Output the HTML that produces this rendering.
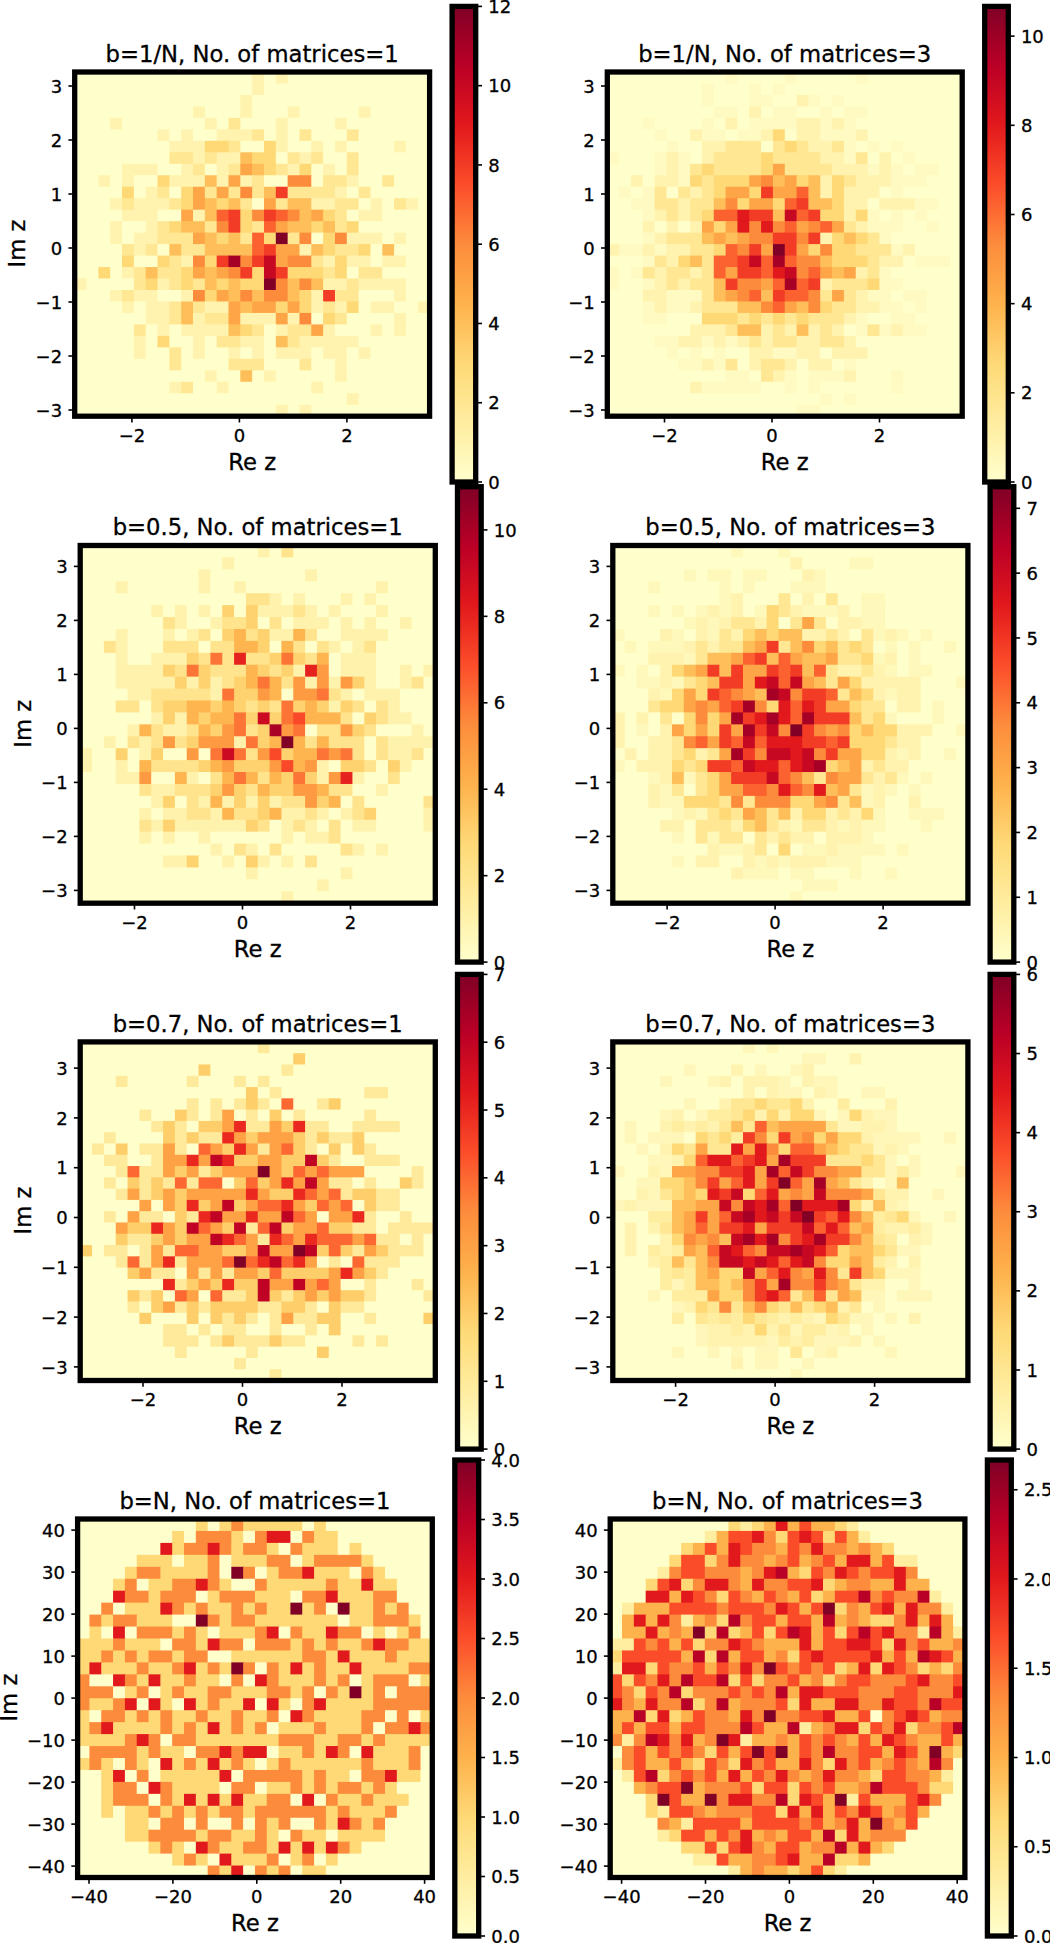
<!DOCTYPE html>
<html><head><meta charset="utf-8"><title>Eigenvalue density heatmaps</title>
<style>html,body{margin:0;padding:0;background:#fff;overflow:hidden}svg{display:block}text{fill:#000;stroke:#000;stroke-width:.3px}</style></head>
<body>
<svg width="1050" height="1943" viewBox="0 0 1050 1943">
<defs><linearGradient id="g" x1="0" y1="1" x2="0" y2="0">
<stop offset="0.0000" stop-color="#ffffcc"/>
<stop offset="0.1250" stop-color="#ffeda0"/>
<stop offset="0.2500" stop-color="#fed976"/>
<stop offset="0.3750" stop-color="#feb24c"/>
<stop offset="0.5000" stop-color="#fd8c3c"/>
<stop offset="0.6250" stop-color="#fc4d2a"/>
<stop offset="0.7500" stop-color="#e2191c"/>
<stop offset="0.8750" stop-color="#bb0026"/>
<stop offset="1.0000" stop-color="#800026"/>
</linearGradient></defs>
<rect width="1050" height="1943" fill="#fff"/>
<g font-family="'DejaVu Sans','Liberation Sans',sans-serif">
<g>
<rect x="74.70" y="72.00" width="354.90" height="344.20" fill="#ffffcc"/>
<rect x="74.70" y="72.00" width="178.45" height="12.47" fill="#ffffcc"/>
<rect x="252.15" y="72.00" width="12.83" height="12.47" fill="#fff3af"/>
<rect x="263.98" y="72.00" width="12.83" height="12.47" fill="#ffffcc"/>
<rect x="275.81" y="72.00" width="12.83" height="12.47" fill="#fff3af"/>
<rect x="287.64" y="72.00" width="141.96" height="12.47" fill="#ffffcc"/>
<rect x="74.70" y="83.47" width="178.45" height="12.47" fill="#ffffcc"/>
<rect x="252.15" y="83.47" width="12.83" height="12.47" fill="#fff3af"/>
<rect x="263.98" y="83.47" width="165.62" height="12.47" fill="#ffffcc"/>
<rect x="74.70" y="94.95" width="166.62" height="12.47" fill="#ffffcc"/>
<rect x="240.32" y="94.95" width="12.83" height="12.47" fill="#fff3af"/>
<rect x="252.15" y="94.95" width="177.45" height="12.47" fill="#ffffcc"/>
<rect x="74.70" y="106.42" width="119.30" height="12.47" fill="#ffffcc"/>
<rect x="193.00" y="106.42" width="12.83" height="12.47" fill="#fff3af"/>
<rect x="204.83" y="106.42" width="36.49" height="12.47" fill="#ffffcc"/>
<rect x="240.32" y="106.42" width="12.83" height="12.47" fill="#fff3af"/>
<rect x="252.15" y="106.42" width="36.49" height="12.47" fill="#ffffcc"/>
<rect x="287.64" y="106.42" width="12.83" height="12.47" fill="#fff3af"/>
<rect x="299.47" y="106.42" width="60.15" height="12.47" fill="#ffffcc"/>
<rect x="358.62" y="106.42" width="12.83" height="12.47" fill="#fff3af"/>
<rect x="370.45" y="106.42" width="59.15" height="12.47" fill="#ffffcc"/>
<rect x="74.70" y="117.89" width="36.49" height="12.47" fill="#ffffcc"/>
<rect x="110.19" y="117.89" width="12.83" height="12.47" fill="#fff3af"/>
<rect x="122.02" y="117.89" width="83.81" height="12.47" fill="#ffffcc"/>
<rect x="204.83" y="117.89" width="12.83" height="12.47" fill="#fff3af"/>
<rect x="216.66" y="117.89" width="12.83" height="12.47" fill="#ffffcc"/>
<rect x="228.49" y="117.89" width="12.83" height="12.47" fill="#ffe793"/>
<rect x="240.32" y="117.89" width="36.49" height="12.47" fill="#ffffcc"/>
<rect x="275.81" y="117.89" width="12.83" height="12.47" fill="#fff3af"/>
<rect x="287.64" y="117.89" width="48.32" height="12.47" fill="#ffffcc"/>
<rect x="334.96" y="117.89" width="12.83" height="12.47" fill="#fff3af"/>
<rect x="346.79" y="117.89" width="82.81" height="12.47" fill="#ffffcc"/>
<rect x="74.70" y="129.37" width="83.81" height="12.47" fill="#ffffcc"/>
<rect x="157.51" y="129.37" width="12.83" height="12.47" fill="#fff3af"/>
<rect x="169.34" y="129.37" width="12.83" height="12.47" fill="#ffffcc"/>
<rect x="181.17" y="129.37" width="12.83" height="12.47" fill="#fff3af"/>
<rect x="193.00" y="129.37" width="24.66" height="12.47" fill="#ffffcc"/>
<rect x="216.66" y="129.37" width="36.49" height="12.47" fill="#fff3af"/>
<rect x="252.15" y="129.37" width="12.83" height="12.47" fill="#ffe793"/>
<rect x="263.98" y="129.37" width="12.83" height="12.47" fill="#ffffcc"/>
<rect x="275.81" y="129.37" width="12.83" height="12.47" fill="#fff3af"/>
<rect x="287.64" y="129.37" width="12.83" height="12.47" fill="#ffffcc"/>
<rect x="299.47" y="129.37" width="12.83" height="12.47" fill="#ffe793"/>
<rect x="311.30" y="129.37" width="36.49" height="12.47" fill="#ffffcc"/>
<rect x="346.79" y="129.37" width="12.83" height="12.47" fill="#ffe793"/>
<rect x="358.62" y="129.37" width="70.98" height="12.47" fill="#ffffcc"/>
<rect x="74.70" y="140.84" width="95.64" height="12.47" fill="#ffffcc"/>
<rect x="169.34" y="140.84" width="36.49" height="12.47" fill="#fff3af"/>
<rect x="204.83" y="140.84" width="24.66" height="12.47" fill="#fed976"/>
<rect x="228.49" y="140.84" width="12.83" height="12.47" fill="#ffe793"/>
<rect x="240.32" y="140.84" width="24.66" height="12.47" fill="#ffffcc"/>
<rect x="263.98" y="140.84" width="12.83" height="12.47" fill="#fed976"/>
<rect x="275.81" y="140.84" width="12.83" height="12.47" fill="#fff3af"/>
<rect x="287.64" y="140.84" width="24.66" height="12.47" fill="#ffffcc"/>
<rect x="311.30" y="140.84" width="12.83" height="12.47" fill="#fff3af"/>
<rect x="323.13" y="140.84" width="12.83" height="12.47" fill="#ffffcc"/>
<rect x="334.96" y="140.84" width="12.83" height="12.47" fill="#fff3af"/>
<rect x="346.79" y="140.84" width="48.32" height="12.47" fill="#ffffcc"/>
<rect x="394.11" y="140.84" width="12.83" height="12.47" fill="#fff3af"/>
<rect x="405.94" y="140.84" width="23.66" height="12.47" fill="#ffffcc"/>
<rect x="74.70" y="152.31" width="95.64" height="12.47" fill="#ffffcc"/>
<rect x="169.34" y="152.31" width="24.66" height="12.47" fill="#ffe793"/>
<rect x="193.00" y="152.31" width="12.83" height="12.47" fill="#fff3af"/>
<rect x="204.83" y="152.31" width="12.83" height="12.47" fill="#ffe793"/>
<rect x="216.66" y="152.31" width="24.66" height="12.47" fill="#fff3af"/>
<rect x="240.32" y="152.31" width="12.83" height="12.47" fill="#febf5a"/>
<rect x="252.15" y="152.31" width="24.66" height="12.47" fill="#fed976"/>
<rect x="275.81" y="152.31" width="12.83" height="12.47" fill="#ffffcc"/>
<rect x="287.64" y="152.31" width="12.83" height="12.47" fill="#ffe793"/>
<rect x="299.47" y="152.31" width="12.83" height="12.47" fill="#fff3af"/>
<rect x="311.30" y="152.31" width="12.83" height="12.47" fill="#ffe793"/>
<rect x="323.13" y="152.31" width="24.66" height="12.47" fill="#ffffcc"/>
<rect x="346.79" y="152.31" width="12.83" height="12.47" fill="#ffe793"/>
<rect x="358.62" y="152.31" width="70.98" height="12.47" fill="#ffffcc"/>
<rect x="74.70" y="163.79" width="48.32" height="12.47" fill="#ffffcc"/>
<rect x="122.02" y="163.79" width="36.49" height="12.47" fill="#fff3af"/>
<rect x="157.51" y="163.79" width="24.66" height="12.47" fill="#ffffcc"/>
<rect x="181.17" y="163.79" width="12.83" height="12.47" fill="#fff3af"/>
<rect x="193.00" y="163.79" width="12.83" height="12.47" fill="#ffe793"/>
<rect x="204.83" y="163.79" width="12.83" height="12.47" fill="#ffffcc"/>
<rect x="216.66" y="163.79" width="12.83" height="12.47" fill="#fff3af"/>
<rect x="228.49" y="163.79" width="12.83" height="12.47" fill="#ffe793"/>
<rect x="240.32" y="163.79" width="12.83" height="12.47" fill="#fea647"/>
<rect x="252.15" y="163.79" width="12.83" height="12.47" fill="#febf5a"/>
<rect x="263.98" y="163.79" width="12.83" height="12.47" fill="#fed976"/>
<rect x="275.81" y="163.79" width="12.83" height="12.47" fill="#ffe793"/>
<rect x="287.64" y="163.79" width="12.83" height="12.47" fill="#fff3af"/>
<rect x="299.47" y="163.79" width="12.83" height="12.47" fill="#fed976"/>
<rect x="311.30" y="163.79" width="12.83" height="12.47" fill="#ffffcc"/>
<rect x="323.13" y="163.79" width="12.83" height="12.47" fill="#fff3af"/>
<rect x="334.96" y="163.79" width="12.83" height="12.47" fill="#ffffcc"/>
<rect x="346.79" y="163.79" width="12.83" height="12.47" fill="#ffe793"/>
<rect x="358.62" y="163.79" width="70.98" height="12.47" fill="#ffffcc"/>
<rect x="74.70" y="175.26" width="24.66" height="12.47" fill="#ffffcc"/>
<rect x="98.36" y="175.26" width="12.83" height="12.47" fill="#fff3af"/>
<rect x="110.19" y="175.26" width="12.83" height="12.47" fill="#ffffcc"/>
<rect x="122.02" y="175.26" width="12.83" height="12.47" fill="#fff3af"/>
<rect x="133.85" y="175.26" width="24.66" height="12.47" fill="#ffffcc"/>
<rect x="157.51" y="175.26" width="12.83" height="12.47" fill="#fed976"/>
<rect x="169.34" y="175.26" width="36.49" height="12.47" fill="#fff3af"/>
<rect x="204.83" y="175.26" width="12.83" height="12.47" fill="#febf5a"/>
<rect x="216.66" y="175.26" width="12.83" height="12.47" fill="#fff3af"/>
<rect x="228.49" y="175.26" width="12.83" height="12.47" fill="#fea647"/>
<rect x="240.32" y="175.26" width="12.83" height="12.47" fill="#fff3af"/>
<rect x="252.15" y="175.26" width="12.83" height="12.47" fill="#ffe793"/>
<rect x="263.98" y="175.26" width="24.66" height="12.47" fill="#ffffcc"/>
<rect x="287.64" y="175.26" width="24.66" height="12.47" fill="#fd8b3c"/>
<rect x="311.30" y="175.26" width="12.83" height="12.47" fill="#ffffcc"/>
<rect x="323.13" y="175.26" width="24.66" height="12.47" fill="#ffe793"/>
<rect x="346.79" y="175.26" width="12.83" height="12.47" fill="#fff3af"/>
<rect x="358.62" y="175.26" width="24.66" height="12.47" fill="#ffffcc"/>
<rect x="382.28" y="175.26" width="12.83" height="12.47" fill="#ffe793"/>
<rect x="394.11" y="175.26" width="35.49" height="12.47" fill="#ffffcc"/>
<rect x="74.70" y="186.73" width="48.32" height="12.47" fill="#ffffcc"/>
<rect x="122.02" y="186.73" width="12.83" height="12.47" fill="#fed976"/>
<rect x="133.85" y="186.73" width="12.83" height="12.47" fill="#ffffcc"/>
<rect x="145.68" y="186.73" width="12.83" height="12.47" fill="#fff3af"/>
<rect x="157.51" y="186.73" width="12.83" height="12.47" fill="#ffe793"/>
<rect x="169.34" y="186.73" width="12.83" height="12.47" fill="#ffffcc"/>
<rect x="181.17" y="186.73" width="12.83" height="12.47" fill="#fed976"/>
<rect x="193.00" y="186.73" width="12.83" height="12.47" fill="#fea647"/>
<rect x="204.83" y="186.73" width="12.83" height="12.47" fill="#ffe793"/>
<rect x="216.66" y="186.73" width="12.83" height="12.47" fill="#fea647"/>
<rect x="228.49" y="186.73" width="12.83" height="12.47" fill="#ffe793"/>
<rect x="240.32" y="186.73" width="12.83" height="12.47" fill="#fd8b3c"/>
<rect x="252.15" y="186.73" width="12.83" height="12.47" fill="#ffe793"/>
<rect x="263.98" y="186.73" width="12.83" height="12.47" fill="#febf5a"/>
<rect x="275.81" y="186.73" width="12.83" height="12.47" fill="#f33c25"/>
<rect x="287.64" y="186.73" width="48.32" height="12.47" fill="#ffe793"/>
<rect x="334.96" y="186.73" width="12.83" height="12.47" fill="#fff3af"/>
<rect x="346.79" y="186.73" width="12.83" height="12.47" fill="#ffffcc"/>
<rect x="358.62" y="186.73" width="12.83" height="12.47" fill="#ffe793"/>
<rect x="370.45" y="186.73" width="59.15" height="12.47" fill="#ffffcc"/>
<rect x="74.70" y="198.21" width="36.49" height="12.47" fill="#ffffcc"/>
<rect x="110.19" y="198.21" width="12.83" height="12.47" fill="#fff3af"/>
<rect x="122.02" y="198.21" width="12.83" height="12.47" fill="#ffe793"/>
<rect x="133.85" y="198.21" width="36.49" height="12.47" fill="#fff3af"/>
<rect x="169.34" y="198.21" width="12.83" height="12.47" fill="#ffe793"/>
<rect x="181.17" y="198.21" width="12.83" height="12.47" fill="#fed976"/>
<rect x="193.00" y="198.21" width="12.83" height="12.47" fill="#fea647"/>
<rect x="204.83" y="198.21" width="12.83" height="12.47" fill="#febf5a"/>
<rect x="216.66" y="198.21" width="12.83" height="12.47" fill="#fed976"/>
<rect x="228.49" y="198.21" width="12.83" height="12.47" fill="#febf5a"/>
<rect x="240.32" y="198.21" width="12.83" height="12.47" fill="#ffe793"/>
<rect x="252.15" y="198.21" width="12.83" height="12.47" fill="#ffffcc"/>
<rect x="263.98" y="198.21" width="12.83" height="12.47" fill="#fea647"/>
<rect x="275.81" y="198.21" width="12.83" height="12.47" fill="#ffe793"/>
<rect x="287.64" y="198.21" width="24.66" height="12.47" fill="#febf5a"/>
<rect x="311.30" y="198.21" width="24.66" height="12.47" fill="#fff3af"/>
<rect x="334.96" y="198.21" width="24.66" height="12.47" fill="#ffe793"/>
<rect x="358.62" y="198.21" width="12.83" height="12.47" fill="#ffffcc"/>
<rect x="370.45" y="198.21" width="12.83" height="12.47" fill="#fff3af"/>
<rect x="382.28" y="198.21" width="12.83" height="12.47" fill="#ffffcc"/>
<rect x="394.11" y="198.21" width="12.83" height="12.47" fill="#ffe793"/>
<rect x="405.94" y="198.21" width="12.83" height="12.47" fill="#fff3af"/>
<rect x="417.77" y="198.21" width="11.83" height="12.47" fill="#ffffcc"/>
<rect x="74.70" y="209.68" width="48.32" height="12.47" fill="#ffffcc"/>
<rect x="122.02" y="209.68" width="36.49" height="12.47" fill="#fff3af"/>
<rect x="157.51" y="209.68" width="24.66" height="12.47" fill="#ffffcc"/>
<rect x="181.17" y="209.68" width="12.83" height="12.47" fill="#fea647"/>
<rect x="193.00" y="209.68" width="12.83" height="12.47" fill="#fff3af"/>
<rect x="204.83" y="209.68" width="12.83" height="12.47" fill="#febf5a"/>
<rect x="216.66" y="209.68" width="12.83" height="12.47" fill="#fc6230"/>
<rect x="228.49" y="209.68" width="12.83" height="12.47" fill="#f33c25"/>
<rect x="240.32" y="209.68" width="12.83" height="12.47" fill="#fed976"/>
<rect x="252.15" y="209.68" width="12.83" height="12.47" fill="#fd8b3c"/>
<rect x="263.98" y="209.68" width="12.83" height="12.47" fill="#f33c25"/>
<rect x="275.81" y="209.68" width="12.83" height="12.47" fill="#fc6230"/>
<rect x="287.64" y="209.68" width="12.83" height="12.47" fill="#fd8b3c"/>
<rect x="299.47" y="209.68" width="12.83" height="12.47" fill="#febf5a"/>
<rect x="311.30" y="209.68" width="12.83" height="12.47" fill="#fea647"/>
<rect x="323.13" y="209.68" width="12.83" height="12.47" fill="#fed976"/>
<rect x="334.96" y="209.68" width="12.83" height="12.47" fill="#ffe793"/>
<rect x="346.79" y="209.68" width="12.83" height="12.47" fill="#ffffcc"/>
<rect x="358.62" y="209.68" width="24.66" height="12.47" fill="#fff3af"/>
<rect x="382.28" y="209.68" width="47.32" height="12.47" fill="#ffffcc"/>
<rect x="74.70" y="221.15" width="36.49" height="12.47" fill="#ffffcc"/>
<rect x="110.19" y="221.15" width="12.83" height="12.47" fill="#fff3af"/>
<rect x="122.02" y="221.15" width="24.66" height="12.47" fill="#ffffcc"/>
<rect x="145.68" y="221.15" width="12.83" height="12.47" fill="#fff3af"/>
<rect x="157.51" y="221.15" width="12.83" height="12.47" fill="#ffe793"/>
<rect x="169.34" y="221.15" width="12.83" height="12.47" fill="#fed976"/>
<rect x="181.17" y="221.15" width="24.66" height="12.47" fill="#febf5a"/>
<rect x="204.83" y="221.15" width="12.83" height="12.47" fill="#ffe793"/>
<rect x="216.66" y="221.15" width="12.83" height="12.47" fill="#fd8b3c"/>
<rect x="228.49" y="221.15" width="12.83" height="12.47" fill="#f33c25"/>
<rect x="240.32" y="221.15" width="12.83" height="12.47" fill="#fed976"/>
<rect x="252.15" y="221.15" width="12.83" height="12.47" fill="#ffe793"/>
<rect x="263.98" y="221.15" width="12.83" height="12.47" fill="#fc6230"/>
<rect x="275.81" y="221.15" width="12.83" height="12.47" fill="#fea647"/>
<rect x="287.64" y="221.15" width="24.66" height="12.47" fill="#febf5a"/>
<rect x="311.30" y="221.15" width="12.83" height="12.47" fill="#fed976"/>
<rect x="323.13" y="221.15" width="12.83" height="12.47" fill="#febf5a"/>
<rect x="334.96" y="221.15" width="12.83" height="12.47" fill="#ffe793"/>
<rect x="346.79" y="221.15" width="12.83" height="12.47" fill="#fed976"/>
<rect x="358.62" y="221.15" width="70.98" height="12.47" fill="#ffffcc"/>
<rect x="74.70" y="232.63" width="36.49" height="12.47" fill="#ffffcc"/>
<rect x="110.19" y="232.63" width="12.83" height="12.47" fill="#fff3af"/>
<rect x="122.02" y="232.63" width="12.83" height="12.47" fill="#ffffcc"/>
<rect x="133.85" y="232.63" width="24.66" height="12.47" fill="#fff3af"/>
<rect x="157.51" y="232.63" width="36.49" height="12.47" fill="#ffe793"/>
<rect x="193.00" y="232.63" width="12.83" height="12.47" fill="#fea647"/>
<rect x="204.83" y="232.63" width="12.83" height="12.47" fill="#febf5a"/>
<rect x="216.66" y="232.63" width="12.83" height="12.47" fill="#fed976"/>
<rect x="228.49" y="232.63" width="12.83" height="12.47" fill="#febf5a"/>
<rect x="240.32" y="232.63" width="12.83" height="12.47" fill="#ffe793"/>
<rect x="252.15" y="232.63" width="12.83" height="12.47" fill="#fc6230"/>
<rect x="263.98" y="232.63" width="12.83" height="12.47" fill="#fed976"/>
<rect x="275.81" y="232.63" width="12.83" height="12.47" fill="#800026"/>
<rect x="287.64" y="232.63" width="12.83" height="12.47" fill="#ffe793"/>
<rect x="299.47" y="232.63" width="12.83" height="12.47" fill="#fd8b3c"/>
<rect x="311.30" y="232.63" width="12.83" height="12.47" fill="#ffffcc"/>
<rect x="323.13" y="232.63" width="12.83" height="12.47" fill="#fed976"/>
<rect x="334.96" y="232.63" width="12.83" height="12.47" fill="#fd8b3c"/>
<rect x="346.79" y="232.63" width="36.49" height="12.47" fill="#fff3af"/>
<rect x="382.28" y="232.63" width="12.83" height="12.47" fill="#ffffcc"/>
<rect x="394.11" y="232.63" width="12.83" height="12.47" fill="#fff3af"/>
<rect x="405.94" y="232.63" width="23.66" height="12.47" fill="#ffffcc"/>
<rect x="74.70" y="244.10" width="48.32" height="12.47" fill="#ffffcc"/>
<rect x="122.02" y="244.10" width="12.83" height="12.47" fill="#ffe793"/>
<rect x="133.85" y="244.10" width="12.83" height="12.47" fill="#fff3af"/>
<rect x="145.68" y="244.10" width="12.83" height="12.47" fill="#ffe793"/>
<rect x="157.51" y="244.10" width="12.83" height="12.47" fill="#ffffcc"/>
<rect x="169.34" y="244.10" width="12.83" height="12.47" fill="#febf5a"/>
<rect x="181.17" y="244.10" width="24.66" height="12.47" fill="#ffe793"/>
<rect x="204.83" y="244.10" width="48.32" height="12.47" fill="#febf5a"/>
<rect x="252.15" y="244.10" width="12.83" height="12.47" fill="#fc6230"/>
<rect x="263.98" y="244.10" width="12.83" height="12.47" fill="#f33c25"/>
<rect x="275.81" y="244.10" width="24.66" height="12.47" fill="#fea647"/>
<rect x="299.47" y="244.10" width="12.83" height="12.47" fill="#fff3af"/>
<rect x="311.30" y="244.10" width="12.83" height="12.47" fill="#febf5a"/>
<rect x="323.13" y="244.10" width="12.83" height="12.47" fill="#fed976"/>
<rect x="334.96" y="244.10" width="24.66" height="12.47" fill="#ffe793"/>
<rect x="358.62" y="244.10" width="12.83" height="12.47" fill="#fed976"/>
<rect x="370.45" y="244.10" width="12.83" height="12.47" fill="#ffffcc"/>
<rect x="382.28" y="244.10" width="12.83" height="12.47" fill="#febf5a"/>
<rect x="394.11" y="244.10" width="35.49" height="12.47" fill="#ffffcc"/>
<rect x="74.70" y="255.57" width="48.32" height="12.47" fill="#ffffcc"/>
<rect x="122.02" y="255.57" width="12.83" height="12.47" fill="#fed976"/>
<rect x="133.85" y="255.57" width="24.66" height="12.47" fill="#ffffcc"/>
<rect x="157.51" y="255.57" width="12.83" height="12.47" fill="#fed976"/>
<rect x="169.34" y="255.57" width="12.83" height="12.47" fill="#ffe793"/>
<rect x="181.17" y="255.57" width="12.83" height="12.47" fill="#fff3af"/>
<rect x="193.00" y="255.57" width="12.83" height="12.47" fill="#fd8b3c"/>
<rect x="204.83" y="255.57" width="12.83" height="12.47" fill="#fed976"/>
<rect x="216.66" y="255.57" width="12.83" height="12.47" fill="#f33c25"/>
<rect x="228.49" y="255.57" width="12.83" height="12.47" fill="#a70026"/>
<rect x="240.32" y="255.57" width="12.83" height="12.47" fill="#fd8b3c"/>
<rect x="252.15" y="255.57" width="12.83" height="12.47" fill="#f33c25"/>
<rect x="263.98" y="255.57" width="12.83" height="12.47" fill="#c70823"/>
<rect x="275.81" y="255.57" width="12.83" height="12.47" fill="#fea647"/>
<rect x="287.64" y="255.57" width="24.66" height="12.47" fill="#fd8b3c"/>
<rect x="311.30" y="255.57" width="12.83" height="12.47" fill="#ffe793"/>
<rect x="323.13" y="255.57" width="12.83" height="12.47" fill="#fff3af"/>
<rect x="334.96" y="255.57" width="12.83" height="12.47" fill="#fed976"/>
<rect x="346.79" y="255.57" width="24.66" height="12.47" fill="#fff3af"/>
<rect x="370.45" y="255.57" width="12.83" height="12.47" fill="#ffffcc"/>
<rect x="382.28" y="255.57" width="24.66" height="12.47" fill="#fff3af"/>
<rect x="405.94" y="255.57" width="23.66" height="12.47" fill="#ffffcc"/>
<rect x="74.70" y="267.05" width="24.66" height="12.47" fill="#ffffcc"/>
<rect x="98.36" y="267.05" width="12.83" height="12.47" fill="#fed976"/>
<rect x="110.19" y="267.05" width="12.83" height="12.47" fill="#ffffcc"/>
<rect x="122.02" y="267.05" width="12.83" height="12.47" fill="#fff3af"/>
<rect x="133.85" y="267.05" width="12.83" height="12.47" fill="#ffe793"/>
<rect x="145.68" y="267.05" width="12.83" height="12.47" fill="#febf5a"/>
<rect x="157.51" y="267.05" width="24.66" height="12.47" fill="#ffe793"/>
<rect x="181.17" y="267.05" width="12.83" height="12.47" fill="#fed976"/>
<rect x="193.00" y="267.05" width="12.83" height="12.47" fill="#fea647"/>
<rect x="204.83" y="267.05" width="12.83" height="12.47" fill="#febf5a"/>
<rect x="216.66" y="267.05" width="12.83" height="12.47" fill="#fea647"/>
<rect x="228.49" y="267.05" width="12.83" height="12.47" fill="#fd8b3c"/>
<rect x="240.32" y="267.05" width="12.83" height="12.47" fill="#f33c25"/>
<rect x="252.15" y="267.05" width="12.83" height="12.47" fill="#fed976"/>
<rect x="263.98" y="267.05" width="12.83" height="12.47" fill="#c70823"/>
<rect x="275.81" y="267.05" width="12.83" height="12.47" fill="#f33c25"/>
<rect x="287.64" y="267.05" width="36.49" height="12.47" fill="#fed976"/>
<rect x="323.13" y="267.05" width="12.83" height="12.47" fill="#ffe793"/>
<rect x="334.96" y="267.05" width="12.83" height="12.47" fill="#fed976"/>
<rect x="346.79" y="267.05" width="12.83" height="12.47" fill="#ffffcc"/>
<rect x="358.62" y="267.05" width="24.66" height="12.47" fill="#ffe793"/>
<rect x="382.28" y="267.05" width="47.32" height="12.47" fill="#ffffcc"/>
<rect x="74.70" y="278.52" width="12.83" height="12.47" fill="#fff3af"/>
<rect x="86.53" y="278.52" width="48.32" height="12.47" fill="#ffffcc"/>
<rect x="133.85" y="278.52" width="12.83" height="12.47" fill="#ffe793"/>
<rect x="145.68" y="278.52" width="12.83" height="12.47" fill="#fed976"/>
<rect x="157.51" y="278.52" width="12.83" height="12.47" fill="#fff3af"/>
<rect x="169.34" y="278.52" width="12.83" height="12.47" fill="#ffe793"/>
<rect x="181.17" y="278.52" width="12.83" height="12.47" fill="#fed976"/>
<rect x="193.00" y="278.52" width="12.83" height="12.47" fill="#ffe793"/>
<rect x="204.83" y="278.52" width="12.83" height="12.47" fill="#febf5a"/>
<rect x="216.66" y="278.52" width="12.83" height="12.47" fill="#fed976"/>
<rect x="228.49" y="278.52" width="12.83" height="12.47" fill="#febf5a"/>
<rect x="240.32" y="278.52" width="24.66" height="12.47" fill="#fed976"/>
<rect x="263.98" y="278.52" width="12.83" height="12.47" fill="#800026"/>
<rect x="275.81" y="278.52" width="12.83" height="12.47" fill="#fd8b3c"/>
<rect x="287.64" y="278.52" width="12.83" height="12.47" fill="#febf5a"/>
<rect x="299.47" y="278.52" width="12.83" height="12.47" fill="#fd8b3c"/>
<rect x="311.30" y="278.52" width="12.83" height="12.47" fill="#febf5a"/>
<rect x="323.13" y="278.52" width="24.66" height="12.47" fill="#fff3af"/>
<rect x="346.79" y="278.52" width="12.83" height="12.47" fill="#ffe793"/>
<rect x="358.62" y="278.52" width="48.32" height="12.47" fill="#fff3af"/>
<rect x="405.94" y="278.52" width="23.66" height="12.47" fill="#ffffcc"/>
<rect x="74.70" y="289.99" width="36.49" height="12.47" fill="#ffffcc"/>
<rect x="110.19" y="289.99" width="12.83" height="12.47" fill="#fff3af"/>
<rect x="122.02" y="289.99" width="12.83" height="12.47" fill="#ffe793"/>
<rect x="133.85" y="289.99" width="24.66" height="12.47" fill="#fff3af"/>
<rect x="157.51" y="289.99" width="24.66" height="12.47" fill="#ffffcc"/>
<rect x="181.17" y="289.99" width="12.83" height="12.47" fill="#fff3af"/>
<rect x="193.00" y="289.99" width="12.83" height="12.47" fill="#fd8b3c"/>
<rect x="204.83" y="289.99" width="12.83" height="12.47" fill="#fed976"/>
<rect x="216.66" y="289.99" width="12.83" height="12.47" fill="#fea647"/>
<rect x="228.49" y="289.99" width="12.83" height="12.47" fill="#febf5a"/>
<rect x="240.32" y="289.99" width="12.83" height="12.47" fill="#fd8b3c"/>
<rect x="252.15" y="289.99" width="12.83" height="12.47" fill="#febf5a"/>
<rect x="263.98" y="289.99" width="24.66" height="12.47" fill="#fd8b3c"/>
<rect x="287.64" y="289.99" width="12.83" height="12.47" fill="#febf5a"/>
<rect x="299.47" y="289.99" width="12.83" height="12.47" fill="#fed976"/>
<rect x="311.30" y="289.99" width="12.83" height="12.47" fill="#fff3af"/>
<rect x="323.13" y="289.99" width="12.83" height="12.47" fill="#f33c25"/>
<rect x="334.96" y="289.99" width="24.66" height="12.47" fill="#ffe793"/>
<rect x="358.62" y="289.99" width="36.49" height="12.47" fill="#ffffcc"/>
<rect x="394.11" y="289.99" width="12.83" height="12.47" fill="#fff3af"/>
<rect x="405.94" y="289.99" width="23.66" height="12.47" fill="#ffffcc"/>
<rect x="74.70" y="301.47" width="48.32" height="12.47" fill="#ffffcc"/>
<rect x="122.02" y="301.47" width="12.83" height="12.47" fill="#fff3af"/>
<rect x="133.85" y="301.47" width="12.83" height="12.47" fill="#ffffcc"/>
<rect x="145.68" y="301.47" width="24.66" height="12.47" fill="#fff3af"/>
<rect x="169.34" y="301.47" width="12.83" height="12.47" fill="#ffe793"/>
<rect x="181.17" y="301.47" width="12.83" height="12.47" fill="#febf5a"/>
<rect x="193.00" y="301.47" width="12.83" height="12.47" fill="#ffe793"/>
<rect x="204.83" y="301.47" width="24.66" height="12.47" fill="#fff3af"/>
<rect x="228.49" y="301.47" width="12.83" height="12.47" fill="#fea647"/>
<rect x="240.32" y="301.47" width="12.83" height="12.47" fill="#febf5a"/>
<rect x="252.15" y="301.47" width="24.66" height="12.47" fill="#fea647"/>
<rect x="275.81" y="301.47" width="12.83" height="12.47" fill="#fed976"/>
<rect x="287.64" y="301.47" width="12.83" height="12.47" fill="#fea647"/>
<rect x="299.47" y="301.47" width="12.83" height="12.47" fill="#fed976"/>
<rect x="311.30" y="301.47" width="12.83" height="12.47" fill="#fff3af"/>
<rect x="323.13" y="301.47" width="12.83" height="12.47" fill="#ffe793"/>
<rect x="334.96" y="301.47" width="12.83" height="12.47" fill="#fff3af"/>
<rect x="346.79" y="301.47" width="12.83" height="12.47" fill="#fed976"/>
<rect x="358.62" y="301.47" width="12.83" height="12.47" fill="#ffffcc"/>
<rect x="370.45" y="301.47" width="24.66" height="12.47" fill="#fff3af"/>
<rect x="394.11" y="301.47" width="24.66" height="12.47" fill="#ffffcc"/>
<rect x="417.77" y="301.47" width="11.83" height="12.47" fill="#fff3af"/>
<rect x="74.70" y="312.94" width="71.98" height="12.47" fill="#ffffcc"/>
<rect x="145.68" y="312.94" width="24.66" height="12.47" fill="#fff3af"/>
<rect x="169.34" y="312.94" width="12.83" height="12.47" fill="#ffe793"/>
<rect x="181.17" y="312.94" width="12.83" height="12.47" fill="#febf5a"/>
<rect x="193.00" y="312.94" width="12.83" height="12.47" fill="#fff3af"/>
<rect x="204.83" y="312.94" width="24.66" height="12.47" fill="#ffe793"/>
<rect x="228.49" y="312.94" width="12.83" height="12.47" fill="#fea647"/>
<rect x="240.32" y="312.94" width="36.49" height="12.47" fill="#fff3af"/>
<rect x="275.81" y="312.94" width="12.83" height="12.47" fill="#fea647"/>
<rect x="287.64" y="312.94" width="12.83" height="12.47" fill="#fff3af"/>
<rect x="299.47" y="312.94" width="12.83" height="12.47" fill="#fd8b3c"/>
<rect x="311.30" y="312.94" width="12.83" height="12.47" fill="#ffffcc"/>
<rect x="323.13" y="312.94" width="12.83" height="12.47" fill="#fed976"/>
<rect x="334.96" y="312.94" width="12.83" height="12.47" fill="#ffe793"/>
<rect x="346.79" y="312.94" width="48.32" height="12.47" fill="#ffffcc"/>
<rect x="394.11" y="312.94" width="12.83" height="12.47" fill="#fff3af"/>
<rect x="405.94" y="312.94" width="23.66" height="12.47" fill="#ffffcc"/>
<rect x="74.70" y="324.41" width="60.15" height="12.47" fill="#ffffcc"/>
<rect x="133.85" y="324.41" width="12.83" height="12.47" fill="#ffe793"/>
<rect x="145.68" y="324.41" width="12.83" height="12.47" fill="#ffffcc"/>
<rect x="157.51" y="324.41" width="12.83" height="12.47" fill="#fff3af"/>
<rect x="169.34" y="324.41" width="12.83" height="12.47" fill="#ffffcc"/>
<rect x="181.17" y="324.41" width="48.32" height="12.47" fill="#fff3af"/>
<rect x="228.49" y="324.41" width="12.83" height="12.47" fill="#febf5a"/>
<rect x="240.32" y="324.41" width="12.83" height="12.47" fill="#fed976"/>
<rect x="252.15" y="324.41" width="12.83" height="12.47" fill="#ffe793"/>
<rect x="263.98" y="324.41" width="12.83" height="12.47" fill="#ffffcc"/>
<rect x="275.81" y="324.41" width="12.83" height="12.47" fill="#fff3af"/>
<rect x="287.64" y="324.41" width="24.66" height="12.47" fill="#ffe793"/>
<rect x="311.30" y="324.41" width="12.83" height="12.47" fill="#fea647"/>
<rect x="323.13" y="324.41" width="12.83" height="12.47" fill="#fff3af"/>
<rect x="334.96" y="324.41" width="36.49" height="12.47" fill="#ffffcc"/>
<rect x="370.45" y="324.41" width="12.83" height="12.47" fill="#fff3af"/>
<rect x="382.28" y="324.41" width="12.83" height="12.47" fill="#ffffcc"/>
<rect x="394.11" y="324.41" width="12.83" height="12.47" fill="#fff3af"/>
<rect x="405.94" y="324.41" width="23.66" height="12.47" fill="#ffffcc"/>
<rect x="74.70" y="335.89" width="60.15" height="12.47" fill="#ffffcc"/>
<rect x="133.85" y="335.89" width="12.83" height="12.47" fill="#fff3af"/>
<rect x="145.68" y="335.89" width="12.83" height="12.47" fill="#ffffcc"/>
<rect x="157.51" y="335.89" width="12.83" height="12.47" fill="#fed976"/>
<rect x="169.34" y="335.89" width="24.66" height="12.47" fill="#ffffcc"/>
<rect x="193.00" y="335.89" width="12.83" height="12.47" fill="#fff3af"/>
<rect x="204.83" y="335.89" width="12.83" height="12.47" fill="#ffffcc"/>
<rect x="216.66" y="335.89" width="24.66" height="12.47" fill="#ffe793"/>
<rect x="240.32" y="335.89" width="24.66" height="12.47" fill="#fff3af"/>
<rect x="263.98" y="335.89" width="12.83" height="12.47" fill="#ffffcc"/>
<rect x="275.81" y="335.89" width="12.83" height="12.47" fill="#febf5a"/>
<rect x="287.64" y="335.89" width="12.83" height="12.47" fill="#ffe793"/>
<rect x="299.47" y="335.89" width="60.15" height="12.47" fill="#fff3af"/>
<rect x="358.62" y="335.89" width="70.98" height="12.47" fill="#ffffcc"/>
<rect x="74.70" y="347.36" width="60.15" height="12.47" fill="#ffffcc"/>
<rect x="133.85" y="347.36" width="12.83" height="12.47" fill="#fff3af"/>
<rect x="145.68" y="347.36" width="24.66" height="12.47" fill="#ffffcc"/>
<rect x="169.34" y="347.36" width="12.83" height="12.47" fill="#ffe793"/>
<rect x="181.17" y="347.36" width="12.83" height="12.47" fill="#ffffcc"/>
<rect x="193.00" y="347.36" width="12.83" height="12.47" fill="#fff3af"/>
<rect x="204.83" y="347.36" width="24.66" height="12.47" fill="#ffffcc"/>
<rect x="228.49" y="347.36" width="12.83" height="12.47" fill="#fff3af"/>
<rect x="240.32" y="347.36" width="12.83" height="12.47" fill="#ffffcc"/>
<rect x="252.15" y="347.36" width="12.83" height="12.47" fill="#fff3af"/>
<rect x="263.98" y="347.36" width="12.83" height="12.47" fill="#ffffcc"/>
<rect x="275.81" y="347.36" width="36.49" height="12.47" fill="#fff3af"/>
<rect x="311.30" y="347.36" width="12.83" height="12.47" fill="#ffffcc"/>
<rect x="323.13" y="347.36" width="24.66" height="12.47" fill="#fff3af"/>
<rect x="346.79" y="347.36" width="12.83" height="12.47" fill="#ffffcc"/>
<rect x="358.62" y="347.36" width="12.83" height="12.47" fill="#fff3af"/>
<rect x="370.45" y="347.36" width="59.15" height="12.47" fill="#ffffcc"/>
<rect x="74.70" y="358.83" width="95.64" height="12.47" fill="#ffffcc"/>
<rect x="169.34" y="358.83" width="12.83" height="12.47" fill="#ffe793"/>
<rect x="181.17" y="358.83" width="48.32" height="12.47" fill="#ffffcc"/>
<rect x="228.49" y="358.83" width="36.49" height="12.47" fill="#ffe793"/>
<rect x="263.98" y="358.83" width="36.49" height="12.47" fill="#ffffcc"/>
<rect x="299.47" y="358.83" width="12.83" height="12.47" fill="#ffe793"/>
<rect x="311.30" y="358.83" width="24.66" height="12.47" fill="#ffffcc"/>
<rect x="334.96" y="358.83" width="12.83" height="12.47" fill="#fff3af"/>
<rect x="346.79" y="358.83" width="82.81" height="12.47" fill="#ffffcc"/>
<rect x="74.70" y="370.31" width="131.13" height="12.47" fill="#ffffcc"/>
<rect x="204.83" y="370.31" width="12.83" height="12.47" fill="#fff3af"/>
<rect x="216.66" y="370.31" width="24.66" height="12.47" fill="#ffffcc"/>
<rect x="240.32" y="370.31" width="12.83" height="12.47" fill="#febf5a"/>
<rect x="252.15" y="370.31" width="12.83" height="12.47" fill="#ffffcc"/>
<rect x="263.98" y="370.31" width="12.83" height="12.47" fill="#fff3af"/>
<rect x="275.81" y="370.31" width="60.15" height="12.47" fill="#ffffcc"/>
<rect x="334.96" y="370.31" width="12.83" height="12.47" fill="#fff3af"/>
<rect x="346.79" y="370.31" width="82.81" height="12.47" fill="#ffffcc"/>
<rect x="74.70" y="381.78" width="95.64" height="12.47" fill="#ffffcc"/>
<rect x="169.34" y="381.78" width="12.83" height="12.47" fill="#fff3af"/>
<rect x="181.17" y="381.78" width="12.83" height="12.47" fill="#ffe793"/>
<rect x="193.00" y="381.78" width="24.66" height="12.47" fill="#ffffcc"/>
<rect x="216.66" y="381.78" width="12.83" height="12.47" fill="#fff3af"/>
<rect x="228.49" y="381.78" width="83.81" height="12.47" fill="#ffffcc"/>
<rect x="311.30" y="381.78" width="12.83" height="12.47" fill="#fff3af"/>
<rect x="323.13" y="381.78" width="106.47" height="12.47" fill="#ffffcc"/>
<rect x="74.70" y="393.25" width="273.09" height="12.47" fill="#ffffcc"/>
<rect x="346.79" y="393.25" width="12.83" height="12.47" fill="#fff3af"/>
<rect x="358.62" y="393.25" width="70.98" height="12.47" fill="#ffffcc"/>
<rect x="74.70" y="404.73" width="202.11" height="11.47" fill="#ffffcc"/>
<rect x="275.81" y="404.73" width="12.83" height="11.47" fill="#fff3af"/>
<rect x="287.64" y="404.73" width="12.83" height="11.47" fill="#ffffcc"/>
<rect x="299.47" y="404.73" width="12.83" height="11.47" fill="#fff3af"/>
<rect x="311.30" y="404.73" width="118.30" height="11.47" fill="#ffffcc"/>
<rect x="74.70" y="72.00" width="354.90" height="344.20" fill="none" stroke="#000" stroke-width="5.3"/>
<line x1="131.90" y1="416.20" x2="131.90" y2="422.50" stroke="#000" stroke-width="1.6"/>
<text x="131.90" y="441.90" font-size="18" text-anchor="middle" >−2</text>
<line x1="239.40" y1="416.20" x2="239.40" y2="422.50" stroke="#000" stroke-width="1.6"/>
<text x="239.40" y="441.90" font-size="18" text-anchor="middle" >0</text>
<line x1="346.90" y1="416.20" x2="346.90" y2="422.50" stroke="#000" stroke-width="1.6"/>
<text x="346.90" y="441.90" font-size="18" text-anchor="middle" >2</text>
<line x1="74.70" y1="86.00" x2="68.40" y2="86.00" stroke="#000" stroke-width="1.6"/>
<text x="62.10" y="92.60" font-size="18" text-anchor="end" >3</text>
<line x1="74.70" y1="140.00" x2="68.40" y2="140.00" stroke="#000" stroke-width="1.6"/>
<text x="62.10" y="146.60" font-size="18" text-anchor="end" >2</text>
<line x1="74.70" y1="194.00" x2="68.40" y2="194.00" stroke="#000" stroke-width="1.6"/>
<text x="62.10" y="200.60" font-size="18" text-anchor="end" >1</text>
<line x1="74.70" y1="248.00" x2="68.40" y2="248.00" stroke="#000" stroke-width="1.6"/>
<text x="62.10" y="254.60" font-size="18" text-anchor="end" >0</text>
<line x1="74.70" y1="302.00" x2="68.40" y2="302.00" stroke="#000" stroke-width="1.6"/>
<text x="62.10" y="308.60" font-size="18" text-anchor="end" >−1</text>
<line x1="74.70" y1="356.00" x2="68.40" y2="356.00" stroke="#000" stroke-width="1.6"/>
<text x="62.10" y="362.60" font-size="18" text-anchor="end" >−2</text>
<line x1="74.70" y1="410.00" x2="68.40" y2="410.00" stroke="#000" stroke-width="1.6"/>
<text x="62.10" y="416.60" font-size="18" text-anchor="end" >−3</text>
<text x="252.15" y="61.60" font-size="22.7" text-anchor="middle" >b=1/N, No. of matrices=1</text>
<text x="252.15" y="470.00" font-size="22.7" text-anchor="middle" >Re z</text>
<text transform="translate(25.10,243.50) rotate(-90)" font-size="22.7" text-anchor="middle" >Im z</text>
<rect x="452.10" y="6.40" width="23.60" height="475.60" fill="url(#g)" stroke="#000" stroke-width="5.3"/>
<line x1="475.70" y1="482.00" x2="482.00" y2="482.00" stroke="#000" stroke-width="1.6"/>
<text x="488.30" y="488.60" font-size="18" >0</text>
<line x1="475.70" y1="402.73" x2="482.00" y2="402.73" stroke="#000" stroke-width="1.6"/>
<text x="488.30" y="409.33" font-size="18" >2</text>
<line x1="475.70" y1="323.47" x2="482.00" y2="323.47" stroke="#000" stroke-width="1.6"/>
<text x="488.30" y="330.07" font-size="18" >4</text>
<line x1="475.70" y1="244.20" x2="482.00" y2="244.20" stroke="#000" stroke-width="1.6"/>
<text x="488.30" y="250.80" font-size="18" >6</text>
<line x1="475.70" y1="164.93" x2="482.00" y2="164.93" stroke="#000" stroke-width="1.6"/>
<text x="488.30" y="171.53" font-size="18" >8</text>
<line x1="475.70" y1="85.67" x2="482.00" y2="85.67" stroke="#000" stroke-width="1.6"/>
<text x="488.30" y="92.27" font-size="18" >10</text>
<line x1="475.70" y1="6.40" x2="482.00" y2="6.40" stroke="#000" stroke-width="1.6"/>
<text x="488.30" y="13.00" font-size="18" >12</text>
</g>
<g>
<rect x="607.30" y="72.00" width="354.90" height="344.20" fill="#ffffcc"/>
<rect x="607.30" y="72.00" width="119.30" height="12.47" fill="#ffffcc"/>
<rect x="725.60" y="72.00" width="12.83" height="12.47" fill="#fffac1"/>
<rect x="737.43" y="72.00" width="48.32" height="12.47" fill="#ffffcc"/>
<rect x="784.75" y="72.00" width="12.83" height="12.47" fill="#fffac1"/>
<rect x="796.58" y="72.00" width="60.15" height="12.47" fill="#ffffcc"/>
<rect x="855.73" y="72.00" width="12.83" height="12.47" fill="#fffac1"/>
<rect x="867.56" y="72.00" width="94.64" height="12.47" fill="#ffffcc"/>
<rect x="607.30" y="83.47" width="95.64" height="12.47" fill="#ffffcc"/>
<rect x="701.94" y="83.47" width="12.83" height="12.47" fill="#fffac1"/>
<rect x="713.77" y="83.47" width="36.49" height="12.47" fill="#ffffcc"/>
<rect x="749.26" y="83.47" width="12.83" height="12.47" fill="#fffac1"/>
<rect x="761.09" y="83.47" width="12.83" height="12.47" fill="#ffffcc"/>
<rect x="772.92" y="83.47" width="12.83" height="12.47" fill="#fffac1"/>
<rect x="784.75" y="83.47" width="177.45" height="12.47" fill="#ffffcc"/>
<rect x="607.30" y="94.95" width="95.64" height="12.47" fill="#ffffcc"/>
<rect x="701.94" y="94.95" width="12.83" height="12.47" fill="#fffac1"/>
<rect x="713.77" y="94.95" width="36.49" height="12.47" fill="#ffffcc"/>
<rect x="749.26" y="94.95" width="24.66" height="12.47" fill="#fffac1"/>
<rect x="772.92" y="94.95" width="24.66" height="12.47" fill="#ffffcc"/>
<rect x="796.58" y="94.95" width="12.83" height="12.47" fill="#fff3af"/>
<rect x="808.41" y="94.95" width="12.83" height="12.47" fill="#fffac1"/>
<rect x="820.24" y="94.95" width="12.83" height="12.47" fill="#ffffcc"/>
<rect x="832.07" y="94.95" width="12.83" height="12.47" fill="#fffac1"/>
<rect x="843.90" y="94.95" width="118.30" height="12.47" fill="#ffffcc"/>
<rect x="607.30" y="106.42" width="107.47" height="12.47" fill="#ffffcc"/>
<rect x="713.77" y="106.42" width="24.66" height="12.47" fill="#fffac1"/>
<rect x="737.43" y="106.42" width="12.83" height="12.47" fill="#ffffcc"/>
<rect x="749.26" y="106.42" width="12.83" height="12.47" fill="#fff3af"/>
<rect x="761.09" y="106.42" width="12.83" height="12.47" fill="#ffffcc"/>
<rect x="772.92" y="106.42" width="24.66" height="12.47" fill="#fffac1"/>
<rect x="796.58" y="106.42" width="24.66" height="12.47" fill="#ffffcc"/>
<rect x="820.24" y="106.42" width="12.83" height="12.47" fill="#fffac1"/>
<rect x="832.07" y="106.42" width="12.83" height="12.47" fill="#ffffcc"/>
<rect x="843.90" y="106.42" width="24.66" height="12.47" fill="#fffac1"/>
<rect x="867.56" y="106.42" width="94.64" height="12.47" fill="#ffffcc"/>
<rect x="607.30" y="117.89" width="36.49" height="12.47" fill="#ffffcc"/>
<rect x="642.79" y="117.89" width="12.83" height="12.47" fill="#fffac1"/>
<rect x="654.62" y="117.89" width="48.32" height="12.47" fill="#ffffcc"/>
<rect x="701.94" y="117.89" width="12.83" height="12.47" fill="#fffac1"/>
<rect x="713.77" y="117.89" width="12.83" height="12.47" fill="#ffffcc"/>
<rect x="725.60" y="117.89" width="12.83" height="12.47" fill="#fff3af"/>
<rect x="737.43" y="117.89" width="12.83" height="12.47" fill="#ffffcc"/>
<rect x="749.26" y="117.89" width="48.32" height="12.47" fill="#fffac1"/>
<rect x="796.58" y="117.89" width="24.66" height="12.47" fill="#fff3af"/>
<rect x="820.24" y="117.89" width="12.83" height="12.47" fill="#fffac1"/>
<rect x="832.07" y="117.89" width="12.83" height="12.47" fill="#fff3af"/>
<rect x="843.90" y="117.89" width="12.83" height="12.47" fill="#fffac1"/>
<rect x="855.73" y="117.89" width="106.47" height="12.47" fill="#ffffcc"/>
<rect x="607.30" y="129.37" width="48.32" height="12.47" fill="#ffffcc"/>
<rect x="654.62" y="129.37" width="12.83" height="12.47" fill="#fffac1"/>
<rect x="666.45" y="129.37" width="24.66" height="12.47" fill="#ffffcc"/>
<rect x="690.11" y="129.37" width="12.83" height="12.47" fill="#fff3af"/>
<rect x="701.94" y="129.37" width="24.66" height="12.47" fill="#fffac1"/>
<rect x="725.60" y="129.37" width="12.83" height="12.47" fill="#ffffcc"/>
<rect x="737.43" y="129.37" width="24.66" height="12.47" fill="#fffac1"/>
<rect x="761.09" y="129.37" width="12.83" height="12.47" fill="#fff3af"/>
<rect x="772.92" y="129.37" width="12.83" height="12.47" fill="#fed976"/>
<rect x="784.75" y="129.37" width="12.83" height="12.47" fill="#ffffcc"/>
<rect x="796.58" y="129.37" width="24.66" height="12.47" fill="#fff3af"/>
<rect x="820.24" y="129.37" width="36.49" height="12.47" fill="#fffac1"/>
<rect x="855.73" y="129.37" width="12.83" height="12.47" fill="#fff3af"/>
<rect x="867.56" y="129.37" width="94.64" height="12.47" fill="#ffffcc"/>
<rect x="607.30" y="140.84" width="60.15" height="12.47" fill="#ffffcc"/>
<rect x="666.45" y="140.84" width="12.83" height="12.47" fill="#fffac1"/>
<rect x="678.28" y="140.84" width="24.66" height="12.47" fill="#ffffcc"/>
<rect x="701.94" y="140.84" width="24.66" height="12.47" fill="#fff3af"/>
<rect x="725.60" y="140.84" width="36.49" height="12.47" fill="#ffe793"/>
<rect x="761.09" y="140.84" width="12.83" height="12.47" fill="#ffffcc"/>
<rect x="772.92" y="140.84" width="12.83" height="12.47" fill="#ffe793"/>
<rect x="784.75" y="140.84" width="12.83" height="12.47" fill="#fed976"/>
<rect x="796.58" y="140.84" width="12.83" height="12.47" fill="#ffe793"/>
<rect x="808.41" y="140.84" width="24.66" height="12.47" fill="#fff3af"/>
<rect x="832.07" y="140.84" width="12.83" height="12.47" fill="#ffe793"/>
<rect x="843.90" y="140.84" width="12.83" height="12.47" fill="#fffac1"/>
<rect x="855.73" y="140.84" width="12.83" height="12.47" fill="#ffffcc"/>
<rect x="867.56" y="140.84" width="12.83" height="12.47" fill="#fffac1"/>
<rect x="879.39" y="140.84" width="12.83" height="12.47" fill="#ffffcc"/>
<rect x="891.22" y="140.84" width="12.83" height="12.47" fill="#fffac1"/>
<rect x="903.05" y="140.84" width="59.15" height="12.47" fill="#ffffcc"/>
<rect x="607.30" y="152.31" width="12.83" height="12.47" fill="#fffac1"/>
<rect x="619.13" y="152.31" width="36.49" height="12.47" fill="#ffffcc"/>
<rect x="654.62" y="152.31" width="12.83" height="12.47" fill="#fffac1"/>
<rect x="666.45" y="152.31" width="12.83" height="12.47" fill="#fff3af"/>
<rect x="678.28" y="152.31" width="12.83" height="12.47" fill="#fffac1"/>
<rect x="690.11" y="152.31" width="12.83" height="12.47" fill="#ffffcc"/>
<rect x="701.94" y="152.31" width="12.83" height="12.47" fill="#fff3af"/>
<rect x="713.77" y="152.31" width="48.32" height="12.47" fill="#ffe793"/>
<rect x="761.09" y="152.31" width="12.83" height="12.47" fill="#fed976"/>
<rect x="772.92" y="152.31" width="48.32" height="12.47" fill="#ffe793"/>
<rect x="820.24" y="152.31" width="24.66" height="12.47" fill="#fff3af"/>
<rect x="843.90" y="152.31" width="12.83" height="12.47" fill="#fffac1"/>
<rect x="855.73" y="152.31" width="12.83" height="12.47" fill="#ffe793"/>
<rect x="867.56" y="152.31" width="12.83" height="12.47" fill="#ffffcc"/>
<rect x="879.39" y="152.31" width="12.83" height="12.47" fill="#fff3af"/>
<rect x="891.22" y="152.31" width="12.83" height="12.47" fill="#ffffcc"/>
<rect x="903.05" y="152.31" width="12.83" height="12.47" fill="#fffac1"/>
<rect x="914.88" y="152.31" width="47.32" height="12.47" fill="#ffffcc"/>
<rect x="607.30" y="163.79" width="48.32" height="12.47" fill="#ffffcc"/>
<rect x="654.62" y="163.79" width="12.83" height="12.47" fill="#fffac1"/>
<rect x="666.45" y="163.79" width="12.83" height="12.47" fill="#fff3af"/>
<rect x="678.28" y="163.79" width="12.83" height="12.47" fill="#fffac1"/>
<rect x="690.11" y="163.79" width="12.83" height="12.47" fill="#ffe793"/>
<rect x="701.94" y="163.79" width="12.83" height="12.47" fill="#fed976"/>
<rect x="713.77" y="163.79" width="48.32" height="12.47" fill="#ffe793"/>
<rect x="761.09" y="163.79" width="12.83" height="12.47" fill="#fed976"/>
<rect x="772.92" y="163.79" width="12.83" height="12.47" fill="#fea647"/>
<rect x="784.75" y="163.79" width="48.32" height="12.47" fill="#ffe793"/>
<rect x="832.07" y="163.79" width="36.49" height="12.47" fill="#fff3af"/>
<rect x="867.56" y="163.79" width="12.83" height="12.47" fill="#fffac1"/>
<rect x="879.39" y="163.79" width="12.83" height="12.47" fill="#fff3af"/>
<rect x="891.22" y="163.79" width="12.83" height="12.47" fill="#fffac1"/>
<rect x="903.05" y="163.79" width="12.83" height="12.47" fill="#ffffcc"/>
<rect x="914.88" y="163.79" width="24.66" height="12.47" fill="#fffac1"/>
<rect x="938.54" y="163.79" width="23.66" height="12.47" fill="#ffffcc"/>
<rect x="607.30" y="175.26" width="24.66" height="12.47" fill="#ffffcc"/>
<rect x="630.96" y="175.26" width="12.83" height="12.47" fill="#fff3af"/>
<rect x="642.79" y="175.26" width="12.83" height="12.47" fill="#ffffcc"/>
<rect x="654.62" y="175.26" width="24.66" height="12.47" fill="#fff3af"/>
<rect x="678.28" y="175.26" width="12.83" height="12.47" fill="#fffac1"/>
<rect x="690.11" y="175.26" width="12.83" height="12.47" fill="#fed976"/>
<rect x="701.94" y="175.26" width="12.83" height="12.47" fill="#ffe793"/>
<rect x="713.77" y="175.26" width="36.49" height="12.47" fill="#fed976"/>
<rect x="749.26" y="175.26" width="12.83" height="12.47" fill="#fea647"/>
<rect x="761.09" y="175.26" width="12.83" height="12.47" fill="#fd8b3c"/>
<rect x="772.92" y="175.26" width="12.83" height="12.47" fill="#febf5a"/>
<rect x="784.75" y="175.26" width="12.83" height="12.47" fill="#fea647"/>
<rect x="796.58" y="175.26" width="12.83" height="12.47" fill="#fed976"/>
<rect x="808.41" y="175.26" width="12.83" height="12.47" fill="#febf5a"/>
<rect x="820.24" y="175.26" width="12.83" height="12.47" fill="#fff3af"/>
<rect x="832.07" y="175.26" width="12.83" height="12.47" fill="#fed976"/>
<rect x="843.90" y="175.26" width="12.83" height="12.47" fill="#ffe793"/>
<rect x="855.73" y="175.26" width="36.49" height="12.47" fill="#fff3af"/>
<rect x="891.22" y="175.26" width="36.49" height="12.47" fill="#fffac1"/>
<rect x="926.71" y="175.26" width="35.49" height="12.47" fill="#ffffcc"/>
<rect x="607.30" y="186.73" width="12.83" height="12.47" fill="#ffffcc"/>
<rect x="619.13" y="186.73" width="12.83" height="12.47" fill="#fffac1"/>
<rect x="630.96" y="186.73" width="12.83" height="12.47" fill="#ffffcc"/>
<rect x="642.79" y="186.73" width="12.83" height="12.47" fill="#fffac1"/>
<rect x="654.62" y="186.73" width="12.83" height="12.47" fill="#ffe793"/>
<rect x="666.45" y="186.73" width="12.83" height="12.47" fill="#ffffcc"/>
<rect x="678.28" y="186.73" width="12.83" height="12.47" fill="#ffe793"/>
<rect x="690.11" y="186.73" width="12.83" height="12.47" fill="#fff3af"/>
<rect x="701.94" y="186.73" width="12.83" height="12.47" fill="#ffe793"/>
<rect x="713.77" y="186.73" width="12.83" height="12.47" fill="#fed976"/>
<rect x="725.60" y="186.73" width="24.66" height="12.47" fill="#fea647"/>
<rect x="749.26" y="186.73" width="12.83" height="12.47" fill="#fed976"/>
<rect x="761.09" y="186.73" width="12.83" height="12.47" fill="#f33c25"/>
<rect x="772.92" y="186.73" width="24.66" height="12.47" fill="#fea647"/>
<rect x="796.58" y="186.73" width="12.83" height="12.47" fill="#fc6230"/>
<rect x="808.41" y="186.73" width="12.83" height="12.47" fill="#febf5a"/>
<rect x="820.24" y="186.73" width="12.83" height="12.47" fill="#fff3af"/>
<rect x="832.07" y="186.73" width="12.83" height="12.47" fill="#fed976"/>
<rect x="843.90" y="186.73" width="36.49" height="12.47" fill="#fff3af"/>
<rect x="879.39" y="186.73" width="12.83" height="12.47" fill="#ffffcc"/>
<rect x="891.22" y="186.73" width="12.83" height="12.47" fill="#fffac1"/>
<rect x="903.05" y="186.73" width="59.15" height="12.47" fill="#ffffcc"/>
<rect x="607.30" y="198.21" width="24.66" height="12.47" fill="#ffffcc"/>
<rect x="630.96" y="198.21" width="24.66" height="12.47" fill="#fffac1"/>
<rect x="654.62" y="198.21" width="24.66" height="12.47" fill="#ffe793"/>
<rect x="678.28" y="198.21" width="12.83" height="12.47" fill="#fff3af"/>
<rect x="690.11" y="198.21" width="24.66" height="12.47" fill="#ffe793"/>
<rect x="713.77" y="198.21" width="12.83" height="12.47" fill="#febf5a"/>
<rect x="725.60" y="198.21" width="12.83" height="12.47" fill="#fd8b3c"/>
<rect x="737.43" y="198.21" width="12.83" height="12.47" fill="#fed976"/>
<rect x="749.26" y="198.21" width="24.66" height="12.47" fill="#fea647"/>
<rect x="772.92" y="198.21" width="12.83" height="12.47" fill="#fed976"/>
<rect x="784.75" y="198.21" width="12.83" height="12.47" fill="#fc6230"/>
<rect x="796.58" y="198.21" width="12.83" height="12.47" fill="#f33c25"/>
<rect x="808.41" y="198.21" width="24.66" height="12.47" fill="#febf5a"/>
<rect x="832.07" y="198.21" width="12.83" height="12.47" fill="#fed976"/>
<rect x="843.90" y="198.21" width="24.66" height="12.47" fill="#fff3af"/>
<rect x="867.56" y="198.21" width="12.83" height="12.47" fill="#ffffcc"/>
<rect x="879.39" y="198.21" width="36.49" height="12.47" fill="#fff3af"/>
<rect x="914.88" y="198.21" width="24.66" height="12.47" fill="#fffac1"/>
<rect x="938.54" y="198.21" width="23.66" height="12.47" fill="#ffffcc"/>
<rect x="607.30" y="209.68" width="36.49" height="12.47" fill="#ffffcc"/>
<rect x="642.79" y="209.68" width="12.83" height="12.47" fill="#fffac1"/>
<rect x="654.62" y="209.68" width="12.83" height="12.47" fill="#fff3af"/>
<rect x="666.45" y="209.68" width="12.83" height="12.47" fill="#ffe793"/>
<rect x="678.28" y="209.68" width="12.83" height="12.47" fill="#fff3af"/>
<rect x="690.11" y="209.68" width="12.83" height="12.47" fill="#ffe793"/>
<rect x="701.94" y="209.68" width="12.83" height="12.47" fill="#fed976"/>
<rect x="713.77" y="209.68" width="24.66" height="12.47" fill="#fc6230"/>
<rect x="737.43" y="209.68" width="12.83" height="12.47" fill="#e1181c"/>
<rect x="749.26" y="209.68" width="24.66" height="12.47" fill="#f33c25"/>
<rect x="772.92" y="209.68" width="12.83" height="12.47" fill="#febf5a"/>
<rect x="784.75" y="209.68" width="12.83" height="12.47" fill="#c70823"/>
<rect x="796.58" y="209.68" width="12.83" height="12.47" fill="#fc6230"/>
<rect x="808.41" y="209.68" width="12.83" height="12.47" fill="#f33c25"/>
<rect x="820.24" y="209.68" width="24.66" height="12.47" fill="#fed976"/>
<rect x="843.90" y="209.68" width="12.83" height="12.47" fill="#fff3af"/>
<rect x="855.73" y="209.68" width="12.83" height="12.47" fill="#fed976"/>
<rect x="867.56" y="209.68" width="12.83" height="12.47" fill="#fffac1"/>
<rect x="879.39" y="209.68" width="12.83" height="12.47" fill="#ffffcc"/>
<rect x="891.22" y="209.68" width="12.83" height="12.47" fill="#fffac1"/>
<rect x="903.05" y="209.68" width="12.83" height="12.47" fill="#ffffcc"/>
<rect x="914.88" y="209.68" width="12.83" height="12.47" fill="#fffac1"/>
<rect x="926.71" y="209.68" width="35.49" height="12.47" fill="#ffffcc"/>
<rect x="607.30" y="221.15" width="36.49" height="12.47" fill="#ffffcc"/>
<rect x="642.79" y="221.15" width="12.83" height="12.47" fill="#fff3af"/>
<rect x="654.62" y="221.15" width="12.83" height="12.47" fill="#ffffcc"/>
<rect x="666.45" y="221.15" width="12.83" height="12.47" fill="#fff3af"/>
<rect x="678.28" y="221.15" width="12.83" height="12.47" fill="#ffffcc"/>
<rect x="690.11" y="221.15" width="12.83" height="12.47" fill="#fff3af"/>
<rect x="701.94" y="221.15" width="12.83" height="12.47" fill="#fea647"/>
<rect x="713.77" y="221.15" width="12.83" height="12.47" fill="#fed976"/>
<rect x="725.60" y="221.15" width="12.83" height="12.47" fill="#fea647"/>
<rect x="737.43" y="221.15" width="12.83" height="12.47" fill="#e1181c"/>
<rect x="749.26" y="221.15" width="12.83" height="12.47" fill="#fd8b3c"/>
<rect x="761.09" y="221.15" width="12.83" height="12.47" fill="#e1181c"/>
<rect x="772.92" y="221.15" width="12.83" height="12.47" fill="#fd8b3c"/>
<rect x="784.75" y="221.15" width="12.83" height="12.47" fill="#fc6230"/>
<rect x="796.58" y="221.15" width="12.83" height="12.47" fill="#fea647"/>
<rect x="808.41" y="221.15" width="12.83" height="12.47" fill="#fd8b3c"/>
<rect x="820.24" y="221.15" width="12.83" height="12.47" fill="#fc6230"/>
<rect x="832.07" y="221.15" width="12.83" height="12.47" fill="#fea647"/>
<rect x="843.90" y="221.15" width="12.83" height="12.47" fill="#ffe793"/>
<rect x="855.73" y="221.15" width="12.83" height="12.47" fill="#fff3af"/>
<rect x="867.56" y="221.15" width="36.49" height="12.47" fill="#fffac1"/>
<rect x="903.05" y="221.15" width="24.66" height="12.47" fill="#ffffcc"/>
<rect x="926.71" y="221.15" width="12.83" height="12.47" fill="#fffac1"/>
<rect x="938.54" y="221.15" width="23.66" height="12.47" fill="#ffffcc"/>
<rect x="607.30" y="232.63" width="36.49" height="12.47" fill="#ffffcc"/>
<rect x="642.79" y="232.63" width="12.83" height="12.47" fill="#fffac1"/>
<rect x="654.62" y="232.63" width="12.83" height="12.47" fill="#fff3af"/>
<rect x="666.45" y="232.63" width="36.49" height="12.47" fill="#ffe793"/>
<rect x="701.94" y="232.63" width="12.83" height="12.47" fill="#febf5a"/>
<rect x="713.77" y="232.63" width="12.83" height="12.47" fill="#fea647"/>
<rect x="725.60" y="232.63" width="12.83" height="12.47" fill="#febf5a"/>
<rect x="737.43" y="232.63" width="12.83" height="12.47" fill="#fea647"/>
<rect x="749.26" y="232.63" width="24.66" height="12.47" fill="#fd8b3c"/>
<rect x="772.92" y="232.63" width="24.66" height="12.47" fill="#f33c25"/>
<rect x="796.58" y="232.63" width="12.83" height="12.47" fill="#fd8b3c"/>
<rect x="808.41" y="232.63" width="12.83" height="12.47" fill="#f33c25"/>
<rect x="820.24" y="232.63" width="12.83" height="12.47" fill="#fff3af"/>
<rect x="832.07" y="232.63" width="12.83" height="12.47" fill="#fed976"/>
<rect x="843.90" y="232.63" width="12.83" height="12.47" fill="#febf5a"/>
<rect x="855.73" y="232.63" width="12.83" height="12.47" fill="#fed976"/>
<rect x="867.56" y="232.63" width="12.83" height="12.47" fill="#ffe793"/>
<rect x="879.39" y="232.63" width="12.83" height="12.47" fill="#fffac1"/>
<rect x="891.22" y="232.63" width="70.98" height="12.47" fill="#ffffcc"/>
<rect x="607.30" y="244.10" width="12.83" height="12.47" fill="#fff3af"/>
<rect x="619.13" y="244.10" width="24.66" height="12.47" fill="#fffac1"/>
<rect x="642.79" y="244.10" width="12.83" height="12.47" fill="#fff3af"/>
<rect x="654.62" y="244.10" width="12.83" height="12.47" fill="#fffac1"/>
<rect x="666.45" y="244.10" width="24.66" height="12.47" fill="#fff3af"/>
<rect x="690.11" y="244.10" width="24.66" height="12.47" fill="#ffe793"/>
<rect x="713.77" y="244.10" width="12.83" height="12.47" fill="#fed976"/>
<rect x="725.60" y="244.10" width="12.83" height="12.47" fill="#fc6230"/>
<rect x="737.43" y="244.10" width="12.83" height="12.47" fill="#fd8b3c"/>
<rect x="749.26" y="244.10" width="12.83" height="12.47" fill="#f33c25"/>
<rect x="761.09" y="244.10" width="12.83" height="12.47" fill="#fea647"/>
<rect x="772.92" y="244.10" width="12.83" height="12.47" fill="#800026"/>
<rect x="784.75" y="244.10" width="12.83" height="12.47" fill="#f33c25"/>
<rect x="796.58" y="244.10" width="12.83" height="12.47" fill="#fea647"/>
<rect x="808.41" y="244.10" width="12.83" height="12.47" fill="#fed976"/>
<rect x="820.24" y="244.10" width="12.83" height="12.47" fill="#fd8b3c"/>
<rect x="832.07" y="244.10" width="24.66" height="12.47" fill="#fed976"/>
<rect x="855.73" y="244.10" width="36.49" height="12.47" fill="#ffe793"/>
<rect x="891.22" y="244.10" width="12.83" height="12.47" fill="#fffac1"/>
<rect x="903.05" y="244.10" width="12.83" height="12.47" fill="#fff3af"/>
<rect x="914.88" y="244.10" width="47.32" height="12.47" fill="#ffffcc"/>
<rect x="607.30" y="255.57" width="36.49" height="12.47" fill="#ffffcc"/>
<rect x="642.79" y="255.57" width="12.83" height="12.47" fill="#fffac1"/>
<rect x="654.62" y="255.57" width="12.83" height="12.47" fill="#ffe793"/>
<rect x="666.45" y="255.57" width="12.83" height="12.47" fill="#fff3af"/>
<rect x="678.28" y="255.57" width="12.83" height="12.47" fill="#fed976"/>
<rect x="690.11" y="255.57" width="12.83" height="12.47" fill="#febf5a"/>
<rect x="701.94" y="255.57" width="12.83" height="12.47" fill="#ffe793"/>
<rect x="713.77" y="255.57" width="24.66" height="12.47" fill="#fc6230"/>
<rect x="737.43" y="255.57" width="12.83" height="12.47" fill="#f33c25"/>
<rect x="749.26" y="255.57" width="12.83" height="12.47" fill="#c70823"/>
<rect x="761.09" y="255.57" width="12.83" height="12.47" fill="#fc6230"/>
<rect x="772.92" y="255.57" width="12.83" height="12.47" fill="#a70026"/>
<rect x="784.75" y="255.57" width="12.83" height="12.47" fill="#fc6230"/>
<rect x="796.58" y="255.57" width="24.66" height="12.47" fill="#fd8b3c"/>
<rect x="820.24" y="255.57" width="12.83" height="12.47" fill="#febf5a"/>
<rect x="832.07" y="255.57" width="36.49" height="12.47" fill="#fed976"/>
<rect x="867.56" y="255.57" width="12.83" height="12.47" fill="#ffe793"/>
<rect x="879.39" y="255.57" width="24.66" height="12.47" fill="#fff3af"/>
<rect x="903.05" y="255.57" width="12.83" height="12.47" fill="#ffffcc"/>
<rect x="914.88" y="255.57" width="36.49" height="12.47" fill="#fffac1"/>
<rect x="950.37" y="255.57" width="11.83" height="12.47" fill="#ffffcc"/>
<rect x="607.30" y="267.05" width="12.83" height="12.47" fill="#fffac1"/>
<rect x="619.13" y="267.05" width="12.83" height="12.47" fill="#ffffcc"/>
<rect x="630.96" y="267.05" width="12.83" height="12.47" fill="#fffac1"/>
<rect x="642.79" y="267.05" width="12.83" height="12.47" fill="#ffe793"/>
<rect x="654.62" y="267.05" width="12.83" height="12.47" fill="#fff3af"/>
<rect x="666.45" y="267.05" width="24.66" height="12.47" fill="#ffe793"/>
<rect x="690.11" y="267.05" width="12.83" height="12.47" fill="#fff3af"/>
<rect x="701.94" y="267.05" width="12.83" height="12.47" fill="#ffe793"/>
<rect x="713.77" y="267.05" width="12.83" height="12.47" fill="#fc6230"/>
<rect x="725.60" y="267.05" width="12.83" height="12.47" fill="#fea647"/>
<rect x="737.43" y="267.05" width="24.66" height="12.47" fill="#f33c25"/>
<rect x="761.09" y="267.05" width="12.83" height="12.47" fill="#fc6230"/>
<rect x="772.92" y="267.05" width="12.83" height="12.47" fill="#e1181c"/>
<rect x="784.75" y="267.05" width="12.83" height="12.47" fill="#c70823"/>
<rect x="796.58" y="267.05" width="12.83" height="12.47" fill="#fd8b3c"/>
<rect x="808.41" y="267.05" width="12.83" height="12.47" fill="#fc6230"/>
<rect x="820.24" y="267.05" width="12.83" height="12.47" fill="#fea647"/>
<rect x="832.07" y="267.05" width="12.83" height="12.47" fill="#febf5a"/>
<rect x="843.90" y="267.05" width="12.83" height="12.47" fill="#fea647"/>
<rect x="855.73" y="267.05" width="12.83" height="12.47" fill="#fff3af"/>
<rect x="867.56" y="267.05" width="12.83" height="12.47" fill="#ffe793"/>
<rect x="879.39" y="267.05" width="12.83" height="12.47" fill="#fffac1"/>
<rect x="891.22" y="267.05" width="70.98" height="12.47" fill="#ffffcc"/>
<rect x="607.30" y="278.52" width="12.83" height="12.47" fill="#fffac1"/>
<rect x="619.13" y="278.52" width="24.66" height="12.47" fill="#ffffcc"/>
<rect x="642.79" y="278.52" width="12.83" height="12.47" fill="#fffac1"/>
<rect x="654.62" y="278.52" width="12.83" height="12.47" fill="#fff3af"/>
<rect x="666.45" y="278.52" width="12.83" height="12.47" fill="#ffe793"/>
<rect x="678.28" y="278.52" width="12.83" height="12.47" fill="#fff3af"/>
<rect x="690.11" y="278.52" width="24.66" height="12.47" fill="#ffe793"/>
<rect x="713.77" y="278.52" width="12.83" height="12.47" fill="#febf5a"/>
<rect x="725.60" y="278.52" width="12.83" height="12.47" fill="#f33c25"/>
<rect x="737.43" y="278.52" width="24.66" height="12.47" fill="#fd8b3c"/>
<rect x="761.09" y="278.52" width="12.83" height="12.47" fill="#fea647"/>
<rect x="772.92" y="278.52" width="12.83" height="12.47" fill="#fc6230"/>
<rect x="784.75" y="278.52" width="12.83" height="12.47" fill="#a70026"/>
<rect x="796.58" y="278.52" width="12.83" height="12.47" fill="#fc6230"/>
<rect x="808.41" y="278.52" width="12.83" height="12.47" fill="#f33c25"/>
<rect x="820.24" y="278.52" width="12.83" height="12.47" fill="#fff3af"/>
<rect x="832.07" y="278.52" width="36.49" height="12.47" fill="#ffe793"/>
<rect x="867.56" y="278.52" width="12.83" height="12.47" fill="#fed976"/>
<rect x="879.39" y="278.52" width="24.66" height="12.47" fill="#fffac1"/>
<rect x="903.05" y="278.52" width="59.15" height="12.47" fill="#ffffcc"/>
<rect x="607.30" y="289.99" width="36.49" height="12.47" fill="#ffffcc"/>
<rect x="642.79" y="289.99" width="24.66" height="12.47" fill="#fff3af"/>
<rect x="666.45" y="289.99" width="36.49" height="12.47" fill="#fffac1"/>
<rect x="701.94" y="289.99" width="12.83" height="12.47" fill="#ffe793"/>
<rect x="713.77" y="289.99" width="12.83" height="12.47" fill="#febf5a"/>
<rect x="725.60" y="289.99" width="12.83" height="12.47" fill="#fea647"/>
<rect x="737.43" y="289.99" width="12.83" height="12.47" fill="#fd8b3c"/>
<rect x="749.26" y="289.99" width="12.83" height="12.47" fill="#fc6230"/>
<rect x="761.09" y="289.99" width="12.83" height="12.47" fill="#febf5a"/>
<rect x="772.92" y="289.99" width="12.83" height="12.47" fill="#f33c25"/>
<rect x="784.75" y="289.99" width="24.66" height="12.47" fill="#fc6230"/>
<rect x="808.41" y="289.99" width="12.83" height="12.47" fill="#fd8b3c"/>
<rect x="820.24" y="289.99" width="12.83" height="12.47" fill="#ffe793"/>
<rect x="832.07" y="289.99" width="12.83" height="12.47" fill="#fea647"/>
<rect x="843.90" y="289.99" width="12.83" height="12.47" fill="#ffe793"/>
<rect x="855.73" y="289.99" width="12.83" height="12.47" fill="#fff3af"/>
<rect x="867.56" y="289.99" width="24.66" height="12.47" fill="#fffac1"/>
<rect x="891.22" y="289.99" width="12.83" height="12.47" fill="#ffffcc"/>
<rect x="903.05" y="289.99" width="24.66" height="12.47" fill="#fffac1"/>
<rect x="926.71" y="289.99" width="35.49" height="12.47" fill="#ffffcc"/>
<rect x="607.30" y="301.47" width="36.49" height="12.47" fill="#ffffcc"/>
<rect x="642.79" y="301.47" width="12.83" height="12.47" fill="#fffac1"/>
<rect x="654.62" y="301.47" width="12.83" height="12.47" fill="#fff3af"/>
<rect x="666.45" y="301.47" width="24.66" height="12.47" fill="#fffac1"/>
<rect x="690.11" y="301.47" width="12.83" height="12.47" fill="#fff3af"/>
<rect x="701.94" y="301.47" width="36.49" height="12.47" fill="#ffe793"/>
<rect x="737.43" y="301.47" width="24.66" height="12.47" fill="#febf5a"/>
<rect x="761.09" y="301.47" width="12.83" height="12.47" fill="#fd8b3c"/>
<rect x="772.92" y="301.47" width="12.83" height="12.47" fill="#fc6230"/>
<rect x="784.75" y="301.47" width="12.83" height="12.47" fill="#fea647"/>
<rect x="796.58" y="301.47" width="12.83" height="12.47" fill="#febf5a"/>
<rect x="808.41" y="301.47" width="12.83" height="12.47" fill="#fd8b3c"/>
<rect x="820.24" y="301.47" width="12.83" height="12.47" fill="#fed976"/>
<rect x="832.07" y="301.47" width="24.66" height="12.47" fill="#ffe793"/>
<rect x="855.73" y="301.47" width="24.66" height="12.47" fill="#fff3af"/>
<rect x="879.39" y="301.47" width="24.66" height="12.47" fill="#fffac1"/>
<rect x="903.05" y="301.47" width="12.83" height="12.47" fill="#ffffcc"/>
<rect x="914.88" y="301.47" width="12.83" height="12.47" fill="#fffac1"/>
<rect x="926.71" y="301.47" width="35.49" height="12.47" fill="#ffffcc"/>
<rect x="607.30" y="312.94" width="36.49" height="12.47" fill="#ffffcc"/>
<rect x="642.79" y="312.94" width="24.66" height="12.47" fill="#fffac1"/>
<rect x="666.45" y="312.94" width="36.49" height="12.47" fill="#ffffcc"/>
<rect x="701.94" y="312.94" width="36.49" height="12.47" fill="#fed976"/>
<rect x="737.43" y="312.94" width="12.83" height="12.47" fill="#ffe793"/>
<rect x="749.26" y="312.94" width="12.83" height="12.47" fill="#fed976"/>
<rect x="761.09" y="312.94" width="12.83" height="12.47" fill="#ffe793"/>
<rect x="772.92" y="312.94" width="12.83" height="12.47" fill="#fed976"/>
<rect x="784.75" y="312.94" width="12.83" height="12.47" fill="#ffe793"/>
<rect x="796.58" y="312.94" width="12.83" height="12.47" fill="#fed976"/>
<rect x="808.41" y="312.94" width="36.49" height="12.47" fill="#ffe793"/>
<rect x="843.90" y="312.94" width="12.83" height="12.47" fill="#fff3af"/>
<rect x="855.73" y="312.94" width="12.83" height="12.47" fill="#fffac1"/>
<rect x="867.56" y="312.94" width="24.66" height="12.47" fill="#ffffcc"/>
<rect x="891.22" y="312.94" width="24.66" height="12.47" fill="#fffac1"/>
<rect x="914.88" y="312.94" width="47.32" height="12.47" fill="#ffffcc"/>
<rect x="607.30" y="324.41" width="83.81" height="12.47" fill="#ffffcc"/>
<rect x="690.11" y="324.41" width="36.49" height="12.47" fill="#fff3af"/>
<rect x="725.60" y="324.41" width="12.83" height="12.47" fill="#ffe793"/>
<rect x="737.43" y="324.41" width="24.66" height="12.47" fill="#febf5a"/>
<rect x="761.09" y="324.41" width="12.83" height="12.47" fill="#fff3af"/>
<rect x="772.92" y="324.41" width="12.83" height="12.47" fill="#ffe793"/>
<rect x="784.75" y="324.41" width="12.83" height="12.47" fill="#fff3af"/>
<rect x="796.58" y="324.41" width="12.83" height="12.47" fill="#febf5a"/>
<rect x="808.41" y="324.41" width="12.83" height="12.47" fill="#fff3af"/>
<rect x="820.24" y="324.41" width="12.83" height="12.47" fill="#ffe793"/>
<rect x="832.07" y="324.41" width="12.83" height="12.47" fill="#fff3af"/>
<rect x="843.90" y="324.41" width="12.83" height="12.47" fill="#ffffcc"/>
<rect x="855.73" y="324.41" width="12.83" height="12.47" fill="#fffac1"/>
<rect x="867.56" y="324.41" width="12.83" height="12.47" fill="#ffe793"/>
<rect x="879.39" y="324.41" width="12.83" height="12.47" fill="#fffac1"/>
<rect x="891.22" y="324.41" width="12.83" height="12.47" fill="#fff3af"/>
<rect x="903.05" y="324.41" width="24.66" height="12.47" fill="#fffac1"/>
<rect x="926.71" y="324.41" width="35.49" height="12.47" fill="#ffffcc"/>
<rect x="607.30" y="335.89" width="48.32" height="12.47" fill="#ffffcc"/>
<rect x="654.62" y="335.89" width="24.66" height="12.47" fill="#fffac1"/>
<rect x="678.28" y="335.89" width="24.66" height="12.47" fill="#fff3af"/>
<rect x="701.94" y="335.89" width="12.83" height="12.47" fill="#fffac1"/>
<rect x="713.77" y="335.89" width="12.83" height="12.47" fill="#fff3af"/>
<rect x="725.60" y="335.89" width="12.83" height="12.47" fill="#fffac1"/>
<rect x="737.43" y="335.89" width="12.83" height="12.47" fill="#fff3af"/>
<rect x="749.26" y="335.89" width="12.83" height="12.47" fill="#ffe793"/>
<rect x="761.09" y="335.89" width="12.83" height="12.47" fill="#fff3af"/>
<rect x="772.92" y="335.89" width="24.66" height="12.47" fill="#ffe793"/>
<rect x="796.58" y="335.89" width="24.66" height="12.47" fill="#fff3af"/>
<rect x="820.24" y="335.89" width="24.66" height="12.47" fill="#ffe793"/>
<rect x="843.90" y="335.89" width="12.83" height="12.47" fill="#fff3af"/>
<rect x="855.73" y="335.89" width="106.47" height="12.47" fill="#ffffcc"/>
<rect x="607.30" y="347.36" width="60.15" height="12.47" fill="#ffffcc"/>
<rect x="666.45" y="347.36" width="12.83" height="12.47" fill="#fffac1"/>
<rect x="678.28" y="347.36" width="12.83" height="12.47" fill="#ffffcc"/>
<rect x="690.11" y="347.36" width="12.83" height="12.47" fill="#fffac1"/>
<rect x="701.94" y="347.36" width="12.83" height="12.47" fill="#ffffcc"/>
<rect x="713.77" y="347.36" width="12.83" height="12.47" fill="#fffac1"/>
<rect x="725.60" y="347.36" width="24.66" height="12.47" fill="#ffffcc"/>
<rect x="749.26" y="347.36" width="24.66" height="12.47" fill="#fff3af"/>
<rect x="772.92" y="347.36" width="24.66" height="12.47" fill="#fffac1"/>
<rect x="796.58" y="347.36" width="24.66" height="12.47" fill="#fff3af"/>
<rect x="820.24" y="347.36" width="12.83" height="12.47" fill="#ffffcc"/>
<rect x="832.07" y="347.36" width="36.49" height="12.47" fill="#fff3af"/>
<rect x="867.56" y="347.36" width="94.64" height="12.47" fill="#ffffcc"/>
<rect x="607.30" y="358.83" width="71.98" height="12.47" fill="#ffffcc"/>
<rect x="678.28" y="358.83" width="24.66" height="12.47" fill="#fffac1"/>
<rect x="701.94" y="358.83" width="12.83" height="12.47" fill="#fff3af"/>
<rect x="713.77" y="358.83" width="12.83" height="12.47" fill="#fffac1"/>
<rect x="725.60" y="358.83" width="12.83" height="12.47" fill="#ffe793"/>
<rect x="737.43" y="358.83" width="12.83" height="12.47" fill="#ffffcc"/>
<rect x="749.26" y="358.83" width="12.83" height="12.47" fill="#fff3af"/>
<rect x="761.09" y="358.83" width="24.66" height="12.47" fill="#ffe793"/>
<rect x="784.75" y="358.83" width="12.83" height="12.47" fill="#fff3af"/>
<rect x="796.58" y="358.83" width="12.83" height="12.47" fill="#ffffcc"/>
<rect x="808.41" y="358.83" width="24.66" height="12.47" fill="#fff3af"/>
<rect x="832.07" y="358.83" width="12.83" height="12.47" fill="#ffffcc"/>
<rect x="843.90" y="358.83" width="12.83" height="12.47" fill="#fffac1"/>
<rect x="855.73" y="358.83" width="106.47" height="12.47" fill="#ffffcc"/>
<rect x="607.30" y="370.31" width="119.30" height="12.47" fill="#ffffcc"/>
<rect x="725.60" y="370.31" width="24.66" height="12.47" fill="#fffac1"/>
<rect x="749.26" y="370.31" width="12.83" height="12.47" fill="#ffffcc"/>
<rect x="761.09" y="370.31" width="12.83" height="12.47" fill="#ffe793"/>
<rect x="772.92" y="370.31" width="12.83" height="12.47" fill="#fff3af"/>
<rect x="784.75" y="370.31" width="12.83" height="12.47" fill="#fffac1"/>
<rect x="796.58" y="370.31" width="12.83" height="12.47" fill="#ffffcc"/>
<rect x="808.41" y="370.31" width="36.49" height="12.47" fill="#fffac1"/>
<rect x="843.90" y="370.31" width="12.83" height="12.47" fill="#fff3af"/>
<rect x="855.73" y="370.31" width="36.49" height="12.47" fill="#ffffcc"/>
<rect x="891.22" y="370.31" width="12.83" height="12.47" fill="#fffac1"/>
<rect x="903.05" y="370.31" width="59.15" height="12.47" fill="#ffffcc"/>
<rect x="607.30" y="381.78" width="83.81" height="12.47" fill="#ffffcc"/>
<rect x="690.11" y="381.78" width="12.83" height="12.47" fill="#fff3af"/>
<rect x="701.94" y="381.78" width="60.15" height="12.47" fill="#fffac1"/>
<rect x="761.09" y="381.78" width="24.66" height="12.47" fill="#ffffcc"/>
<rect x="784.75" y="381.78" width="12.83" height="12.47" fill="#fffac1"/>
<rect x="796.58" y="381.78" width="12.83" height="12.47" fill="#ffffcc"/>
<rect x="808.41" y="381.78" width="12.83" height="12.47" fill="#fffac1"/>
<rect x="820.24" y="381.78" width="71.98" height="12.47" fill="#ffffcc"/>
<rect x="891.22" y="381.78" width="12.83" height="12.47" fill="#fffac1"/>
<rect x="903.05" y="381.78" width="59.15" height="12.47" fill="#ffffcc"/>
<rect x="607.30" y="393.25" width="213.94" height="12.47" fill="#ffffcc"/>
<rect x="820.24" y="393.25" width="12.83" height="12.47" fill="#fffac1"/>
<rect x="832.07" y="393.25" width="12.83" height="12.47" fill="#ffffcc"/>
<rect x="843.90" y="393.25" width="12.83" height="12.47" fill="#fffac1"/>
<rect x="855.73" y="393.25" width="106.47" height="12.47" fill="#ffffcc"/>
<rect x="607.30" y="404.73" width="190.28" height="11.47" fill="#ffffcc"/>
<rect x="796.58" y="404.73" width="24.66" height="11.47" fill="#fffac1"/>
<rect x="820.24" y="404.73" width="141.96" height="11.47" fill="#ffffcc"/>
<rect x="607.30" y="72.00" width="354.90" height="344.20" fill="none" stroke="#000" stroke-width="5.3"/>
<line x1="664.50" y1="416.20" x2="664.50" y2="422.50" stroke="#000" stroke-width="1.6"/>
<text x="664.50" y="441.90" font-size="18" text-anchor="middle" >−2</text>
<line x1="772.00" y1="416.20" x2="772.00" y2="422.50" stroke="#000" stroke-width="1.6"/>
<text x="772.00" y="441.90" font-size="18" text-anchor="middle" >0</text>
<line x1="879.50" y1="416.20" x2="879.50" y2="422.50" stroke="#000" stroke-width="1.6"/>
<text x="879.50" y="441.90" font-size="18" text-anchor="middle" >2</text>
<line x1="607.30" y1="86.00" x2="601.00" y2="86.00" stroke="#000" stroke-width="1.6"/>
<text x="594.70" y="92.60" font-size="18" text-anchor="end" >3</text>
<line x1="607.30" y1="140.00" x2="601.00" y2="140.00" stroke="#000" stroke-width="1.6"/>
<text x="594.70" y="146.60" font-size="18" text-anchor="end" >2</text>
<line x1="607.30" y1="194.00" x2="601.00" y2="194.00" stroke="#000" stroke-width="1.6"/>
<text x="594.70" y="200.60" font-size="18" text-anchor="end" >1</text>
<line x1="607.30" y1="248.00" x2="601.00" y2="248.00" stroke="#000" stroke-width="1.6"/>
<text x="594.70" y="254.60" font-size="18" text-anchor="end" >0</text>
<line x1="607.30" y1="302.00" x2="601.00" y2="302.00" stroke="#000" stroke-width="1.6"/>
<text x="594.70" y="308.60" font-size="18" text-anchor="end" >−1</text>
<line x1="607.30" y1="356.00" x2="601.00" y2="356.00" stroke="#000" stroke-width="1.6"/>
<text x="594.70" y="362.60" font-size="18" text-anchor="end" >−2</text>
<line x1="607.30" y1="410.00" x2="601.00" y2="410.00" stroke="#000" stroke-width="1.6"/>
<text x="594.70" y="416.60" font-size="18" text-anchor="end" >−3</text>
<text x="784.75" y="61.60" font-size="22.7" text-anchor="middle" >b=1/N, No. of matrices=3</text>
<text x="784.75" y="470.00" font-size="22.7" text-anchor="middle" >Re z</text>
<rect x="984.70" y="6.40" width="23.60" height="475.60" fill="url(#g)" stroke="#000" stroke-width="5.3"/>
<line x1="1008.30" y1="482.00" x2="1014.60" y2="482.00" stroke="#000" stroke-width="1.6"/>
<text x="1020.90" y="488.60" font-size="18" >0</text>
<line x1="1008.30" y1="392.83" x2="1014.60" y2="392.83" stroke="#000" stroke-width="1.6"/>
<text x="1020.90" y="399.43" font-size="18" >2</text>
<line x1="1008.30" y1="303.65" x2="1014.60" y2="303.65" stroke="#000" stroke-width="1.6"/>
<text x="1020.90" y="310.25" font-size="18" >4</text>
<line x1="1008.30" y1="214.48" x2="1014.60" y2="214.48" stroke="#000" stroke-width="1.6"/>
<text x="1020.90" y="221.08" font-size="18" >6</text>
<line x1="1008.30" y1="125.30" x2="1014.60" y2="125.30" stroke="#000" stroke-width="1.6"/>
<text x="1020.90" y="131.90" font-size="18" >8</text>
<line x1="1008.30" y1="36.13" x2="1014.60" y2="36.13" stroke="#000" stroke-width="1.6"/>
<text x="1020.90" y="42.73" font-size="18" >10</text>
</g>
<g>
<rect x="80.20" y="545.50" width="355.10" height="357.70" fill="#ffffcc"/>
<rect x="80.20" y="545.50" width="178.55" height="12.92" fill="#ffffcc"/>
<rect x="257.75" y="545.50" width="12.84" height="12.92" fill="#fff2ac"/>
<rect x="269.59" y="545.50" width="12.84" height="12.92" fill="#ffffcc"/>
<rect x="281.42" y="545.50" width="12.84" height="12.92" fill="#ffe48d"/>
<rect x="293.26" y="545.50" width="142.04" height="12.92" fill="#ffffcc"/>
<rect x="80.20" y="557.42" width="143.04" height="12.92" fill="#ffffcc"/>
<rect x="222.24" y="557.42" width="12.84" height="12.92" fill="#fff2ac"/>
<rect x="234.08" y="557.42" width="201.22" height="12.92" fill="#ffffcc"/>
<rect x="80.20" y="569.35" width="119.37" height="12.92" fill="#ffffcc"/>
<rect x="198.57" y="569.35" width="12.84" height="12.92" fill="#fff2ac"/>
<rect x="210.40" y="569.35" width="95.69" height="12.92" fill="#ffffcc"/>
<rect x="305.10" y="569.35" width="12.84" height="12.92" fill="#fff2ac"/>
<rect x="316.93" y="569.35" width="118.37" height="12.92" fill="#ffffcc"/>
<rect x="80.20" y="581.27" width="36.51" height="12.92" fill="#ffffcc"/>
<rect x="115.71" y="581.27" width="12.84" height="12.92" fill="#fff2ac"/>
<rect x="127.55" y="581.27" width="72.02" height="12.92" fill="#ffffcc"/>
<rect x="198.57" y="581.27" width="12.84" height="12.92" fill="#fff2ac"/>
<rect x="210.40" y="581.27" width="24.67" height="12.92" fill="#ffffcc"/>
<rect x="234.08" y="581.27" width="12.84" height="12.92" fill="#fff2ac"/>
<rect x="245.91" y="581.27" width="131.20" height="12.92" fill="#ffffcc"/>
<rect x="376.12" y="581.27" width="12.84" height="12.92" fill="#fff2ac"/>
<rect x="387.95" y="581.27" width="47.35" height="12.92" fill="#ffffcc"/>
<rect x="80.20" y="593.19" width="166.71" height="12.92" fill="#ffffcc"/>
<rect x="245.91" y="593.19" width="24.67" height="12.92" fill="#ffe48d"/>
<rect x="269.59" y="593.19" width="12.84" height="12.92" fill="#fff2ac"/>
<rect x="281.42" y="593.19" width="12.84" height="12.92" fill="#ffffcc"/>
<rect x="293.26" y="593.19" width="12.84" height="12.92" fill="#fff2ac"/>
<rect x="305.10" y="593.19" width="36.51" height="12.92" fill="#ffffcc"/>
<rect x="340.61" y="593.19" width="12.84" height="12.92" fill="#fff2ac"/>
<rect x="352.44" y="593.19" width="12.84" height="12.92" fill="#ffffcc"/>
<rect x="364.28" y="593.19" width="12.84" height="12.92" fill="#fff2ac"/>
<rect x="376.12" y="593.19" width="59.18" height="12.92" fill="#ffffcc"/>
<rect x="80.20" y="605.12" width="72.02" height="12.92" fill="#ffffcc"/>
<rect x="151.22" y="605.12" width="12.84" height="12.92" fill="#fff2ac"/>
<rect x="163.06" y="605.12" width="12.84" height="12.92" fill="#ffffcc"/>
<rect x="174.89" y="605.12" width="12.84" height="12.92" fill="#fff2ac"/>
<rect x="186.73" y="605.12" width="12.84" height="12.92" fill="#ffffcc"/>
<rect x="198.57" y="605.12" width="12.84" height="12.92" fill="#fff2ac"/>
<rect x="210.40" y="605.12" width="12.84" height="12.92" fill="#ffffcc"/>
<rect x="222.24" y="605.12" width="12.84" height="12.92" fill="#fed36f"/>
<rect x="234.08" y="605.12" width="12.84" height="12.92" fill="#ffffcc"/>
<rect x="245.91" y="605.12" width="12.84" height="12.92" fill="#fed36f"/>
<rect x="257.75" y="605.12" width="36.51" height="12.92" fill="#fff2ac"/>
<rect x="293.26" y="605.12" width="12.84" height="12.92" fill="#ffe48d"/>
<rect x="305.10" y="605.12" width="12.84" height="12.92" fill="#fff2ac"/>
<rect x="316.93" y="605.12" width="12.84" height="12.92" fill="#ffffcc"/>
<rect x="328.77" y="605.12" width="12.84" height="12.92" fill="#fff2ac"/>
<rect x="340.61" y="605.12" width="36.51" height="12.92" fill="#ffffcc"/>
<rect x="376.12" y="605.12" width="12.84" height="12.92" fill="#fff2ac"/>
<rect x="387.95" y="605.12" width="47.35" height="12.92" fill="#ffffcc"/>
<rect x="80.20" y="617.04" width="83.86" height="12.92" fill="#ffffcc"/>
<rect x="163.06" y="617.04" width="12.84" height="12.92" fill="#ffe48d"/>
<rect x="174.89" y="617.04" width="12.84" height="12.92" fill="#fff2ac"/>
<rect x="186.73" y="617.04" width="24.67" height="12.92" fill="#ffffcc"/>
<rect x="210.40" y="617.04" width="12.84" height="12.92" fill="#fff2ac"/>
<rect x="222.24" y="617.04" width="24.67" height="12.92" fill="#ffe48d"/>
<rect x="245.91" y="617.04" width="12.84" height="12.92" fill="#fed36f"/>
<rect x="257.75" y="617.04" width="12.84" height="12.92" fill="#ffffcc"/>
<rect x="269.59" y="617.04" width="12.84" height="12.92" fill="#ffe48d"/>
<rect x="281.42" y="617.04" width="12.84" height="12.92" fill="#ffffcc"/>
<rect x="293.26" y="617.04" width="36.51" height="12.92" fill="#fff2ac"/>
<rect x="328.77" y="617.04" width="12.84" height="12.92" fill="#ffffcc"/>
<rect x="340.61" y="617.04" width="12.84" height="12.92" fill="#fff2ac"/>
<rect x="352.44" y="617.04" width="12.84" height="12.92" fill="#ffffcc"/>
<rect x="364.28" y="617.04" width="12.84" height="12.92" fill="#fff2ac"/>
<rect x="376.12" y="617.04" width="24.67" height="12.92" fill="#ffffcc"/>
<rect x="399.79" y="617.04" width="12.84" height="12.92" fill="#fff2ac"/>
<rect x="411.63" y="617.04" width="23.67" height="12.92" fill="#ffffcc"/>
<rect x="80.20" y="628.96" width="36.51" height="12.92" fill="#ffffcc"/>
<rect x="115.71" y="628.96" width="12.84" height="12.92" fill="#fff2ac"/>
<rect x="127.55" y="628.96" width="36.51" height="12.92" fill="#ffffcc"/>
<rect x="163.06" y="628.96" width="12.84" height="12.92" fill="#fff2ac"/>
<rect x="174.89" y="628.96" width="12.84" height="12.92" fill="#ffffcc"/>
<rect x="186.73" y="628.96" width="12.84" height="12.92" fill="#fff2ac"/>
<rect x="198.57" y="628.96" width="12.84" height="12.92" fill="#ffe48d"/>
<rect x="210.40" y="628.96" width="12.84" height="12.92" fill="#ffffcc"/>
<rect x="222.24" y="628.96" width="12.84" height="12.92" fill="#fed36f"/>
<rect x="234.08" y="628.96" width="12.84" height="12.92" fill="#feb54f"/>
<rect x="245.91" y="628.96" width="12.84" height="12.92" fill="#ffe48d"/>
<rect x="257.75" y="628.96" width="12.84" height="12.92" fill="#fed36f"/>
<rect x="269.59" y="628.96" width="24.67" height="12.92" fill="#fff2ac"/>
<rect x="293.26" y="628.96" width="12.84" height="12.92" fill="#feb54f"/>
<rect x="305.10" y="628.96" width="12.84" height="12.92" fill="#ffe48d"/>
<rect x="316.93" y="628.96" width="24.67" height="12.92" fill="#ffffcc"/>
<rect x="340.61" y="628.96" width="48.35" height="12.92" fill="#fff2ac"/>
<rect x="387.95" y="628.96" width="47.35" height="12.92" fill="#ffffcc"/>
<rect x="80.20" y="640.89" width="24.67" height="12.92" fill="#ffffcc"/>
<rect x="103.87" y="640.89" width="12.84" height="12.92" fill="#ffe48d"/>
<rect x="115.71" y="640.89" width="12.84" height="12.92" fill="#fff2ac"/>
<rect x="127.55" y="640.89" width="36.51" height="12.92" fill="#ffffcc"/>
<rect x="163.06" y="640.89" width="36.51" height="12.92" fill="#ffe48d"/>
<rect x="198.57" y="640.89" width="12.84" height="12.92" fill="#ffffcc"/>
<rect x="210.40" y="640.89" width="24.67" height="12.92" fill="#ffe48d"/>
<rect x="234.08" y="640.89" width="24.67" height="12.92" fill="#feb54f"/>
<rect x="257.75" y="640.89" width="12.84" height="12.92" fill="#fed36f"/>
<rect x="269.59" y="640.89" width="12.84" height="12.92" fill="#ffffcc"/>
<rect x="281.42" y="640.89" width="12.84" height="12.92" fill="#feb54f"/>
<rect x="293.26" y="640.89" width="12.84" height="12.92" fill="#ffe48d"/>
<rect x="305.10" y="640.89" width="12.84" height="12.92" fill="#ffffcc"/>
<rect x="316.93" y="640.89" width="12.84" height="12.92" fill="#ffe48d"/>
<rect x="328.77" y="640.89" width="12.84" height="12.92" fill="#fff2ac"/>
<rect x="340.61" y="640.89" width="12.84" height="12.92" fill="#ffffcc"/>
<rect x="352.44" y="640.89" width="12.84" height="12.92" fill="#fff2ac"/>
<rect x="364.28" y="640.89" width="12.84" height="12.92" fill="#ffe48d"/>
<rect x="376.12" y="640.89" width="59.18" height="12.92" fill="#ffffcc"/>
<rect x="80.20" y="652.81" width="36.51" height="12.92" fill="#ffffcc"/>
<rect x="115.71" y="652.81" width="12.84" height="12.92" fill="#fff2ac"/>
<rect x="127.55" y="652.81" width="24.67" height="12.92" fill="#ffffcc"/>
<rect x="151.22" y="652.81" width="36.51" height="12.92" fill="#fff2ac"/>
<rect x="186.73" y="652.81" width="12.84" height="12.92" fill="#fed36f"/>
<rect x="198.57" y="652.81" width="12.84" height="12.92" fill="#ffe48d"/>
<rect x="210.40" y="652.81" width="12.84" height="12.92" fill="#fd7536"/>
<rect x="222.24" y="652.81" width="12.84" height="12.92" fill="#ffe48d"/>
<rect x="234.08" y="652.81" width="12.84" height="12.92" fill="#e6221e"/>
<rect x="245.91" y="652.81" width="24.67" height="12.92" fill="#ffe48d"/>
<rect x="269.59" y="652.81" width="12.84" height="12.92" fill="#fed36f"/>
<rect x="281.42" y="652.81" width="12.84" height="12.92" fill="#fd7536"/>
<rect x="293.26" y="652.81" width="12.84" height="12.92" fill="#fed36f"/>
<rect x="305.10" y="652.81" width="12.84" height="12.92" fill="#ffe48d"/>
<rect x="316.93" y="652.81" width="12.84" height="12.92" fill="#feb54f"/>
<rect x="328.77" y="652.81" width="12.84" height="12.92" fill="#ffffcc"/>
<rect x="340.61" y="652.81" width="36.51" height="12.92" fill="#fff2ac"/>
<rect x="376.12" y="652.81" width="59.18" height="12.92" fill="#ffffcc"/>
<rect x="80.20" y="664.73" width="36.51" height="12.92" fill="#ffffcc"/>
<rect x="115.71" y="664.73" width="48.35" height="12.92" fill="#fff2ac"/>
<rect x="163.06" y="664.73" width="12.84" height="12.92" fill="#fed36f"/>
<rect x="174.89" y="664.73" width="12.84" height="12.92" fill="#ffe48d"/>
<rect x="186.73" y="664.73" width="12.84" height="12.92" fill="#fd7536"/>
<rect x="198.57" y="664.73" width="12.84" height="12.92" fill="#fed36f"/>
<rect x="210.40" y="664.73" width="36.51" height="12.92" fill="#ffe48d"/>
<rect x="245.91" y="664.73" width="12.84" height="12.92" fill="#feb54f"/>
<rect x="257.75" y="664.73" width="12.84" height="12.92" fill="#fed36f"/>
<rect x="269.59" y="664.73" width="12.84" height="12.92" fill="#ffe48d"/>
<rect x="281.42" y="664.73" width="12.84" height="12.92" fill="#fed36f"/>
<rect x="293.26" y="664.73" width="12.84" height="12.92" fill="#fff2ac"/>
<rect x="305.10" y="664.73" width="12.84" height="12.92" fill="#e6221e"/>
<rect x="316.93" y="664.73" width="12.84" height="12.92" fill="#fd9a42"/>
<rect x="328.77" y="664.73" width="12.84" height="12.92" fill="#ffffcc"/>
<rect x="340.61" y="664.73" width="36.51" height="12.92" fill="#fff2ac"/>
<rect x="376.12" y="664.73" width="24.67" height="12.92" fill="#ffffcc"/>
<rect x="399.79" y="664.73" width="12.84" height="12.92" fill="#fff2ac"/>
<rect x="411.63" y="664.73" width="12.84" height="12.92" fill="#ffffcc"/>
<rect x="423.46" y="664.73" width="11.84" height="12.92" fill="#fff2ac"/>
<rect x="80.20" y="676.66" width="36.51" height="12.92" fill="#ffffcc"/>
<rect x="115.71" y="676.66" width="60.18" height="12.92" fill="#fff2ac"/>
<rect x="174.89" y="676.66" width="12.84" height="12.92" fill="#fed36f"/>
<rect x="186.73" y="676.66" width="12.84" height="12.92" fill="#fff2ac"/>
<rect x="198.57" y="676.66" width="12.84" height="12.92" fill="#fed36f"/>
<rect x="210.40" y="676.66" width="12.84" height="12.92" fill="#fff2ac"/>
<rect x="222.24" y="676.66" width="12.84" height="12.92" fill="#ffe48d"/>
<rect x="234.08" y="676.66" width="12.84" height="12.92" fill="#fed36f"/>
<rect x="245.91" y="676.66" width="12.84" height="12.92" fill="#feb54f"/>
<rect x="257.75" y="676.66" width="12.84" height="12.92" fill="#fd7536"/>
<rect x="269.59" y="676.66" width="12.84" height="12.92" fill="#feb54f"/>
<rect x="281.42" y="676.66" width="12.84" height="12.92" fill="#ffe48d"/>
<rect x="293.26" y="676.66" width="12.84" height="12.92" fill="#fd9a42"/>
<rect x="305.10" y="676.66" width="12.84" height="12.92" fill="#fff2ac"/>
<rect x="316.93" y="676.66" width="12.84" height="12.92" fill="#fd9a42"/>
<rect x="328.77" y="676.66" width="12.84" height="12.92" fill="#fff2ac"/>
<rect x="340.61" y="676.66" width="12.84" height="12.92" fill="#fd9a42"/>
<rect x="352.44" y="676.66" width="12.84" height="12.92" fill="#fed36f"/>
<rect x="364.28" y="676.66" width="12.84" height="12.92" fill="#fff2ac"/>
<rect x="376.12" y="676.66" width="24.67" height="12.92" fill="#ffffcc"/>
<rect x="399.79" y="676.66" width="12.84" height="12.92" fill="#fff2ac"/>
<rect x="411.63" y="676.66" width="12.84" height="12.92" fill="#ffe48d"/>
<rect x="423.46" y="676.66" width="11.84" height="12.92" fill="#ffffcc"/>
<rect x="80.20" y="688.58" width="48.35" height="12.92" fill="#ffffcc"/>
<rect x="127.55" y="688.58" width="24.67" height="12.92" fill="#fff2ac"/>
<rect x="151.22" y="688.58" width="60.18" height="12.92" fill="#ffe48d"/>
<rect x="210.40" y="688.58" width="12.84" height="12.92" fill="#fff2ac"/>
<rect x="222.24" y="688.58" width="12.84" height="12.92" fill="#fd7536"/>
<rect x="234.08" y="688.58" width="24.67" height="12.92" fill="#fed36f"/>
<rect x="257.75" y="688.58" width="12.84" height="12.92" fill="#fd9a42"/>
<rect x="269.59" y="688.58" width="12.84" height="12.92" fill="#feb54f"/>
<rect x="281.42" y="688.58" width="12.84" height="12.92" fill="#ffffcc"/>
<rect x="293.26" y="688.58" width="24.67" height="12.92" fill="#fd9a42"/>
<rect x="316.93" y="688.58" width="12.84" height="12.92" fill="#fd7536"/>
<rect x="328.77" y="688.58" width="12.84" height="12.92" fill="#ffe48d"/>
<rect x="340.61" y="688.58" width="12.84" height="12.92" fill="#fff2ac"/>
<rect x="352.44" y="688.58" width="12.84" height="12.92" fill="#ffffcc"/>
<rect x="364.28" y="688.58" width="36.51" height="12.92" fill="#fff2ac"/>
<rect x="399.79" y="688.58" width="35.51" height="12.92" fill="#ffffcc"/>
<rect x="80.20" y="700.50" width="36.51" height="12.92" fill="#ffffcc"/>
<rect x="115.71" y="700.50" width="24.67" height="12.92" fill="#ffe48d"/>
<rect x="139.38" y="700.50" width="12.84" height="12.92" fill="#ffffcc"/>
<rect x="151.22" y="700.50" width="12.84" height="12.92" fill="#ffe48d"/>
<rect x="163.06" y="700.50" width="24.67" height="12.92" fill="#fed36f"/>
<rect x="186.73" y="700.50" width="24.67" height="12.92" fill="#feb54f"/>
<rect x="210.40" y="700.50" width="12.84" height="12.92" fill="#fed36f"/>
<rect x="222.24" y="700.50" width="12.84" height="12.92" fill="#feb54f"/>
<rect x="234.08" y="700.50" width="12.84" height="12.92" fill="#fed36f"/>
<rect x="245.91" y="700.50" width="12.84" height="12.92" fill="#ffe48d"/>
<rect x="257.75" y="700.50" width="12.84" height="12.92" fill="#fed36f"/>
<rect x="269.59" y="700.50" width="12.84" height="12.92" fill="#ffe48d"/>
<rect x="281.42" y="700.50" width="12.84" height="12.92" fill="#fd7536"/>
<rect x="293.26" y="700.50" width="12.84" height="12.92" fill="#fed36f"/>
<rect x="305.10" y="700.50" width="12.84" height="12.92" fill="#feb54f"/>
<rect x="316.93" y="700.50" width="12.84" height="12.92" fill="#fed36f"/>
<rect x="328.77" y="700.50" width="12.84" height="12.92" fill="#fff2ac"/>
<rect x="340.61" y="700.50" width="12.84" height="12.92" fill="#fed36f"/>
<rect x="352.44" y="700.50" width="12.84" height="12.92" fill="#ffe48d"/>
<rect x="364.28" y="700.50" width="12.84" height="12.92" fill="#ffffcc"/>
<rect x="376.12" y="700.50" width="12.84" height="12.92" fill="#ffe48d"/>
<rect x="387.95" y="700.50" width="12.84" height="12.92" fill="#fff2ac"/>
<rect x="399.79" y="700.50" width="35.51" height="12.92" fill="#ffffcc"/>
<rect x="80.20" y="712.43" width="72.02" height="12.92" fill="#ffffcc"/>
<rect x="151.22" y="712.43" width="12.84" height="12.92" fill="#fff2ac"/>
<rect x="163.06" y="712.43" width="12.84" height="12.92" fill="#fed36f"/>
<rect x="174.89" y="712.43" width="12.84" height="12.92" fill="#fff2ac"/>
<rect x="186.73" y="712.43" width="12.84" height="12.92" fill="#feb54f"/>
<rect x="198.57" y="712.43" width="12.84" height="12.92" fill="#fed36f"/>
<rect x="210.40" y="712.43" width="24.67" height="12.92" fill="#feb54f"/>
<rect x="234.08" y="712.43" width="12.84" height="12.92" fill="#fd7536"/>
<rect x="245.91" y="712.43" width="12.84" height="12.92" fill="#fed36f"/>
<rect x="257.75" y="712.43" width="12.84" height="12.92" fill="#cc0b22"/>
<rect x="269.59" y="712.43" width="12.84" height="12.92" fill="#fed36f"/>
<rect x="281.42" y="712.43" width="12.84" height="12.92" fill="#fd7536"/>
<rect x="293.26" y="712.43" width="12.84" height="12.92" fill="#fa4929"/>
<rect x="305.10" y="712.43" width="36.51" height="12.92" fill="#feb54f"/>
<rect x="340.61" y="712.43" width="12.84" height="12.92" fill="#ffe48d"/>
<rect x="352.44" y="712.43" width="12.84" height="12.92" fill="#ffffcc"/>
<rect x="364.28" y="712.43" width="12.84" height="12.92" fill="#fed36f"/>
<rect x="376.12" y="712.43" width="12.84" height="12.92" fill="#ffe48d"/>
<rect x="387.95" y="712.43" width="24.67" height="12.92" fill="#fff2ac"/>
<rect x="411.63" y="712.43" width="23.67" height="12.92" fill="#ffffcc"/>
<rect x="80.20" y="724.35" width="48.35" height="12.92" fill="#ffffcc"/>
<rect x="127.55" y="724.35" width="12.84" height="12.92" fill="#fff2ac"/>
<rect x="139.38" y="724.35" width="12.84" height="12.92" fill="#feb54f"/>
<rect x="151.22" y="724.35" width="12.84" height="12.92" fill="#ffe48d"/>
<rect x="163.06" y="724.35" width="24.67" height="12.92" fill="#fff2ac"/>
<rect x="186.73" y="724.35" width="12.84" height="12.92" fill="#ffe48d"/>
<rect x="198.57" y="724.35" width="12.84" height="12.92" fill="#feb54f"/>
<rect x="210.40" y="724.35" width="12.84" height="12.92" fill="#fed36f"/>
<rect x="222.24" y="724.35" width="12.84" height="12.92" fill="#fd9a42"/>
<rect x="234.08" y="724.35" width="12.84" height="12.92" fill="#fd7536"/>
<rect x="245.91" y="724.35" width="12.84" height="12.92" fill="#ffe48d"/>
<rect x="257.75" y="724.35" width="12.84" height="12.92" fill="#fed36f"/>
<rect x="269.59" y="724.35" width="12.84" height="12.92" fill="#ab0026"/>
<rect x="281.42" y="724.35" width="12.84" height="12.92" fill="#fd9a42"/>
<rect x="293.26" y="724.35" width="12.84" height="12.92" fill="#fd7536"/>
<rect x="305.10" y="724.35" width="12.84" height="12.92" fill="#ffffcc"/>
<rect x="316.93" y="724.35" width="24.67" height="12.92" fill="#ffe48d"/>
<rect x="340.61" y="724.35" width="12.84" height="12.92" fill="#fd9a42"/>
<rect x="352.44" y="724.35" width="12.84" height="12.92" fill="#fed36f"/>
<rect x="364.28" y="724.35" width="12.84" height="12.92" fill="#ffe48d"/>
<rect x="376.12" y="724.35" width="36.51" height="12.92" fill="#ffffcc"/>
<rect x="411.63" y="724.35" width="12.84" height="12.92" fill="#fff2ac"/>
<rect x="423.46" y="724.35" width="11.84" height="12.92" fill="#ffffcc"/>
<rect x="80.20" y="736.27" width="24.67" height="12.92" fill="#ffffcc"/>
<rect x="103.87" y="736.27" width="12.84" height="12.92" fill="#fff2ac"/>
<rect x="115.71" y="736.27" width="12.84" height="12.92" fill="#ffffcc"/>
<rect x="127.55" y="736.27" width="12.84" height="12.92" fill="#ffe48d"/>
<rect x="139.38" y="736.27" width="12.84" height="12.92" fill="#fff2ac"/>
<rect x="151.22" y="736.27" width="12.84" height="12.92" fill="#ffe48d"/>
<rect x="163.06" y="736.27" width="12.84" height="12.92" fill="#fd9a42"/>
<rect x="174.89" y="736.27" width="12.84" height="12.92" fill="#ffe48d"/>
<rect x="186.73" y="736.27" width="12.84" height="12.92" fill="#fed36f"/>
<rect x="198.57" y="736.27" width="36.51" height="12.92" fill="#fd9a42"/>
<rect x="234.08" y="736.27" width="12.84" height="12.92" fill="#fff2ac"/>
<rect x="245.91" y="736.27" width="12.84" height="12.92" fill="#fd7536"/>
<rect x="257.75" y="736.27" width="12.84" height="12.92" fill="#fed36f"/>
<rect x="269.59" y="736.27" width="12.84" height="12.92" fill="#feb54f"/>
<rect x="281.42" y="736.27" width="12.84" height="12.92" fill="#800026"/>
<rect x="293.26" y="736.27" width="12.84" height="12.92" fill="#feb54f"/>
<rect x="305.10" y="736.27" width="12.84" height="12.92" fill="#ffe48d"/>
<rect x="316.93" y="736.27" width="12.84" height="12.92" fill="#feb54f"/>
<rect x="328.77" y="736.27" width="36.51" height="12.92" fill="#ffe48d"/>
<rect x="364.28" y="736.27" width="12.84" height="12.92" fill="#ffffcc"/>
<rect x="376.12" y="736.27" width="12.84" height="12.92" fill="#ffe48d"/>
<rect x="387.95" y="736.27" width="47.35" height="12.92" fill="#fff2ac"/>
<rect x="80.20" y="748.20" width="12.84" height="12.92" fill="#fff2ac"/>
<rect x="92.04" y="748.20" width="24.67" height="12.92" fill="#ffffcc"/>
<rect x="115.71" y="748.20" width="12.84" height="12.92" fill="#fed36f"/>
<rect x="127.55" y="748.20" width="12.84" height="12.92" fill="#ffffcc"/>
<rect x="139.38" y="748.20" width="12.84" height="12.92" fill="#fff2ac"/>
<rect x="151.22" y="748.20" width="12.84" height="12.92" fill="#fed36f"/>
<rect x="163.06" y="748.20" width="24.67" height="12.92" fill="#ffffcc"/>
<rect x="186.73" y="748.20" width="12.84" height="12.92" fill="#fd9a42"/>
<rect x="198.57" y="748.20" width="12.84" height="12.92" fill="#ffffcc"/>
<rect x="210.40" y="748.20" width="12.84" height="12.92" fill="#fd7536"/>
<rect x="222.24" y="748.20" width="12.84" height="12.92" fill="#cc0b22"/>
<rect x="234.08" y="748.20" width="12.84" height="12.92" fill="#fd7536"/>
<rect x="245.91" y="748.20" width="12.84" height="12.92" fill="#ffe48d"/>
<rect x="257.75" y="748.20" width="12.84" height="12.92" fill="#fd9a42"/>
<rect x="269.59" y="748.20" width="12.84" height="12.92" fill="#fa4929"/>
<rect x="281.42" y="748.20" width="12.84" height="12.92" fill="#fed36f"/>
<rect x="293.26" y="748.20" width="24.67" height="12.92" fill="#feb54f"/>
<rect x="316.93" y="748.20" width="12.84" height="12.92" fill="#fd7536"/>
<rect x="328.77" y="748.20" width="12.84" height="12.92" fill="#fd9a42"/>
<rect x="340.61" y="748.20" width="12.84" height="12.92" fill="#fd7536"/>
<rect x="352.44" y="748.20" width="12.84" height="12.92" fill="#ffe48d"/>
<rect x="364.28" y="748.20" width="12.84" height="12.92" fill="#ffffcc"/>
<rect x="376.12" y="748.20" width="12.84" height="12.92" fill="#ffe48d"/>
<rect x="387.95" y="748.20" width="24.67" height="12.92" fill="#fff2ac"/>
<rect x="411.63" y="748.20" width="12.84" height="12.92" fill="#ffe48d"/>
<rect x="423.46" y="748.20" width="11.84" height="12.92" fill="#ffffcc"/>
<rect x="80.20" y="760.12" width="12.84" height="12.92" fill="#fff2ac"/>
<rect x="92.04" y="760.12" width="24.67" height="12.92" fill="#ffffcc"/>
<rect x="115.71" y="760.12" width="12.84" height="12.92" fill="#fff2ac"/>
<rect x="127.55" y="760.12" width="12.84" height="12.92" fill="#ffffcc"/>
<rect x="139.38" y="760.12" width="12.84" height="12.92" fill="#feb54f"/>
<rect x="151.22" y="760.12" width="48.35" height="12.92" fill="#ffe48d"/>
<rect x="198.57" y="760.12" width="12.84" height="12.92" fill="#fed36f"/>
<rect x="210.40" y="760.12" width="12.84" height="12.92" fill="#feb54f"/>
<rect x="222.24" y="760.12" width="12.84" height="12.92" fill="#fd9a42"/>
<rect x="234.08" y="760.12" width="36.51" height="12.92" fill="#fed36f"/>
<rect x="269.59" y="760.12" width="12.84" height="12.92" fill="#fd9a42"/>
<rect x="281.42" y="760.12" width="12.84" height="12.92" fill="#fa4929"/>
<rect x="293.26" y="760.12" width="12.84" height="12.92" fill="#feb54f"/>
<rect x="305.10" y="760.12" width="12.84" height="12.92" fill="#fd9a42"/>
<rect x="316.93" y="760.12" width="12.84" height="12.92" fill="#fff2ac"/>
<rect x="328.77" y="760.12" width="12.84" height="12.92" fill="#ffffcc"/>
<rect x="340.61" y="760.12" width="24.67" height="12.92" fill="#fed36f"/>
<rect x="364.28" y="760.12" width="12.84" height="12.92" fill="#ffe48d"/>
<rect x="376.12" y="760.12" width="12.84" height="12.92" fill="#ffffcc"/>
<rect x="387.95" y="760.12" width="12.84" height="12.92" fill="#fed36f"/>
<rect x="399.79" y="760.12" width="12.84" height="12.92" fill="#fff2ac"/>
<rect x="411.63" y="760.12" width="23.67" height="12.92" fill="#ffffcc"/>
<rect x="80.20" y="772.04" width="36.51" height="12.92" fill="#ffffcc"/>
<rect x="115.71" y="772.04" width="24.67" height="12.92" fill="#fff2ac"/>
<rect x="139.38" y="772.04" width="12.84" height="12.92" fill="#fd9a42"/>
<rect x="151.22" y="772.04" width="24.67" height="12.92" fill="#ffffcc"/>
<rect x="174.89" y="772.04" width="12.84" height="12.92" fill="#feb54f"/>
<rect x="186.73" y="772.04" width="12.84" height="12.92" fill="#fff2ac"/>
<rect x="198.57" y="772.04" width="12.84" height="12.92" fill="#ffffcc"/>
<rect x="210.40" y="772.04" width="12.84" height="12.92" fill="#ffe48d"/>
<rect x="222.24" y="772.04" width="12.84" height="12.92" fill="#feb54f"/>
<rect x="234.08" y="772.04" width="12.84" height="12.92" fill="#fd7536"/>
<rect x="245.91" y="772.04" width="12.84" height="12.92" fill="#feb54f"/>
<rect x="257.75" y="772.04" width="12.84" height="12.92" fill="#ffe48d"/>
<rect x="269.59" y="772.04" width="12.84" height="12.92" fill="#feb54f"/>
<rect x="281.42" y="772.04" width="12.84" height="12.92" fill="#fed36f"/>
<rect x="293.26" y="772.04" width="12.84" height="12.92" fill="#fd7536"/>
<rect x="305.10" y="772.04" width="12.84" height="12.92" fill="#fed36f"/>
<rect x="316.93" y="772.04" width="12.84" height="12.92" fill="#fff2ac"/>
<rect x="328.77" y="772.04" width="12.84" height="12.92" fill="#fd9a42"/>
<rect x="340.61" y="772.04" width="12.84" height="12.92" fill="#e6221e"/>
<rect x="352.44" y="772.04" width="12.84" height="12.92" fill="#fff2ac"/>
<rect x="364.28" y="772.04" width="24.67" height="12.92" fill="#ffffcc"/>
<rect x="387.95" y="772.04" width="12.84" height="12.92" fill="#ffe48d"/>
<rect x="399.79" y="772.04" width="35.51" height="12.92" fill="#ffffcc"/>
<rect x="80.20" y="783.97" width="60.18" height="12.92" fill="#ffffcc"/>
<rect x="139.38" y="783.97" width="12.84" height="12.92" fill="#ffe48d"/>
<rect x="151.22" y="783.97" width="24.67" height="12.92" fill="#fff2ac"/>
<rect x="174.89" y="783.97" width="36.51" height="12.92" fill="#ffe48d"/>
<rect x="210.40" y="783.97" width="12.84" height="12.92" fill="#fed36f"/>
<rect x="222.24" y="783.97" width="12.84" height="12.92" fill="#fd9a42"/>
<rect x="234.08" y="783.97" width="12.84" height="12.92" fill="#fed36f"/>
<rect x="245.91" y="783.97" width="12.84" height="12.92" fill="#ffe48d"/>
<rect x="257.75" y="783.97" width="12.84" height="12.92" fill="#feb54f"/>
<rect x="269.59" y="783.97" width="24.67" height="12.92" fill="#fed36f"/>
<rect x="293.26" y="783.97" width="24.67" height="12.92" fill="#fd9a42"/>
<rect x="316.93" y="783.97" width="12.84" height="12.92" fill="#feb54f"/>
<rect x="328.77" y="783.97" width="24.67" height="12.92" fill="#ffe48d"/>
<rect x="352.44" y="783.97" width="24.67" height="12.92" fill="#ffffcc"/>
<rect x="376.12" y="783.97" width="12.84" height="12.92" fill="#fff2ac"/>
<rect x="387.95" y="783.97" width="47.35" height="12.92" fill="#ffffcc"/>
<rect x="80.20" y="795.89" width="72.02" height="12.92" fill="#ffffcc"/>
<rect x="151.22" y="795.89" width="12.84" height="12.92" fill="#fff2ac"/>
<rect x="163.06" y="795.89" width="12.84" height="12.92" fill="#fed36f"/>
<rect x="174.89" y="795.89" width="12.84" height="12.92" fill="#ffffcc"/>
<rect x="186.73" y="795.89" width="12.84" height="12.92" fill="#ffe48d"/>
<rect x="198.57" y="795.89" width="12.84" height="12.92" fill="#fff2ac"/>
<rect x="210.40" y="795.89" width="12.84" height="12.92" fill="#feb54f"/>
<rect x="222.24" y="795.89" width="12.84" height="12.92" fill="#fff2ac"/>
<rect x="234.08" y="795.89" width="12.84" height="12.92" fill="#fed36f"/>
<rect x="245.91" y="795.89" width="12.84" height="12.92" fill="#fff2ac"/>
<rect x="257.75" y="795.89" width="12.84" height="12.92" fill="#fed36f"/>
<rect x="269.59" y="795.89" width="12.84" height="12.92" fill="#fff2ac"/>
<rect x="281.42" y="795.89" width="24.67" height="12.92" fill="#ffe48d"/>
<rect x="305.10" y="795.89" width="12.84" height="12.92" fill="#fd9a42"/>
<rect x="316.93" y="795.89" width="12.84" height="12.92" fill="#fed36f"/>
<rect x="328.77" y="795.89" width="12.84" height="12.92" fill="#feb54f"/>
<rect x="340.61" y="795.89" width="12.84" height="12.92" fill="#ffffcc"/>
<rect x="352.44" y="795.89" width="12.84" height="12.92" fill="#ffe48d"/>
<rect x="364.28" y="795.89" width="60.18" height="12.92" fill="#ffffcc"/>
<rect x="423.46" y="795.89" width="11.84" height="12.92" fill="#ffe48d"/>
<rect x="80.20" y="807.81" width="60.18" height="12.92" fill="#ffffcc"/>
<rect x="139.38" y="807.81" width="12.84" height="12.92" fill="#fff2ac"/>
<rect x="151.22" y="807.81" width="12.84" height="12.92" fill="#ffffcc"/>
<rect x="163.06" y="807.81" width="24.67" height="12.92" fill="#fff2ac"/>
<rect x="186.73" y="807.81" width="24.67" height="12.92" fill="#ffe48d"/>
<rect x="210.40" y="807.81" width="12.84" height="12.92" fill="#fff2ac"/>
<rect x="222.24" y="807.81" width="12.84" height="12.92" fill="#feb54f"/>
<rect x="234.08" y="807.81" width="24.67" height="12.92" fill="#ffe48d"/>
<rect x="257.75" y="807.81" width="12.84" height="12.92" fill="#fed36f"/>
<rect x="269.59" y="807.81" width="12.84" height="12.92" fill="#feb54f"/>
<rect x="281.42" y="807.81" width="24.67" height="12.92" fill="#fff2ac"/>
<rect x="305.10" y="807.81" width="12.84" height="12.92" fill="#ffe48d"/>
<rect x="316.93" y="807.81" width="12.84" height="12.92" fill="#fff2ac"/>
<rect x="328.77" y="807.81" width="12.84" height="12.92" fill="#ffffcc"/>
<rect x="340.61" y="807.81" width="12.84" height="12.92" fill="#fff2ac"/>
<rect x="352.44" y="807.81" width="12.84" height="12.92" fill="#ffe48d"/>
<rect x="364.28" y="807.81" width="12.84" height="12.92" fill="#fed36f"/>
<rect x="376.12" y="807.81" width="48.35" height="12.92" fill="#ffffcc"/>
<rect x="423.46" y="807.81" width="11.84" height="12.92" fill="#fff2ac"/>
<rect x="80.20" y="819.74" width="60.18" height="12.92" fill="#ffffcc"/>
<rect x="139.38" y="819.74" width="12.84" height="12.92" fill="#ffe48d"/>
<rect x="151.22" y="819.74" width="12.84" height="12.92" fill="#fff2ac"/>
<rect x="163.06" y="819.74" width="12.84" height="12.92" fill="#fed36f"/>
<rect x="174.89" y="819.74" width="72.02" height="12.92" fill="#fff2ac"/>
<rect x="245.91" y="819.74" width="12.84" height="12.92" fill="#fed36f"/>
<rect x="257.75" y="819.74" width="12.84" height="12.92" fill="#ffe48d"/>
<rect x="269.59" y="819.74" width="12.84" height="12.92" fill="#ffffcc"/>
<rect x="281.42" y="819.74" width="12.84" height="12.92" fill="#fff2ac"/>
<rect x="293.26" y="819.74" width="12.84" height="12.92" fill="#ffe48d"/>
<rect x="305.10" y="819.74" width="12.84" height="12.92" fill="#fff2ac"/>
<rect x="316.93" y="819.74" width="12.84" height="12.92" fill="#ffffcc"/>
<rect x="328.77" y="819.74" width="12.84" height="12.92" fill="#ffe48d"/>
<rect x="340.61" y="819.74" width="12.84" height="12.92" fill="#ffffcc"/>
<rect x="352.44" y="819.74" width="24.67" height="12.92" fill="#fff2ac"/>
<rect x="376.12" y="819.74" width="48.35" height="12.92" fill="#ffffcc"/>
<rect x="423.46" y="819.74" width="11.84" height="12.92" fill="#fff2ac"/>
<rect x="80.20" y="831.66" width="60.18" height="12.92" fill="#ffffcc"/>
<rect x="139.38" y="831.66" width="12.84" height="12.92" fill="#fff2ac"/>
<rect x="151.22" y="831.66" width="12.84" height="12.92" fill="#ffffcc"/>
<rect x="163.06" y="831.66" width="12.84" height="12.92" fill="#fff2ac"/>
<rect x="174.89" y="831.66" width="24.67" height="12.92" fill="#ffffcc"/>
<rect x="198.57" y="831.66" width="12.84" height="12.92" fill="#fff2ac"/>
<rect x="210.40" y="831.66" width="72.02" height="12.92" fill="#ffffcc"/>
<rect x="281.42" y="831.66" width="12.84" height="12.92" fill="#fff2ac"/>
<rect x="293.26" y="831.66" width="12.84" height="12.92" fill="#ffffcc"/>
<rect x="305.10" y="831.66" width="24.67" height="12.92" fill="#fff2ac"/>
<rect x="328.77" y="831.66" width="12.84" height="12.92" fill="#ffe48d"/>
<rect x="340.61" y="831.66" width="94.69" height="12.92" fill="#ffffcc"/>
<rect x="80.20" y="843.58" width="131.20" height="12.92" fill="#ffffcc"/>
<rect x="210.40" y="843.58" width="12.84" height="12.92" fill="#fff2ac"/>
<rect x="222.24" y="843.58" width="12.84" height="12.92" fill="#ffffcc"/>
<rect x="234.08" y="843.58" width="12.84" height="12.92" fill="#ffe48d"/>
<rect x="245.91" y="843.58" width="12.84" height="12.92" fill="#fff2ac"/>
<rect x="257.75" y="843.58" width="12.84" height="12.92" fill="#ffffcc"/>
<rect x="269.59" y="843.58" width="12.84" height="12.92" fill="#ffe48d"/>
<rect x="281.42" y="843.58" width="60.18" height="12.92" fill="#ffffcc"/>
<rect x="340.61" y="843.58" width="12.84" height="12.92" fill="#ffe48d"/>
<rect x="352.44" y="843.58" width="12.84" height="12.92" fill="#fff2ac"/>
<rect x="364.28" y="843.58" width="12.84" height="12.92" fill="#ffffcc"/>
<rect x="376.12" y="843.58" width="12.84" height="12.92" fill="#fff2ac"/>
<rect x="387.95" y="843.58" width="47.35" height="12.92" fill="#ffffcc"/>
<rect x="80.20" y="855.51" width="83.86" height="12.92" fill="#ffffcc"/>
<rect x="163.06" y="855.51" width="24.67" height="12.92" fill="#fff2ac"/>
<rect x="186.73" y="855.51" width="12.84" height="12.92" fill="#fed36f"/>
<rect x="198.57" y="855.51" width="24.67" height="12.92" fill="#ffffcc"/>
<rect x="222.24" y="855.51" width="12.84" height="12.92" fill="#fff2ac"/>
<rect x="234.08" y="855.51" width="12.84" height="12.92" fill="#ffffcc"/>
<rect x="245.91" y="855.51" width="12.84" height="12.92" fill="#fed36f"/>
<rect x="257.75" y="855.51" width="12.84" height="12.92" fill="#fff2ac"/>
<rect x="269.59" y="855.51" width="12.84" height="12.92" fill="#ffffcc"/>
<rect x="281.42" y="855.51" width="12.84" height="12.92" fill="#fff2ac"/>
<rect x="293.26" y="855.51" width="12.84" height="12.92" fill="#ffffcc"/>
<rect x="305.10" y="855.51" width="12.84" height="12.92" fill="#ffe48d"/>
<rect x="316.93" y="855.51" width="118.37" height="12.92" fill="#ffffcc"/>
<rect x="80.20" y="867.43" width="166.71" height="12.92" fill="#ffffcc"/>
<rect x="245.91" y="867.43" width="12.84" height="12.92" fill="#fff2ac"/>
<rect x="257.75" y="867.43" width="83.86" height="12.92" fill="#ffffcc"/>
<rect x="340.61" y="867.43" width="12.84" height="12.92" fill="#fff2ac"/>
<rect x="352.44" y="867.43" width="82.86" height="12.92" fill="#ffffcc"/>
<rect x="80.20" y="879.35" width="237.73" height="12.92" fill="#ffffcc"/>
<rect x="316.93" y="879.35" width="12.84" height="12.92" fill="#fff2ac"/>
<rect x="328.77" y="879.35" width="106.53" height="12.92" fill="#ffffcc"/>
<rect x="80.20" y="891.28" width="202.22" height="11.92" fill="#ffffcc"/>
<rect x="281.42" y="891.28" width="12.84" height="11.92" fill="#fff2ac"/>
<rect x="293.26" y="891.28" width="142.04" height="11.92" fill="#ffffcc"/>
<rect x="80.20" y="545.50" width="355.10" height="357.70" fill="none" stroke="#000" stroke-width="5.3"/>
<line x1="134.50" y1="903.20" x2="134.50" y2="909.50" stroke="#000" stroke-width="1.6"/>
<text x="134.50" y="928.90" font-size="18" text-anchor="middle" >−2</text>
<line x1="242.50" y1="903.20" x2="242.50" y2="909.50" stroke="#000" stroke-width="1.6"/>
<text x="242.50" y="928.90" font-size="18" text-anchor="middle" >0</text>
<line x1="350.50" y1="903.20" x2="350.50" y2="909.50" stroke="#000" stroke-width="1.6"/>
<text x="350.50" y="928.90" font-size="18" text-anchor="middle" >2</text>
<line x1="80.20" y1="566.40" x2="73.90" y2="566.40" stroke="#000" stroke-width="1.6"/>
<text x="67.60" y="573.00" font-size="18" text-anchor="end" >3</text>
<line x1="80.20" y1="620.40" x2="73.90" y2="620.40" stroke="#000" stroke-width="1.6"/>
<text x="67.60" y="627.00" font-size="18" text-anchor="end" >2</text>
<line x1="80.20" y1="674.40" x2="73.90" y2="674.40" stroke="#000" stroke-width="1.6"/>
<text x="67.60" y="681.00" font-size="18" text-anchor="end" >1</text>
<line x1="80.20" y1="728.40" x2="73.90" y2="728.40" stroke="#000" stroke-width="1.6"/>
<text x="67.60" y="735.00" font-size="18" text-anchor="end" >0</text>
<line x1="80.20" y1="782.40" x2="73.90" y2="782.40" stroke="#000" stroke-width="1.6"/>
<text x="67.60" y="789.00" font-size="18" text-anchor="end" >−1</text>
<line x1="80.20" y1="836.40" x2="73.90" y2="836.40" stroke="#000" stroke-width="1.6"/>
<text x="67.60" y="843.00" font-size="18" text-anchor="end" >−2</text>
<line x1="80.20" y1="890.40" x2="73.90" y2="890.40" stroke="#000" stroke-width="1.6"/>
<text x="67.60" y="897.00" font-size="18" text-anchor="end" >−3</text>
<text x="257.75" y="535.10" font-size="22.7" text-anchor="middle" >b=0.5, No. of matrices=1</text>
<text x="257.75" y="957.00" font-size="22.7" text-anchor="middle" >Re z</text>
<text transform="translate(31.00,723.75) rotate(-90)" font-size="22.7" text-anchor="middle" >Im z</text>
<rect x="457.50" y="486.70" width="23.70" height="475.40" fill="url(#g)" stroke="#000" stroke-width="5.3"/>
<line x1="481.20" y1="962.10" x2="487.50" y2="962.10" stroke="#000" stroke-width="1.6"/>
<text x="493.80" y="968.70" font-size="18" >0</text>
<line x1="481.20" y1="875.66" x2="487.50" y2="875.66" stroke="#000" stroke-width="1.6"/>
<text x="493.80" y="882.26" font-size="18" >2</text>
<line x1="481.20" y1="789.23" x2="487.50" y2="789.23" stroke="#000" stroke-width="1.6"/>
<text x="493.80" y="795.83" font-size="18" >4</text>
<line x1="481.20" y1="702.79" x2="487.50" y2="702.79" stroke="#000" stroke-width="1.6"/>
<text x="493.80" y="709.39" font-size="18" >6</text>
<line x1="481.20" y1="616.35" x2="487.50" y2="616.35" stroke="#000" stroke-width="1.6"/>
<text x="493.80" y="622.95" font-size="18" >8</text>
<line x1="481.20" y1="529.92" x2="487.50" y2="529.92" stroke="#000" stroke-width="1.6"/>
<text x="493.80" y="536.52" font-size="18" >10</text>
</g>
<g>
<rect x="612.80" y="545.50" width="355.10" height="357.70" fill="#ffffcc"/>
<rect x="612.80" y="545.50" width="119.37" height="12.92" fill="#ffffcc"/>
<rect x="731.17" y="545.50" width="12.84" height="12.92" fill="#fff8bb"/>
<rect x="743.00" y="545.50" width="36.51" height="12.92" fill="#ffffcc"/>
<rect x="778.51" y="545.50" width="12.84" height="12.92" fill="#fff8bb"/>
<rect x="790.35" y="545.50" width="177.55" height="12.92" fill="#ffffcc"/>
<rect x="612.80" y="557.42" width="178.55" height="12.92" fill="#ffffcc"/>
<rect x="790.35" y="557.42" width="12.84" height="12.92" fill="#fff3af"/>
<rect x="802.19" y="557.42" width="48.35" height="12.92" fill="#ffffcc"/>
<rect x="849.53" y="557.42" width="24.67" height="12.92" fill="#fff8bb"/>
<rect x="873.21" y="557.42" width="94.69" height="12.92" fill="#ffffcc"/>
<rect x="612.80" y="569.35" width="72.02" height="12.92" fill="#ffffcc"/>
<rect x="683.82" y="569.35" width="12.84" height="12.92" fill="#fff8bb"/>
<rect x="695.66" y="569.35" width="12.84" height="12.92" fill="#ffffcc"/>
<rect x="707.49" y="569.35" width="24.67" height="12.92" fill="#fff8bb"/>
<rect x="731.17" y="569.35" width="12.84" height="12.92" fill="#ffffcc"/>
<rect x="743.00" y="569.35" width="24.67" height="12.92" fill="#fff8bb"/>
<rect x="766.68" y="569.35" width="36.51" height="12.92" fill="#ffffcc"/>
<rect x="802.19" y="569.35" width="12.84" height="12.92" fill="#fff3af"/>
<rect x="814.02" y="569.35" width="12.84" height="12.92" fill="#fff8bb"/>
<rect x="825.86" y="569.35" width="142.04" height="12.92" fill="#ffffcc"/>
<rect x="612.80" y="581.27" width="36.51" height="12.92" fill="#ffffcc"/>
<rect x="648.31" y="581.27" width="12.84" height="12.92" fill="#fff8bb"/>
<rect x="660.15" y="581.27" width="60.18" height="12.92" fill="#ffffcc"/>
<rect x="719.33" y="581.27" width="12.84" height="12.92" fill="#fff8bb"/>
<rect x="731.17" y="581.27" width="12.84" height="12.92" fill="#ffffcc"/>
<rect x="743.00" y="581.27" width="12.84" height="12.92" fill="#fff8bb"/>
<rect x="754.84" y="581.27" width="36.51" height="12.92" fill="#ffffcc"/>
<rect x="790.35" y="581.27" width="36.51" height="12.92" fill="#fff8bb"/>
<rect x="825.86" y="581.27" width="142.04" height="12.92" fill="#ffffcc"/>
<rect x="612.80" y="593.19" width="107.53" height="12.92" fill="#ffffcc"/>
<rect x="719.33" y="593.19" width="12.84" height="12.92" fill="#fff8bb"/>
<rect x="731.17" y="593.19" width="12.84" height="12.92" fill="#fff3af"/>
<rect x="743.00" y="593.19" width="36.51" height="12.92" fill="#ffffcc"/>
<rect x="778.51" y="593.19" width="12.84" height="12.92" fill="#ffe793"/>
<rect x="790.35" y="593.19" width="12.84" height="12.92" fill="#ffffcc"/>
<rect x="802.19" y="593.19" width="12.84" height="12.92" fill="#fff3af"/>
<rect x="814.02" y="593.19" width="12.84" height="12.92" fill="#ffffcc"/>
<rect x="825.86" y="593.19" width="12.84" height="12.92" fill="#ffe793"/>
<rect x="837.70" y="593.19" width="24.67" height="12.92" fill="#ffffcc"/>
<rect x="861.37" y="593.19" width="24.67" height="12.92" fill="#fff8bb"/>
<rect x="885.04" y="593.19" width="82.86" height="12.92" fill="#ffffcc"/>
<rect x="612.80" y="605.12" width="36.51" height="12.92" fill="#ffffcc"/>
<rect x="648.31" y="605.12" width="12.84" height="12.92" fill="#fff8bb"/>
<rect x="660.15" y="605.12" width="12.84" height="12.92" fill="#ffffcc"/>
<rect x="671.98" y="605.12" width="12.84" height="12.92" fill="#fff8bb"/>
<rect x="683.82" y="605.12" width="12.84" height="12.92" fill="#ffffcc"/>
<rect x="695.66" y="605.12" width="12.84" height="12.92" fill="#fff8bb"/>
<rect x="707.49" y="605.12" width="12.84" height="12.92" fill="#fff3af"/>
<rect x="719.33" y="605.12" width="12.84" height="12.92" fill="#fff8bb"/>
<rect x="731.17" y="605.12" width="12.84" height="12.92" fill="#fff3af"/>
<rect x="743.00" y="605.12" width="12.84" height="12.92" fill="#ffffcc"/>
<rect x="754.84" y="605.12" width="12.84" height="12.92" fill="#fff8bb"/>
<rect x="766.68" y="605.12" width="12.84" height="12.92" fill="#fed976"/>
<rect x="778.51" y="605.12" width="12.84" height="12.92" fill="#ffe793"/>
<rect x="790.35" y="605.12" width="12.84" height="12.92" fill="#fff3af"/>
<rect x="802.19" y="605.12" width="36.51" height="12.92" fill="#fff8bb"/>
<rect x="837.70" y="605.12" width="12.84" height="12.92" fill="#fff3af"/>
<rect x="849.53" y="605.12" width="12.84" height="12.92" fill="#ffffcc"/>
<rect x="861.37" y="605.12" width="24.67" height="12.92" fill="#fff8bb"/>
<rect x="885.04" y="605.12" width="82.86" height="12.92" fill="#ffffcc"/>
<rect x="612.80" y="617.04" width="72.02" height="12.92" fill="#ffffcc"/>
<rect x="683.82" y="617.04" width="12.84" height="12.92" fill="#fff8bb"/>
<rect x="695.66" y="617.04" width="12.84" height="12.92" fill="#fff3af"/>
<rect x="707.49" y="617.04" width="12.84" height="12.92" fill="#fff8bb"/>
<rect x="719.33" y="617.04" width="12.84" height="12.92" fill="#fff3af"/>
<rect x="731.17" y="617.04" width="24.67" height="12.92" fill="#ffe793"/>
<rect x="754.84" y="617.04" width="12.84" height="12.92" fill="#fff3af"/>
<rect x="766.68" y="617.04" width="12.84" height="12.92" fill="#fed976"/>
<rect x="778.51" y="617.04" width="12.84" height="12.92" fill="#ffffcc"/>
<rect x="790.35" y="617.04" width="12.84" height="12.92" fill="#ffe793"/>
<rect x="802.19" y="617.04" width="12.84" height="12.92" fill="#fea647"/>
<rect x="814.02" y="617.04" width="12.84" height="12.92" fill="#ffe793"/>
<rect x="825.86" y="617.04" width="12.84" height="12.92" fill="#ffffcc"/>
<rect x="837.70" y="617.04" width="24.67" height="12.92" fill="#fff3af"/>
<rect x="861.37" y="617.04" width="24.67" height="12.92" fill="#fff8bb"/>
<rect x="885.04" y="617.04" width="82.86" height="12.92" fill="#ffffcc"/>
<rect x="612.80" y="628.96" width="12.84" height="12.92" fill="#fff8bb"/>
<rect x="624.64" y="628.96" width="36.51" height="12.92" fill="#ffffcc"/>
<rect x="660.15" y="628.96" width="12.84" height="12.92" fill="#fff3af"/>
<rect x="671.98" y="628.96" width="12.84" height="12.92" fill="#fff8bb"/>
<rect x="683.82" y="628.96" width="12.84" height="12.92" fill="#ffffcc"/>
<rect x="695.66" y="628.96" width="12.84" height="12.92" fill="#fff3af"/>
<rect x="707.49" y="628.96" width="12.84" height="12.92" fill="#fff8bb"/>
<rect x="719.33" y="628.96" width="12.84" height="12.92" fill="#ffe793"/>
<rect x="731.17" y="628.96" width="12.84" height="12.92" fill="#fff3af"/>
<rect x="743.00" y="628.96" width="12.84" height="12.92" fill="#fed976"/>
<rect x="754.84" y="628.96" width="12.84" height="12.92" fill="#febf5a"/>
<rect x="766.68" y="628.96" width="12.84" height="12.92" fill="#fed976"/>
<rect x="778.51" y="628.96" width="24.67" height="12.92" fill="#febf5a"/>
<rect x="802.19" y="628.96" width="24.67" height="12.92" fill="#fff3af"/>
<rect x="825.86" y="628.96" width="12.84" height="12.92" fill="#ffe793"/>
<rect x="837.70" y="628.96" width="12.84" height="12.92" fill="#fff3af"/>
<rect x="849.53" y="628.96" width="12.84" height="12.92" fill="#ffffcc"/>
<rect x="861.37" y="628.96" width="12.84" height="12.92" fill="#ffe793"/>
<rect x="873.21" y="628.96" width="12.84" height="12.92" fill="#fff8bb"/>
<rect x="885.04" y="628.96" width="12.84" height="12.92" fill="#fff3af"/>
<rect x="896.88" y="628.96" width="12.84" height="12.92" fill="#fff8bb"/>
<rect x="908.72" y="628.96" width="12.84" height="12.92" fill="#ffffcc"/>
<rect x="920.55" y="628.96" width="12.84" height="12.92" fill="#fff8bb"/>
<rect x="932.39" y="628.96" width="35.51" height="12.92" fill="#ffffcc"/>
<rect x="612.80" y="640.89" width="12.84" height="12.92" fill="#ffffcc"/>
<rect x="624.64" y="640.89" width="12.84" height="12.92" fill="#fff8bb"/>
<rect x="636.47" y="640.89" width="12.84" height="12.92" fill="#ffffcc"/>
<rect x="648.31" y="640.89" width="36.51" height="12.92" fill="#fff8bb"/>
<rect x="683.82" y="640.89" width="12.84" height="12.92" fill="#fff3af"/>
<rect x="695.66" y="640.89" width="12.84" height="12.92" fill="#ffe793"/>
<rect x="707.49" y="640.89" width="12.84" height="12.92" fill="#fff3af"/>
<rect x="719.33" y="640.89" width="24.67" height="12.92" fill="#ffe793"/>
<rect x="743.00" y="640.89" width="12.84" height="12.92" fill="#febf5a"/>
<rect x="754.84" y="640.89" width="12.84" height="12.92" fill="#fea647"/>
<rect x="766.68" y="640.89" width="12.84" height="12.92" fill="#f33c25"/>
<rect x="778.51" y="640.89" width="12.84" height="12.92" fill="#ffe793"/>
<rect x="790.35" y="640.89" width="12.84" height="12.92" fill="#febf5a"/>
<rect x="802.19" y="640.89" width="12.84" height="12.92" fill="#fd8b3c"/>
<rect x="814.02" y="640.89" width="12.84" height="12.92" fill="#fed976"/>
<rect x="825.86" y="640.89" width="12.84" height="12.92" fill="#febf5a"/>
<rect x="837.70" y="640.89" width="12.84" height="12.92" fill="#ffe793"/>
<rect x="849.53" y="640.89" width="12.84" height="12.92" fill="#fed976"/>
<rect x="861.37" y="640.89" width="12.84" height="12.92" fill="#ffe793"/>
<rect x="873.21" y="640.89" width="12.84" height="12.92" fill="#ffffcc"/>
<rect x="885.04" y="640.89" width="12.84" height="12.92" fill="#fff8bb"/>
<rect x="896.88" y="640.89" width="12.84" height="12.92" fill="#ffffcc"/>
<rect x="908.72" y="640.89" width="12.84" height="12.92" fill="#fff8bb"/>
<rect x="920.55" y="640.89" width="24.67" height="12.92" fill="#ffffcc"/>
<rect x="944.23" y="640.89" width="12.84" height="12.92" fill="#fff8bb"/>
<rect x="956.06" y="640.89" width="11.84" height="12.92" fill="#ffffcc"/>
<rect x="612.80" y="652.81" width="36.51" height="12.92" fill="#ffffcc"/>
<rect x="648.31" y="652.81" width="36.51" height="12.92" fill="#fff3af"/>
<rect x="683.82" y="652.81" width="12.84" height="12.92" fill="#fff8bb"/>
<rect x="695.66" y="652.81" width="12.84" height="12.92" fill="#ffe793"/>
<rect x="707.49" y="652.81" width="24.67" height="12.92" fill="#febf5a"/>
<rect x="731.17" y="652.81" width="12.84" height="12.92" fill="#fea647"/>
<rect x="743.00" y="652.81" width="12.84" height="12.92" fill="#fc6230"/>
<rect x="754.84" y="652.81" width="12.84" height="12.92" fill="#f33c25"/>
<rect x="766.68" y="652.81" width="12.84" height="12.92" fill="#febf5a"/>
<rect x="778.51" y="652.81" width="12.84" height="12.92" fill="#fc6230"/>
<rect x="790.35" y="652.81" width="12.84" height="12.92" fill="#fea647"/>
<rect x="802.19" y="652.81" width="24.67" height="12.92" fill="#febf5a"/>
<rect x="825.86" y="652.81" width="12.84" height="12.92" fill="#fea647"/>
<rect x="837.70" y="652.81" width="24.67" height="12.92" fill="#ffe793"/>
<rect x="861.37" y="652.81" width="12.84" height="12.92" fill="#fed976"/>
<rect x="873.21" y="652.81" width="12.84" height="12.92" fill="#fff8bb"/>
<rect x="885.04" y="652.81" width="12.84" height="12.92" fill="#fff3af"/>
<rect x="896.88" y="652.81" width="12.84" height="12.92" fill="#ffffcc"/>
<rect x="908.72" y="652.81" width="12.84" height="12.92" fill="#fff8bb"/>
<rect x="920.55" y="652.81" width="47.35" height="12.92" fill="#ffffcc"/>
<rect x="612.80" y="664.73" width="12.84" height="12.92" fill="#fff8bb"/>
<rect x="624.64" y="664.73" width="12.84" height="12.92" fill="#ffffcc"/>
<rect x="636.47" y="664.73" width="12.84" height="12.92" fill="#fff8bb"/>
<rect x="648.31" y="664.73" width="12.84" height="12.92" fill="#ffffcc"/>
<rect x="660.15" y="664.73" width="12.84" height="12.92" fill="#fff3af"/>
<rect x="671.98" y="664.73" width="12.84" height="12.92" fill="#fed976"/>
<rect x="683.82" y="664.73" width="12.84" height="12.92" fill="#febf5a"/>
<rect x="695.66" y="664.73" width="12.84" height="12.92" fill="#fea647"/>
<rect x="707.49" y="664.73" width="12.84" height="12.92" fill="#f33c25"/>
<rect x="719.33" y="664.73" width="12.84" height="12.92" fill="#febf5a"/>
<rect x="731.17" y="664.73" width="12.84" height="12.92" fill="#f33c25"/>
<rect x="743.00" y="664.73" width="24.67" height="12.92" fill="#fea647"/>
<rect x="766.68" y="664.73" width="12.84" height="12.92" fill="#f33c25"/>
<rect x="778.51" y="664.73" width="12.84" height="12.92" fill="#fc6230"/>
<rect x="790.35" y="664.73" width="12.84" height="12.92" fill="#f33c25"/>
<rect x="802.19" y="664.73" width="12.84" height="12.92" fill="#febf5a"/>
<rect x="814.02" y="664.73" width="12.84" height="12.92" fill="#fc6230"/>
<rect x="825.86" y="664.73" width="12.84" height="12.92" fill="#ffe793"/>
<rect x="837.70" y="664.73" width="24.67" height="12.92" fill="#fff3af"/>
<rect x="861.37" y="664.73" width="12.84" height="12.92" fill="#ffe793"/>
<rect x="873.21" y="664.73" width="12.84" height="12.92" fill="#fff3af"/>
<rect x="885.04" y="664.73" width="12.84" height="12.92" fill="#fff8bb"/>
<rect x="896.88" y="664.73" width="12.84" height="12.92" fill="#ffffcc"/>
<rect x="908.72" y="664.73" width="24.67" height="12.92" fill="#fff8bb"/>
<rect x="932.39" y="664.73" width="35.51" height="12.92" fill="#ffffcc"/>
<rect x="612.80" y="676.66" width="24.67" height="12.92" fill="#ffffcc"/>
<rect x="636.47" y="676.66" width="24.67" height="12.92" fill="#fff8bb"/>
<rect x="660.15" y="676.66" width="12.84" height="12.92" fill="#fff3af"/>
<rect x="671.98" y="676.66" width="12.84" height="12.92" fill="#fff8bb"/>
<rect x="683.82" y="676.66" width="12.84" height="12.92" fill="#ffe793"/>
<rect x="695.66" y="676.66" width="12.84" height="12.92" fill="#fed976"/>
<rect x="707.49" y="676.66" width="12.84" height="12.92" fill="#febf5a"/>
<rect x="719.33" y="676.66" width="24.67" height="12.92" fill="#f33c25"/>
<rect x="743.00" y="676.66" width="12.84" height="12.92" fill="#fea647"/>
<rect x="754.84" y="676.66" width="12.84" height="12.92" fill="#e1181c"/>
<rect x="766.68" y="676.66" width="12.84" height="12.92" fill="#c70823"/>
<rect x="778.51" y="676.66" width="12.84" height="12.92" fill="#fc6230"/>
<rect x="790.35" y="676.66" width="12.84" height="12.92" fill="#c70823"/>
<rect x="802.19" y="676.66" width="12.84" height="12.92" fill="#fea647"/>
<rect x="814.02" y="676.66" width="12.84" height="12.92" fill="#febf5a"/>
<rect x="825.86" y="676.66" width="12.84" height="12.92" fill="#ffe793"/>
<rect x="837.70" y="676.66" width="12.84" height="12.92" fill="#fea647"/>
<rect x="849.53" y="676.66" width="12.84" height="12.92" fill="#fed976"/>
<rect x="861.37" y="676.66" width="60.18" height="12.92" fill="#fff3af"/>
<rect x="920.55" y="676.66" width="36.51" height="12.92" fill="#ffffcc"/>
<rect x="956.06" y="676.66" width="11.84" height="12.92" fill="#fff8bb"/>
<rect x="612.80" y="688.58" width="36.51" height="12.92" fill="#ffffcc"/>
<rect x="648.31" y="688.58" width="12.84" height="12.92" fill="#fff3af"/>
<rect x="660.15" y="688.58" width="12.84" height="12.92" fill="#fff8bb"/>
<rect x="671.98" y="688.58" width="12.84" height="12.92" fill="#fed976"/>
<rect x="683.82" y="688.58" width="12.84" height="12.92" fill="#fea647"/>
<rect x="695.66" y="688.58" width="12.84" height="12.92" fill="#fed976"/>
<rect x="707.49" y="688.58" width="12.84" height="12.92" fill="#f33c25"/>
<rect x="719.33" y="688.58" width="12.84" height="12.92" fill="#fc6230"/>
<rect x="731.17" y="688.58" width="12.84" height="12.92" fill="#fd8b3c"/>
<rect x="743.00" y="688.58" width="12.84" height="12.92" fill="#fea647"/>
<rect x="754.84" y="688.58" width="12.84" height="12.92" fill="#febf5a"/>
<rect x="766.68" y="688.58" width="12.84" height="12.92" fill="#a70026"/>
<rect x="778.51" y="688.58" width="12.84" height="12.92" fill="#c70823"/>
<rect x="790.35" y="688.58" width="12.84" height="12.92" fill="#fd8b3c"/>
<rect x="802.19" y="688.58" width="24.67" height="12.92" fill="#f33c25"/>
<rect x="825.86" y="688.58" width="12.84" height="12.92" fill="#fc6230"/>
<rect x="837.70" y="688.58" width="12.84" height="12.92" fill="#ffe793"/>
<rect x="849.53" y="688.58" width="12.84" height="12.92" fill="#febf5a"/>
<rect x="861.37" y="688.58" width="12.84" height="12.92" fill="#fed976"/>
<rect x="873.21" y="688.58" width="12.84" height="12.92" fill="#fff3af"/>
<rect x="885.04" y="688.58" width="12.84" height="12.92" fill="#fff8bb"/>
<rect x="896.88" y="688.58" width="24.67" height="12.92" fill="#fff3af"/>
<rect x="920.55" y="688.58" width="47.35" height="12.92" fill="#ffffcc"/>
<rect x="612.80" y="700.50" width="36.51" height="12.92" fill="#ffffcc"/>
<rect x="648.31" y="700.50" width="12.84" height="12.92" fill="#ffe793"/>
<rect x="660.15" y="700.50" width="24.67" height="12.92" fill="#fed976"/>
<rect x="683.82" y="700.50" width="12.84" height="12.92" fill="#fea647"/>
<rect x="695.66" y="700.50" width="12.84" height="12.92" fill="#fd8b3c"/>
<rect x="707.49" y="700.50" width="12.84" height="12.92" fill="#fea647"/>
<rect x="719.33" y="700.50" width="12.84" height="12.92" fill="#fc6230"/>
<rect x="731.17" y="700.50" width="12.84" height="12.92" fill="#f33c25"/>
<rect x="743.00" y="700.50" width="12.84" height="12.92" fill="#a70026"/>
<rect x="754.84" y="700.50" width="12.84" height="12.92" fill="#fd8b3c"/>
<rect x="766.68" y="700.50" width="12.84" height="12.92" fill="#fed976"/>
<rect x="778.51" y="700.50" width="12.84" height="12.92" fill="#e1181c"/>
<rect x="790.35" y="700.50" width="12.84" height="12.92" fill="#fc6230"/>
<rect x="802.19" y="700.50" width="12.84" height="12.92" fill="#e1181c"/>
<rect x="814.02" y="700.50" width="12.84" height="12.92" fill="#f33c25"/>
<rect x="825.86" y="700.50" width="24.67" height="12.92" fill="#fea647"/>
<rect x="849.53" y="700.50" width="12.84" height="12.92" fill="#fed976"/>
<rect x="861.37" y="700.50" width="24.67" height="12.92" fill="#ffe793"/>
<rect x="885.04" y="700.50" width="12.84" height="12.92" fill="#ffffcc"/>
<rect x="896.88" y="700.50" width="24.67" height="12.92" fill="#fff3af"/>
<rect x="920.55" y="700.50" width="12.84" height="12.92" fill="#ffffcc"/>
<rect x="932.39" y="700.50" width="12.84" height="12.92" fill="#fff8bb"/>
<rect x="944.23" y="700.50" width="23.67" height="12.92" fill="#ffffcc"/>
<rect x="612.80" y="712.43" width="12.84" height="12.92" fill="#fff3af"/>
<rect x="624.64" y="712.43" width="12.84" height="12.92" fill="#ffffcc"/>
<rect x="636.47" y="712.43" width="12.84" height="12.92" fill="#fff3af"/>
<rect x="648.31" y="712.43" width="12.84" height="12.92" fill="#ffffcc"/>
<rect x="660.15" y="712.43" width="12.84" height="12.92" fill="#ffe793"/>
<rect x="671.98" y="712.43" width="12.84" height="12.92" fill="#ffffcc"/>
<rect x="683.82" y="712.43" width="12.84" height="12.92" fill="#fed976"/>
<rect x="695.66" y="712.43" width="12.84" height="12.92" fill="#fd8b3c"/>
<rect x="707.49" y="712.43" width="12.84" height="12.92" fill="#fed976"/>
<rect x="719.33" y="712.43" width="12.84" height="12.92" fill="#fea647"/>
<rect x="731.17" y="712.43" width="12.84" height="12.92" fill="#a70026"/>
<rect x="743.00" y="712.43" width="12.84" height="12.92" fill="#f33c25"/>
<rect x="754.84" y="712.43" width="12.84" height="12.92" fill="#e1181c"/>
<rect x="766.68" y="712.43" width="12.84" height="12.92" fill="#a70026"/>
<rect x="778.51" y="712.43" width="12.84" height="12.92" fill="#e1181c"/>
<rect x="790.35" y="712.43" width="12.84" height="12.92" fill="#fc6230"/>
<rect x="802.19" y="712.43" width="12.84" height="12.92" fill="#a70026"/>
<rect x="814.02" y="712.43" width="36.51" height="12.92" fill="#f33c25"/>
<rect x="849.53" y="712.43" width="12.84" height="12.92" fill="#febf5a"/>
<rect x="861.37" y="712.43" width="12.84" height="12.92" fill="#ffe793"/>
<rect x="873.21" y="712.43" width="12.84" height="12.92" fill="#fed976"/>
<rect x="885.04" y="712.43" width="12.84" height="12.92" fill="#fff8bb"/>
<rect x="896.88" y="712.43" width="36.51" height="12.92" fill="#ffffcc"/>
<rect x="932.39" y="712.43" width="12.84" height="12.92" fill="#fff8bb"/>
<rect x="944.23" y="712.43" width="23.67" height="12.92" fill="#ffffcc"/>
<rect x="612.80" y="724.35" width="12.84" height="12.92" fill="#fff3af"/>
<rect x="624.64" y="724.35" width="12.84" height="12.92" fill="#ffffcc"/>
<rect x="636.47" y="724.35" width="12.84" height="12.92" fill="#fff8bb"/>
<rect x="648.31" y="724.35" width="12.84" height="12.92" fill="#ffffcc"/>
<rect x="660.15" y="724.35" width="12.84" height="12.92" fill="#fff3af"/>
<rect x="671.98" y="724.35" width="12.84" height="12.92" fill="#fea647"/>
<rect x="683.82" y="724.35" width="12.84" height="12.92" fill="#fed976"/>
<rect x="695.66" y="724.35" width="12.84" height="12.92" fill="#fea647"/>
<rect x="707.49" y="724.35" width="12.84" height="12.92" fill="#fed976"/>
<rect x="719.33" y="724.35" width="12.84" height="12.92" fill="#f33c25"/>
<rect x="731.17" y="724.35" width="12.84" height="12.92" fill="#fea647"/>
<rect x="743.00" y="724.35" width="12.84" height="12.92" fill="#a70026"/>
<rect x="754.84" y="724.35" width="12.84" height="12.92" fill="#f33c25"/>
<rect x="766.68" y="724.35" width="12.84" height="12.92" fill="#c70823"/>
<rect x="778.51" y="724.35" width="12.84" height="12.92" fill="#fd8b3c"/>
<rect x="790.35" y="724.35" width="12.84" height="12.92" fill="#800026"/>
<rect x="802.19" y="724.35" width="12.84" height="12.92" fill="#f33c25"/>
<rect x="814.02" y="724.35" width="12.84" height="12.92" fill="#fd8b3c"/>
<rect x="825.86" y="724.35" width="12.84" height="12.92" fill="#fea647"/>
<rect x="837.70" y="724.35" width="12.84" height="12.92" fill="#fd8b3c"/>
<rect x="849.53" y="724.35" width="12.84" height="12.92" fill="#fed976"/>
<rect x="861.37" y="724.35" width="12.84" height="12.92" fill="#febf5a"/>
<rect x="873.21" y="724.35" width="24.67" height="12.92" fill="#fed976"/>
<rect x="896.88" y="724.35" width="36.51" height="12.92" fill="#fff3af"/>
<rect x="932.39" y="724.35" width="24.67" height="12.92" fill="#ffffcc"/>
<rect x="956.06" y="724.35" width="11.84" height="12.92" fill="#fff8bb"/>
<rect x="612.80" y="736.27" width="12.84" height="12.92" fill="#fff3af"/>
<rect x="624.64" y="736.27" width="24.67" height="12.92" fill="#ffffcc"/>
<rect x="648.31" y="736.27" width="24.67" height="12.92" fill="#fff3af"/>
<rect x="671.98" y="736.27" width="12.84" height="12.92" fill="#ffe793"/>
<rect x="683.82" y="736.27" width="12.84" height="12.92" fill="#fd8b3c"/>
<rect x="695.66" y="736.27" width="12.84" height="12.92" fill="#fc6230"/>
<rect x="707.49" y="736.27" width="12.84" height="12.92" fill="#fea647"/>
<rect x="719.33" y="736.27" width="12.84" height="12.92" fill="#f33c25"/>
<rect x="731.17" y="736.27" width="12.84" height="12.92" fill="#fc6230"/>
<rect x="743.00" y="736.27" width="12.84" height="12.92" fill="#c70823"/>
<rect x="754.84" y="736.27" width="12.84" height="12.92" fill="#fc6230"/>
<rect x="766.68" y="736.27" width="36.51" height="12.92" fill="#e1181c"/>
<rect x="802.19" y="736.27" width="24.67" height="12.92" fill="#f33c25"/>
<rect x="825.86" y="736.27" width="12.84" height="12.92" fill="#fc6230"/>
<rect x="837.70" y="736.27" width="12.84" height="12.92" fill="#f33c25"/>
<rect x="849.53" y="736.27" width="36.51" height="12.92" fill="#fed976"/>
<rect x="885.04" y="736.27" width="12.84" height="12.92" fill="#ffe793"/>
<rect x="896.88" y="736.27" width="24.67" height="12.92" fill="#fff3af"/>
<rect x="920.55" y="736.27" width="47.35" height="12.92" fill="#ffffcc"/>
<rect x="612.80" y="748.20" width="12.84" height="12.92" fill="#ffffcc"/>
<rect x="624.64" y="748.20" width="12.84" height="12.92" fill="#fff3af"/>
<rect x="636.47" y="748.20" width="12.84" height="12.92" fill="#ffffcc"/>
<rect x="648.31" y="748.20" width="24.67" height="12.92" fill="#fff3af"/>
<rect x="671.98" y="748.20" width="12.84" height="12.92" fill="#ffe793"/>
<rect x="683.82" y="748.20" width="12.84" height="12.92" fill="#fed976"/>
<rect x="695.66" y="748.20" width="12.84" height="12.92" fill="#fff3af"/>
<rect x="707.49" y="748.20" width="12.84" height="12.92" fill="#ffe793"/>
<rect x="719.33" y="748.20" width="12.84" height="12.92" fill="#fea647"/>
<rect x="731.17" y="748.20" width="12.84" height="12.92" fill="#a70026"/>
<rect x="743.00" y="748.20" width="12.84" height="12.92" fill="#f33c25"/>
<rect x="754.84" y="748.20" width="12.84" height="12.92" fill="#fd8b3c"/>
<rect x="766.68" y="748.20" width="24.67" height="12.92" fill="#c70823"/>
<rect x="790.35" y="748.20" width="12.84" height="12.92" fill="#e1181c"/>
<rect x="802.19" y="748.20" width="12.84" height="12.92" fill="#c70823"/>
<rect x="814.02" y="748.20" width="12.84" height="12.92" fill="#fd8b3c"/>
<rect x="825.86" y="748.20" width="12.84" height="12.92" fill="#f33c25"/>
<rect x="837.70" y="748.20" width="24.67" height="12.92" fill="#fea647"/>
<rect x="861.37" y="748.20" width="24.67" height="12.92" fill="#fed976"/>
<rect x="885.04" y="748.20" width="12.84" height="12.92" fill="#fff3af"/>
<rect x="896.88" y="748.20" width="12.84" height="12.92" fill="#fff8bb"/>
<rect x="908.72" y="748.20" width="12.84" height="12.92" fill="#fff3af"/>
<rect x="920.55" y="748.20" width="24.67" height="12.92" fill="#ffffcc"/>
<rect x="944.23" y="748.20" width="12.84" height="12.92" fill="#fff8bb"/>
<rect x="956.06" y="748.20" width="11.84" height="12.92" fill="#ffffcc"/>
<rect x="612.80" y="760.12" width="12.84" height="12.92" fill="#fff8bb"/>
<rect x="624.64" y="760.12" width="12.84" height="12.92" fill="#ffffcc"/>
<rect x="636.47" y="760.12" width="36.51" height="12.92" fill="#fff3af"/>
<rect x="671.98" y="760.12" width="12.84" height="12.92" fill="#fed976"/>
<rect x="683.82" y="760.12" width="12.84" height="12.92" fill="#ffe793"/>
<rect x="695.66" y="760.12" width="12.84" height="12.92" fill="#fed976"/>
<rect x="707.49" y="760.12" width="24.67" height="12.92" fill="#f33c25"/>
<rect x="731.17" y="760.12" width="12.84" height="12.92" fill="#fc6230"/>
<rect x="743.00" y="760.12" width="12.84" height="12.92" fill="#c70823"/>
<rect x="754.84" y="760.12" width="24.67" height="12.92" fill="#e1181c"/>
<rect x="778.51" y="760.12" width="12.84" height="12.92" fill="#fc6230"/>
<rect x="790.35" y="760.12" width="12.84" height="12.92" fill="#e1181c"/>
<rect x="802.19" y="760.12" width="12.84" height="12.92" fill="#c70823"/>
<rect x="814.02" y="760.12" width="12.84" height="12.92" fill="#a70026"/>
<rect x="825.86" y="760.12" width="12.84" height="12.92" fill="#fed976"/>
<rect x="837.70" y="760.12" width="12.84" height="12.92" fill="#febf5a"/>
<rect x="849.53" y="760.12" width="12.84" height="12.92" fill="#fea647"/>
<rect x="861.37" y="760.12" width="12.84" height="12.92" fill="#fff3af"/>
<rect x="873.21" y="760.12" width="12.84" height="12.92" fill="#ffe793"/>
<rect x="885.04" y="760.12" width="24.67" height="12.92" fill="#fff3af"/>
<rect x="908.72" y="760.12" width="59.18" height="12.92" fill="#ffffcc"/>
<rect x="612.80" y="772.04" width="36.51" height="12.92" fill="#ffffcc"/>
<rect x="648.31" y="772.04" width="12.84" height="12.92" fill="#fff8bb"/>
<rect x="660.15" y="772.04" width="12.84" height="12.92" fill="#fff3af"/>
<rect x="671.98" y="772.04" width="12.84" height="12.92" fill="#febf5a"/>
<rect x="683.82" y="772.04" width="12.84" height="12.92" fill="#fff8bb"/>
<rect x="695.66" y="772.04" width="12.84" height="12.92" fill="#ffe793"/>
<rect x="707.49" y="772.04" width="12.84" height="12.92" fill="#fed976"/>
<rect x="719.33" y="772.04" width="12.84" height="12.92" fill="#fea647"/>
<rect x="731.17" y="772.04" width="36.51" height="12.92" fill="#f33c25"/>
<rect x="766.68" y="772.04" width="12.84" height="12.92" fill="#c70823"/>
<rect x="778.51" y="772.04" width="12.84" height="12.92" fill="#fc6230"/>
<rect x="790.35" y="772.04" width="12.84" height="12.92" fill="#fd8b3c"/>
<rect x="802.19" y="772.04" width="12.84" height="12.92" fill="#febf5a"/>
<rect x="814.02" y="772.04" width="12.84" height="12.92" fill="#ffe793"/>
<rect x="825.86" y="772.04" width="12.84" height="12.92" fill="#fd8b3c"/>
<rect x="837.70" y="772.04" width="24.67" height="12.92" fill="#fea647"/>
<rect x="861.37" y="772.04" width="12.84" height="12.92" fill="#ffe793"/>
<rect x="873.21" y="772.04" width="12.84" height="12.92" fill="#fff3af"/>
<rect x="885.04" y="772.04" width="12.84" height="12.92" fill="#ffe793"/>
<rect x="896.88" y="772.04" width="12.84" height="12.92" fill="#fff8bb"/>
<rect x="908.72" y="772.04" width="12.84" height="12.92" fill="#ffffcc"/>
<rect x="920.55" y="772.04" width="12.84" height="12.92" fill="#fff8bb"/>
<rect x="932.39" y="772.04" width="35.51" height="12.92" fill="#ffffcc"/>
<rect x="612.80" y="783.97" width="36.51" height="12.92" fill="#ffffcc"/>
<rect x="648.31" y="783.97" width="12.84" height="12.92" fill="#fff3af"/>
<rect x="660.15" y="783.97" width="12.84" height="12.92" fill="#fff8bb"/>
<rect x="671.98" y="783.97" width="12.84" height="12.92" fill="#ffe793"/>
<rect x="683.82" y="783.97" width="12.84" height="12.92" fill="#ffffcc"/>
<rect x="695.66" y="783.97" width="12.84" height="12.92" fill="#ffe793"/>
<rect x="707.49" y="783.97" width="12.84" height="12.92" fill="#fed976"/>
<rect x="719.33" y="783.97" width="24.67" height="12.92" fill="#fea647"/>
<rect x="743.00" y="783.97" width="24.67" height="12.92" fill="#fc6230"/>
<rect x="766.68" y="783.97" width="12.84" height="12.92" fill="#fd8b3c"/>
<rect x="778.51" y="783.97" width="12.84" height="12.92" fill="#e1181c"/>
<rect x="790.35" y="783.97" width="12.84" height="12.92" fill="#fc6230"/>
<rect x="802.19" y="783.97" width="12.84" height="12.92" fill="#fd8b3c"/>
<rect x="814.02" y="783.97" width="12.84" height="12.92" fill="#e1181c"/>
<rect x="825.86" y="783.97" width="12.84" height="12.92" fill="#febf5a"/>
<rect x="837.70" y="783.97" width="12.84" height="12.92" fill="#fea647"/>
<rect x="849.53" y="783.97" width="12.84" height="12.92" fill="#ffe793"/>
<rect x="861.37" y="783.97" width="12.84" height="12.92" fill="#fff8bb"/>
<rect x="873.21" y="783.97" width="12.84" height="12.92" fill="#fff3af"/>
<rect x="885.04" y="783.97" width="12.84" height="12.92" fill="#fff8bb"/>
<rect x="896.88" y="783.97" width="12.84" height="12.92" fill="#ffffcc"/>
<rect x="908.72" y="783.97" width="12.84" height="12.92" fill="#fff8bb"/>
<rect x="920.55" y="783.97" width="47.35" height="12.92" fill="#ffffcc"/>
<rect x="612.80" y="795.89" width="36.51" height="12.92" fill="#ffffcc"/>
<rect x="648.31" y="795.89" width="12.84" height="12.92" fill="#fff3af"/>
<rect x="660.15" y="795.89" width="24.67" height="12.92" fill="#fff8bb"/>
<rect x="683.82" y="795.89" width="36.51" height="12.92" fill="#fed976"/>
<rect x="719.33" y="795.89" width="12.84" height="12.92" fill="#ffe793"/>
<rect x="731.17" y="795.89" width="12.84" height="12.92" fill="#fd8b3c"/>
<rect x="743.00" y="795.89" width="12.84" height="12.92" fill="#ffe793"/>
<rect x="754.84" y="795.89" width="36.51" height="12.92" fill="#fd8b3c"/>
<rect x="790.35" y="795.89" width="24.67" height="12.92" fill="#fed976"/>
<rect x="814.02" y="795.89" width="12.84" height="12.92" fill="#fea647"/>
<rect x="825.86" y="795.89" width="12.84" height="12.92" fill="#fd8b3c"/>
<rect x="837.70" y="795.89" width="12.84" height="12.92" fill="#ffe793"/>
<rect x="849.53" y="795.89" width="12.84" height="12.92" fill="#febf5a"/>
<rect x="861.37" y="795.89" width="12.84" height="12.92" fill="#fff8bb"/>
<rect x="873.21" y="795.89" width="12.84" height="12.92" fill="#fff3af"/>
<rect x="885.04" y="795.89" width="24.67" height="12.92" fill="#ffffcc"/>
<rect x="908.72" y="795.89" width="12.84" height="12.92" fill="#fff3af"/>
<rect x="920.55" y="795.89" width="47.35" height="12.92" fill="#ffffcc"/>
<rect x="612.80" y="807.81" width="60.18" height="12.92" fill="#ffffcc"/>
<rect x="671.98" y="807.81" width="12.84" height="12.92" fill="#fff8bb"/>
<rect x="683.82" y="807.81" width="12.84" height="12.92" fill="#fff3af"/>
<rect x="695.66" y="807.81" width="12.84" height="12.92" fill="#fff8bb"/>
<rect x="707.49" y="807.81" width="12.84" height="12.92" fill="#ffe793"/>
<rect x="719.33" y="807.81" width="12.84" height="12.92" fill="#fed976"/>
<rect x="731.17" y="807.81" width="12.84" height="12.92" fill="#ffe793"/>
<rect x="743.00" y="807.81" width="12.84" height="12.92" fill="#fea647"/>
<rect x="754.84" y="807.81" width="12.84" height="12.92" fill="#febf5a"/>
<rect x="766.68" y="807.81" width="12.84" height="12.92" fill="#ffe793"/>
<rect x="778.51" y="807.81" width="12.84" height="12.92" fill="#febf5a"/>
<rect x="790.35" y="807.81" width="12.84" height="12.92" fill="#fff3af"/>
<rect x="802.19" y="807.81" width="24.67" height="12.92" fill="#fed976"/>
<rect x="825.86" y="807.81" width="12.84" height="12.92" fill="#fff3af"/>
<rect x="837.70" y="807.81" width="12.84" height="12.92" fill="#ffe793"/>
<rect x="849.53" y="807.81" width="12.84" height="12.92" fill="#fff3af"/>
<rect x="861.37" y="807.81" width="12.84" height="12.92" fill="#fed976"/>
<rect x="873.21" y="807.81" width="12.84" height="12.92" fill="#fff8bb"/>
<rect x="885.04" y="807.81" width="24.67" height="12.92" fill="#ffffcc"/>
<rect x="908.72" y="807.81" width="36.51" height="12.92" fill="#fff8bb"/>
<rect x="944.23" y="807.81" width="23.67" height="12.92" fill="#ffffcc"/>
<rect x="612.80" y="819.74" width="48.35" height="12.92" fill="#ffffcc"/>
<rect x="660.15" y="819.74" width="24.67" height="12.92" fill="#fff3af"/>
<rect x="683.82" y="819.74" width="12.84" height="12.92" fill="#ffffcc"/>
<rect x="695.66" y="819.74" width="36.51" height="12.92" fill="#ffe793"/>
<rect x="731.17" y="819.74" width="12.84" height="12.92" fill="#fff3af"/>
<rect x="743.00" y="819.74" width="12.84" height="12.92" fill="#fed976"/>
<rect x="754.84" y="819.74" width="12.84" height="12.92" fill="#febf5a"/>
<rect x="766.68" y="819.74" width="12.84" height="12.92" fill="#ffe793"/>
<rect x="778.51" y="819.74" width="12.84" height="12.92" fill="#fff3af"/>
<rect x="790.35" y="819.74" width="12.84" height="12.92" fill="#fff8bb"/>
<rect x="802.19" y="819.74" width="24.67" height="12.92" fill="#ffe793"/>
<rect x="825.86" y="819.74" width="12.84" height="12.92" fill="#fff3af"/>
<rect x="837.70" y="819.74" width="12.84" height="12.92" fill="#fff8bb"/>
<rect x="849.53" y="819.74" width="12.84" height="12.92" fill="#fff3af"/>
<rect x="861.37" y="819.74" width="24.67" height="12.92" fill="#fff8bb"/>
<rect x="885.04" y="819.74" width="36.51" height="12.92" fill="#ffffcc"/>
<rect x="920.55" y="819.74" width="12.84" height="12.92" fill="#fff8bb"/>
<rect x="932.39" y="819.74" width="35.51" height="12.92" fill="#ffffcc"/>
<rect x="612.80" y="831.66" width="60.18" height="12.92" fill="#ffffcc"/>
<rect x="671.98" y="831.66" width="12.84" height="12.92" fill="#fff8bb"/>
<rect x="683.82" y="831.66" width="12.84" height="12.92" fill="#ffffcc"/>
<rect x="695.66" y="831.66" width="12.84" height="12.92" fill="#ffe793"/>
<rect x="707.49" y="831.66" width="12.84" height="12.92" fill="#fff8bb"/>
<rect x="719.33" y="831.66" width="24.67" height="12.92" fill="#ffe793"/>
<rect x="743.00" y="831.66" width="12.84" height="12.92" fill="#ffffcc"/>
<rect x="754.84" y="831.66" width="12.84" height="12.92" fill="#ffe793"/>
<rect x="766.68" y="831.66" width="12.84" height="12.92" fill="#fff3af"/>
<rect x="778.51" y="831.66" width="12.84" height="12.92" fill="#ffe793"/>
<rect x="790.35" y="831.66" width="24.67" height="12.92" fill="#fff3af"/>
<rect x="814.02" y="831.66" width="12.84" height="12.92" fill="#ffffcc"/>
<rect x="825.86" y="831.66" width="36.51" height="12.92" fill="#fff3af"/>
<rect x="861.37" y="831.66" width="12.84" height="12.92" fill="#fff8bb"/>
<rect x="873.21" y="831.66" width="94.69" height="12.92" fill="#ffffcc"/>
<rect x="612.80" y="843.58" width="95.69" height="12.92" fill="#ffffcc"/>
<rect x="707.49" y="843.58" width="12.84" height="12.92" fill="#fff3af"/>
<rect x="719.33" y="843.58" width="24.67" height="12.92" fill="#fff8bb"/>
<rect x="743.00" y="843.58" width="12.84" height="12.92" fill="#fff3af"/>
<rect x="754.84" y="843.58" width="12.84" height="12.92" fill="#ffe793"/>
<rect x="766.68" y="843.58" width="12.84" height="12.92" fill="#ffffcc"/>
<rect x="778.51" y="843.58" width="12.84" height="12.92" fill="#fed976"/>
<rect x="790.35" y="843.58" width="12.84" height="12.92" fill="#ffffcc"/>
<rect x="802.19" y="843.58" width="24.67" height="12.92" fill="#fff8bb"/>
<rect x="825.86" y="843.58" width="12.84" height="12.92" fill="#fff3af"/>
<rect x="837.70" y="843.58" width="48.35" height="12.92" fill="#fff8bb"/>
<rect x="885.04" y="843.58" width="12.84" height="12.92" fill="#ffffcc"/>
<rect x="896.88" y="843.58" width="12.84" height="12.92" fill="#fff8bb"/>
<rect x="908.72" y="843.58" width="59.18" height="12.92" fill="#ffffcc"/>
<rect x="612.80" y="855.51" width="60.18" height="12.92" fill="#ffffcc"/>
<rect x="671.98" y="855.51" width="12.84" height="12.92" fill="#fff8bb"/>
<rect x="683.82" y="855.51" width="12.84" height="12.92" fill="#ffffcc"/>
<rect x="695.66" y="855.51" width="24.67" height="12.92" fill="#fff3af"/>
<rect x="719.33" y="855.51" width="24.67" height="12.92" fill="#ffffcc"/>
<rect x="743.00" y="855.51" width="12.84" height="12.92" fill="#fff3af"/>
<rect x="754.84" y="855.51" width="12.84" height="12.92" fill="#fff8bb"/>
<rect x="766.68" y="855.51" width="12.84" height="12.92" fill="#fff3af"/>
<rect x="778.51" y="855.51" width="12.84" height="12.92" fill="#fff8bb"/>
<rect x="790.35" y="855.51" width="36.51" height="12.92" fill="#fff3af"/>
<rect x="825.86" y="855.51" width="36.51" height="12.92" fill="#fff8bb"/>
<rect x="861.37" y="855.51" width="106.53" height="12.92" fill="#ffffcc"/>
<rect x="612.80" y="867.43" width="119.37" height="12.92" fill="#ffffcc"/>
<rect x="731.17" y="867.43" width="12.84" height="12.92" fill="#fff3af"/>
<rect x="743.00" y="867.43" width="36.51" height="12.92" fill="#fff8bb"/>
<rect x="778.51" y="867.43" width="12.84" height="12.92" fill="#ffffcc"/>
<rect x="790.35" y="867.43" width="24.67" height="12.92" fill="#fff8bb"/>
<rect x="814.02" y="867.43" width="36.51" height="12.92" fill="#ffffcc"/>
<rect x="849.53" y="867.43" width="12.84" height="12.92" fill="#fff8bb"/>
<rect x="861.37" y="867.43" width="24.67" height="12.92" fill="#ffffcc"/>
<rect x="885.04" y="867.43" width="12.84" height="12.92" fill="#fff8bb"/>
<rect x="896.88" y="867.43" width="71.02" height="12.92" fill="#ffffcc"/>
<rect x="612.80" y="879.35" width="190.39" height="12.92" fill="#ffffcc"/>
<rect x="802.19" y="879.35" width="36.51" height="12.92" fill="#fff8bb"/>
<rect x="837.70" y="879.35" width="130.20" height="12.92" fill="#ffffcc"/>
<rect x="612.80" y="891.28" width="178.55" height="11.92" fill="#ffffcc"/>
<rect x="790.35" y="891.28" width="12.84" height="11.92" fill="#fff8bb"/>
<rect x="802.19" y="891.28" width="165.71" height="11.92" fill="#ffffcc"/>
<rect x="612.80" y="545.50" width="355.10" height="357.70" fill="none" stroke="#000" stroke-width="5.3"/>
<line x1="667.10" y1="903.20" x2="667.10" y2="909.50" stroke="#000" stroke-width="1.6"/>
<text x="667.10" y="928.90" font-size="18" text-anchor="middle" >−2</text>
<line x1="775.10" y1="903.20" x2="775.10" y2="909.50" stroke="#000" stroke-width="1.6"/>
<text x="775.10" y="928.90" font-size="18" text-anchor="middle" >0</text>
<line x1="883.10" y1="903.20" x2="883.10" y2="909.50" stroke="#000" stroke-width="1.6"/>
<text x="883.10" y="928.90" font-size="18" text-anchor="middle" >2</text>
<line x1="612.80" y1="566.40" x2="606.50" y2="566.40" stroke="#000" stroke-width="1.6"/>
<text x="600.20" y="573.00" font-size="18" text-anchor="end" >3</text>
<line x1="612.80" y1="620.40" x2="606.50" y2="620.40" stroke="#000" stroke-width="1.6"/>
<text x="600.20" y="627.00" font-size="18" text-anchor="end" >2</text>
<line x1="612.80" y1="674.40" x2="606.50" y2="674.40" stroke="#000" stroke-width="1.6"/>
<text x="600.20" y="681.00" font-size="18" text-anchor="end" >1</text>
<line x1="612.80" y1="728.40" x2="606.50" y2="728.40" stroke="#000" stroke-width="1.6"/>
<text x="600.20" y="735.00" font-size="18" text-anchor="end" >0</text>
<line x1="612.80" y1="782.40" x2="606.50" y2="782.40" stroke="#000" stroke-width="1.6"/>
<text x="600.20" y="789.00" font-size="18" text-anchor="end" >−1</text>
<line x1="612.80" y1="836.40" x2="606.50" y2="836.40" stroke="#000" stroke-width="1.6"/>
<text x="600.20" y="843.00" font-size="18" text-anchor="end" >−2</text>
<line x1="612.80" y1="890.40" x2="606.50" y2="890.40" stroke="#000" stroke-width="1.6"/>
<text x="600.20" y="897.00" font-size="18" text-anchor="end" >−3</text>
<text x="790.35" y="535.10" font-size="22.7" text-anchor="middle" >b=0.5, No. of matrices=3</text>
<text x="790.35" y="957.00" font-size="22.7" text-anchor="middle" >Re z</text>
<rect x="990.10" y="486.70" width="23.70" height="475.40" fill="url(#g)" stroke="#000" stroke-width="5.3"/>
<line x1="1013.80" y1="962.10" x2="1020.10" y2="962.10" stroke="#000" stroke-width="1.6"/>
<text x="1026.40" y="968.70" font-size="18" >0</text>
<line x1="1013.80" y1="897.27" x2="1020.10" y2="897.27" stroke="#000" stroke-width="1.6"/>
<text x="1026.40" y="903.87" font-size="18" >1</text>
<line x1="1013.80" y1="832.44" x2="1020.10" y2="832.44" stroke="#000" stroke-width="1.6"/>
<text x="1026.40" y="839.04" font-size="18" >2</text>
<line x1="1013.80" y1="767.62" x2="1020.10" y2="767.62" stroke="#000" stroke-width="1.6"/>
<text x="1026.40" y="774.22" font-size="18" >3</text>
<line x1="1013.80" y1="702.79" x2="1020.10" y2="702.79" stroke="#000" stroke-width="1.6"/>
<text x="1026.40" y="709.39" font-size="18" >4</text>
<line x1="1013.80" y1="637.96" x2="1020.10" y2="637.96" stroke="#000" stroke-width="1.6"/>
<text x="1026.40" y="644.56" font-size="18" >5</text>
<line x1="1013.80" y1="573.13" x2="1020.10" y2="573.13" stroke="#000" stroke-width="1.6"/>
<text x="1026.40" y="579.73" font-size="18" >6</text>
<line x1="1013.80" y1="508.31" x2="1020.10" y2="508.31" stroke="#000" stroke-width="1.6"/>
<text x="1026.40" y="514.91" font-size="18" >7</text>
</g>
<g>
<rect x="80.20" y="1041.90" width="355.10" height="338.60" fill="#ffffcc"/>
<rect x="80.20" y="1041.90" width="178.55" height="12.29" fill="#ffffcc"/>
<rect x="257.75" y="1041.90" width="12.84" height="12.29" fill="#ffea9b"/>
<rect x="269.59" y="1041.90" width="165.71" height="12.29" fill="#ffffcc"/>
<rect x="80.20" y="1053.19" width="214.06" height="12.29" fill="#ffffcc"/>
<rect x="293.26" y="1053.19" width="12.84" height="12.29" fill="#fece6a"/>
<rect x="305.10" y="1053.19" width="130.20" height="12.29" fill="#ffffcc"/>
<rect x="80.20" y="1064.47" width="119.37" height="12.29" fill="#ffffcc"/>
<rect x="198.57" y="1064.47" width="12.84" height="12.29" fill="#fece6a"/>
<rect x="210.40" y="1064.47" width="72.02" height="12.29" fill="#ffffcc"/>
<rect x="281.42" y="1064.47" width="12.84" height="12.29" fill="#ffea9b"/>
<rect x="293.26" y="1064.47" width="142.04" height="12.29" fill="#ffffcc"/>
<rect x="80.20" y="1075.76" width="36.51" height="12.29" fill="#ffffcc"/>
<rect x="115.71" y="1075.76" width="12.84" height="12.29" fill="#ffea9b"/>
<rect x="127.55" y="1075.76" width="60.18" height="12.29" fill="#ffffcc"/>
<rect x="186.73" y="1075.76" width="12.84" height="12.29" fill="#ffea9b"/>
<rect x="198.57" y="1075.76" width="36.51" height="12.29" fill="#ffffcc"/>
<rect x="234.08" y="1075.76" width="12.84" height="12.29" fill="#ffea9b"/>
<rect x="245.91" y="1075.76" width="12.84" height="12.29" fill="#ffffcc"/>
<rect x="257.75" y="1075.76" width="12.84" height="12.29" fill="#ffea9b"/>
<rect x="269.59" y="1075.76" width="165.71" height="12.29" fill="#ffffcc"/>
<rect x="80.20" y="1087.05" width="166.71" height="12.29" fill="#ffffcc"/>
<rect x="245.91" y="1087.05" width="12.84" height="12.29" fill="#fece6a"/>
<rect x="257.75" y="1087.05" width="12.84" height="12.29" fill="#ffffcc"/>
<rect x="269.59" y="1087.05" width="12.84" height="12.29" fill="#ffea9b"/>
<rect x="281.42" y="1087.05" width="83.86" height="12.29" fill="#ffffcc"/>
<rect x="364.28" y="1087.05" width="24.67" height="12.29" fill="#ffea9b"/>
<rect x="387.95" y="1087.05" width="47.35" height="12.29" fill="#ffffcc"/>
<rect x="80.20" y="1098.33" width="107.53" height="12.29" fill="#ffffcc"/>
<rect x="186.73" y="1098.33" width="12.84" height="12.29" fill="#ffea9b"/>
<rect x="198.57" y="1098.33" width="12.84" height="12.29" fill="#ffffcc"/>
<rect x="210.40" y="1098.33" width="12.84" height="12.29" fill="#ffea9b"/>
<rect x="222.24" y="1098.33" width="12.84" height="12.29" fill="#ffffcc"/>
<rect x="234.08" y="1098.33" width="12.84" height="12.29" fill="#ffea9b"/>
<rect x="245.91" y="1098.33" width="12.84" height="12.29" fill="#fece6a"/>
<rect x="257.75" y="1098.33" width="12.84" height="12.29" fill="#ffea9b"/>
<rect x="269.59" y="1098.33" width="12.84" height="12.29" fill="#ffffcc"/>
<rect x="281.42" y="1098.33" width="12.84" height="12.29" fill="#fc6732"/>
<rect x="293.26" y="1098.33" width="24.67" height="12.29" fill="#ffffcc"/>
<rect x="316.93" y="1098.33" width="12.84" height="12.29" fill="#ffea9b"/>
<rect x="328.77" y="1098.33" width="12.84" height="12.29" fill="#fece6a"/>
<rect x="340.61" y="1098.33" width="94.69" height="12.29" fill="#ffffcc"/>
<rect x="80.20" y="1109.62" width="60.18" height="12.29" fill="#ffffcc"/>
<rect x="139.38" y="1109.62" width="12.84" height="12.29" fill="#ffea9b"/>
<rect x="151.22" y="1109.62" width="24.67" height="12.29" fill="#ffffcc"/>
<rect x="174.89" y="1109.62" width="12.84" height="12.29" fill="#fece6a"/>
<rect x="186.73" y="1109.62" width="12.84" height="12.29" fill="#ffea9b"/>
<rect x="198.57" y="1109.62" width="12.84" height="12.29" fill="#ffffcc"/>
<rect x="210.40" y="1109.62" width="12.84" height="12.29" fill="#ffea9b"/>
<rect x="222.24" y="1109.62" width="12.84" height="12.29" fill="#fea245"/>
<rect x="234.08" y="1109.62" width="12.84" height="12.29" fill="#ffffcc"/>
<rect x="245.91" y="1109.62" width="12.84" height="12.29" fill="#ffea9b"/>
<rect x="257.75" y="1109.62" width="12.84" height="12.29" fill="#ffffcc"/>
<rect x="269.59" y="1109.62" width="12.84" height="12.29" fill="#fece6a"/>
<rect x="281.42" y="1109.62" width="12.84" height="12.29" fill="#ffffcc"/>
<rect x="293.26" y="1109.62" width="12.84" height="12.29" fill="#ffea9b"/>
<rect x="305.10" y="1109.62" width="60.18" height="12.29" fill="#ffffcc"/>
<rect x="364.28" y="1109.62" width="12.84" height="12.29" fill="#ffea9b"/>
<rect x="376.12" y="1109.62" width="59.18" height="12.29" fill="#ffffcc"/>
<rect x="80.20" y="1120.91" width="72.02" height="12.29" fill="#ffffcc"/>
<rect x="151.22" y="1120.91" width="12.84" height="12.29" fill="#ffea9b"/>
<rect x="163.06" y="1120.91" width="12.84" height="12.29" fill="#fece6a"/>
<rect x="174.89" y="1120.91" width="12.84" height="12.29" fill="#ffea9b"/>
<rect x="186.73" y="1120.91" width="12.84" height="12.29" fill="#ffffcc"/>
<rect x="198.57" y="1120.91" width="24.67" height="12.29" fill="#fece6a"/>
<rect x="222.24" y="1120.91" width="12.84" height="12.29" fill="#fea245"/>
<rect x="234.08" y="1120.91" width="12.84" height="12.29" fill="#ea2820"/>
<rect x="245.91" y="1120.91" width="24.67" height="12.29" fill="#ffea9b"/>
<rect x="269.59" y="1120.91" width="12.84" height="12.29" fill="#fea245"/>
<rect x="281.42" y="1120.91" width="12.84" height="12.29" fill="#fece6a"/>
<rect x="293.26" y="1120.91" width="12.84" height="12.29" fill="#ea2820"/>
<rect x="305.10" y="1120.91" width="24.67" height="12.29" fill="#ffea9b"/>
<rect x="328.77" y="1120.91" width="24.67" height="12.29" fill="#ffffcc"/>
<rect x="352.44" y="1120.91" width="48.35" height="12.29" fill="#ffea9b"/>
<rect x="399.79" y="1120.91" width="35.51" height="12.29" fill="#ffffcc"/>
<rect x="80.20" y="1132.19" width="24.67" height="12.29" fill="#ffffcc"/>
<rect x="103.87" y="1132.19" width="12.84" height="12.29" fill="#ffea9b"/>
<rect x="115.71" y="1132.19" width="48.35" height="12.29" fill="#ffffcc"/>
<rect x="163.06" y="1132.19" width="12.84" height="12.29" fill="#fece6a"/>
<rect x="174.89" y="1132.19" width="12.84" height="12.29" fill="#ffea9b"/>
<rect x="186.73" y="1132.19" width="12.84" height="12.29" fill="#fece6a"/>
<rect x="198.57" y="1132.19" width="24.67" height="12.29" fill="#ffea9b"/>
<rect x="222.24" y="1132.19" width="12.84" height="12.29" fill="#ea2820"/>
<rect x="234.08" y="1132.19" width="12.84" height="12.29" fill="#fea245"/>
<rect x="245.91" y="1132.19" width="12.84" height="12.29" fill="#fece6a"/>
<rect x="257.75" y="1132.19" width="36.51" height="12.29" fill="#fea245"/>
<rect x="293.26" y="1132.19" width="12.84" height="12.29" fill="#fece6a"/>
<rect x="305.10" y="1132.19" width="12.84" height="12.29" fill="#ffea9b"/>
<rect x="316.93" y="1132.19" width="12.84" height="12.29" fill="#fece6a"/>
<rect x="328.77" y="1132.19" width="24.67" height="12.29" fill="#ffea9b"/>
<rect x="352.44" y="1132.19" width="12.84" height="12.29" fill="#fece6a"/>
<rect x="364.28" y="1132.19" width="71.02" height="12.29" fill="#ffffcc"/>
<rect x="80.20" y="1143.48" width="12.84" height="12.29" fill="#ffffcc"/>
<rect x="92.04" y="1143.48" width="12.84" height="12.29" fill="#ffea9b"/>
<rect x="103.87" y="1143.48" width="12.84" height="12.29" fill="#ffffcc"/>
<rect x="115.71" y="1143.48" width="12.84" height="12.29" fill="#fece6a"/>
<rect x="127.55" y="1143.48" width="12.84" height="12.29" fill="#ffffcc"/>
<rect x="139.38" y="1143.48" width="24.67" height="12.29" fill="#ffea9b"/>
<rect x="163.06" y="1143.48" width="12.84" height="12.29" fill="#fea245"/>
<rect x="174.89" y="1143.48" width="12.84" height="12.29" fill="#ffea9b"/>
<rect x="186.73" y="1143.48" width="12.84" height="12.29" fill="#ffffcc"/>
<rect x="198.57" y="1143.48" width="12.84" height="12.29" fill="#fc6732"/>
<rect x="210.40" y="1143.48" width="12.84" height="12.29" fill="#fea245"/>
<rect x="222.24" y="1143.48" width="12.84" height="12.29" fill="#fece6a"/>
<rect x="234.08" y="1143.48" width="12.84" height="12.29" fill="#ea2820"/>
<rect x="245.91" y="1143.48" width="12.84" height="12.29" fill="#fea245"/>
<rect x="257.75" y="1143.48" width="12.84" height="12.29" fill="#ffea9b"/>
<rect x="269.59" y="1143.48" width="12.84" height="12.29" fill="#fea245"/>
<rect x="281.42" y="1143.48" width="12.84" height="12.29" fill="#fc6732"/>
<rect x="293.26" y="1143.48" width="12.84" height="12.29" fill="#fece6a"/>
<rect x="305.10" y="1143.48" width="12.84" height="12.29" fill="#ffea9b"/>
<rect x="316.93" y="1143.48" width="12.84" height="12.29" fill="#ffffcc"/>
<rect x="328.77" y="1143.48" width="12.84" height="12.29" fill="#fece6a"/>
<rect x="340.61" y="1143.48" width="12.84" height="12.29" fill="#ffffcc"/>
<rect x="352.44" y="1143.48" width="12.84" height="12.29" fill="#fece6a"/>
<rect x="364.28" y="1143.48" width="12.84" height="12.29" fill="#ffea9b"/>
<rect x="376.12" y="1143.48" width="59.18" height="12.29" fill="#ffffcc"/>
<rect x="80.20" y="1154.77" width="24.67" height="12.29" fill="#ffffcc"/>
<rect x="103.87" y="1154.77" width="24.67" height="12.29" fill="#ffea9b"/>
<rect x="127.55" y="1154.77" width="24.67" height="12.29" fill="#ffffcc"/>
<rect x="151.22" y="1154.77" width="12.84" height="12.29" fill="#ffea9b"/>
<rect x="163.06" y="1154.77" width="24.67" height="12.29" fill="#fea245"/>
<rect x="186.73" y="1154.77" width="12.84" height="12.29" fill="#ea2820"/>
<rect x="198.57" y="1154.77" width="12.84" height="12.29" fill="#fea245"/>
<rect x="210.40" y="1154.77" width="12.84" height="12.29" fill="#c00325"/>
<rect x="222.24" y="1154.77" width="12.84" height="12.29" fill="#ea2820"/>
<rect x="234.08" y="1154.77" width="24.67" height="12.29" fill="#fece6a"/>
<rect x="257.75" y="1154.77" width="24.67" height="12.29" fill="#fea245"/>
<rect x="281.42" y="1154.77" width="24.67" height="12.29" fill="#fece6a"/>
<rect x="305.10" y="1154.77" width="12.84" height="12.29" fill="#c00325"/>
<rect x="316.93" y="1154.77" width="12.84" height="12.29" fill="#fece6a"/>
<rect x="328.77" y="1154.77" width="12.84" height="12.29" fill="#ffea9b"/>
<rect x="340.61" y="1154.77" width="24.67" height="12.29" fill="#ffffcc"/>
<rect x="364.28" y="1154.77" width="36.51" height="12.29" fill="#ffea9b"/>
<rect x="399.79" y="1154.77" width="35.51" height="12.29" fill="#ffffcc"/>
<rect x="80.20" y="1166.05" width="36.51" height="12.29" fill="#ffffcc"/>
<rect x="115.71" y="1166.05" width="12.84" height="12.29" fill="#ffea9b"/>
<rect x="127.55" y="1166.05" width="12.84" height="12.29" fill="#fc6732"/>
<rect x="139.38" y="1166.05" width="24.67" height="12.29" fill="#ffea9b"/>
<rect x="163.06" y="1166.05" width="12.84" height="12.29" fill="#fea245"/>
<rect x="174.89" y="1166.05" width="12.84" height="12.29" fill="#fece6a"/>
<rect x="186.73" y="1166.05" width="12.84" height="12.29" fill="#fea245"/>
<rect x="198.57" y="1166.05" width="12.84" height="12.29" fill="#ffea9b"/>
<rect x="210.40" y="1166.05" width="12.84" height="12.29" fill="#fece6a"/>
<rect x="222.24" y="1166.05" width="36.51" height="12.29" fill="#fea245"/>
<rect x="257.75" y="1166.05" width="12.84" height="12.29" fill="#800026"/>
<rect x="269.59" y="1166.05" width="12.84" height="12.29" fill="#fea245"/>
<rect x="281.42" y="1166.05" width="12.84" height="12.29" fill="#fece6a"/>
<rect x="293.26" y="1166.05" width="12.84" height="12.29" fill="#fc6732"/>
<rect x="305.10" y="1166.05" width="12.84" height="12.29" fill="#fea245"/>
<rect x="316.93" y="1166.05" width="12.84" height="12.29" fill="#fc6732"/>
<rect x="328.77" y="1166.05" width="36.51" height="12.29" fill="#fea245"/>
<rect x="364.28" y="1166.05" width="48.35" height="12.29" fill="#ffffcc"/>
<rect x="411.63" y="1166.05" width="12.84" height="12.29" fill="#ffea9b"/>
<rect x="423.46" y="1166.05" width="11.84" height="12.29" fill="#ffffcc"/>
<rect x="80.20" y="1177.34" width="24.67" height="12.29" fill="#ffffcc"/>
<rect x="103.87" y="1177.34" width="12.84" height="12.29" fill="#ffea9b"/>
<rect x="115.71" y="1177.34" width="12.84" height="12.29" fill="#ffffcc"/>
<rect x="127.55" y="1177.34" width="12.84" height="12.29" fill="#fece6a"/>
<rect x="139.38" y="1177.34" width="12.84" height="12.29" fill="#ffea9b"/>
<rect x="151.22" y="1177.34" width="12.84" height="12.29" fill="#fece6a"/>
<rect x="163.06" y="1177.34" width="12.84" height="12.29" fill="#ffea9b"/>
<rect x="174.89" y="1177.34" width="12.84" height="12.29" fill="#fc6732"/>
<rect x="186.73" y="1177.34" width="12.84" height="12.29" fill="#ffea9b"/>
<rect x="198.57" y="1177.34" width="24.67" height="12.29" fill="#fc6732"/>
<rect x="222.24" y="1177.34" width="12.84" height="12.29" fill="#ffffcc"/>
<rect x="234.08" y="1177.34" width="12.84" height="12.29" fill="#fece6a"/>
<rect x="245.91" y="1177.34" width="12.84" height="12.29" fill="#fc6732"/>
<rect x="257.75" y="1177.34" width="12.84" height="12.29" fill="#fece6a"/>
<rect x="269.59" y="1177.34" width="12.84" height="12.29" fill="#fea245"/>
<rect x="281.42" y="1177.34" width="12.84" height="12.29" fill="#ea2820"/>
<rect x="293.26" y="1177.34" width="12.84" height="12.29" fill="#fea245"/>
<rect x="305.10" y="1177.34" width="12.84" height="12.29" fill="#c00325"/>
<rect x="316.93" y="1177.34" width="12.84" height="12.29" fill="#fea245"/>
<rect x="328.77" y="1177.34" width="24.67" height="12.29" fill="#ffea9b"/>
<rect x="352.44" y="1177.34" width="12.84" height="12.29" fill="#ffffcc"/>
<rect x="364.28" y="1177.34" width="12.84" height="12.29" fill="#ffea9b"/>
<rect x="376.12" y="1177.34" width="24.67" height="12.29" fill="#ffffcc"/>
<rect x="399.79" y="1177.34" width="12.84" height="12.29" fill="#fece6a"/>
<rect x="411.63" y="1177.34" width="12.84" height="12.29" fill="#ffea9b"/>
<rect x="423.46" y="1177.34" width="11.84" height="12.29" fill="#ffffcc"/>
<rect x="80.20" y="1188.63" width="36.51" height="12.29" fill="#ffffcc"/>
<rect x="115.71" y="1188.63" width="12.84" height="12.29" fill="#ffea9b"/>
<rect x="127.55" y="1188.63" width="12.84" height="12.29" fill="#fea245"/>
<rect x="139.38" y="1188.63" width="12.84" height="12.29" fill="#ffea9b"/>
<rect x="151.22" y="1188.63" width="12.84" height="12.29" fill="#fece6a"/>
<rect x="163.06" y="1188.63" width="12.84" height="12.29" fill="#fea245"/>
<rect x="174.89" y="1188.63" width="12.84" height="12.29" fill="#fece6a"/>
<rect x="186.73" y="1188.63" width="60.18" height="12.29" fill="#fea245"/>
<rect x="245.91" y="1188.63" width="12.84" height="12.29" fill="#ea2820"/>
<rect x="257.75" y="1188.63" width="12.84" height="12.29" fill="#fea245"/>
<rect x="269.59" y="1188.63" width="24.67" height="12.29" fill="#fece6a"/>
<rect x="293.26" y="1188.63" width="12.84" height="12.29" fill="#ea2820"/>
<rect x="305.10" y="1188.63" width="12.84" height="12.29" fill="#fc6732"/>
<rect x="316.93" y="1188.63" width="12.84" height="12.29" fill="#fea245"/>
<rect x="328.77" y="1188.63" width="12.84" height="12.29" fill="#fc6732"/>
<rect x="340.61" y="1188.63" width="12.84" height="12.29" fill="#ffea9b"/>
<rect x="352.44" y="1188.63" width="24.67" height="12.29" fill="#fece6a"/>
<rect x="376.12" y="1188.63" width="24.67" height="12.29" fill="#ffea9b"/>
<rect x="399.79" y="1188.63" width="35.51" height="12.29" fill="#ffffcc"/>
<rect x="80.20" y="1199.91" width="60.18" height="12.29" fill="#ffffcc"/>
<rect x="139.38" y="1199.91" width="12.84" height="12.29" fill="#fea245"/>
<rect x="151.22" y="1199.91" width="12.84" height="12.29" fill="#ffffcc"/>
<rect x="163.06" y="1199.91" width="12.84" height="12.29" fill="#fea245"/>
<rect x="174.89" y="1199.91" width="12.84" height="12.29" fill="#fece6a"/>
<rect x="186.73" y="1199.91" width="12.84" height="12.29" fill="#ea2820"/>
<rect x="198.57" y="1199.91" width="12.84" height="12.29" fill="#fece6a"/>
<rect x="210.40" y="1199.91" width="12.84" height="12.29" fill="#fea245"/>
<rect x="222.24" y="1199.91" width="12.84" height="12.29" fill="#c00325"/>
<rect x="234.08" y="1199.91" width="12.84" height="12.29" fill="#fece6a"/>
<rect x="245.91" y="1199.91" width="12.84" height="12.29" fill="#fea245"/>
<rect x="257.75" y="1199.91" width="24.67" height="12.29" fill="#fc6732"/>
<rect x="281.42" y="1199.91" width="12.84" height="12.29" fill="#ea2820"/>
<rect x="293.26" y="1199.91" width="12.84" height="12.29" fill="#fea245"/>
<rect x="305.10" y="1199.91" width="12.84" height="12.29" fill="#fece6a"/>
<rect x="316.93" y="1199.91" width="12.84" height="12.29" fill="#fc6732"/>
<rect x="328.77" y="1199.91" width="12.84" height="12.29" fill="#fea245"/>
<rect x="340.61" y="1199.91" width="12.84" height="12.29" fill="#fc6732"/>
<rect x="352.44" y="1199.91" width="12.84" height="12.29" fill="#ffffcc"/>
<rect x="364.28" y="1199.91" width="12.84" height="12.29" fill="#fece6a"/>
<rect x="376.12" y="1199.91" width="24.67" height="12.29" fill="#ffea9b"/>
<rect x="399.79" y="1199.91" width="35.51" height="12.29" fill="#ffffcc"/>
<rect x="80.20" y="1211.20" width="24.67" height="12.29" fill="#ffffcc"/>
<rect x="103.87" y="1211.20" width="12.84" height="12.29" fill="#ffea9b"/>
<rect x="115.71" y="1211.20" width="12.84" height="12.29" fill="#ffffcc"/>
<rect x="127.55" y="1211.20" width="12.84" height="12.29" fill="#fea245"/>
<rect x="139.38" y="1211.20" width="24.67" height="12.29" fill="#ffea9b"/>
<rect x="163.06" y="1211.20" width="12.84" height="12.29" fill="#ffffcc"/>
<rect x="174.89" y="1211.20" width="12.84" height="12.29" fill="#fece6a"/>
<rect x="186.73" y="1211.20" width="12.84" height="12.29" fill="#ffea9b"/>
<rect x="198.57" y="1211.20" width="12.84" height="12.29" fill="#ea2820"/>
<rect x="210.40" y="1211.20" width="12.84" height="12.29" fill="#c00325"/>
<rect x="222.24" y="1211.20" width="24.67" height="12.29" fill="#fea245"/>
<rect x="245.91" y="1211.20" width="12.84" height="12.29" fill="#ea2820"/>
<rect x="257.75" y="1211.20" width="24.67" height="12.29" fill="#fea245"/>
<rect x="281.42" y="1211.20" width="12.84" height="12.29" fill="#c00325"/>
<rect x="293.26" y="1211.20" width="12.84" height="12.29" fill="#fc6732"/>
<rect x="305.10" y="1211.20" width="12.84" height="12.29" fill="#fea245"/>
<rect x="316.93" y="1211.20" width="12.84" height="12.29" fill="#ffffcc"/>
<rect x="328.77" y="1211.20" width="24.67" height="12.29" fill="#fea245"/>
<rect x="352.44" y="1211.20" width="12.84" height="12.29" fill="#ea2820"/>
<rect x="364.28" y="1211.20" width="12.84" height="12.29" fill="#ffea9b"/>
<rect x="376.12" y="1211.20" width="24.67" height="12.29" fill="#ffffcc"/>
<rect x="399.79" y="1211.20" width="12.84" height="12.29" fill="#ffea9b"/>
<rect x="411.63" y="1211.20" width="23.67" height="12.29" fill="#ffffcc"/>
<rect x="80.20" y="1222.49" width="36.51" height="12.29" fill="#ffffcc"/>
<rect x="115.71" y="1222.49" width="12.84" height="12.29" fill="#fea245"/>
<rect x="127.55" y="1222.49" width="24.67" height="12.29" fill="#fece6a"/>
<rect x="151.22" y="1222.49" width="12.84" height="12.29" fill="#ea2820"/>
<rect x="163.06" y="1222.49" width="12.84" height="12.29" fill="#fea245"/>
<rect x="174.89" y="1222.49" width="12.84" height="12.29" fill="#fece6a"/>
<rect x="186.73" y="1222.49" width="12.84" height="12.29" fill="#c00325"/>
<rect x="198.57" y="1222.49" width="12.84" height="12.29" fill="#fc6732"/>
<rect x="210.40" y="1222.49" width="12.84" height="12.29" fill="#fea245"/>
<rect x="222.24" y="1222.49" width="12.84" height="12.29" fill="#fece6a"/>
<rect x="234.08" y="1222.49" width="12.84" height="12.29" fill="#c00325"/>
<rect x="245.91" y="1222.49" width="12.84" height="12.29" fill="#ffea9b"/>
<rect x="257.75" y="1222.49" width="12.84" height="12.29" fill="#fc6732"/>
<rect x="269.59" y="1222.49" width="12.84" height="12.29" fill="#c00325"/>
<rect x="281.42" y="1222.49" width="12.84" height="12.29" fill="#fece6a"/>
<rect x="293.26" y="1222.49" width="24.67" height="12.29" fill="#fea245"/>
<rect x="316.93" y="1222.49" width="12.84" height="12.29" fill="#fc6732"/>
<rect x="328.77" y="1222.49" width="24.67" height="12.29" fill="#fece6a"/>
<rect x="352.44" y="1222.49" width="24.67" height="12.29" fill="#ffea9b"/>
<rect x="376.12" y="1222.49" width="12.84" height="12.29" fill="#ffffcc"/>
<rect x="387.95" y="1222.49" width="47.35" height="12.29" fill="#ffea9b"/>
<rect x="80.20" y="1233.77" width="36.51" height="12.29" fill="#ffffcc"/>
<rect x="115.71" y="1233.77" width="12.84" height="12.29" fill="#fece6a"/>
<rect x="127.55" y="1233.77" width="24.67" height="12.29" fill="#ffea9b"/>
<rect x="151.22" y="1233.77" width="12.84" height="12.29" fill="#fece6a"/>
<rect x="163.06" y="1233.77" width="12.84" height="12.29" fill="#fea245"/>
<rect x="174.89" y="1233.77" width="12.84" height="12.29" fill="#fece6a"/>
<rect x="186.73" y="1233.77" width="24.67" height="12.29" fill="#fea245"/>
<rect x="210.40" y="1233.77" width="12.84" height="12.29" fill="#c00325"/>
<rect x="222.24" y="1233.77" width="12.84" height="12.29" fill="#ea2820"/>
<rect x="234.08" y="1233.77" width="12.84" height="12.29" fill="#fc6732"/>
<rect x="245.91" y="1233.77" width="12.84" height="12.29" fill="#fea245"/>
<rect x="257.75" y="1233.77" width="12.84" height="12.29" fill="#ffea9b"/>
<rect x="269.59" y="1233.77" width="12.84" height="12.29" fill="#ea2820"/>
<rect x="281.42" y="1233.77" width="12.84" height="12.29" fill="#fc6732"/>
<rect x="293.26" y="1233.77" width="12.84" height="12.29" fill="#fea245"/>
<rect x="305.10" y="1233.77" width="12.84" height="12.29" fill="#ea2820"/>
<rect x="316.93" y="1233.77" width="36.51" height="12.29" fill="#fc6732"/>
<rect x="352.44" y="1233.77" width="12.84" height="12.29" fill="#fea245"/>
<rect x="364.28" y="1233.77" width="12.84" height="12.29" fill="#fc6732"/>
<rect x="376.12" y="1233.77" width="24.67" height="12.29" fill="#ffea9b"/>
<rect x="399.79" y="1233.77" width="12.84" height="12.29" fill="#ffffcc"/>
<rect x="411.63" y="1233.77" width="12.84" height="12.29" fill="#ffea9b"/>
<rect x="423.46" y="1233.77" width="11.84" height="12.29" fill="#ffffcc"/>
<rect x="80.20" y="1245.06" width="12.84" height="12.29" fill="#fece6a"/>
<rect x="92.04" y="1245.06" width="12.84" height="12.29" fill="#ffffcc"/>
<rect x="103.87" y="1245.06" width="24.67" height="12.29" fill="#ffea9b"/>
<rect x="127.55" y="1245.06" width="12.84" height="12.29" fill="#ffffcc"/>
<rect x="139.38" y="1245.06" width="12.84" height="12.29" fill="#ffea9b"/>
<rect x="151.22" y="1245.06" width="12.84" height="12.29" fill="#fea245"/>
<rect x="163.06" y="1245.06" width="12.84" height="12.29" fill="#ffea9b"/>
<rect x="174.89" y="1245.06" width="24.67" height="12.29" fill="#fc6732"/>
<rect x="198.57" y="1245.06" width="24.67" height="12.29" fill="#fea245"/>
<rect x="222.24" y="1245.06" width="24.67" height="12.29" fill="#fece6a"/>
<rect x="245.91" y="1245.06" width="12.84" height="12.29" fill="#fea245"/>
<rect x="257.75" y="1245.06" width="12.84" height="12.29" fill="#c00325"/>
<rect x="269.59" y="1245.06" width="24.67" height="12.29" fill="#fea245"/>
<rect x="293.26" y="1245.06" width="12.84" height="12.29" fill="#800026"/>
<rect x="305.10" y="1245.06" width="12.84" height="12.29" fill="#c00325"/>
<rect x="316.93" y="1245.06" width="12.84" height="12.29" fill="#fece6a"/>
<rect x="328.77" y="1245.06" width="12.84" height="12.29" fill="#fc6732"/>
<rect x="340.61" y="1245.06" width="12.84" height="12.29" fill="#fece6a"/>
<rect x="352.44" y="1245.06" width="12.84" height="12.29" fill="#ffea9b"/>
<rect x="364.28" y="1245.06" width="12.84" height="12.29" fill="#fea245"/>
<rect x="376.12" y="1245.06" width="12.84" height="12.29" fill="#fece6a"/>
<rect x="387.95" y="1245.06" width="36.51" height="12.29" fill="#ffea9b"/>
<rect x="423.46" y="1245.06" width="11.84" height="12.29" fill="#ffffcc"/>
<rect x="80.20" y="1256.35" width="36.51" height="12.29" fill="#ffffcc"/>
<rect x="115.71" y="1256.35" width="12.84" height="12.29" fill="#ffea9b"/>
<rect x="127.55" y="1256.35" width="12.84" height="12.29" fill="#fc6732"/>
<rect x="139.38" y="1256.35" width="12.84" height="12.29" fill="#ffea9b"/>
<rect x="151.22" y="1256.35" width="12.84" height="12.29" fill="#fea245"/>
<rect x="163.06" y="1256.35" width="12.84" height="12.29" fill="#ea2820"/>
<rect x="174.89" y="1256.35" width="12.84" height="12.29" fill="#ffea9b"/>
<rect x="186.73" y="1256.35" width="36.51" height="12.29" fill="#fea245"/>
<rect x="222.24" y="1256.35" width="12.84" height="12.29" fill="#fc6732"/>
<rect x="234.08" y="1256.35" width="12.84" height="12.29" fill="#800026"/>
<rect x="245.91" y="1256.35" width="12.84" height="12.29" fill="#fc6732"/>
<rect x="257.75" y="1256.35" width="12.84" height="12.29" fill="#ea2820"/>
<rect x="269.59" y="1256.35" width="12.84" height="12.29" fill="#c00325"/>
<rect x="281.42" y="1256.35" width="12.84" height="12.29" fill="#fc6732"/>
<rect x="293.26" y="1256.35" width="12.84" height="12.29" fill="#ea2820"/>
<rect x="305.10" y="1256.35" width="12.84" height="12.29" fill="#fea245"/>
<rect x="316.93" y="1256.35" width="12.84" height="12.29" fill="#ffffcc"/>
<rect x="328.77" y="1256.35" width="12.84" height="12.29" fill="#ffea9b"/>
<rect x="340.61" y="1256.35" width="12.84" height="12.29" fill="#ffffcc"/>
<rect x="352.44" y="1256.35" width="12.84" height="12.29" fill="#fc6732"/>
<rect x="364.28" y="1256.35" width="36.51" height="12.29" fill="#ffea9b"/>
<rect x="399.79" y="1256.35" width="35.51" height="12.29" fill="#ffffcc"/>
<rect x="80.20" y="1267.63" width="48.35" height="12.29" fill="#ffffcc"/>
<rect x="127.55" y="1267.63" width="12.84" height="12.29" fill="#fece6a"/>
<rect x="139.38" y="1267.63" width="12.84" height="12.29" fill="#fea245"/>
<rect x="151.22" y="1267.63" width="24.67" height="12.29" fill="#ffea9b"/>
<rect x="174.89" y="1267.63" width="12.84" height="12.29" fill="#ffffcc"/>
<rect x="186.73" y="1267.63" width="12.84" height="12.29" fill="#fea245"/>
<rect x="198.57" y="1267.63" width="12.84" height="12.29" fill="#ffea9b"/>
<rect x="210.40" y="1267.63" width="12.84" height="12.29" fill="#fea245"/>
<rect x="222.24" y="1267.63" width="12.84" height="12.29" fill="#ffea9b"/>
<rect x="234.08" y="1267.63" width="24.67" height="12.29" fill="#fea245"/>
<rect x="257.75" y="1267.63" width="12.84" height="12.29" fill="#fece6a"/>
<rect x="269.59" y="1267.63" width="12.84" height="12.29" fill="#fc6732"/>
<rect x="281.42" y="1267.63" width="48.35" height="12.29" fill="#fece6a"/>
<rect x="328.77" y="1267.63" width="12.84" height="12.29" fill="#fea245"/>
<rect x="340.61" y="1267.63" width="12.84" height="12.29" fill="#ea2820"/>
<rect x="352.44" y="1267.63" width="12.84" height="12.29" fill="#fea245"/>
<rect x="364.28" y="1267.63" width="12.84" height="12.29" fill="#fece6a"/>
<rect x="376.12" y="1267.63" width="12.84" height="12.29" fill="#ffea9b"/>
<rect x="387.95" y="1267.63" width="47.35" height="12.29" fill="#ffffcc"/>
<rect x="80.20" y="1278.92" width="83.86" height="12.29" fill="#ffffcc"/>
<rect x="163.06" y="1278.92" width="12.84" height="12.29" fill="#ea2820"/>
<rect x="174.89" y="1278.92" width="12.84" height="12.29" fill="#ffea9b"/>
<rect x="186.73" y="1278.92" width="12.84" height="12.29" fill="#fece6a"/>
<rect x="198.57" y="1278.92" width="12.84" height="12.29" fill="#fea245"/>
<rect x="210.40" y="1278.92" width="12.84" height="12.29" fill="#fece6a"/>
<rect x="222.24" y="1278.92" width="12.84" height="12.29" fill="#ea2820"/>
<rect x="234.08" y="1278.92" width="24.67" height="12.29" fill="#fece6a"/>
<rect x="257.75" y="1278.92" width="12.84" height="12.29" fill="#c00325"/>
<rect x="269.59" y="1278.92" width="24.67" height="12.29" fill="#fea245"/>
<rect x="293.26" y="1278.92" width="12.84" height="12.29" fill="#c00325"/>
<rect x="305.10" y="1278.92" width="12.84" height="12.29" fill="#fea245"/>
<rect x="316.93" y="1278.92" width="12.84" height="12.29" fill="#fc6732"/>
<rect x="328.77" y="1278.92" width="12.84" height="12.29" fill="#fea245"/>
<rect x="340.61" y="1278.92" width="24.67" height="12.29" fill="#ffffcc"/>
<rect x="364.28" y="1278.92" width="12.84" height="12.29" fill="#ffea9b"/>
<rect x="376.12" y="1278.92" width="36.51" height="12.29" fill="#ffffcc"/>
<rect x="411.63" y="1278.92" width="12.84" height="12.29" fill="#ffea9b"/>
<rect x="423.46" y="1278.92" width="11.84" height="12.29" fill="#ffffcc"/>
<rect x="80.20" y="1290.21" width="48.35" height="12.29" fill="#ffffcc"/>
<rect x="127.55" y="1290.21" width="12.84" height="12.29" fill="#fece6a"/>
<rect x="139.38" y="1290.21" width="12.84" height="12.29" fill="#ffea9b"/>
<rect x="151.22" y="1290.21" width="12.84" height="12.29" fill="#fece6a"/>
<rect x="163.06" y="1290.21" width="12.84" height="12.29" fill="#ffffcc"/>
<rect x="174.89" y="1290.21" width="12.84" height="12.29" fill="#fc6732"/>
<rect x="186.73" y="1290.21" width="12.84" height="12.29" fill="#fea245"/>
<rect x="198.57" y="1290.21" width="12.84" height="12.29" fill="#ffffcc"/>
<rect x="210.40" y="1290.21" width="12.84" height="12.29" fill="#fc6732"/>
<rect x="222.24" y="1290.21" width="24.67" height="12.29" fill="#ffea9b"/>
<rect x="245.91" y="1290.21" width="12.84" height="12.29" fill="#fece6a"/>
<rect x="257.75" y="1290.21" width="12.84" height="12.29" fill="#c00325"/>
<rect x="269.59" y="1290.21" width="12.84" height="12.29" fill="#fece6a"/>
<rect x="281.42" y="1290.21" width="12.84" height="12.29" fill="#ffea9b"/>
<rect x="293.26" y="1290.21" width="12.84" height="12.29" fill="#fece6a"/>
<rect x="305.10" y="1290.21" width="12.84" height="12.29" fill="#fea245"/>
<rect x="316.93" y="1290.21" width="12.84" height="12.29" fill="#fece6a"/>
<rect x="328.77" y="1290.21" width="12.84" height="12.29" fill="#fea245"/>
<rect x="340.61" y="1290.21" width="24.67" height="12.29" fill="#fece6a"/>
<rect x="364.28" y="1290.21" width="12.84" height="12.29" fill="#ffea9b"/>
<rect x="376.12" y="1290.21" width="48.35" height="12.29" fill="#ffffcc"/>
<rect x="423.46" y="1290.21" width="11.84" height="12.29" fill="#ffea9b"/>
<rect x="80.20" y="1301.49" width="48.35" height="12.29" fill="#ffffcc"/>
<rect x="127.55" y="1301.49" width="12.84" height="12.29" fill="#ffea9b"/>
<rect x="139.38" y="1301.49" width="12.84" height="12.29" fill="#ffffcc"/>
<rect x="151.22" y="1301.49" width="12.84" height="12.29" fill="#fece6a"/>
<rect x="163.06" y="1301.49" width="12.84" height="12.29" fill="#fea245"/>
<rect x="174.89" y="1301.49" width="12.84" height="12.29" fill="#ffea9b"/>
<rect x="186.73" y="1301.49" width="12.84" height="12.29" fill="#fece6a"/>
<rect x="198.57" y="1301.49" width="12.84" height="12.29" fill="#ffea9b"/>
<rect x="210.40" y="1301.49" width="48.35" height="12.29" fill="#fece6a"/>
<rect x="257.75" y="1301.49" width="24.67" height="12.29" fill="#ffea9b"/>
<rect x="281.42" y="1301.49" width="24.67" height="12.29" fill="#fece6a"/>
<rect x="305.10" y="1301.49" width="12.84" height="12.29" fill="#ffea9b"/>
<rect x="316.93" y="1301.49" width="12.84" height="12.29" fill="#ffffcc"/>
<rect x="328.77" y="1301.49" width="12.84" height="12.29" fill="#fece6a"/>
<rect x="340.61" y="1301.49" width="24.67" height="12.29" fill="#ffea9b"/>
<rect x="364.28" y="1301.49" width="71.02" height="12.29" fill="#ffffcc"/>
<rect x="80.20" y="1312.78" width="60.18" height="12.29" fill="#ffffcc"/>
<rect x="139.38" y="1312.78" width="12.84" height="12.29" fill="#fece6a"/>
<rect x="151.22" y="1312.78" width="36.51" height="12.29" fill="#ffffcc"/>
<rect x="186.73" y="1312.78" width="12.84" height="12.29" fill="#fece6a"/>
<rect x="198.57" y="1312.78" width="12.84" height="12.29" fill="#ffffcc"/>
<rect x="210.40" y="1312.78" width="12.84" height="12.29" fill="#fece6a"/>
<rect x="222.24" y="1312.78" width="12.84" height="12.29" fill="#ffea9b"/>
<rect x="234.08" y="1312.78" width="12.84" height="12.29" fill="#fece6a"/>
<rect x="245.91" y="1312.78" width="12.84" height="12.29" fill="#ffea9b"/>
<rect x="257.75" y="1312.78" width="12.84" height="12.29" fill="#ffffcc"/>
<rect x="269.59" y="1312.78" width="12.84" height="12.29" fill="#ffea9b"/>
<rect x="281.42" y="1312.78" width="12.84" height="12.29" fill="#fea245"/>
<rect x="293.26" y="1312.78" width="24.67" height="12.29" fill="#ffea9b"/>
<rect x="316.93" y="1312.78" width="24.67" height="12.29" fill="#fece6a"/>
<rect x="340.61" y="1312.78" width="24.67" height="12.29" fill="#ffffcc"/>
<rect x="364.28" y="1312.78" width="12.84" height="12.29" fill="#ffea9b"/>
<rect x="376.12" y="1312.78" width="48.35" height="12.29" fill="#ffffcc"/>
<rect x="423.46" y="1312.78" width="11.84" height="12.29" fill="#fece6a"/>
<rect x="80.20" y="1324.07" width="83.86" height="12.29" fill="#ffffcc"/>
<rect x="163.06" y="1324.07" width="24.67" height="12.29" fill="#ffea9b"/>
<rect x="186.73" y="1324.07" width="12.84" height="12.29" fill="#ffffcc"/>
<rect x="198.57" y="1324.07" width="12.84" height="12.29" fill="#ffea9b"/>
<rect x="210.40" y="1324.07" width="12.84" height="12.29" fill="#ffffcc"/>
<rect x="222.24" y="1324.07" width="24.67" height="12.29" fill="#ffea9b"/>
<rect x="245.91" y="1324.07" width="24.67" height="12.29" fill="#ffffcc"/>
<rect x="269.59" y="1324.07" width="12.84" height="12.29" fill="#ffea9b"/>
<rect x="281.42" y="1324.07" width="24.67" height="12.29" fill="#ffffcc"/>
<rect x="305.10" y="1324.07" width="12.84" height="12.29" fill="#ffea9b"/>
<rect x="316.93" y="1324.07" width="12.84" height="12.29" fill="#ffffcc"/>
<rect x="328.77" y="1324.07" width="12.84" height="12.29" fill="#fece6a"/>
<rect x="340.61" y="1324.07" width="94.69" height="12.29" fill="#ffffcc"/>
<rect x="80.20" y="1335.35" width="83.86" height="12.29" fill="#ffffcc"/>
<rect x="163.06" y="1335.35" width="36.51" height="12.29" fill="#ffea9b"/>
<rect x="198.57" y="1335.35" width="12.84" height="12.29" fill="#ffffcc"/>
<rect x="210.40" y="1335.35" width="12.84" height="12.29" fill="#ffea9b"/>
<rect x="222.24" y="1335.35" width="12.84" height="12.29" fill="#fece6a"/>
<rect x="234.08" y="1335.35" width="36.51" height="12.29" fill="#ffea9b"/>
<rect x="269.59" y="1335.35" width="12.84" height="12.29" fill="#fece6a"/>
<rect x="281.42" y="1335.35" width="24.67" height="12.29" fill="#ffea9b"/>
<rect x="305.10" y="1335.35" width="48.35" height="12.29" fill="#ffffcc"/>
<rect x="352.44" y="1335.35" width="12.84" height="12.29" fill="#ffea9b"/>
<rect x="364.28" y="1335.35" width="12.84" height="12.29" fill="#ffffcc"/>
<rect x="376.12" y="1335.35" width="12.84" height="12.29" fill="#ffea9b"/>
<rect x="387.95" y="1335.35" width="47.35" height="12.29" fill="#ffffcc"/>
<rect x="80.20" y="1346.64" width="95.69" height="12.29" fill="#ffffcc"/>
<rect x="174.89" y="1346.64" width="12.84" height="12.29" fill="#ffea9b"/>
<rect x="186.73" y="1346.64" width="60.18" height="12.29" fill="#ffffcc"/>
<rect x="245.91" y="1346.64" width="12.84" height="12.29" fill="#ffea9b"/>
<rect x="257.75" y="1346.64" width="60.18" height="12.29" fill="#ffffcc"/>
<rect x="316.93" y="1346.64" width="12.84" height="12.29" fill="#fece6a"/>
<rect x="328.77" y="1346.64" width="106.53" height="12.29" fill="#ffffcc"/>
<rect x="80.20" y="1357.93" width="154.88" height="12.29" fill="#ffffcc"/>
<rect x="234.08" y="1357.93" width="12.84" height="12.29" fill="#ffea9b"/>
<rect x="245.91" y="1357.93" width="189.39" height="12.29" fill="#ffffcc"/>
<rect x="80.20" y="1369.21" width="190.39" height="11.29" fill="#ffffcc"/>
<rect x="269.59" y="1369.21" width="12.84" height="11.29" fill="#ffea9b"/>
<rect x="281.42" y="1369.21" width="153.88" height="11.29" fill="#ffffcc"/>
<rect x="80.20" y="1041.90" width="355.10" height="338.60" fill="none" stroke="#000" stroke-width="5.3"/>
<line x1="143.00" y1="1380.50" x2="143.00" y2="1386.80" stroke="#000" stroke-width="1.6"/>
<text x="143.00" y="1406.20" font-size="18" text-anchor="middle" >−2</text>
<line x1="242.50" y1="1380.50" x2="242.50" y2="1386.80" stroke="#000" stroke-width="1.6"/>
<text x="242.50" y="1406.20" font-size="18" text-anchor="middle" >0</text>
<line x1="342.00" y1="1380.50" x2="342.00" y2="1386.80" stroke="#000" stroke-width="1.6"/>
<text x="342.00" y="1406.20" font-size="18" text-anchor="middle" >2</text>
<line x1="80.20" y1="1068.10" x2="73.90" y2="1068.10" stroke="#000" stroke-width="1.6"/>
<text x="67.60" y="1074.70" font-size="18" text-anchor="end" >3</text>
<line x1="80.20" y1="1117.90" x2="73.90" y2="1117.90" stroke="#000" stroke-width="1.6"/>
<text x="67.60" y="1124.50" font-size="18" text-anchor="end" >2</text>
<line x1="80.20" y1="1167.70" x2="73.90" y2="1167.70" stroke="#000" stroke-width="1.6"/>
<text x="67.60" y="1174.30" font-size="18" text-anchor="end" >1</text>
<line x1="80.20" y1="1217.50" x2="73.90" y2="1217.50" stroke="#000" stroke-width="1.6"/>
<text x="67.60" y="1224.10" font-size="18" text-anchor="end" >0</text>
<line x1="80.20" y1="1267.30" x2="73.90" y2="1267.30" stroke="#000" stroke-width="1.6"/>
<text x="67.60" y="1273.90" font-size="18" text-anchor="end" >−1</text>
<line x1="80.20" y1="1317.10" x2="73.90" y2="1317.10" stroke="#000" stroke-width="1.6"/>
<text x="67.60" y="1323.70" font-size="18" text-anchor="end" >−2</text>
<line x1="80.20" y1="1366.90" x2="73.90" y2="1366.90" stroke="#000" stroke-width="1.6"/>
<text x="67.60" y="1373.50" font-size="18" text-anchor="end" >−3</text>
<text x="257.75" y="1031.50" font-size="22.7" text-anchor="middle" >b=0.7, No. of matrices=1</text>
<text x="257.75" y="1434.30" font-size="22.7" text-anchor="middle" >Re z</text>
<text transform="translate(31.00,1210.60) rotate(-90)" font-size="22.7" text-anchor="middle" >Im z</text>
<rect x="457.50" y="974.40" width="23.70" height="474.70" fill="url(#g)" stroke="#000" stroke-width="5.3"/>
<line x1="481.20" y1="1449.10" x2="487.50" y2="1449.10" stroke="#000" stroke-width="1.6"/>
<text x="493.80" y="1455.70" font-size="18" >0</text>
<line x1="481.20" y1="1381.29" x2="487.50" y2="1381.29" stroke="#000" stroke-width="1.6"/>
<text x="493.80" y="1387.89" font-size="18" >1</text>
<line x1="481.20" y1="1313.47" x2="487.50" y2="1313.47" stroke="#000" stroke-width="1.6"/>
<text x="493.80" y="1320.07" font-size="18" >2</text>
<line x1="481.20" y1="1245.66" x2="487.50" y2="1245.66" stroke="#000" stroke-width="1.6"/>
<text x="493.80" y="1252.26" font-size="18" >3</text>
<line x1="481.20" y1="1177.84" x2="487.50" y2="1177.84" stroke="#000" stroke-width="1.6"/>
<text x="493.80" y="1184.44" font-size="18" >4</text>
<line x1="481.20" y1="1110.03" x2="487.50" y2="1110.03" stroke="#000" stroke-width="1.6"/>
<text x="493.80" y="1116.63" font-size="18" >5</text>
<line x1="481.20" y1="1042.21" x2="487.50" y2="1042.21" stroke="#000" stroke-width="1.6"/>
<text x="493.80" y="1048.81" font-size="18" >6</text>
<line x1="481.20" y1="974.40" x2="487.50" y2="974.40" stroke="#000" stroke-width="1.6"/>
<text x="493.80" y="981.00" font-size="18" >7</text>
</g>
<g>
<rect x="612.80" y="1041.90" width="355.10" height="338.60" fill="#ffffcc"/>
<rect x="612.80" y="1041.90" width="131.20" height="12.29" fill="#ffffcc"/>
<rect x="743.00" y="1041.90" width="12.84" height="12.29" fill="#fff7b9"/>
<rect x="754.84" y="1041.90" width="12.84" height="12.29" fill="#ffffcc"/>
<rect x="766.68" y="1041.90" width="12.84" height="12.29" fill="#fff7b9"/>
<rect x="778.51" y="1041.90" width="189.39" height="12.29" fill="#ffffcc"/>
<rect x="612.80" y="1053.19" width="190.39" height="12.29" fill="#ffffcc"/>
<rect x="802.19" y="1053.19" width="24.67" height="12.29" fill="#fff7b9"/>
<rect x="825.86" y="1053.19" width="24.67" height="12.29" fill="#ffffcc"/>
<rect x="849.53" y="1053.19" width="12.84" height="12.29" fill="#fff3af"/>
<rect x="861.37" y="1053.19" width="106.53" height="12.29" fill="#ffffcc"/>
<rect x="612.80" y="1064.47" width="72.02" height="12.29" fill="#ffffcc"/>
<rect x="683.82" y="1064.47" width="12.84" height="12.29" fill="#fff7b9"/>
<rect x="695.66" y="1064.47" width="36.51" height="12.29" fill="#ffffcc"/>
<rect x="731.17" y="1064.47" width="12.84" height="12.29" fill="#fff3af"/>
<rect x="743.00" y="1064.47" width="12.84" height="12.29" fill="#ffffcc"/>
<rect x="754.84" y="1064.47" width="12.84" height="12.29" fill="#fff7b9"/>
<rect x="766.68" y="1064.47" width="24.67" height="12.29" fill="#ffffcc"/>
<rect x="790.35" y="1064.47" width="12.84" height="12.29" fill="#fff7b9"/>
<rect x="802.19" y="1064.47" width="12.84" height="12.29" fill="#fff3af"/>
<rect x="814.02" y="1064.47" width="153.88" height="12.29" fill="#ffffcc"/>
<rect x="612.80" y="1075.76" width="48.35" height="12.29" fill="#ffffcc"/>
<rect x="660.15" y="1075.76" width="12.84" height="12.29" fill="#fff7b9"/>
<rect x="671.98" y="1075.76" width="36.51" height="12.29" fill="#ffffcc"/>
<rect x="707.49" y="1075.76" width="12.84" height="12.29" fill="#fff7b9"/>
<rect x="719.33" y="1075.76" width="12.84" height="12.29" fill="#fff3af"/>
<rect x="731.17" y="1075.76" width="12.84" height="12.29" fill="#ffffcc"/>
<rect x="743.00" y="1075.76" width="36.51" height="12.29" fill="#fff3af"/>
<rect x="778.51" y="1075.76" width="12.84" height="12.29" fill="#fff7b9"/>
<rect x="790.35" y="1075.76" width="12.84" height="12.29" fill="#ffffcc"/>
<rect x="802.19" y="1075.76" width="12.84" height="12.29" fill="#fff3af"/>
<rect x="814.02" y="1075.76" width="24.67" height="12.29" fill="#fff7b9"/>
<rect x="837.70" y="1075.76" width="130.20" height="12.29" fill="#ffffcc"/>
<rect x="612.80" y="1087.05" width="131.20" height="12.29" fill="#ffffcc"/>
<rect x="743.00" y="1087.05" width="12.84" height="12.29" fill="#fff3af"/>
<rect x="754.84" y="1087.05" width="12.84" height="12.29" fill="#ffffcc"/>
<rect x="766.68" y="1087.05" width="12.84" height="12.29" fill="#fff3af"/>
<rect x="778.51" y="1087.05" width="24.67" height="12.29" fill="#fff7b9"/>
<rect x="802.19" y="1087.05" width="12.84" height="12.29" fill="#ffffcc"/>
<rect x="814.02" y="1087.05" width="12.84" height="12.29" fill="#fff3af"/>
<rect x="825.86" y="1087.05" width="12.84" height="12.29" fill="#fff7b9"/>
<rect x="837.70" y="1087.05" width="24.67" height="12.29" fill="#ffffcc"/>
<rect x="861.37" y="1087.05" width="24.67" height="12.29" fill="#fff7b9"/>
<rect x="885.04" y="1087.05" width="82.86" height="12.29" fill="#ffffcc"/>
<rect x="612.80" y="1098.33" width="72.02" height="12.29" fill="#ffffcc"/>
<rect x="683.82" y="1098.33" width="12.84" height="12.29" fill="#fff7b9"/>
<rect x="695.66" y="1098.33" width="24.67" height="12.29" fill="#ffffcc"/>
<rect x="719.33" y="1098.33" width="12.84" height="12.29" fill="#fff3af"/>
<rect x="731.17" y="1098.33" width="24.67" height="12.29" fill="#ffe793"/>
<rect x="754.84" y="1098.33" width="12.84" height="12.29" fill="#fed976"/>
<rect x="766.68" y="1098.33" width="24.67" height="12.29" fill="#ffe793"/>
<rect x="790.35" y="1098.33" width="12.84" height="12.29" fill="#fed976"/>
<rect x="802.19" y="1098.33" width="12.84" height="12.29" fill="#fff3af"/>
<rect x="814.02" y="1098.33" width="24.67" height="12.29" fill="#ffffcc"/>
<rect x="837.70" y="1098.33" width="12.84" height="12.29" fill="#ffeda0"/>
<rect x="849.53" y="1098.33" width="36.51" height="12.29" fill="#ffffcc"/>
<rect x="885.04" y="1098.33" width="12.84" height="12.29" fill="#fff3af"/>
<rect x="896.88" y="1098.33" width="71.02" height="12.29" fill="#ffffcc"/>
<rect x="612.80" y="1109.62" width="48.35" height="12.29" fill="#ffffcc"/>
<rect x="660.15" y="1109.62" width="12.84" height="12.29" fill="#fff7b9"/>
<rect x="671.98" y="1109.62" width="12.84" height="12.29" fill="#fff3af"/>
<rect x="683.82" y="1109.62" width="12.84" height="12.29" fill="#ffffcc"/>
<rect x="695.66" y="1109.62" width="12.84" height="12.29" fill="#fff7b9"/>
<rect x="707.49" y="1109.62" width="24.67" height="12.29" fill="#ffeda0"/>
<rect x="731.17" y="1109.62" width="12.84" height="12.29" fill="#ffe793"/>
<rect x="743.00" y="1109.62" width="12.84" height="12.29" fill="#fed976"/>
<rect x="754.84" y="1109.62" width="12.84" height="12.29" fill="#fff3af"/>
<rect x="766.68" y="1109.62" width="12.84" height="12.29" fill="#fed976"/>
<rect x="778.51" y="1109.62" width="12.84" height="12.29" fill="#fff3af"/>
<rect x="790.35" y="1109.62" width="24.67" height="12.29" fill="#fed976"/>
<rect x="814.02" y="1109.62" width="12.84" height="12.29" fill="#fff7b9"/>
<rect x="825.86" y="1109.62" width="12.84" height="12.29" fill="#ffffcc"/>
<rect x="837.70" y="1109.62" width="12.84" height="12.29" fill="#fff7b9"/>
<rect x="849.53" y="1109.62" width="12.84" height="12.29" fill="#fed976"/>
<rect x="861.37" y="1109.62" width="12.84" height="12.29" fill="#fff3af"/>
<rect x="873.21" y="1109.62" width="24.67" height="12.29" fill="#fff7b9"/>
<rect x="896.88" y="1109.62" width="71.02" height="12.29" fill="#ffffcc"/>
<rect x="612.80" y="1120.91" width="12.84" height="12.29" fill="#ffffcc"/>
<rect x="624.64" y="1120.91" width="12.84" height="12.29" fill="#fff7b9"/>
<rect x="636.47" y="1120.91" width="24.67" height="12.29" fill="#ffffcc"/>
<rect x="660.15" y="1120.91" width="12.84" height="12.29" fill="#fff3af"/>
<rect x="671.98" y="1120.91" width="12.84" height="12.29" fill="#ffeda0"/>
<rect x="683.82" y="1120.91" width="12.84" height="12.29" fill="#fff3af"/>
<rect x="695.66" y="1120.91" width="12.84" height="12.29" fill="#ffeda0"/>
<rect x="707.49" y="1120.91" width="12.84" height="12.29" fill="#fff3af"/>
<rect x="719.33" y="1120.91" width="12.84" height="12.29" fill="#ffe793"/>
<rect x="731.17" y="1120.91" width="12.84" height="12.29" fill="#febf5a"/>
<rect x="743.00" y="1120.91" width="12.84" height="12.29" fill="#ffe793"/>
<rect x="754.84" y="1120.91" width="12.84" height="12.29" fill="#fc6230"/>
<rect x="766.68" y="1120.91" width="12.84" height="12.29" fill="#febf5a"/>
<rect x="778.51" y="1120.91" width="48.35" height="12.29" fill="#fea647"/>
<rect x="825.86" y="1120.91" width="12.84" height="12.29" fill="#ffe793"/>
<rect x="837.70" y="1120.91" width="24.67" height="12.29" fill="#fff7b9"/>
<rect x="861.37" y="1120.91" width="24.67" height="12.29" fill="#fff3af"/>
<rect x="885.04" y="1120.91" width="12.84" height="12.29" fill="#fff7b9"/>
<rect x="896.88" y="1120.91" width="71.02" height="12.29" fill="#ffffcc"/>
<rect x="612.80" y="1132.19" width="12.84" height="12.29" fill="#ffffcc"/>
<rect x="624.64" y="1132.19" width="12.84" height="12.29" fill="#fff7b9"/>
<rect x="636.47" y="1132.19" width="12.84" height="12.29" fill="#ffffcc"/>
<rect x="648.31" y="1132.19" width="36.51" height="12.29" fill="#fff7b9"/>
<rect x="683.82" y="1132.19" width="12.84" height="12.29" fill="#ffffcc"/>
<rect x="695.66" y="1132.19" width="12.84" height="12.29" fill="#fed976"/>
<rect x="707.49" y="1132.19" width="12.84" height="12.29" fill="#ffe793"/>
<rect x="719.33" y="1132.19" width="12.84" height="12.29" fill="#fed976"/>
<rect x="731.17" y="1132.19" width="12.84" height="12.29" fill="#ffeda0"/>
<rect x="743.00" y="1132.19" width="12.84" height="12.29" fill="#f33c25"/>
<rect x="754.84" y="1132.19" width="12.84" height="12.29" fill="#fd8b3c"/>
<rect x="766.68" y="1132.19" width="12.84" height="12.29" fill="#fed976"/>
<rect x="778.51" y="1132.19" width="12.84" height="12.29" fill="#f33c25"/>
<rect x="790.35" y="1132.19" width="12.84" height="12.29" fill="#fea647"/>
<rect x="802.19" y="1132.19" width="12.84" height="12.29" fill="#fd8b3c"/>
<rect x="814.02" y="1132.19" width="12.84" height="12.29" fill="#fed976"/>
<rect x="825.86" y="1132.19" width="12.84" height="12.29" fill="#fea647"/>
<rect x="837.70" y="1132.19" width="24.67" height="12.29" fill="#fed976"/>
<rect x="861.37" y="1132.19" width="12.84" height="12.29" fill="#fff3af"/>
<rect x="873.21" y="1132.19" width="48.35" height="12.29" fill="#fff7b9"/>
<rect x="920.55" y="1132.19" width="24.67" height="12.29" fill="#ffffcc"/>
<rect x="944.23" y="1132.19" width="12.84" height="12.29" fill="#fff7b9"/>
<rect x="956.06" y="1132.19" width="11.84" height="12.29" fill="#ffffcc"/>
<rect x="612.80" y="1143.48" width="24.67" height="12.29" fill="#ffffcc"/>
<rect x="636.47" y="1143.48" width="12.84" height="12.29" fill="#fff7b9"/>
<rect x="648.31" y="1143.48" width="12.84" height="12.29" fill="#ffffcc"/>
<rect x="660.15" y="1143.48" width="12.84" height="12.29" fill="#fff3af"/>
<rect x="671.98" y="1143.48" width="12.84" height="12.29" fill="#fed976"/>
<rect x="683.82" y="1143.48" width="12.84" height="12.29" fill="#ffe793"/>
<rect x="695.66" y="1143.48" width="12.84" height="12.29" fill="#fea647"/>
<rect x="707.49" y="1143.48" width="24.67" height="12.29" fill="#ffe793"/>
<rect x="731.17" y="1143.48" width="12.84" height="12.29" fill="#e1181c"/>
<rect x="743.00" y="1143.48" width="12.84" height="12.29" fill="#fea647"/>
<rect x="754.84" y="1143.48" width="12.84" height="12.29" fill="#e1181c"/>
<rect x="766.68" y="1143.48" width="12.84" height="12.29" fill="#fd8b3c"/>
<rect x="778.51" y="1143.48" width="12.84" height="12.29" fill="#fed976"/>
<rect x="790.35" y="1143.48" width="24.67" height="12.29" fill="#fc6230"/>
<rect x="814.02" y="1143.48" width="12.84" height="12.29" fill="#fea647"/>
<rect x="825.86" y="1143.48" width="12.84" height="12.29" fill="#febf5a"/>
<rect x="837.70" y="1143.48" width="12.84" height="12.29" fill="#fed976"/>
<rect x="849.53" y="1143.48" width="24.67" height="12.29" fill="#ffe793"/>
<rect x="873.21" y="1143.48" width="12.84" height="12.29" fill="#fff7b9"/>
<rect x="885.04" y="1143.48" width="12.84" height="12.29" fill="#fff3af"/>
<rect x="896.88" y="1143.48" width="12.84" height="12.29" fill="#fff7b9"/>
<rect x="908.72" y="1143.48" width="59.18" height="12.29" fill="#ffffcc"/>
<rect x="612.80" y="1154.77" width="36.51" height="12.29" fill="#ffffcc"/>
<rect x="648.31" y="1154.77" width="24.67" height="12.29" fill="#fff7b9"/>
<rect x="671.98" y="1154.77" width="12.84" height="12.29" fill="#fff3af"/>
<rect x="683.82" y="1154.77" width="12.84" height="12.29" fill="#fed976"/>
<rect x="695.66" y="1154.77" width="12.84" height="12.29" fill="#fc6230"/>
<rect x="707.49" y="1154.77" width="24.67" height="12.29" fill="#e1181c"/>
<rect x="731.17" y="1154.77" width="12.84" height="12.29" fill="#fc6230"/>
<rect x="743.00" y="1154.77" width="12.84" height="12.29" fill="#f33c25"/>
<rect x="754.84" y="1154.77" width="12.84" height="12.29" fill="#e1181c"/>
<rect x="766.68" y="1154.77" width="12.84" height="12.29" fill="#fea647"/>
<rect x="778.51" y="1154.77" width="12.84" height="12.29" fill="#a70026"/>
<rect x="790.35" y="1154.77" width="36.51" height="12.29" fill="#f33c25"/>
<rect x="825.86" y="1154.77" width="36.51" height="12.29" fill="#ffe793"/>
<rect x="861.37" y="1154.77" width="12.84" height="12.29" fill="#fed976"/>
<rect x="873.21" y="1154.77" width="12.84" height="12.29" fill="#ffe793"/>
<rect x="885.04" y="1154.77" width="12.84" height="12.29" fill="#fff7b9"/>
<rect x="896.88" y="1154.77" width="12.84" height="12.29" fill="#ffffcc"/>
<rect x="908.72" y="1154.77" width="12.84" height="12.29" fill="#fff7b9"/>
<rect x="920.55" y="1154.77" width="47.35" height="12.29" fill="#ffffcc"/>
<rect x="612.80" y="1166.05" width="12.84" height="12.29" fill="#fff7b9"/>
<rect x="624.64" y="1166.05" width="24.67" height="12.29" fill="#ffffcc"/>
<rect x="648.31" y="1166.05" width="12.84" height="12.29" fill="#fff3af"/>
<rect x="660.15" y="1166.05" width="12.84" height="12.29" fill="#fff7b9"/>
<rect x="671.98" y="1166.05" width="24.67" height="12.29" fill="#fea647"/>
<rect x="695.66" y="1166.05" width="24.67" height="12.29" fill="#fd8b3c"/>
<rect x="719.33" y="1166.05" width="24.67" height="12.29" fill="#f33c25"/>
<rect x="743.00" y="1166.05" width="12.84" height="12.29" fill="#e1181c"/>
<rect x="754.84" y="1166.05" width="12.84" height="12.29" fill="#fea647"/>
<rect x="766.68" y="1166.05" width="12.84" height="12.29" fill="#a70026"/>
<rect x="778.51" y="1166.05" width="12.84" height="12.29" fill="#fc6230"/>
<rect x="790.35" y="1166.05" width="12.84" height="12.29" fill="#c70823"/>
<rect x="802.19" y="1166.05" width="12.84" height="12.29" fill="#f33c25"/>
<rect x="814.02" y="1166.05" width="24.67" height="12.29" fill="#fd8b3c"/>
<rect x="837.70" y="1166.05" width="24.67" height="12.29" fill="#fea647"/>
<rect x="861.37" y="1166.05" width="24.67" height="12.29" fill="#ffe793"/>
<rect x="885.04" y="1166.05" width="12.84" height="12.29" fill="#fff7b9"/>
<rect x="896.88" y="1166.05" width="12.84" height="12.29" fill="#ffeda0"/>
<rect x="908.72" y="1166.05" width="12.84" height="12.29" fill="#fff7b9"/>
<rect x="920.55" y="1166.05" width="36.51" height="12.29" fill="#ffffcc"/>
<rect x="956.06" y="1166.05" width="11.84" height="12.29" fill="#fff7b9"/>
<rect x="612.80" y="1177.34" width="24.67" height="12.29" fill="#ffffcc"/>
<rect x="636.47" y="1177.34" width="24.67" height="12.29" fill="#fff7b9"/>
<rect x="660.15" y="1177.34" width="24.67" height="12.29" fill="#fed976"/>
<rect x="683.82" y="1177.34" width="12.84" height="12.29" fill="#febf5a"/>
<rect x="695.66" y="1177.34" width="12.84" height="12.29" fill="#fd8b3c"/>
<rect x="707.49" y="1177.34" width="12.84" height="12.29" fill="#f33c25"/>
<rect x="719.33" y="1177.34" width="12.84" height="12.29" fill="#fea647"/>
<rect x="731.17" y="1177.34" width="12.84" height="12.29" fill="#fc6230"/>
<rect x="743.00" y="1177.34" width="12.84" height="12.29" fill="#e1181c"/>
<rect x="754.84" y="1177.34" width="12.84" height="12.29" fill="#fea647"/>
<rect x="766.68" y="1177.34" width="12.84" height="12.29" fill="#f33c25"/>
<rect x="778.51" y="1177.34" width="12.84" height="12.29" fill="#800026"/>
<rect x="790.35" y="1177.34" width="12.84" height="12.29" fill="#fc6230"/>
<rect x="802.19" y="1177.34" width="12.84" height="12.29" fill="#fea647"/>
<rect x="814.02" y="1177.34" width="12.84" height="12.29" fill="#a70026"/>
<rect x="825.86" y="1177.34" width="12.84" height="12.29" fill="#fea647"/>
<rect x="837.70" y="1177.34" width="12.84" height="12.29" fill="#febf5a"/>
<rect x="849.53" y="1177.34" width="12.84" height="12.29" fill="#ffe793"/>
<rect x="861.37" y="1177.34" width="12.84" height="12.29" fill="#fff3af"/>
<rect x="873.21" y="1177.34" width="12.84" height="12.29" fill="#ffffcc"/>
<rect x="885.04" y="1177.34" width="12.84" height="12.29" fill="#fff7b9"/>
<rect x="896.88" y="1177.34" width="12.84" height="12.29" fill="#febf5a"/>
<rect x="908.72" y="1177.34" width="59.18" height="12.29" fill="#ffffcc"/>
<rect x="612.80" y="1188.63" width="24.67" height="12.29" fill="#ffffcc"/>
<rect x="636.47" y="1188.63" width="12.84" height="12.29" fill="#fff3af"/>
<rect x="648.31" y="1188.63" width="12.84" height="12.29" fill="#fff7b9"/>
<rect x="660.15" y="1188.63" width="12.84" height="12.29" fill="#ffe793"/>
<rect x="671.98" y="1188.63" width="12.84" height="12.29" fill="#fed976"/>
<rect x="683.82" y="1188.63" width="12.84" height="12.29" fill="#febf5a"/>
<rect x="695.66" y="1188.63" width="12.84" height="12.29" fill="#fed976"/>
<rect x="707.49" y="1188.63" width="12.84" height="12.29" fill="#e1181c"/>
<rect x="719.33" y="1188.63" width="12.84" height="12.29" fill="#f33c25"/>
<rect x="731.17" y="1188.63" width="12.84" height="12.29" fill="#c70823"/>
<rect x="743.00" y="1188.63" width="12.84" height="12.29" fill="#fed976"/>
<rect x="754.84" y="1188.63" width="12.84" height="12.29" fill="#fc6230"/>
<rect x="766.68" y="1188.63" width="12.84" height="12.29" fill="#e1181c"/>
<rect x="778.51" y="1188.63" width="12.84" height="12.29" fill="#fea647"/>
<rect x="790.35" y="1188.63" width="12.84" height="12.29" fill="#fd8b3c"/>
<rect x="802.19" y="1188.63" width="12.84" height="12.29" fill="#fea647"/>
<rect x="814.02" y="1188.63" width="12.84" height="12.29" fill="#c70823"/>
<rect x="825.86" y="1188.63" width="36.51" height="12.29" fill="#fd8b3c"/>
<rect x="861.37" y="1188.63" width="12.84" height="12.29" fill="#fea647"/>
<rect x="873.21" y="1188.63" width="12.84" height="12.29" fill="#ffe793"/>
<rect x="885.04" y="1188.63" width="24.67" height="12.29" fill="#fff3af"/>
<rect x="908.72" y="1188.63" width="24.67" height="12.29" fill="#ffffcc"/>
<rect x="932.39" y="1188.63" width="12.84" height="12.29" fill="#fff7b9"/>
<rect x="944.23" y="1188.63" width="23.67" height="12.29" fill="#ffffcc"/>
<rect x="612.80" y="1199.91" width="12.84" height="12.29" fill="#fff7b9"/>
<rect x="624.64" y="1199.91" width="12.84" height="12.29" fill="#fff3af"/>
<rect x="636.47" y="1199.91" width="36.51" height="12.29" fill="#fff7b9"/>
<rect x="671.98" y="1199.91" width="24.67" height="12.29" fill="#febf5a"/>
<rect x="695.66" y="1199.91" width="24.67" height="12.29" fill="#fea647"/>
<rect x="719.33" y="1199.91" width="12.84" height="12.29" fill="#c70823"/>
<rect x="731.17" y="1199.91" width="12.84" height="12.29" fill="#fd8b3c"/>
<rect x="743.00" y="1199.91" width="12.84" height="12.29" fill="#c70823"/>
<rect x="754.84" y="1199.91" width="12.84" height="12.29" fill="#e1181c"/>
<rect x="766.68" y="1199.91" width="12.84" height="12.29" fill="#a70026"/>
<rect x="778.51" y="1199.91" width="12.84" height="12.29" fill="#fc6230"/>
<rect x="790.35" y="1199.91" width="12.84" height="12.29" fill="#800026"/>
<rect x="802.19" y="1199.91" width="36.51" height="12.29" fill="#e1181c"/>
<rect x="837.70" y="1199.91" width="12.84" height="12.29" fill="#a70026"/>
<rect x="849.53" y="1199.91" width="12.84" height="12.29" fill="#fed976"/>
<rect x="861.37" y="1199.91" width="12.84" height="12.29" fill="#fff3af"/>
<rect x="873.21" y="1199.91" width="12.84" height="12.29" fill="#febf5a"/>
<rect x="885.04" y="1199.91" width="12.84" height="12.29" fill="#fff3af"/>
<rect x="896.88" y="1199.91" width="12.84" height="12.29" fill="#fff7b9"/>
<rect x="908.72" y="1199.91" width="59.18" height="12.29" fill="#ffffcc"/>
<rect x="612.80" y="1211.20" width="36.51" height="12.29" fill="#ffffcc"/>
<rect x="648.31" y="1211.20" width="24.67" height="12.29" fill="#ffeda0"/>
<rect x="671.98" y="1211.20" width="12.84" height="12.29" fill="#febf5a"/>
<rect x="683.82" y="1211.20" width="12.84" height="12.29" fill="#fea647"/>
<rect x="695.66" y="1211.20" width="12.84" height="12.29" fill="#f33c25"/>
<rect x="707.49" y="1211.20" width="12.84" height="12.29" fill="#fea647"/>
<rect x="719.33" y="1211.20" width="12.84" height="12.29" fill="#fc6230"/>
<rect x="731.17" y="1211.20" width="12.84" height="12.29" fill="#c70823"/>
<rect x="743.00" y="1211.20" width="12.84" height="12.29" fill="#a70026"/>
<rect x="754.84" y="1211.20" width="12.84" height="12.29" fill="#e1181c"/>
<rect x="766.68" y="1211.20" width="12.84" height="12.29" fill="#c70823"/>
<rect x="778.51" y="1211.20" width="12.84" height="12.29" fill="#f33c25"/>
<rect x="790.35" y="1211.20" width="12.84" height="12.29" fill="#c70823"/>
<rect x="802.19" y="1211.20" width="12.84" height="12.29" fill="#800026"/>
<rect x="814.02" y="1211.20" width="12.84" height="12.29" fill="#f33c25"/>
<rect x="825.86" y="1211.20" width="12.84" height="12.29" fill="#fc6230"/>
<rect x="837.70" y="1211.20" width="12.84" height="12.29" fill="#e1181c"/>
<rect x="849.53" y="1211.20" width="12.84" height="12.29" fill="#fd8b3c"/>
<rect x="861.37" y="1211.20" width="12.84" height="12.29" fill="#febf5a"/>
<rect x="873.21" y="1211.20" width="12.84" height="12.29" fill="#ffeda0"/>
<rect x="885.04" y="1211.20" width="12.84" height="12.29" fill="#ffe793"/>
<rect x="896.88" y="1211.20" width="12.84" height="12.29" fill="#fed976"/>
<rect x="908.72" y="1211.20" width="12.84" height="12.29" fill="#fff7b9"/>
<rect x="920.55" y="1211.20" width="24.67" height="12.29" fill="#ffffcc"/>
<rect x="944.23" y="1211.20" width="12.84" height="12.29" fill="#fff7b9"/>
<rect x="956.06" y="1211.20" width="11.84" height="12.29" fill="#ffffcc"/>
<rect x="612.80" y="1222.49" width="12.84" height="12.29" fill="#ffffcc"/>
<rect x="624.64" y="1222.49" width="12.84" height="12.29" fill="#fff3af"/>
<rect x="636.47" y="1222.49" width="12.84" height="12.29" fill="#ffffcc"/>
<rect x="648.31" y="1222.49" width="12.84" height="12.29" fill="#fff3af"/>
<rect x="660.15" y="1222.49" width="12.84" height="12.29" fill="#ffe793"/>
<rect x="671.98" y="1222.49" width="12.84" height="12.29" fill="#febf5a"/>
<rect x="683.82" y="1222.49" width="12.84" height="12.29" fill="#fea647"/>
<rect x="695.66" y="1222.49" width="12.84" height="12.29" fill="#fc6230"/>
<rect x="707.49" y="1222.49" width="12.84" height="12.29" fill="#fea647"/>
<rect x="719.33" y="1222.49" width="24.67" height="12.29" fill="#f33c25"/>
<rect x="743.00" y="1222.49" width="12.84" height="12.29" fill="#e1181c"/>
<rect x="754.84" y="1222.49" width="12.84" height="12.29" fill="#fea647"/>
<rect x="766.68" y="1222.49" width="36.51" height="12.29" fill="#f33c25"/>
<rect x="802.19" y="1222.49" width="12.84" height="12.29" fill="#c70823"/>
<rect x="814.02" y="1222.49" width="12.84" height="12.29" fill="#fc6230"/>
<rect x="825.86" y="1222.49" width="12.84" height="12.29" fill="#e1181c"/>
<rect x="837.70" y="1222.49" width="12.84" height="12.29" fill="#fc6230"/>
<rect x="849.53" y="1222.49" width="12.84" height="12.29" fill="#febf5a"/>
<rect x="861.37" y="1222.49" width="12.84" height="12.29" fill="#fea647"/>
<rect x="873.21" y="1222.49" width="12.84" height="12.29" fill="#ffeda0"/>
<rect x="885.04" y="1222.49" width="24.67" height="12.29" fill="#fff3af"/>
<rect x="908.72" y="1222.49" width="12.84" height="12.29" fill="#ffeda0"/>
<rect x="920.55" y="1222.49" width="12.84" height="12.29" fill="#fff7b9"/>
<rect x="932.39" y="1222.49" width="35.51" height="12.29" fill="#ffffcc"/>
<rect x="612.80" y="1233.77" width="12.84" height="12.29" fill="#ffffcc"/>
<rect x="624.64" y="1233.77" width="12.84" height="12.29" fill="#fff3af"/>
<rect x="636.47" y="1233.77" width="24.67" height="12.29" fill="#ffffcc"/>
<rect x="660.15" y="1233.77" width="12.84" height="12.29" fill="#fff3af"/>
<rect x="671.98" y="1233.77" width="12.84" height="12.29" fill="#fed976"/>
<rect x="683.82" y="1233.77" width="12.84" height="12.29" fill="#fd8b3c"/>
<rect x="695.66" y="1233.77" width="12.84" height="12.29" fill="#fea647"/>
<rect x="707.49" y="1233.77" width="12.84" height="12.29" fill="#fd8b3c"/>
<rect x="719.33" y="1233.77" width="12.84" height="12.29" fill="#febf5a"/>
<rect x="731.17" y="1233.77" width="12.84" height="12.29" fill="#c70823"/>
<rect x="743.00" y="1233.77" width="12.84" height="12.29" fill="#a70026"/>
<rect x="754.84" y="1233.77" width="12.84" height="12.29" fill="#e1181c"/>
<rect x="766.68" y="1233.77" width="12.84" height="12.29" fill="#a70026"/>
<rect x="778.51" y="1233.77" width="12.84" height="12.29" fill="#fd8b3c"/>
<rect x="790.35" y="1233.77" width="12.84" height="12.29" fill="#f33c25"/>
<rect x="802.19" y="1233.77" width="12.84" height="12.29" fill="#e1181c"/>
<rect x="814.02" y="1233.77" width="12.84" height="12.29" fill="#a70026"/>
<rect x="825.86" y="1233.77" width="24.67" height="12.29" fill="#f33c25"/>
<rect x="849.53" y="1233.77" width="12.84" height="12.29" fill="#fd8b3c"/>
<rect x="861.37" y="1233.77" width="12.84" height="12.29" fill="#febf5a"/>
<rect x="873.21" y="1233.77" width="12.84" height="12.29" fill="#ffe793"/>
<rect x="885.04" y="1233.77" width="12.84" height="12.29" fill="#ffeda0"/>
<rect x="896.88" y="1233.77" width="12.84" height="12.29" fill="#ffffcc"/>
<rect x="908.72" y="1233.77" width="12.84" height="12.29" fill="#fff3af"/>
<rect x="920.55" y="1233.77" width="12.84" height="12.29" fill="#fff7b9"/>
<rect x="932.39" y="1233.77" width="35.51" height="12.29" fill="#ffffcc"/>
<rect x="612.80" y="1245.06" width="12.84" height="12.29" fill="#ffffcc"/>
<rect x="624.64" y="1245.06" width="12.84" height="12.29" fill="#fff3af"/>
<rect x="636.47" y="1245.06" width="12.84" height="12.29" fill="#ffffcc"/>
<rect x="648.31" y="1245.06" width="12.84" height="12.29" fill="#ffeda0"/>
<rect x="660.15" y="1245.06" width="12.84" height="12.29" fill="#fff3af"/>
<rect x="671.98" y="1245.06" width="12.84" height="12.29" fill="#ffeda0"/>
<rect x="683.82" y="1245.06" width="12.84" height="12.29" fill="#fea647"/>
<rect x="695.66" y="1245.06" width="12.84" height="12.29" fill="#febf5a"/>
<rect x="707.49" y="1245.06" width="12.84" height="12.29" fill="#fc6230"/>
<rect x="719.33" y="1245.06" width="12.84" height="12.29" fill="#c70823"/>
<rect x="731.17" y="1245.06" width="12.84" height="12.29" fill="#e1181c"/>
<rect x="743.00" y="1245.06" width="12.84" height="12.29" fill="#fc6230"/>
<rect x="754.84" y="1245.06" width="12.84" height="12.29" fill="#fd8b3c"/>
<rect x="766.68" y="1245.06" width="24.67" height="12.29" fill="#c70823"/>
<rect x="790.35" y="1245.06" width="12.84" height="12.29" fill="#a70026"/>
<rect x="802.19" y="1245.06" width="12.84" height="12.29" fill="#c70823"/>
<rect x="814.02" y="1245.06" width="12.84" height="12.29" fill="#e1181c"/>
<rect x="825.86" y="1245.06" width="12.84" height="12.29" fill="#fc6230"/>
<rect x="837.70" y="1245.06" width="12.84" height="12.29" fill="#fed976"/>
<rect x="849.53" y="1245.06" width="24.67" height="12.29" fill="#febf5a"/>
<rect x="873.21" y="1245.06" width="12.84" height="12.29" fill="#fed976"/>
<rect x="885.04" y="1245.06" width="12.84" height="12.29" fill="#ffe793"/>
<rect x="896.88" y="1245.06" width="24.67" height="12.29" fill="#fff7b9"/>
<rect x="920.55" y="1245.06" width="47.35" height="12.29" fill="#ffffcc"/>
<rect x="612.80" y="1256.35" width="36.51" height="12.29" fill="#ffffcc"/>
<rect x="648.31" y="1256.35" width="12.84" height="12.29" fill="#fff3af"/>
<rect x="660.15" y="1256.35" width="12.84" height="12.29" fill="#ffeda0"/>
<rect x="671.98" y="1256.35" width="12.84" height="12.29" fill="#febf5a"/>
<rect x="683.82" y="1256.35" width="12.84" height="12.29" fill="#ffe793"/>
<rect x="695.66" y="1256.35" width="12.84" height="12.29" fill="#febf5a"/>
<rect x="707.49" y="1256.35" width="12.84" height="12.29" fill="#fd8b3c"/>
<rect x="719.33" y="1256.35" width="24.67" height="12.29" fill="#c70823"/>
<rect x="743.00" y="1256.35" width="12.84" height="12.29" fill="#e1181c"/>
<rect x="754.84" y="1256.35" width="12.84" height="12.29" fill="#c70823"/>
<rect x="766.68" y="1256.35" width="12.84" height="12.29" fill="#e1181c"/>
<rect x="778.51" y="1256.35" width="12.84" height="12.29" fill="#fc6230"/>
<rect x="790.35" y="1256.35" width="12.84" height="12.29" fill="#e1181c"/>
<rect x="802.19" y="1256.35" width="12.84" height="12.29" fill="#c70823"/>
<rect x="814.02" y="1256.35" width="12.84" height="12.29" fill="#fd8b3c"/>
<rect x="825.86" y="1256.35" width="24.67" height="12.29" fill="#fed976"/>
<rect x="849.53" y="1256.35" width="12.84" height="12.29" fill="#fea647"/>
<rect x="861.37" y="1256.35" width="12.84" height="12.29" fill="#febf5a"/>
<rect x="873.21" y="1256.35" width="12.84" height="12.29" fill="#ffeda0"/>
<rect x="885.04" y="1256.35" width="12.84" height="12.29" fill="#fff3af"/>
<rect x="896.88" y="1256.35" width="12.84" height="12.29" fill="#ffffcc"/>
<rect x="908.72" y="1256.35" width="12.84" height="12.29" fill="#fff3af"/>
<rect x="920.55" y="1256.35" width="47.35" height="12.29" fill="#ffffcc"/>
<rect x="612.80" y="1267.63" width="48.35" height="12.29" fill="#ffffcc"/>
<rect x="660.15" y="1267.63" width="12.84" height="12.29" fill="#ffeda0"/>
<rect x="671.98" y="1267.63" width="12.84" height="12.29" fill="#ffe793"/>
<rect x="683.82" y="1267.63" width="12.84" height="12.29" fill="#ffeda0"/>
<rect x="695.66" y="1267.63" width="12.84" height="12.29" fill="#febf5a"/>
<rect x="707.49" y="1267.63" width="12.84" height="12.29" fill="#fea647"/>
<rect x="719.33" y="1267.63" width="24.67" height="12.29" fill="#fed976"/>
<rect x="743.00" y="1267.63" width="12.84" height="12.29" fill="#c70823"/>
<rect x="754.84" y="1267.63" width="12.84" height="12.29" fill="#fea647"/>
<rect x="766.68" y="1267.63" width="12.84" height="12.29" fill="#fc6230"/>
<rect x="778.51" y="1267.63" width="12.84" height="12.29" fill="#e1181c"/>
<rect x="790.35" y="1267.63" width="12.84" height="12.29" fill="#fd8b3c"/>
<rect x="802.19" y="1267.63" width="12.84" height="12.29" fill="#fea647"/>
<rect x="814.02" y="1267.63" width="12.84" height="12.29" fill="#e1181c"/>
<rect x="825.86" y="1267.63" width="12.84" height="12.29" fill="#fd8b3c"/>
<rect x="837.70" y="1267.63" width="12.84" height="12.29" fill="#ffe793"/>
<rect x="849.53" y="1267.63" width="12.84" height="12.29" fill="#f33c25"/>
<rect x="861.37" y="1267.63" width="12.84" height="12.29" fill="#febf5a"/>
<rect x="873.21" y="1267.63" width="12.84" height="12.29" fill="#fed976"/>
<rect x="885.04" y="1267.63" width="36.51" height="12.29" fill="#fff7b9"/>
<rect x="920.55" y="1267.63" width="47.35" height="12.29" fill="#ffffcc"/>
<rect x="612.80" y="1278.92" width="48.35" height="12.29" fill="#ffffcc"/>
<rect x="660.15" y="1278.92" width="12.84" height="12.29" fill="#ffeda0"/>
<rect x="671.98" y="1278.92" width="12.84" height="12.29" fill="#fff7b9"/>
<rect x="683.82" y="1278.92" width="12.84" height="12.29" fill="#ffeda0"/>
<rect x="695.66" y="1278.92" width="24.67" height="12.29" fill="#febf5a"/>
<rect x="719.33" y="1278.92" width="12.84" height="12.29" fill="#fed976"/>
<rect x="731.17" y="1278.92" width="12.84" height="12.29" fill="#febf5a"/>
<rect x="743.00" y="1278.92" width="12.84" height="12.29" fill="#fd8b3c"/>
<rect x="754.84" y="1278.92" width="12.84" height="12.29" fill="#f33c25"/>
<rect x="766.68" y="1278.92" width="12.84" height="12.29" fill="#fea647"/>
<rect x="778.51" y="1278.92" width="12.84" height="12.29" fill="#a70026"/>
<rect x="790.35" y="1278.92" width="24.67" height="12.29" fill="#fd8b3c"/>
<rect x="814.02" y="1278.92" width="12.84" height="12.29" fill="#f33c25"/>
<rect x="825.86" y="1278.92" width="12.84" height="12.29" fill="#fd8b3c"/>
<rect x="837.70" y="1278.92" width="12.84" height="12.29" fill="#fea647"/>
<rect x="849.53" y="1278.92" width="12.84" height="12.29" fill="#ffe793"/>
<rect x="861.37" y="1278.92" width="24.67" height="12.29" fill="#fff3af"/>
<rect x="885.04" y="1278.92" width="24.67" height="12.29" fill="#ffffcc"/>
<rect x="908.72" y="1278.92" width="12.84" height="12.29" fill="#fff7b9"/>
<rect x="920.55" y="1278.92" width="47.35" height="12.29" fill="#ffffcc"/>
<rect x="612.80" y="1290.21" width="36.51" height="12.29" fill="#ffffcc"/>
<rect x="648.31" y="1290.21" width="12.84" height="12.29" fill="#fff7b9"/>
<rect x="660.15" y="1290.21" width="12.84" height="12.29" fill="#ffffcc"/>
<rect x="671.98" y="1290.21" width="36.51" height="12.29" fill="#ffeda0"/>
<rect x="707.49" y="1290.21" width="12.84" height="12.29" fill="#fea647"/>
<rect x="719.33" y="1290.21" width="24.67" height="12.29" fill="#fed976"/>
<rect x="743.00" y="1290.21" width="12.84" height="12.29" fill="#fd8b3c"/>
<rect x="754.84" y="1290.21" width="12.84" height="12.29" fill="#f33c25"/>
<rect x="766.68" y="1290.21" width="12.84" height="12.29" fill="#e1181c"/>
<rect x="778.51" y="1290.21" width="12.84" height="12.29" fill="#fc6230"/>
<rect x="790.35" y="1290.21" width="12.84" height="12.29" fill="#ffe793"/>
<rect x="802.19" y="1290.21" width="12.84" height="12.29" fill="#febf5a"/>
<rect x="814.02" y="1290.21" width="12.84" height="12.29" fill="#fc6230"/>
<rect x="825.86" y="1290.21" width="12.84" height="12.29" fill="#ffe793"/>
<rect x="837.70" y="1290.21" width="12.84" height="12.29" fill="#fea647"/>
<rect x="849.53" y="1290.21" width="12.84" height="12.29" fill="#febf5a"/>
<rect x="861.37" y="1290.21" width="24.67" height="12.29" fill="#fff7b9"/>
<rect x="885.04" y="1290.21" width="12.84" height="12.29" fill="#ffffcc"/>
<rect x="896.88" y="1290.21" width="36.51" height="12.29" fill="#fff7b9"/>
<rect x="932.39" y="1290.21" width="35.51" height="12.29" fill="#ffffcc"/>
<rect x="612.80" y="1301.49" width="60.18" height="12.29" fill="#ffffcc"/>
<rect x="671.98" y="1301.49" width="12.84" height="12.29" fill="#fff7b9"/>
<rect x="683.82" y="1301.49" width="12.84" height="12.29" fill="#fff3af"/>
<rect x="695.66" y="1301.49" width="12.84" height="12.29" fill="#fed976"/>
<rect x="707.49" y="1301.49" width="12.84" height="12.29" fill="#ffe793"/>
<rect x="719.33" y="1301.49" width="12.84" height="12.29" fill="#fd8b3c"/>
<rect x="731.17" y="1301.49" width="12.84" height="12.29" fill="#ffe793"/>
<rect x="743.00" y="1301.49" width="12.84" height="12.29" fill="#febf5a"/>
<rect x="754.84" y="1301.49" width="12.84" height="12.29" fill="#fd8b3c"/>
<rect x="766.68" y="1301.49" width="12.84" height="12.29" fill="#fed976"/>
<rect x="778.51" y="1301.49" width="12.84" height="12.29" fill="#ffe793"/>
<rect x="790.35" y="1301.49" width="12.84" height="12.29" fill="#febf5a"/>
<rect x="802.19" y="1301.49" width="12.84" height="12.29" fill="#ffe793"/>
<rect x="814.02" y="1301.49" width="12.84" height="12.29" fill="#fed976"/>
<rect x="825.86" y="1301.49" width="12.84" height="12.29" fill="#febf5a"/>
<rect x="837.70" y="1301.49" width="12.84" height="12.29" fill="#fff3af"/>
<rect x="849.53" y="1301.49" width="12.84" height="12.29" fill="#ffe793"/>
<rect x="861.37" y="1301.49" width="12.84" height="12.29" fill="#ffffcc"/>
<rect x="873.21" y="1301.49" width="12.84" height="12.29" fill="#fff7b9"/>
<rect x="885.04" y="1301.49" width="82.86" height="12.29" fill="#ffffcc"/>
<rect x="612.80" y="1312.78" width="60.18" height="12.29" fill="#ffffcc"/>
<rect x="671.98" y="1312.78" width="12.84" height="12.29" fill="#ffeda0"/>
<rect x="683.82" y="1312.78" width="12.84" height="12.29" fill="#ffffcc"/>
<rect x="695.66" y="1312.78" width="12.84" height="12.29" fill="#ffe793"/>
<rect x="707.49" y="1312.78" width="12.84" height="12.29" fill="#ffeda0"/>
<rect x="719.33" y="1312.78" width="12.84" height="12.29" fill="#ffe793"/>
<rect x="731.17" y="1312.78" width="12.84" height="12.29" fill="#ffeda0"/>
<rect x="743.00" y="1312.78" width="12.84" height="12.29" fill="#fed976"/>
<rect x="754.84" y="1312.78" width="12.84" height="12.29" fill="#ffe793"/>
<rect x="766.68" y="1312.78" width="12.84" height="12.29" fill="#ffeda0"/>
<rect x="778.51" y="1312.78" width="12.84" height="12.29" fill="#fff3af"/>
<rect x="790.35" y="1312.78" width="12.84" height="12.29" fill="#ffeda0"/>
<rect x="802.19" y="1312.78" width="12.84" height="12.29" fill="#fff3af"/>
<rect x="814.02" y="1312.78" width="12.84" height="12.29" fill="#fff7b9"/>
<rect x="825.86" y="1312.78" width="12.84" height="12.29" fill="#fed976"/>
<rect x="837.70" y="1312.78" width="12.84" height="12.29" fill="#ffe793"/>
<rect x="849.53" y="1312.78" width="24.67" height="12.29" fill="#fff7b9"/>
<rect x="873.21" y="1312.78" width="12.84" height="12.29" fill="#ffffcc"/>
<rect x="885.04" y="1312.78" width="12.84" height="12.29" fill="#fff7b9"/>
<rect x="896.88" y="1312.78" width="12.84" height="12.29" fill="#ffffcc"/>
<rect x="908.72" y="1312.78" width="12.84" height="12.29" fill="#fff3af"/>
<rect x="920.55" y="1312.78" width="47.35" height="12.29" fill="#ffffcc"/>
<rect x="612.80" y="1324.07" width="83.86" height="12.29" fill="#ffffcc"/>
<rect x="695.66" y="1324.07" width="12.84" height="12.29" fill="#fff7b9"/>
<rect x="707.49" y="1324.07" width="24.67" height="12.29" fill="#fff3af"/>
<rect x="731.17" y="1324.07" width="12.84" height="12.29" fill="#ffeda0"/>
<rect x="743.00" y="1324.07" width="12.84" height="12.29" fill="#fff3af"/>
<rect x="754.84" y="1324.07" width="12.84" height="12.29" fill="#fed976"/>
<rect x="766.68" y="1324.07" width="12.84" height="12.29" fill="#fff3af"/>
<rect x="778.51" y="1324.07" width="12.84" height="12.29" fill="#ffe793"/>
<rect x="790.35" y="1324.07" width="12.84" height="12.29" fill="#fff7b9"/>
<rect x="802.19" y="1324.07" width="24.67" height="12.29" fill="#ffeda0"/>
<rect x="825.86" y="1324.07" width="12.84" height="12.29" fill="#fff7b9"/>
<rect x="837.70" y="1324.07" width="12.84" height="12.29" fill="#fff3af"/>
<rect x="849.53" y="1324.07" width="12.84" height="12.29" fill="#ffffcc"/>
<rect x="861.37" y="1324.07" width="12.84" height="12.29" fill="#fff7b9"/>
<rect x="873.21" y="1324.07" width="94.69" height="12.29" fill="#ffffcc"/>
<rect x="612.80" y="1335.35" width="83.86" height="12.29" fill="#ffffcc"/>
<rect x="695.66" y="1335.35" width="12.84" height="12.29" fill="#fff7b9"/>
<rect x="707.49" y="1335.35" width="60.18" height="12.29" fill="#fff3af"/>
<rect x="766.68" y="1335.35" width="12.84" height="12.29" fill="#fff7b9"/>
<rect x="778.51" y="1335.35" width="12.84" height="12.29" fill="#ffeda0"/>
<rect x="790.35" y="1335.35" width="12.84" height="12.29" fill="#fff3af"/>
<rect x="802.19" y="1335.35" width="12.84" height="12.29" fill="#ffeda0"/>
<rect x="814.02" y="1335.35" width="36.51" height="12.29" fill="#fff7b9"/>
<rect x="849.53" y="1335.35" width="12.84" height="12.29" fill="#fff3af"/>
<rect x="861.37" y="1335.35" width="12.84" height="12.29" fill="#ffffcc"/>
<rect x="873.21" y="1335.35" width="12.84" height="12.29" fill="#fff7b9"/>
<rect x="885.04" y="1335.35" width="82.86" height="12.29" fill="#ffffcc"/>
<rect x="612.80" y="1346.64" width="60.18" height="12.29" fill="#ffffcc"/>
<rect x="671.98" y="1346.64" width="12.84" height="12.29" fill="#fff7b9"/>
<rect x="683.82" y="1346.64" width="24.67" height="12.29" fill="#ffffcc"/>
<rect x="707.49" y="1346.64" width="12.84" height="12.29" fill="#fff7b9"/>
<rect x="719.33" y="1346.64" width="12.84" height="12.29" fill="#ffffcc"/>
<rect x="731.17" y="1346.64" width="12.84" height="12.29" fill="#fff7b9"/>
<rect x="743.00" y="1346.64" width="12.84" height="12.29" fill="#ffffcc"/>
<rect x="754.84" y="1346.64" width="24.67" height="12.29" fill="#fff7b9"/>
<rect x="778.51" y="1346.64" width="12.84" height="12.29" fill="#ffffcc"/>
<rect x="790.35" y="1346.64" width="12.84" height="12.29" fill="#ffe793"/>
<rect x="802.19" y="1346.64" width="12.84" height="12.29" fill="#ffffcc"/>
<rect x="814.02" y="1346.64" width="12.84" height="12.29" fill="#fff7b9"/>
<rect x="825.86" y="1346.64" width="12.84" height="12.29" fill="#fff3af"/>
<rect x="837.70" y="1346.64" width="48.35" height="12.29" fill="#ffffcc"/>
<rect x="885.04" y="1346.64" width="12.84" height="12.29" fill="#fff7b9"/>
<rect x="896.88" y="1346.64" width="71.02" height="12.29" fill="#ffffcc"/>
<rect x="612.80" y="1357.93" width="119.37" height="12.29" fill="#ffffcc"/>
<rect x="731.17" y="1357.93" width="12.84" height="12.29" fill="#fff3af"/>
<rect x="743.00" y="1357.93" width="12.84" height="12.29" fill="#ffffcc"/>
<rect x="754.84" y="1357.93" width="24.67" height="12.29" fill="#fff7b9"/>
<rect x="778.51" y="1357.93" width="24.67" height="12.29" fill="#ffffcc"/>
<rect x="802.19" y="1357.93" width="12.84" height="12.29" fill="#fff7b9"/>
<rect x="814.02" y="1357.93" width="153.88" height="12.29" fill="#ffffcc"/>
<rect x="612.80" y="1369.21" width="178.55" height="11.29" fill="#ffffcc"/>
<rect x="790.35" y="1369.21" width="12.84" height="11.29" fill="#fff7b9"/>
<rect x="802.19" y="1369.21" width="165.71" height="11.29" fill="#ffffcc"/>
<rect x="612.80" y="1041.90" width="355.10" height="338.60" fill="none" stroke="#000" stroke-width="5.3"/>
<line x1="675.60" y1="1380.50" x2="675.60" y2="1386.80" stroke="#000" stroke-width="1.6"/>
<text x="675.60" y="1406.20" font-size="18" text-anchor="middle" >−2</text>
<line x1="775.10" y1="1380.50" x2="775.10" y2="1386.80" stroke="#000" stroke-width="1.6"/>
<text x="775.10" y="1406.20" font-size="18" text-anchor="middle" >0</text>
<line x1="874.60" y1="1380.50" x2="874.60" y2="1386.80" stroke="#000" stroke-width="1.6"/>
<text x="874.60" y="1406.20" font-size="18" text-anchor="middle" >2</text>
<line x1="612.80" y1="1068.10" x2="606.50" y2="1068.10" stroke="#000" stroke-width="1.6"/>
<text x="600.20" y="1074.70" font-size="18" text-anchor="end" >3</text>
<line x1="612.80" y1="1117.90" x2="606.50" y2="1117.90" stroke="#000" stroke-width="1.6"/>
<text x="600.20" y="1124.50" font-size="18" text-anchor="end" >2</text>
<line x1="612.80" y1="1167.70" x2="606.50" y2="1167.70" stroke="#000" stroke-width="1.6"/>
<text x="600.20" y="1174.30" font-size="18" text-anchor="end" >1</text>
<line x1="612.80" y1="1217.50" x2="606.50" y2="1217.50" stroke="#000" stroke-width="1.6"/>
<text x="600.20" y="1224.10" font-size="18" text-anchor="end" >0</text>
<line x1="612.80" y1="1267.30" x2="606.50" y2="1267.30" stroke="#000" stroke-width="1.6"/>
<text x="600.20" y="1273.90" font-size="18" text-anchor="end" >−1</text>
<line x1="612.80" y1="1317.10" x2="606.50" y2="1317.10" stroke="#000" stroke-width="1.6"/>
<text x="600.20" y="1323.70" font-size="18" text-anchor="end" >−2</text>
<line x1="612.80" y1="1366.90" x2="606.50" y2="1366.90" stroke="#000" stroke-width="1.6"/>
<text x="600.20" y="1373.50" font-size="18" text-anchor="end" >−3</text>
<text x="790.35" y="1031.50" font-size="22.7" text-anchor="middle" >b=0.7, No. of matrices=3</text>
<text x="790.35" y="1434.30" font-size="22.7" text-anchor="middle" >Re z</text>
<rect x="990.10" y="974.40" width="23.70" height="474.70" fill="url(#g)" stroke="#000" stroke-width="5.3"/>
<line x1="1013.80" y1="1449.10" x2="1020.10" y2="1449.10" stroke="#000" stroke-width="1.6"/>
<text x="1026.40" y="1455.70" font-size="18" >0</text>
<line x1="1013.80" y1="1369.98" x2="1020.10" y2="1369.98" stroke="#000" stroke-width="1.6"/>
<text x="1026.40" y="1376.58" font-size="18" >1</text>
<line x1="1013.80" y1="1290.87" x2="1020.10" y2="1290.87" stroke="#000" stroke-width="1.6"/>
<text x="1026.40" y="1297.47" font-size="18" >2</text>
<line x1="1013.80" y1="1211.75" x2="1020.10" y2="1211.75" stroke="#000" stroke-width="1.6"/>
<text x="1026.40" y="1218.35" font-size="18" >3</text>
<line x1="1013.80" y1="1132.63" x2="1020.10" y2="1132.63" stroke="#000" stroke-width="1.6"/>
<text x="1026.40" y="1139.23" font-size="18" >4</text>
<line x1="1013.80" y1="1053.52" x2="1020.10" y2="1053.52" stroke="#000" stroke-width="1.6"/>
<text x="1026.40" y="1060.12" font-size="18" >5</text>
<line x1="1013.80" y1="974.40" x2="1020.10" y2="974.40" stroke="#000" stroke-width="1.6"/>
<text x="1026.40" y="981.00" font-size="18" >6</text>
</g>
<g>
<rect x="77.60" y="1519.00" width="354.70" height="358.50" fill="#ffffcc"/>
<rect x="77.60" y="1519.00" width="119.23" height="12.95" fill="#ffffcc"/>
<rect x="195.83" y="1519.00" width="12.82" height="12.95" fill="#fed976"/>
<rect x="207.66" y="1519.00" width="12.82" height="12.95" fill="#ffffcc"/>
<rect x="219.48" y="1519.00" width="12.82" height="12.95" fill="#fed976"/>
<rect x="231.30" y="1519.00" width="12.82" height="12.95" fill="#fd8b3c"/>
<rect x="243.13" y="1519.00" width="60.12" height="12.95" fill="#fed976"/>
<rect x="302.24" y="1519.00" width="12.82" height="12.95" fill="#ffffcc"/>
<rect x="314.07" y="1519.00" width="12.82" height="12.95" fill="#fed976"/>
<rect x="325.89" y="1519.00" width="106.41" height="12.95" fill="#ffffcc"/>
<rect x="77.60" y="1530.95" width="95.59" height="12.95" fill="#ffffcc"/>
<rect x="172.19" y="1530.95" width="12.82" height="12.95" fill="#fed976"/>
<rect x="184.01" y="1530.95" width="12.82" height="12.95" fill="#ffffcc"/>
<rect x="195.83" y="1530.95" width="36.47" height="12.95" fill="#fd8b3c"/>
<rect x="231.30" y="1530.95" width="12.82" height="12.95" fill="#fed976"/>
<rect x="243.13" y="1530.95" width="12.82" height="12.95" fill="#ffffcc"/>
<rect x="254.95" y="1530.95" width="12.82" height="12.95" fill="#fd8b3c"/>
<rect x="266.77" y="1530.95" width="24.65" height="12.95" fill="#e1181c"/>
<rect x="290.42" y="1530.95" width="12.82" height="12.95" fill="#ffffcc"/>
<rect x="302.24" y="1530.95" width="12.82" height="12.95" fill="#fd8b3c"/>
<rect x="314.07" y="1530.95" width="24.65" height="12.95" fill="#fed976"/>
<rect x="337.71" y="1530.95" width="94.59" height="12.95" fill="#ffffcc"/>
<rect x="77.60" y="1542.90" width="83.76" height="12.95" fill="#ffffcc"/>
<rect x="160.36" y="1542.90" width="12.82" height="12.95" fill="#e1181c"/>
<rect x="172.19" y="1542.90" width="12.82" height="12.95" fill="#fed976"/>
<rect x="184.01" y="1542.90" width="24.65" height="12.95" fill="#fd8b3c"/>
<rect x="207.66" y="1542.90" width="12.82" height="12.95" fill="#e1181c"/>
<rect x="219.48" y="1542.90" width="12.82" height="12.95" fill="#fd8b3c"/>
<rect x="231.30" y="1542.90" width="12.82" height="12.95" fill="#fed976"/>
<rect x="243.13" y="1542.90" width="24.65" height="12.95" fill="#fd8b3c"/>
<rect x="266.77" y="1542.90" width="12.82" height="12.95" fill="#fed976"/>
<rect x="278.60" y="1542.90" width="12.82" height="12.95" fill="#ffffcc"/>
<rect x="290.42" y="1542.90" width="12.82" height="12.95" fill="#fd8b3c"/>
<rect x="302.24" y="1542.90" width="36.47" height="12.95" fill="#fed976"/>
<rect x="337.71" y="1542.90" width="12.82" height="12.95" fill="#ffffcc"/>
<rect x="349.54" y="1542.90" width="12.82" height="12.95" fill="#fed976"/>
<rect x="361.36" y="1542.90" width="70.94" height="12.95" fill="#ffffcc"/>
<rect x="77.60" y="1554.85" width="60.12" height="12.95" fill="#ffffcc"/>
<rect x="136.72" y="1554.85" width="36.47" height="12.95" fill="#fed976"/>
<rect x="172.19" y="1554.85" width="12.82" height="12.95" fill="#ffffcc"/>
<rect x="184.01" y="1554.85" width="24.65" height="12.95" fill="#fed976"/>
<rect x="207.66" y="1554.85" width="12.82" height="12.95" fill="#fd8b3c"/>
<rect x="219.48" y="1554.85" width="12.82" height="12.95" fill="#ffffcc"/>
<rect x="231.30" y="1554.85" width="36.47" height="12.95" fill="#fed976"/>
<rect x="266.77" y="1554.85" width="24.65" height="12.95" fill="#fd8b3c"/>
<rect x="290.42" y="1554.85" width="12.82" height="12.95" fill="#ffffcc"/>
<rect x="302.24" y="1554.85" width="12.82" height="12.95" fill="#fed976"/>
<rect x="314.07" y="1554.85" width="48.29" height="12.95" fill="#fd8b3c"/>
<rect x="361.36" y="1554.85" width="12.82" height="12.95" fill="#fed976"/>
<rect x="373.18" y="1554.85" width="59.12" height="12.95" fill="#ffffcc"/>
<rect x="77.60" y="1566.80" width="48.29" height="12.95" fill="#ffffcc"/>
<rect x="124.89" y="1566.80" width="12.82" height="12.95" fill="#fed976"/>
<rect x="136.72" y="1566.80" width="24.65" height="12.95" fill="#fd8b3c"/>
<rect x="160.36" y="1566.80" width="48.29" height="12.95" fill="#fed976"/>
<rect x="207.66" y="1566.80" width="12.82" height="12.95" fill="#fd8b3c"/>
<rect x="219.48" y="1566.80" width="12.82" height="12.95" fill="#ffffcc"/>
<rect x="231.30" y="1566.80" width="12.82" height="12.95" fill="#800026"/>
<rect x="243.13" y="1566.80" width="12.82" height="12.95" fill="#fd8b3c"/>
<rect x="254.95" y="1566.80" width="12.82" height="12.95" fill="#ffffcc"/>
<rect x="266.77" y="1566.80" width="12.82" height="12.95" fill="#fed976"/>
<rect x="278.60" y="1566.80" width="24.65" height="12.95" fill="#fd8b3c"/>
<rect x="302.24" y="1566.80" width="12.82" height="12.95" fill="#e1181c"/>
<rect x="314.07" y="1566.80" width="36.47" height="12.95" fill="#fed976"/>
<rect x="349.54" y="1566.80" width="12.82" height="12.95" fill="#ffffcc"/>
<rect x="361.36" y="1566.80" width="12.82" height="12.95" fill="#fd8b3c"/>
<rect x="373.18" y="1566.80" width="12.82" height="12.95" fill="#fed976"/>
<rect x="385.01" y="1566.80" width="47.29" height="12.95" fill="#ffffcc"/>
<rect x="77.60" y="1578.75" width="36.47" height="12.95" fill="#ffffcc"/>
<rect x="113.07" y="1578.75" width="12.82" height="12.95" fill="#fed976"/>
<rect x="124.89" y="1578.75" width="12.82" height="12.95" fill="#fd8b3c"/>
<rect x="136.72" y="1578.75" width="12.82" height="12.95" fill="#ffffcc"/>
<rect x="148.54" y="1578.75" width="24.65" height="12.95" fill="#fed976"/>
<rect x="172.19" y="1578.75" width="24.65" height="12.95" fill="#fd8b3c"/>
<rect x="195.83" y="1578.75" width="12.82" height="12.95" fill="#e1181c"/>
<rect x="207.66" y="1578.75" width="12.82" height="12.95" fill="#fd8b3c"/>
<rect x="219.48" y="1578.75" width="12.82" height="12.95" fill="#fed976"/>
<rect x="231.30" y="1578.75" width="24.65" height="12.95" fill="#ffffcc"/>
<rect x="254.95" y="1578.75" width="12.82" height="12.95" fill="#fd8b3c"/>
<rect x="266.77" y="1578.75" width="60.12" height="12.95" fill="#fed976"/>
<rect x="325.89" y="1578.75" width="12.82" height="12.95" fill="#fd8b3c"/>
<rect x="337.71" y="1578.75" width="24.65" height="12.95" fill="#fed976"/>
<rect x="361.36" y="1578.75" width="12.82" height="12.95" fill="#e1181c"/>
<rect x="373.18" y="1578.75" width="24.65" height="12.95" fill="#fed976"/>
<rect x="396.83" y="1578.75" width="35.47" height="12.95" fill="#ffffcc"/>
<rect x="77.60" y="1590.70" width="36.47" height="12.95" fill="#ffffcc"/>
<rect x="113.07" y="1590.70" width="12.82" height="12.95" fill="#e1181c"/>
<rect x="124.89" y="1590.70" width="24.65" height="12.95" fill="#fd8b3c"/>
<rect x="148.54" y="1590.70" width="12.82" height="12.95" fill="#fed976"/>
<rect x="160.36" y="1590.70" width="36.47" height="12.95" fill="#fd8b3c"/>
<rect x="195.83" y="1590.70" width="12.82" height="12.95" fill="#ffffcc"/>
<rect x="207.66" y="1590.70" width="12.82" height="12.95" fill="#fed976"/>
<rect x="219.48" y="1590.70" width="36.47" height="12.95" fill="#fd8b3c"/>
<rect x="254.95" y="1590.70" width="36.47" height="12.95" fill="#fed976"/>
<rect x="290.42" y="1590.70" width="12.82" height="12.95" fill="#ffffcc"/>
<rect x="302.24" y="1590.70" width="24.65" height="12.95" fill="#fd8b3c"/>
<rect x="325.89" y="1590.70" width="12.82" height="12.95" fill="#e1181c"/>
<rect x="337.71" y="1590.70" width="36.47" height="12.95" fill="#fed976"/>
<rect x="373.18" y="1590.70" width="24.65" height="12.95" fill="#fd8b3c"/>
<rect x="396.83" y="1590.70" width="35.47" height="12.95" fill="#ffffcc"/>
<rect x="77.60" y="1602.65" width="24.65" height="12.95" fill="#ffffcc"/>
<rect x="101.25" y="1602.65" width="12.82" height="12.95" fill="#fd8b3c"/>
<rect x="113.07" y="1602.65" width="12.82" height="12.95" fill="#ffffcc"/>
<rect x="124.89" y="1602.65" width="36.47" height="12.95" fill="#fed976"/>
<rect x="160.36" y="1602.65" width="12.82" height="12.95" fill="#e1181c"/>
<rect x="172.19" y="1602.65" width="12.82" height="12.95" fill="#fd8b3c"/>
<rect x="184.01" y="1602.65" width="12.82" height="12.95" fill="#fed976"/>
<rect x="195.83" y="1602.65" width="12.82" height="12.95" fill="#fd8b3c"/>
<rect x="207.66" y="1602.65" width="24.65" height="12.95" fill="#fed976"/>
<rect x="231.30" y="1602.65" width="12.82" height="12.95" fill="#fd8b3c"/>
<rect x="243.13" y="1602.65" width="12.82" height="12.95" fill="#fed976"/>
<rect x="254.95" y="1602.65" width="12.82" height="12.95" fill="#fd8b3c"/>
<rect x="266.77" y="1602.65" width="24.65" height="12.95" fill="#fed976"/>
<rect x="290.42" y="1602.65" width="12.82" height="12.95" fill="#800026"/>
<rect x="302.24" y="1602.65" width="12.82" height="12.95" fill="#fed976"/>
<rect x="314.07" y="1602.65" width="12.82" height="12.95" fill="#fd8b3c"/>
<rect x="325.89" y="1602.65" width="12.82" height="12.95" fill="#ffffcc"/>
<rect x="337.71" y="1602.65" width="12.82" height="12.95" fill="#800026"/>
<rect x="349.54" y="1602.65" width="24.65" height="12.95" fill="#fed976"/>
<rect x="373.18" y="1602.65" width="12.82" height="12.95" fill="#fd8b3c"/>
<rect x="385.01" y="1602.65" width="12.82" height="12.95" fill="#fed976"/>
<rect x="396.83" y="1602.65" width="12.82" height="12.95" fill="#fd8b3c"/>
<rect x="408.65" y="1602.65" width="23.65" height="12.95" fill="#ffffcc"/>
<rect x="77.60" y="1614.60" width="12.82" height="12.95" fill="#ffffcc"/>
<rect x="89.42" y="1614.60" width="12.82" height="12.95" fill="#fd8b3c"/>
<rect x="101.25" y="1614.60" width="12.82" height="12.95" fill="#fed976"/>
<rect x="113.07" y="1614.60" width="24.65" height="12.95" fill="#fd8b3c"/>
<rect x="136.72" y="1614.60" width="36.47" height="12.95" fill="#fed976"/>
<rect x="172.19" y="1614.60" width="24.65" height="12.95" fill="#ffffcc"/>
<rect x="195.83" y="1614.60" width="12.82" height="12.95" fill="#800026"/>
<rect x="207.66" y="1614.60" width="12.82" height="12.95" fill="#fd8b3c"/>
<rect x="219.48" y="1614.60" width="12.82" height="12.95" fill="#fed976"/>
<rect x="231.30" y="1614.60" width="24.65" height="12.95" fill="#fd8b3c"/>
<rect x="254.95" y="1614.60" width="83.76" height="12.95" fill="#fed976"/>
<rect x="337.71" y="1614.60" width="12.82" height="12.95" fill="#ffffcc"/>
<rect x="349.54" y="1614.60" width="24.65" height="12.95" fill="#fed976"/>
<rect x="373.18" y="1614.60" width="36.47" height="12.95" fill="#fd8b3c"/>
<rect x="408.65" y="1614.60" width="12.82" height="12.95" fill="#fed976"/>
<rect x="420.48" y="1614.60" width="11.82" height="12.95" fill="#ffffcc"/>
<rect x="77.60" y="1626.55" width="12.82" height="12.95" fill="#ffffcc"/>
<rect x="89.42" y="1626.55" width="12.82" height="12.95" fill="#fed976"/>
<rect x="101.25" y="1626.55" width="12.82" height="12.95" fill="#ffffcc"/>
<rect x="113.07" y="1626.55" width="12.82" height="12.95" fill="#e1181c"/>
<rect x="124.89" y="1626.55" width="12.82" height="12.95" fill="#ffffcc"/>
<rect x="136.72" y="1626.55" width="36.47" height="12.95" fill="#fd8b3c"/>
<rect x="172.19" y="1626.55" width="12.82" height="12.95" fill="#fed976"/>
<rect x="184.01" y="1626.55" width="12.82" height="12.95" fill="#fd8b3c"/>
<rect x="195.83" y="1626.55" width="12.82" height="12.95" fill="#fed976"/>
<rect x="207.66" y="1626.55" width="12.82" height="12.95" fill="#ffffcc"/>
<rect x="219.48" y="1626.55" width="36.47" height="12.95" fill="#fed976"/>
<rect x="254.95" y="1626.55" width="12.82" height="12.95" fill="#fd8b3c"/>
<rect x="266.77" y="1626.55" width="12.82" height="12.95" fill="#e1181c"/>
<rect x="278.60" y="1626.55" width="12.82" height="12.95" fill="#ffffcc"/>
<rect x="290.42" y="1626.55" width="12.82" height="12.95" fill="#fd8b3c"/>
<rect x="302.24" y="1626.55" width="24.65" height="12.95" fill="#fed976"/>
<rect x="325.89" y="1626.55" width="12.82" height="12.95" fill="#e1181c"/>
<rect x="337.71" y="1626.55" width="24.65" height="12.95" fill="#fd8b3c"/>
<rect x="361.36" y="1626.55" width="12.82" height="12.95" fill="#ffffcc"/>
<rect x="373.18" y="1626.55" width="12.82" height="12.95" fill="#fed976"/>
<rect x="385.01" y="1626.55" width="12.82" height="12.95" fill="#ffffcc"/>
<rect x="396.83" y="1626.55" width="12.82" height="12.95" fill="#fed976"/>
<rect x="408.65" y="1626.55" width="12.82" height="12.95" fill="#fd8b3c"/>
<rect x="420.48" y="1626.55" width="11.82" height="12.95" fill="#ffffcc"/>
<rect x="77.60" y="1638.50" width="36.47" height="12.95" fill="#fed976"/>
<rect x="113.07" y="1638.50" width="12.82" height="12.95" fill="#fd8b3c"/>
<rect x="124.89" y="1638.50" width="36.47" height="12.95" fill="#fed976"/>
<rect x="160.36" y="1638.50" width="12.82" height="12.95" fill="#ffffcc"/>
<rect x="172.19" y="1638.50" width="24.65" height="12.95" fill="#fd8b3c"/>
<rect x="195.83" y="1638.50" width="12.82" height="12.95" fill="#fed976"/>
<rect x="207.66" y="1638.50" width="12.82" height="12.95" fill="#e1181c"/>
<rect x="219.48" y="1638.50" width="24.65" height="12.95" fill="#fd8b3c"/>
<rect x="243.13" y="1638.50" width="12.82" height="12.95" fill="#ffffcc"/>
<rect x="254.95" y="1638.50" width="36.47" height="12.95" fill="#fd8b3c"/>
<rect x="290.42" y="1638.50" width="12.82" height="12.95" fill="#fed976"/>
<rect x="302.24" y="1638.50" width="12.82" height="12.95" fill="#fd8b3c"/>
<rect x="314.07" y="1638.50" width="12.82" height="12.95" fill="#fed976"/>
<rect x="325.89" y="1638.50" width="12.82" height="12.95" fill="#fd8b3c"/>
<rect x="337.71" y="1638.50" width="24.65" height="12.95" fill="#fed976"/>
<rect x="361.36" y="1638.50" width="12.82" height="12.95" fill="#fd8b3c"/>
<rect x="373.18" y="1638.50" width="12.82" height="12.95" fill="#e1181c"/>
<rect x="385.01" y="1638.50" width="24.65" height="12.95" fill="#fd8b3c"/>
<rect x="408.65" y="1638.50" width="23.65" height="12.95" fill="#fed976"/>
<rect x="77.60" y="1650.45" width="24.65" height="12.95" fill="#fed976"/>
<rect x="101.25" y="1650.45" width="12.82" height="12.95" fill="#fd8b3c"/>
<rect x="113.07" y="1650.45" width="12.82" height="12.95" fill="#fed976"/>
<rect x="124.89" y="1650.45" width="12.82" height="12.95" fill="#fd8b3c"/>
<rect x="136.72" y="1650.45" width="12.82" height="12.95" fill="#fed976"/>
<rect x="148.54" y="1650.45" width="24.65" height="12.95" fill="#fd8b3c"/>
<rect x="172.19" y="1650.45" width="12.82" height="12.95" fill="#fed976"/>
<rect x="184.01" y="1650.45" width="24.65" height="12.95" fill="#fd8b3c"/>
<rect x="207.66" y="1650.45" width="24.65" height="12.95" fill="#ffffcc"/>
<rect x="231.30" y="1650.45" width="71.94" height="12.95" fill="#fed976"/>
<rect x="302.24" y="1650.45" width="24.65" height="12.95" fill="#fd8b3c"/>
<rect x="325.89" y="1650.45" width="12.82" height="12.95" fill="#fed976"/>
<rect x="337.71" y="1650.45" width="12.82" height="12.95" fill="#e1181c"/>
<rect x="349.54" y="1650.45" width="36.47" height="12.95" fill="#fed976"/>
<rect x="385.01" y="1650.45" width="12.82" height="12.95" fill="#fd8b3c"/>
<rect x="396.83" y="1650.45" width="35.47" height="12.95" fill="#fed976"/>
<rect x="77.60" y="1662.40" width="12.82" height="12.95" fill="#fed976"/>
<rect x="89.42" y="1662.40" width="12.82" height="12.95" fill="#e1181c"/>
<rect x="101.25" y="1662.40" width="36.47" height="12.95" fill="#fed976"/>
<rect x="136.72" y="1662.40" width="12.82" height="12.95" fill="#fd8b3c"/>
<rect x="148.54" y="1662.40" width="24.65" height="12.95" fill="#fed976"/>
<rect x="172.19" y="1662.40" width="12.82" height="12.95" fill="#fd8b3c"/>
<rect x="184.01" y="1662.40" width="12.82" height="12.95" fill="#e1181c"/>
<rect x="195.83" y="1662.40" width="12.82" height="12.95" fill="#fed976"/>
<rect x="207.66" y="1662.40" width="12.82" height="12.95" fill="#fd8b3c"/>
<rect x="219.48" y="1662.40" width="12.82" height="12.95" fill="#fed976"/>
<rect x="231.30" y="1662.40" width="12.82" height="12.95" fill="#800026"/>
<rect x="243.13" y="1662.40" width="12.82" height="12.95" fill="#fd8b3c"/>
<rect x="254.95" y="1662.40" width="12.82" height="12.95" fill="#ffffcc"/>
<rect x="266.77" y="1662.40" width="12.82" height="12.95" fill="#fd8b3c"/>
<rect x="278.60" y="1662.40" width="12.82" height="12.95" fill="#fed976"/>
<rect x="290.42" y="1662.40" width="12.82" height="12.95" fill="#e1181c"/>
<rect x="302.24" y="1662.40" width="12.82" height="12.95" fill="#fed976"/>
<rect x="314.07" y="1662.40" width="12.82" height="12.95" fill="#fd8b3c"/>
<rect x="325.89" y="1662.40" width="24.65" height="12.95" fill="#fed976"/>
<rect x="349.54" y="1662.40" width="12.82" height="12.95" fill="#e1181c"/>
<rect x="361.36" y="1662.40" width="48.29" height="12.95" fill="#fed976"/>
<rect x="408.65" y="1662.40" width="23.65" height="12.95" fill="#fd8b3c"/>
<rect x="77.60" y="1674.35" width="12.82" height="12.95" fill="#fd8b3c"/>
<rect x="89.42" y="1674.35" width="24.65" height="12.95" fill="#ffffcc"/>
<rect x="113.07" y="1674.35" width="12.82" height="12.95" fill="#e1181c"/>
<rect x="124.89" y="1674.35" width="12.82" height="12.95" fill="#fd8b3c"/>
<rect x="136.72" y="1674.35" width="12.82" height="12.95" fill="#fed976"/>
<rect x="148.54" y="1674.35" width="12.82" height="12.95" fill="#e1181c"/>
<rect x="160.36" y="1674.35" width="24.65" height="12.95" fill="#fed976"/>
<rect x="184.01" y="1674.35" width="12.82" height="12.95" fill="#fd8b3c"/>
<rect x="195.83" y="1674.35" width="24.65" height="12.95" fill="#fed976"/>
<rect x="219.48" y="1674.35" width="12.82" height="12.95" fill="#ffffcc"/>
<rect x="231.30" y="1674.35" width="12.82" height="12.95" fill="#fd8b3c"/>
<rect x="243.13" y="1674.35" width="12.82" height="12.95" fill="#ffffcc"/>
<rect x="254.95" y="1674.35" width="12.82" height="12.95" fill="#e1181c"/>
<rect x="266.77" y="1674.35" width="12.82" height="12.95" fill="#fd8b3c"/>
<rect x="278.60" y="1674.35" width="36.47" height="12.95" fill="#fed976"/>
<rect x="314.07" y="1674.35" width="12.82" height="12.95" fill="#fd8b3c"/>
<rect x="325.89" y="1674.35" width="12.82" height="12.95" fill="#fed976"/>
<rect x="337.71" y="1674.35" width="12.82" height="12.95" fill="#fd8b3c"/>
<rect x="349.54" y="1674.35" width="12.82" height="12.95" fill="#ffffcc"/>
<rect x="361.36" y="1674.35" width="12.82" height="12.95" fill="#fed976"/>
<rect x="373.18" y="1674.35" width="36.47" height="12.95" fill="#fd8b3c"/>
<rect x="408.65" y="1674.35" width="12.82" height="12.95" fill="#ffffcc"/>
<rect x="420.48" y="1674.35" width="11.82" height="12.95" fill="#fed976"/>
<rect x="77.60" y="1686.30" width="36.47" height="12.95" fill="#fd8b3c"/>
<rect x="113.07" y="1686.30" width="12.82" height="12.95" fill="#ffffcc"/>
<rect x="124.89" y="1686.30" width="12.82" height="12.95" fill="#fed976"/>
<rect x="136.72" y="1686.30" width="12.82" height="12.95" fill="#fd8b3c"/>
<rect x="148.54" y="1686.30" width="12.82" height="12.95" fill="#ffffcc"/>
<rect x="160.36" y="1686.30" width="12.82" height="12.95" fill="#fed976"/>
<rect x="172.19" y="1686.30" width="12.82" height="12.95" fill="#fd8b3c"/>
<rect x="184.01" y="1686.30" width="24.65" height="12.95" fill="#fed976"/>
<rect x="207.66" y="1686.30" width="24.65" height="12.95" fill="#fd8b3c"/>
<rect x="231.30" y="1686.30" width="36.47" height="12.95" fill="#fed976"/>
<rect x="266.77" y="1686.30" width="24.65" height="12.95" fill="#fd8b3c"/>
<rect x="290.42" y="1686.30" width="12.82" height="12.95" fill="#fed976"/>
<rect x="302.24" y="1686.30" width="12.82" height="12.95" fill="#fd8b3c"/>
<rect x="314.07" y="1686.30" width="12.82" height="12.95" fill="#ffffcc"/>
<rect x="325.89" y="1686.30" width="12.82" height="12.95" fill="#fd8b3c"/>
<rect x="337.71" y="1686.30" width="12.82" height="12.95" fill="#fed976"/>
<rect x="349.54" y="1686.30" width="12.82" height="12.95" fill="#800026"/>
<rect x="361.36" y="1686.30" width="12.82" height="12.95" fill="#fed976"/>
<rect x="373.18" y="1686.30" width="12.82" height="12.95" fill="#fd8b3c"/>
<rect x="385.01" y="1686.30" width="12.82" height="12.95" fill="#ffffcc"/>
<rect x="396.83" y="1686.30" width="35.47" height="12.95" fill="#fd8b3c"/>
<rect x="77.60" y="1698.25" width="12.82" height="12.95" fill="#fd8b3c"/>
<rect x="89.42" y="1698.25" width="24.65" height="12.95" fill="#fed976"/>
<rect x="113.07" y="1698.25" width="12.82" height="12.95" fill="#fd8b3c"/>
<rect x="124.89" y="1698.25" width="12.82" height="12.95" fill="#e1181c"/>
<rect x="136.72" y="1698.25" width="12.82" height="12.95" fill="#ffffcc"/>
<rect x="148.54" y="1698.25" width="12.82" height="12.95" fill="#e1181c"/>
<rect x="160.36" y="1698.25" width="12.82" height="12.95" fill="#fed976"/>
<rect x="172.19" y="1698.25" width="12.82" height="12.95" fill="#ffffcc"/>
<rect x="184.01" y="1698.25" width="12.82" height="12.95" fill="#e1181c"/>
<rect x="195.83" y="1698.25" width="12.82" height="12.95" fill="#fed976"/>
<rect x="207.66" y="1698.25" width="12.82" height="12.95" fill="#fd8b3c"/>
<rect x="219.48" y="1698.25" width="24.65" height="12.95" fill="#fed976"/>
<rect x="243.13" y="1698.25" width="12.82" height="12.95" fill="#e1181c"/>
<rect x="254.95" y="1698.25" width="12.82" height="12.95" fill="#ffffcc"/>
<rect x="266.77" y="1698.25" width="12.82" height="12.95" fill="#e1181c"/>
<rect x="278.60" y="1698.25" width="12.82" height="12.95" fill="#fed976"/>
<rect x="290.42" y="1698.25" width="12.82" height="12.95" fill="#ffffcc"/>
<rect x="302.24" y="1698.25" width="12.82" height="12.95" fill="#fd8b3c"/>
<rect x="314.07" y="1698.25" width="12.82" height="12.95" fill="#e1181c"/>
<rect x="325.89" y="1698.25" width="48.29" height="12.95" fill="#fed976"/>
<rect x="373.18" y="1698.25" width="59.12" height="12.95" fill="#fd8b3c"/>
<rect x="77.60" y="1710.20" width="12.82" height="12.95" fill="#fed976"/>
<rect x="89.42" y="1710.20" width="12.82" height="12.95" fill="#ffffcc"/>
<rect x="101.25" y="1710.20" width="24.65" height="12.95" fill="#fd8b3c"/>
<rect x="124.89" y="1710.20" width="12.82" height="12.95" fill="#fed976"/>
<rect x="136.72" y="1710.20" width="12.82" height="12.95" fill="#fd8b3c"/>
<rect x="148.54" y="1710.20" width="12.82" height="12.95" fill="#fed976"/>
<rect x="160.36" y="1710.20" width="12.82" height="12.95" fill="#fd8b3c"/>
<rect x="172.19" y="1710.20" width="24.65" height="12.95" fill="#fed976"/>
<rect x="195.83" y="1710.20" width="12.82" height="12.95" fill="#fd8b3c"/>
<rect x="207.66" y="1710.20" width="24.65" height="12.95" fill="#fed976"/>
<rect x="231.30" y="1710.20" width="12.82" height="12.95" fill="#fd8b3c"/>
<rect x="243.13" y="1710.20" width="24.65" height="12.95" fill="#fed976"/>
<rect x="266.77" y="1710.20" width="12.82" height="12.95" fill="#fd8b3c"/>
<rect x="278.60" y="1710.20" width="12.82" height="12.95" fill="#ffffcc"/>
<rect x="290.42" y="1710.20" width="12.82" height="12.95" fill="#e1181c"/>
<rect x="302.24" y="1710.20" width="12.82" height="12.95" fill="#fd8b3c"/>
<rect x="314.07" y="1710.20" width="48.29" height="12.95" fill="#fed976"/>
<rect x="361.36" y="1710.20" width="24.65" height="12.95" fill="#fd8b3c"/>
<rect x="385.01" y="1710.20" width="12.82" height="12.95" fill="#ffffcc"/>
<rect x="396.83" y="1710.20" width="12.82" height="12.95" fill="#fd8b3c"/>
<rect x="408.65" y="1710.20" width="12.82" height="12.95" fill="#ffffcc"/>
<rect x="420.48" y="1710.20" width="11.82" height="12.95" fill="#fed976"/>
<rect x="77.60" y="1722.15" width="12.82" height="12.95" fill="#fed976"/>
<rect x="89.42" y="1722.15" width="12.82" height="12.95" fill="#fd8b3c"/>
<rect x="101.25" y="1722.15" width="12.82" height="12.95" fill="#e1181c"/>
<rect x="113.07" y="1722.15" width="48.29" height="12.95" fill="#fed976"/>
<rect x="160.36" y="1722.15" width="12.82" height="12.95" fill="#fd8b3c"/>
<rect x="172.19" y="1722.15" width="12.82" height="12.95" fill="#fed976"/>
<rect x="184.01" y="1722.15" width="12.82" height="12.95" fill="#fd8b3c"/>
<rect x="195.83" y="1722.15" width="12.82" height="12.95" fill="#fed976"/>
<rect x="207.66" y="1722.15" width="12.82" height="12.95" fill="#e1181c"/>
<rect x="219.48" y="1722.15" width="12.82" height="12.95" fill="#fed976"/>
<rect x="231.30" y="1722.15" width="12.82" height="12.95" fill="#fd8b3c"/>
<rect x="243.13" y="1722.15" width="12.82" height="12.95" fill="#fed976"/>
<rect x="254.95" y="1722.15" width="12.82" height="12.95" fill="#fd8b3c"/>
<rect x="266.77" y="1722.15" width="12.82" height="12.95" fill="#ffffcc"/>
<rect x="278.60" y="1722.15" width="36.47" height="12.95" fill="#fed976"/>
<rect x="314.07" y="1722.15" width="12.82" height="12.95" fill="#fd8b3c"/>
<rect x="325.89" y="1722.15" width="36.47" height="12.95" fill="#fed976"/>
<rect x="361.36" y="1722.15" width="12.82" height="12.95" fill="#fd8b3c"/>
<rect x="373.18" y="1722.15" width="12.82" height="12.95" fill="#ffffcc"/>
<rect x="385.01" y="1722.15" width="24.65" height="12.95" fill="#fd8b3c"/>
<rect x="408.65" y="1722.15" width="12.82" height="12.95" fill="#e1181c"/>
<rect x="420.48" y="1722.15" width="11.82" height="12.95" fill="#fd8b3c"/>
<rect x="77.60" y="1734.10" width="48.29" height="12.95" fill="#fed976"/>
<rect x="124.89" y="1734.10" width="12.82" height="12.95" fill="#fd8b3c"/>
<rect x="136.72" y="1734.10" width="12.82" height="12.95" fill="#e1181c"/>
<rect x="148.54" y="1734.10" width="12.82" height="12.95" fill="#fd8b3c"/>
<rect x="160.36" y="1734.10" width="12.82" height="12.95" fill="#ffffcc"/>
<rect x="172.19" y="1734.10" width="24.65" height="12.95" fill="#fd8b3c"/>
<rect x="195.83" y="1734.10" width="83.76" height="12.95" fill="#fed976"/>
<rect x="278.60" y="1734.10" width="36.47" height="12.95" fill="#fd8b3c"/>
<rect x="314.07" y="1734.10" width="24.65" height="12.95" fill="#fed976"/>
<rect x="337.71" y="1734.10" width="24.65" height="12.95" fill="#fd8b3c"/>
<rect x="361.36" y="1734.10" width="12.82" height="12.95" fill="#fed976"/>
<rect x="373.18" y="1734.10" width="12.82" height="12.95" fill="#fd8b3c"/>
<rect x="385.01" y="1734.10" width="47.29" height="12.95" fill="#fed976"/>
<rect x="77.60" y="1746.05" width="12.82" height="12.95" fill="#ffffcc"/>
<rect x="89.42" y="1746.05" width="48.29" height="12.95" fill="#fd8b3c"/>
<rect x="136.72" y="1746.05" width="12.82" height="12.95" fill="#fed976"/>
<rect x="148.54" y="1746.05" width="12.82" height="12.95" fill="#fd8b3c"/>
<rect x="160.36" y="1746.05" width="24.65" height="12.95" fill="#fed976"/>
<rect x="184.01" y="1746.05" width="12.82" height="12.95" fill="#ffffcc"/>
<rect x="195.83" y="1746.05" width="24.65" height="12.95" fill="#fd8b3c"/>
<rect x="219.48" y="1746.05" width="12.82" height="12.95" fill="#e1181c"/>
<rect x="231.30" y="1746.05" width="12.82" height="12.95" fill="#fd8b3c"/>
<rect x="243.13" y="1746.05" width="24.65" height="12.95" fill="#e1181c"/>
<rect x="266.77" y="1746.05" width="12.82" height="12.95" fill="#ffffcc"/>
<rect x="278.60" y="1746.05" width="24.65" height="12.95" fill="#fed976"/>
<rect x="302.24" y="1746.05" width="12.82" height="12.95" fill="#fd8b3c"/>
<rect x="314.07" y="1746.05" width="12.82" height="12.95" fill="#fed976"/>
<rect x="325.89" y="1746.05" width="12.82" height="12.95" fill="#e1181c"/>
<rect x="337.71" y="1746.05" width="12.82" height="12.95" fill="#fd8b3c"/>
<rect x="349.54" y="1746.05" width="12.82" height="12.95" fill="#ffffcc"/>
<rect x="361.36" y="1746.05" width="12.82" height="12.95" fill="#e1181c"/>
<rect x="373.18" y="1746.05" width="36.47" height="12.95" fill="#fed976"/>
<rect x="408.65" y="1746.05" width="12.82" height="12.95" fill="#fd8b3c"/>
<rect x="420.48" y="1746.05" width="11.82" height="12.95" fill="#ffffcc"/>
<rect x="77.60" y="1758.00" width="12.82" height="12.95" fill="#fed976"/>
<rect x="89.42" y="1758.00" width="12.82" height="12.95" fill="#fd8b3c"/>
<rect x="101.25" y="1758.00" width="12.82" height="12.95" fill="#fed976"/>
<rect x="113.07" y="1758.00" width="12.82" height="12.95" fill="#ffffcc"/>
<rect x="124.89" y="1758.00" width="12.82" height="12.95" fill="#fd8b3c"/>
<rect x="136.72" y="1758.00" width="12.82" height="12.95" fill="#fed976"/>
<rect x="148.54" y="1758.00" width="12.82" height="12.95" fill="#ffffcc"/>
<rect x="160.36" y="1758.00" width="12.82" height="12.95" fill="#e1181c"/>
<rect x="172.19" y="1758.00" width="12.82" height="12.95" fill="#fed976"/>
<rect x="184.01" y="1758.00" width="12.82" height="12.95" fill="#fd8b3c"/>
<rect x="195.83" y="1758.00" width="12.82" height="12.95" fill="#fed976"/>
<rect x="207.66" y="1758.00" width="12.82" height="12.95" fill="#e1181c"/>
<rect x="219.48" y="1758.00" width="12.82" height="12.95" fill="#fed976"/>
<rect x="231.30" y="1758.00" width="12.82" height="12.95" fill="#fd8b3c"/>
<rect x="243.13" y="1758.00" width="12.82" height="12.95" fill="#fed976"/>
<rect x="254.95" y="1758.00" width="12.82" height="12.95" fill="#ffffcc"/>
<rect x="266.77" y="1758.00" width="12.82" height="12.95" fill="#fed976"/>
<rect x="278.60" y="1758.00" width="12.82" height="12.95" fill="#fd8b3c"/>
<rect x="290.42" y="1758.00" width="71.94" height="12.95" fill="#fed976"/>
<rect x="361.36" y="1758.00" width="12.82" height="12.95" fill="#fd8b3c"/>
<rect x="373.18" y="1758.00" width="36.47" height="12.95" fill="#fed976"/>
<rect x="408.65" y="1758.00" width="12.82" height="12.95" fill="#fd8b3c"/>
<rect x="420.48" y="1758.00" width="11.82" height="12.95" fill="#ffffcc"/>
<rect x="77.60" y="1769.95" width="24.65" height="12.95" fill="#ffffcc"/>
<rect x="101.25" y="1769.95" width="12.82" height="12.95" fill="#fed976"/>
<rect x="113.07" y="1769.95" width="12.82" height="12.95" fill="#e1181c"/>
<rect x="124.89" y="1769.95" width="12.82" height="12.95" fill="#ffffcc"/>
<rect x="136.72" y="1769.95" width="12.82" height="12.95" fill="#fd8b3c"/>
<rect x="148.54" y="1769.95" width="12.82" height="12.95" fill="#ffffcc"/>
<rect x="160.36" y="1769.95" width="60.12" height="12.95" fill="#fed976"/>
<rect x="219.48" y="1769.95" width="12.82" height="12.95" fill="#e1181c"/>
<rect x="231.30" y="1769.95" width="12.82" height="12.95" fill="#ffffcc"/>
<rect x="243.13" y="1769.95" width="60.12" height="12.95" fill="#fd8b3c"/>
<rect x="302.24" y="1769.95" width="12.82" height="12.95" fill="#fed976"/>
<rect x="314.07" y="1769.95" width="12.82" height="12.95" fill="#fd8b3c"/>
<rect x="325.89" y="1769.95" width="24.65" height="12.95" fill="#fed976"/>
<rect x="349.54" y="1769.95" width="12.82" height="12.95" fill="#ffffcc"/>
<rect x="361.36" y="1769.95" width="24.65" height="12.95" fill="#fd8b3c"/>
<rect x="385.01" y="1769.95" width="12.82" height="12.95" fill="#e1181c"/>
<rect x="396.83" y="1769.95" width="24.65" height="12.95" fill="#fed976"/>
<rect x="420.48" y="1769.95" width="11.82" height="12.95" fill="#ffffcc"/>
<rect x="77.60" y="1781.90" width="24.65" height="12.95" fill="#ffffcc"/>
<rect x="101.25" y="1781.90" width="12.82" height="12.95" fill="#fed976"/>
<rect x="113.07" y="1781.90" width="24.65" height="12.95" fill="#fd8b3c"/>
<rect x="136.72" y="1781.90" width="12.82" height="12.95" fill="#ffffcc"/>
<rect x="148.54" y="1781.90" width="12.82" height="12.95" fill="#e1181c"/>
<rect x="160.36" y="1781.90" width="12.82" height="12.95" fill="#fd8b3c"/>
<rect x="172.19" y="1781.90" width="48.29" height="12.95" fill="#fed976"/>
<rect x="219.48" y="1781.90" width="12.82" height="12.95" fill="#ffffcc"/>
<rect x="231.30" y="1781.90" width="24.65" height="12.95" fill="#fd8b3c"/>
<rect x="254.95" y="1781.90" width="12.82" height="12.95" fill="#ffffcc"/>
<rect x="266.77" y="1781.90" width="24.65" height="12.95" fill="#fed976"/>
<rect x="290.42" y="1781.90" width="12.82" height="12.95" fill="#fd8b3c"/>
<rect x="302.24" y="1781.90" width="12.82" height="12.95" fill="#fed976"/>
<rect x="314.07" y="1781.90" width="12.82" height="12.95" fill="#fd8b3c"/>
<rect x="325.89" y="1781.90" width="12.82" height="12.95" fill="#fed976"/>
<rect x="337.71" y="1781.90" width="24.65" height="12.95" fill="#fd8b3c"/>
<rect x="361.36" y="1781.90" width="12.82" height="12.95" fill="#fed976"/>
<rect x="373.18" y="1781.90" width="12.82" height="12.95" fill="#fd8b3c"/>
<rect x="385.01" y="1781.90" width="12.82" height="12.95" fill="#fed976"/>
<rect x="396.83" y="1781.90" width="35.47" height="12.95" fill="#ffffcc"/>
<rect x="77.60" y="1793.85" width="24.65" height="12.95" fill="#ffffcc"/>
<rect x="101.25" y="1793.85" width="12.82" height="12.95" fill="#fed976"/>
<rect x="113.07" y="1793.85" width="36.47" height="12.95" fill="#fd8b3c"/>
<rect x="148.54" y="1793.85" width="12.82" height="12.95" fill="#ffffcc"/>
<rect x="160.36" y="1793.85" width="12.82" height="12.95" fill="#fd8b3c"/>
<rect x="172.19" y="1793.85" width="12.82" height="12.95" fill="#fed976"/>
<rect x="184.01" y="1793.85" width="12.82" height="12.95" fill="#e1181c"/>
<rect x="195.83" y="1793.85" width="12.82" height="12.95" fill="#fed976"/>
<rect x="207.66" y="1793.85" width="12.82" height="12.95" fill="#e1181c"/>
<rect x="219.48" y="1793.85" width="12.82" height="12.95" fill="#fed976"/>
<rect x="231.30" y="1793.85" width="12.82" height="12.95" fill="#e1181c"/>
<rect x="243.13" y="1793.85" width="24.65" height="12.95" fill="#fed976"/>
<rect x="266.77" y="1793.85" width="24.65" height="12.95" fill="#fd8b3c"/>
<rect x="290.42" y="1793.85" width="12.82" height="12.95" fill="#ffffcc"/>
<rect x="302.24" y="1793.85" width="12.82" height="12.95" fill="#e1181c"/>
<rect x="314.07" y="1793.85" width="12.82" height="12.95" fill="#ffffcc"/>
<rect x="325.89" y="1793.85" width="12.82" height="12.95" fill="#fd8b3c"/>
<rect x="337.71" y="1793.85" width="24.65" height="12.95" fill="#fed976"/>
<rect x="361.36" y="1793.85" width="12.82" height="12.95" fill="#fd8b3c"/>
<rect x="373.18" y="1793.85" width="36.47" height="12.95" fill="#fed976"/>
<rect x="408.65" y="1793.85" width="23.65" height="12.95" fill="#ffffcc"/>
<rect x="77.60" y="1805.80" width="24.65" height="12.95" fill="#ffffcc"/>
<rect x="101.25" y="1805.80" width="12.82" height="12.95" fill="#fed976"/>
<rect x="113.07" y="1805.80" width="12.82" height="12.95" fill="#ffffcc"/>
<rect x="124.89" y="1805.80" width="24.65" height="12.95" fill="#fed976"/>
<rect x="148.54" y="1805.80" width="12.82" height="12.95" fill="#fd8b3c"/>
<rect x="160.36" y="1805.80" width="12.82" height="12.95" fill="#fed976"/>
<rect x="172.19" y="1805.80" width="12.82" height="12.95" fill="#fd8b3c"/>
<rect x="184.01" y="1805.80" width="12.82" height="12.95" fill="#fed976"/>
<rect x="195.83" y="1805.80" width="12.82" height="12.95" fill="#fd8b3c"/>
<rect x="207.66" y="1805.80" width="12.82" height="12.95" fill="#fed976"/>
<rect x="219.48" y="1805.80" width="24.65" height="12.95" fill="#fd8b3c"/>
<rect x="243.13" y="1805.80" width="12.82" height="12.95" fill="#fed976"/>
<rect x="254.95" y="1805.80" width="71.94" height="12.95" fill="#fd8b3c"/>
<rect x="325.89" y="1805.80" width="12.82" height="12.95" fill="#fed976"/>
<rect x="337.71" y="1805.80" width="12.82" height="12.95" fill="#fd8b3c"/>
<rect x="349.54" y="1805.80" width="36.47" height="12.95" fill="#fed976"/>
<rect x="385.01" y="1805.80" width="12.82" height="12.95" fill="#fd8b3c"/>
<rect x="396.83" y="1805.80" width="35.47" height="12.95" fill="#ffffcc"/>
<rect x="77.60" y="1817.75" width="48.29" height="12.95" fill="#ffffcc"/>
<rect x="124.89" y="1817.75" width="24.65" height="12.95" fill="#fed976"/>
<rect x="148.54" y="1817.75" width="12.82" height="12.95" fill="#ffffcc"/>
<rect x="160.36" y="1817.75" width="24.65" height="12.95" fill="#fd8b3c"/>
<rect x="184.01" y="1817.75" width="12.82" height="12.95" fill="#ffffcc"/>
<rect x="195.83" y="1817.75" width="12.82" height="12.95" fill="#fd8b3c"/>
<rect x="207.66" y="1817.75" width="24.65" height="12.95" fill="#ffffcc"/>
<rect x="231.30" y="1817.75" width="12.82" height="12.95" fill="#fd8b3c"/>
<rect x="243.13" y="1817.75" width="12.82" height="12.95" fill="#ffffcc"/>
<rect x="254.95" y="1817.75" width="12.82" height="12.95" fill="#fd8b3c"/>
<rect x="266.77" y="1817.75" width="12.82" height="12.95" fill="#fed976"/>
<rect x="278.60" y="1817.75" width="12.82" height="12.95" fill="#fd8b3c"/>
<rect x="290.42" y="1817.75" width="24.65" height="12.95" fill="#ffffcc"/>
<rect x="314.07" y="1817.75" width="12.82" height="12.95" fill="#fd8b3c"/>
<rect x="325.89" y="1817.75" width="12.82" height="12.95" fill="#fed976"/>
<rect x="337.71" y="1817.75" width="12.82" height="12.95" fill="#e1181c"/>
<rect x="349.54" y="1817.75" width="12.82" height="12.95" fill="#fd8b3c"/>
<rect x="361.36" y="1817.75" width="12.82" height="12.95" fill="#fed976"/>
<rect x="373.18" y="1817.75" width="12.82" height="12.95" fill="#fd8b3c"/>
<rect x="385.01" y="1817.75" width="47.29" height="12.95" fill="#ffffcc"/>
<rect x="77.60" y="1829.70" width="48.29" height="12.95" fill="#ffffcc"/>
<rect x="124.89" y="1829.70" width="24.65" height="12.95" fill="#fed976"/>
<rect x="148.54" y="1829.70" width="48.29" height="12.95" fill="#fd8b3c"/>
<rect x="195.83" y="1829.70" width="12.82" height="12.95" fill="#fed976"/>
<rect x="207.66" y="1829.70" width="24.65" height="12.95" fill="#fd8b3c"/>
<rect x="231.30" y="1829.70" width="24.65" height="12.95" fill="#fed976"/>
<rect x="254.95" y="1829.70" width="12.82" height="12.95" fill="#fd8b3c"/>
<rect x="266.77" y="1829.70" width="12.82" height="12.95" fill="#fed976"/>
<rect x="278.60" y="1829.70" width="12.82" height="12.95" fill="#ffffcc"/>
<rect x="290.42" y="1829.70" width="12.82" height="12.95" fill="#fd8b3c"/>
<rect x="302.24" y="1829.70" width="24.65" height="12.95" fill="#fed976"/>
<rect x="325.89" y="1829.70" width="12.82" height="12.95" fill="#ffffcc"/>
<rect x="337.71" y="1829.70" width="48.29" height="12.95" fill="#fed976"/>
<rect x="385.01" y="1829.70" width="47.29" height="12.95" fill="#ffffcc"/>
<rect x="77.60" y="1841.65" width="71.94" height="12.95" fill="#ffffcc"/>
<rect x="148.54" y="1841.65" width="12.82" height="12.95" fill="#fed976"/>
<rect x="160.36" y="1841.65" width="12.82" height="12.95" fill="#fd8b3c"/>
<rect x="172.19" y="1841.65" width="12.82" height="12.95" fill="#fed976"/>
<rect x="184.01" y="1841.65" width="12.82" height="12.95" fill="#ffffcc"/>
<rect x="195.83" y="1841.65" width="12.82" height="12.95" fill="#e1181c"/>
<rect x="207.66" y="1841.65" width="12.82" height="12.95" fill="#fd8b3c"/>
<rect x="219.48" y="1841.65" width="24.65" height="12.95" fill="#fed976"/>
<rect x="243.13" y="1841.65" width="24.65" height="12.95" fill="#fd8b3c"/>
<rect x="266.77" y="1841.65" width="12.82" height="12.95" fill="#fed976"/>
<rect x="278.60" y="1841.65" width="12.82" height="12.95" fill="#e1181c"/>
<rect x="290.42" y="1841.65" width="12.82" height="12.95" fill="#fed976"/>
<rect x="302.24" y="1841.65" width="12.82" height="12.95" fill="#e1181c"/>
<rect x="314.07" y="1841.65" width="12.82" height="12.95" fill="#fed976"/>
<rect x="325.89" y="1841.65" width="12.82" height="12.95" fill="#e1181c"/>
<rect x="337.71" y="1841.65" width="12.82" height="12.95" fill="#fd8b3c"/>
<rect x="349.54" y="1841.65" width="12.82" height="12.95" fill="#fed976"/>
<rect x="361.36" y="1841.65" width="70.94" height="12.95" fill="#ffffcc"/>
<rect x="77.60" y="1853.60" width="95.59" height="12.95" fill="#ffffcc"/>
<rect x="172.19" y="1853.60" width="12.82" height="12.95" fill="#fed976"/>
<rect x="184.01" y="1853.60" width="12.82" height="12.95" fill="#fd8b3c"/>
<rect x="195.83" y="1853.60" width="12.82" height="12.95" fill="#fed976"/>
<rect x="207.66" y="1853.60" width="12.82" height="12.95" fill="#ffffcc"/>
<rect x="219.48" y="1853.60" width="12.82" height="12.95" fill="#e1181c"/>
<rect x="231.30" y="1853.60" width="36.47" height="12.95" fill="#fed976"/>
<rect x="266.77" y="1853.60" width="12.82" height="12.95" fill="#fd8b3c"/>
<rect x="278.60" y="1853.60" width="12.82" height="12.95" fill="#ffffcc"/>
<rect x="290.42" y="1853.60" width="12.82" height="12.95" fill="#fed976"/>
<rect x="302.24" y="1853.60" width="12.82" height="12.95" fill="#fd8b3c"/>
<rect x="314.07" y="1853.60" width="12.82" height="12.95" fill="#ffffcc"/>
<rect x="325.89" y="1853.60" width="12.82" height="12.95" fill="#fed976"/>
<rect x="337.71" y="1853.60" width="94.59" height="12.95" fill="#ffffcc"/>
<rect x="77.60" y="1865.55" width="131.06" height="11.95" fill="#ffffcc"/>
<rect x="207.66" y="1865.55" width="12.82" height="11.95" fill="#fd8b3c"/>
<rect x="219.48" y="1865.55" width="12.82" height="11.95" fill="#fed976"/>
<rect x="231.30" y="1865.55" width="12.82" height="11.95" fill="#e1181c"/>
<rect x="243.13" y="1865.55" width="12.82" height="11.95" fill="#ffffcc"/>
<rect x="254.95" y="1865.55" width="12.82" height="11.95" fill="#fd8b3c"/>
<rect x="266.77" y="1865.55" width="12.82" height="11.95" fill="#fed976"/>
<rect x="278.60" y="1865.55" width="12.82" height="11.95" fill="#fd8b3c"/>
<rect x="290.42" y="1865.55" width="12.82" height="11.95" fill="#ffffcc"/>
<rect x="302.24" y="1865.55" width="24.65" height="11.95" fill="#fed976"/>
<rect x="325.89" y="1865.55" width="106.41" height="11.95" fill="#ffffcc"/>
<rect x="77.60" y="1519.00" width="354.70" height="358.50" fill="none" stroke="#000" stroke-width="5.3"/>
<line x1="89.00" y1="1877.50" x2="89.00" y2="1883.80" stroke="#000" stroke-width="1.6"/>
<text x="89.00" y="1903.20" font-size="18" text-anchor="middle" >−40</text>
<line x1="172.90" y1="1877.50" x2="172.90" y2="1883.80" stroke="#000" stroke-width="1.6"/>
<text x="172.90" y="1903.20" font-size="18" text-anchor="middle" >−20</text>
<line x1="256.80" y1="1877.50" x2="256.80" y2="1883.80" stroke="#000" stroke-width="1.6"/>
<text x="256.80" y="1903.20" font-size="18" text-anchor="middle" >0</text>
<line x1="340.70" y1="1877.50" x2="340.70" y2="1883.80" stroke="#000" stroke-width="1.6"/>
<text x="340.70" y="1903.20" font-size="18" text-anchor="middle" >20</text>
<line x1="424.60" y1="1877.50" x2="424.60" y2="1883.80" stroke="#000" stroke-width="1.6"/>
<text x="424.60" y="1903.20" font-size="18" text-anchor="middle" >40</text>
<line x1="77.60" y1="1530.10" x2="71.30" y2="1530.10" stroke="#000" stroke-width="1.6"/>
<text x="65.00" y="1536.70" font-size="18" text-anchor="end" >40</text>
<line x1="77.60" y1="1572.10" x2="71.30" y2="1572.10" stroke="#000" stroke-width="1.6"/>
<text x="65.00" y="1578.70" font-size="18" text-anchor="end" >30</text>
<line x1="77.60" y1="1614.10" x2="71.30" y2="1614.10" stroke="#000" stroke-width="1.6"/>
<text x="65.00" y="1620.70" font-size="18" text-anchor="end" >20</text>
<line x1="77.60" y1="1656.10" x2="71.30" y2="1656.10" stroke="#000" stroke-width="1.6"/>
<text x="65.00" y="1662.70" font-size="18" text-anchor="end" >10</text>
<line x1="77.60" y1="1698.10" x2="71.30" y2="1698.10" stroke="#000" stroke-width="1.6"/>
<text x="65.00" y="1704.70" font-size="18" text-anchor="end" >0</text>
<line x1="77.60" y1="1740.10" x2="71.30" y2="1740.10" stroke="#000" stroke-width="1.6"/>
<text x="65.00" y="1746.70" font-size="18" text-anchor="end" >−10</text>
<line x1="77.60" y1="1782.10" x2="71.30" y2="1782.10" stroke="#000" stroke-width="1.6"/>
<text x="65.00" y="1788.70" font-size="18" text-anchor="end" >−20</text>
<line x1="77.60" y1="1824.10" x2="71.30" y2="1824.10" stroke="#000" stroke-width="1.6"/>
<text x="65.00" y="1830.70" font-size="18" text-anchor="end" >−30</text>
<line x1="77.60" y1="1866.10" x2="71.30" y2="1866.10" stroke="#000" stroke-width="1.6"/>
<text x="65.00" y="1872.70" font-size="18" text-anchor="end" >−40</text>
<text x="254.95" y="1508.60" font-size="22.7" text-anchor="middle" >b=N, No. of matrices=1</text>
<text x="254.95" y="1931.30" font-size="22.7" text-anchor="middle" >Re z</text>
<text transform="translate(17.00,1697.65) rotate(-90)" font-size="22.7" text-anchor="middle" >Im z</text>
<rect x="454.80" y="1460.00" width="23.90" height="476.00" fill="url(#g)" stroke="#000" stroke-width="5.3"/>
<line x1="478.70" y1="1936.00" x2="485.00" y2="1936.00" stroke="#000" stroke-width="1.6"/>
<text x="491.30" y="1942.60" font-size="18" >0.0</text>
<line x1="478.70" y1="1876.50" x2="485.00" y2="1876.50" stroke="#000" stroke-width="1.6"/>
<text x="491.30" y="1883.10" font-size="18" >0.5</text>
<line x1="478.70" y1="1817.00" x2="485.00" y2="1817.00" stroke="#000" stroke-width="1.6"/>
<text x="491.30" y="1823.60" font-size="18" >1.0</text>
<line x1="478.70" y1="1757.50" x2="485.00" y2="1757.50" stroke="#000" stroke-width="1.6"/>
<text x="491.30" y="1764.10" font-size="18" >1.5</text>
<line x1="478.70" y1="1698.00" x2="485.00" y2="1698.00" stroke="#000" stroke-width="1.6"/>
<text x="491.30" y="1704.60" font-size="18" >2.0</text>
<line x1="478.70" y1="1638.50" x2="485.00" y2="1638.50" stroke="#000" stroke-width="1.6"/>
<text x="491.30" y="1645.10" font-size="18" >2.5</text>
<line x1="478.70" y1="1579.00" x2="485.00" y2="1579.00" stroke="#000" stroke-width="1.6"/>
<text x="491.30" y="1585.60" font-size="18" >3.0</text>
<line x1="478.70" y1="1519.50" x2="485.00" y2="1519.50" stroke="#000" stroke-width="1.6"/>
<text x="491.30" y="1526.10" font-size="18" >3.5</text>
<line x1="478.70" y1="1460.00" x2="485.00" y2="1460.00" stroke="#000" stroke-width="1.6"/>
<text x="491.30" y="1466.60" font-size="18" >4.0</text>
</g>
<g>
<rect x="610.20" y="1519.00" width="354.70" height="358.50" fill="#ffffcc"/>
<rect x="610.20" y="1519.00" width="119.23" height="12.95" fill="#ffffcc"/>
<rect x="728.43" y="1519.00" width="12.82" height="12.95" fill="#fed976"/>
<rect x="740.26" y="1519.00" width="12.82" height="12.95" fill="#ffeda0"/>
<rect x="752.08" y="1519.00" width="12.82" height="12.95" fill="#fed976"/>
<rect x="763.90" y="1519.00" width="12.82" height="12.95" fill="#feb24c"/>
<rect x="775.73" y="1519.00" width="12.82" height="12.95" fill="#e1181c"/>
<rect x="787.55" y="1519.00" width="12.82" height="12.95" fill="#feb24c"/>
<rect x="799.37" y="1519.00" width="12.82" height="12.95" fill="#fb4c2a"/>
<rect x="811.20" y="1519.00" width="24.65" height="12.95" fill="#feb24c"/>
<rect x="834.84" y="1519.00" width="12.82" height="12.95" fill="#fed976"/>
<rect x="846.67" y="1519.00" width="12.82" height="12.95" fill="#ffeda0"/>
<rect x="858.49" y="1519.00" width="106.41" height="12.95" fill="#ffffcc"/>
<rect x="610.20" y="1530.95" width="95.59" height="12.95" fill="#ffffcc"/>
<rect x="704.79" y="1530.95" width="12.82" height="12.95" fill="#ffeda0"/>
<rect x="716.61" y="1530.95" width="12.82" height="12.95" fill="#feb24c"/>
<rect x="728.43" y="1530.95" width="24.65" height="12.95" fill="#fb4c2a"/>
<rect x="752.08" y="1530.95" width="12.82" height="12.95" fill="#e1181c"/>
<rect x="763.90" y="1530.95" width="12.82" height="12.95" fill="#fd8b3c"/>
<rect x="775.73" y="1530.95" width="12.82" height="12.95" fill="#fed976"/>
<rect x="787.55" y="1530.95" width="12.82" height="12.95" fill="#fb4c2a"/>
<rect x="799.37" y="1530.95" width="12.82" height="12.95" fill="#e1181c"/>
<rect x="811.20" y="1530.95" width="12.82" height="12.95" fill="#fb4c2a"/>
<rect x="823.02" y="1530.95" width="12.82" height="12.95" fill="#fed976"/>
<rect x="834.84" y="1530.95" width="12.82" height="12.95" fill="#fb4c2a"/>
<rect x="846.67" y="1530.95" width="12.82" height="12.95" fill="#feb24c"/>
<rect x="858.49" y="1530.95" width="12.82" height="12.95" fill="#ffeda0"/>
<rect x="870.31" y="1530.95" width="94.59" height="12.95" fill="#ffffcc"/>
<rect x="610.20" y="1542.90" width="71.94" height="12.95" fill="#ffffcc"/>
<rect x="681.14" y="1542.90" width="12.82" height="12.95" fill="#fed976"/>
<rect x="692.96" y="1542.90" width="12.82" height="12.95" fill="#feb24c"/>
<rect x="704.79" y="1542.90" width="12.82" height="12.95" fill="#fb4c2a"/>
<rect x="716.61" y="1542.90" width="12.82" height="12.95" fill="#feb24c"/>
<rect x="728.43" y="1542.90" width="12.82" height="12.95" fill="#e1181c"/>
<rect x="740.26" y="1542.90" width="12.82" height="12.95" fill="#fb4c2a"/>
<rect x="752.08" y="1542.90" width="24.65" height="12.95" fill="#fd8b3c"/>
<rect x="775.73" y="1542.90" width="12.82" height="12.95" fill="#feb24c"/>
<rect x="787.55" y="1542.90" width="12.82" height="12.95" fill="#fb4c2a"/>
<rect x="799.37" y="1542.90" width="12.82" height="12.95" fill="#fd8b3c"/>
<rect x="811.20" y="1542.90" width="12.82" height="12.95" fill="#e1181c"/>
<rect x="823.02" y="1542.90" width="24.65" height="12.95" fill="#fd8b3c"/>
<rect x="846.67" y="1542.90" width="12.82" height="12.95" fill="#feb24c"/>
<rect x="858.49" y="1542.90" width="12.82" height="12.95" fill="#fd8b3c"/>
<rect x="870.31" y="1542.90" width="12.82" height="12.95" fill="#feb24c"/>
<rect x="882.14" y="1542.90" width="12.82" height="12.95" fill="#fed976"/>
<rect x="893.96" y="1542.90" width="70.94" height="12.95" fill="#ffffcc"/>
<rect x="610.20" y="1554.85" width="60.12" height="12.95" fill="#ffffcc"/>
<rect x="669.32" y="1554.85" width="12.82" height="12.95" fill="#fed976"/>
<rect x="681.14" y="1554.85" width="24.65" height="12.95" fill="#fb4c2a"/>
<rect x="704.79" y="1554.85" width="12.82" height="12.95" fill="#fed976"/>
<rect x="716.61" y="1554.85" width="12.82" height="12.95" fill="#fd8b3c"/>
<rect x="728.43" y="1554.85" width="12.82" height="12.95" fill="#e1181c"/>
<rect x="740.26" y="1554.85" width="24.65" height="12.95" fill="#fd8b3c"/>
<rect x="763.90" y="1554.85" width="12.82" height="12.95" fill="#feb24c"/>
<rect x="775.73" y="1554.85" width="12.82" height="12.95" fill="#fd8b3c"/>
<rect x="787.55" y="1554.85" width="12.82" height="12.95" fill="#fb4c2a"/>
<rect x="799.37" y="1554.85" width="12.82" height="12.95" fill="#feb24c"/>
<rect x="811.20" y="1554.85" width="12.82" height="12.95" fill="#fd8b3c"/>
<rect x="823.02" y="1554.85" width="12.82" height="12.95" fill="#fb4c2a"/>
<rect x="834.84" y="1554.85" width="12.82" height="12.95" fill="#feb24c"/>
<rect x="846.67" y="1554.85" width="24.65" height="12.95" fill="#e1181c"/>
<rect x="870.31" y="1554.85" width="12.82" height="12.95" fill="#feb24c"/>
<rect x="882.14" y="1554.85" width="12.82" height="12.95" fill="#fb4c2a"/>
<rect x="893.96" y="1554.85" width="24.65" height="12.95" fill="#ffeda0"/>
<rect x="917.61" y="1554.85" width="47.29" height="12.95" fill="#ffffcc"/>
<rect x="610.20" y="1566.80" width="48.29" height="12.95" fill="#ffffcc"/>
<rect x="657.49" y="1566.80" width="12.82" height="12.95" fill="#ffeda0"/>
<rect x="669.32" y="1566.80" width="12.82" height="12.95" fill="#fd8b3c"/>
<rect x="681.14" y="1566.80" width="24.65" height="12.95" fill="#fb4c2a"/>
<rect x="704.79" y="1566.80" width="36.47" height="12.95" fill="#fd8b3c"/>
<rect x="740.26" y="1566.80" width="12.82" height="12.95" fill="#feb24c"/>
<rect x="752.08" y="1566.80" width="12.82" height="12.95" fill="#fd8b3c"/>
<rect x="763.90" y="1566.80" width="12.82" height="12.95" fill="#e1181c"/>
<rect x="775.73" y="1566.80" width="12.82" height="12.95" fill="#b90026"/>
<rect x="787.55" y="1566.80" width="12.82" height="12.95" fill="#feb24c"/>
<rect x="799.37" y="1566.80" width="12.82" height="12.95" fill="#fed976"/>
<rect x="811.20" y="1566.80" width="12.82" height="12.95" fill="#fb4c2a"/>
<rect x="823.02" y="1566.80" width="12.82" height="12.95" fill="#fd8b3c"/>
<rect x="834.84" y="1566.80" width="12.82" height="12.95" fill="#e1181c"/>
<rect x="846.67" y="1566.80" width="12.82" height="12.95" fill="#fb4c2a"/>
<rect x="858.49" y="1566.80" width="12.82" height="12.95" fill="#fd8b3c"/>
<rect x="870.31" y="1566.80" width="24.65" height="12.95" fill="#fb4c2a"/>
<rect x="893.96" y="1566.80" width="12.82" height="12.95" fill="#e1181c"/>
<rect x="905.78" y="1566.80" width="12.82" height="12.95" fill="#fd8b3c"/>
<rect x="917.61" y="1566.80" width="47.29" height="12.95" fill="#ffffcc"/>
<rect x="610.20" y="1578.75" width="36.47" height="12.95" fill="#ffffcc"/>
<rect x="645.67" y="1578.75" width="12.82" height="12.95" fill="#fed976"/>
<rect x="657.49" y="1578.75" width="12.82" height="12.95" fill="#fb4c2a"/>
<rect x="669.32" y="1578.75" width="12.82" height="12.95" fill="#e1181c"/>
<rect x="681.14" y="1578.75" width="12.82" height="12.95" fill="#fed976"/>
<rect x="692.96" y="1578.75" width="12.82" height="12.95" fill="#fd8b3c"/>
<rect x="704.79" y="1578.75" width="24.65" height="12.95" fill="#e1181c"/>
<rect x="728.43" y="1578.75" width="12.82" height="12.95" fill="#fd8b3c"/>
<rect x="740.26" y="1578.75" width="12.82" height="12.95" fill="#feb24c"/>
<rect x="752.08" y="1578.75" width="12.82" height="12.95" fill="#e1181c"/>
<rect x="763.90" y="1578.75" width="24.65" height="12.95" fill="#fd8b3c"/>
<rect x="787.55" y="1578.75" width="24.65" height="12.95" fill="#fb4c2a"/>
<rect x="811.20" y="1578.75" width="12.82" height="12.95" fill="#e1181c"/>
<rect x="823.02" y="1578.75" width="12.82" height="12.95" fill="#fed976"/>
<rect x="834.84" y="1578.75" width="12.82" height="12.95" fill="#feb24c"/>
<rect x="846.67" y="1578.75" width="24.65" height="12.95" fill="#fd8b3c"/>
<rect x="870.31" y="1578.75" width="24.65" height="12.95" fill="#feb24c"/>
<rect x="893.96" y="1578.75" width="12.82" height="12.95" fill="#e1181c"/>
<rect x="905.78" y="1578.75" width="24.65" height="12.95" fill="#feb24c"/>
<rect x="929.43" y="1578.75" width="35.47" height="12.95" fill="#ffffcc"/>
<rect x="610.20" y="1590.70" width="36.47" height="12.95" fill="#ffffcc"/>
<rect x="645.67" y="1590.70" width="24.65" height="12.95" fill="#e1181c"/>
<rect x="669.32" y="1590.70" width="12.82" height="12.95" fill="#feb24c"/>
<rect x="681.14" y="1590.70" width="12.82" height="12.95" fill="#e1181c"/>
<rect x="692.96" y="1590.70" width="12.82" height="12.95" fill="#fb4c2a"/>
<rect x="704.79" y="1590.70" width="12.82" height="12.95" fill="#fd8b3c"/>
<rect x="716.61" y="1590.70" width="12.82" height="12.95" fill="#fed976"/>
<rect x="728.43" y="1590.70" width="12.82" height="12.95" fill="#fb4c2a"/>
<rect x="740.26" y="1590.70" width="12.82" height="12.95" fill="#fd8b3c"/>
<rect x="752.08" y="1590.70" width="12.82" height="12.95" fill="#feb24c"/>
<rect x="763.90" y="1590.70" width="12.82" height="12.95" fill="#fb4c2a"/>
<rect x="775.73" y="1590.70" width="12.82" height="12.95" fill="#fd8b3c"/>
<rect x="787.55" y="1590.70" width="12.82" height="12.95" fill="#feb24c"/>
<rect x="799.37" y="1590.70" width="12.82" height="12.95" fill="#fb4c2a"/>
<rect x="811.20" y="1590.70" width="12.82" height="12.95" fill="#fed976"/>
<rect x="823.02" y="1590.70" width="12.82" height="12.95" fill="#feb24c"/>
<rect x="834.84" y="1590.70" width="24.65" height="12.95" fill="#fb4c2a"/>
<rect x="858.49" y="1590.70" width="12.82" height="12.95" fill="#b90026"/>
<rect x="870.31" y="1590.70" width="12.82" height="12.95" fill="#fd8b3c"/>
<rect x="882.14" y="1590.70" width="12.82" height="12.95" fill="#fb4c2a"/>
<rect x="893.96" y="1590.70" width="24.65" height="12.95" fill="#fd8b3c"/>
<rect x="917.61" y="1590.70" width="12.82" height="12.95" fill="#b90026"/>
<rect x="929.43" y="1590.70" width="12.82" height="12.95" fill="#ffeda0"/>
<rect x="941.25" y="1590.70" width="23.65" height="12.95" fill="#ffffcc"/>
<rect x="610.20" y="1602.65" width="12.82" height="12.95" fill="#ffffcc"/>
<rect x="622.02" y="1602.65" width="12.82" height="12.95" fill="#ffeda0"/>
<rect x="633.85" y="1602.65" width="36.47" height="12.95" fill="#feb24c"/>
<rect x="669.32" y="1602.65" width="48.29" height="12.95" fill="#fb4c2a"/>
<rect x="716.61" y="1602.65" width="12.82" height="12.95" fill="#fd8b3c"/>
<rect x="728.43" y="1602.65" width="36.47" height="12.95" fill="#fb4c2a"/>
<rect x="763.90" y="1602.65" width="12.82" height="12.95" fill="#fd8b3c"/>
<rect x="775.73" y="1602.65" width="12.82" height="12.95" fill="#e1181c"/>
<rect x="787.55" y="1602.65" width="12.82" height="12.95" fill="#fb4c2a"/>
<rect x="799.37" y="1602.65" width="12.82" height="12.95" fill="#feb24c"/>
<rect x="811.20" y="1602.65" width="12.82" height="12.95" fill="#fb4c2a"/>
<rect x="823.02" y="1602.65" width="12.82" height="12.95" fill="#800026"/>
<rect x="834.84" y="1602.65" width="12.82" height="12.95" fill="#fed976"/>
<rect x="846.67" y="1602.65" width="12.82" height="12.95" fill="#fd8b3c"/>
<rect x="858.49" y="1602.65" width="12.82" height="12.95" fill="#feb24c"/>
<rect x="870.31" y="1602.65" width="12.82" height="12.95" fill="#fb4c2a"/>
<rect x="882.14" y="1602.65" width="12.82" height="12.95" fill="#e1181c"/>
<rect x="893.96" y="1602.65" width="12.82" height="12.95" fill="#feb24c"/>
<rect x="905.78" y="1602.65" width="12.82" height="12.95" fill="#e1181c"/>
<rect x="917.61" y="1602.65" width="24.65" height="12.95" fill="#fd8b3c"/>
<rect x="941.25" y="1602.65" width="12.82" height="12.95" fill="#ffeda0"/>
<rect x="953.08" y="1602.65" width="11.82" height="12.95" fill="#ffffcc"/>
<rect x="610.20" y="1614.60" width="12.82" height="12.95" fill="#ffffcc"/>
<rect x="622.02" y="1614.60" width="12.82" height="12.95" fill="#feb24c"/>
<rect x="633.85" y="1614.60" width="12.82" height="12.95" fill="#e1181c"/>
<rect x="645.67" y="1614.60" width="12.82" height="12.95" fill="#feb24c"/>
<rect x="657.49" y="1614.60" width="12.82" height="12.95" fill="#e1181c"/>
<rect x="669.32" y="1614.60" width="12.82" height="12.95" fill="#fd8b3c"/>
<rect x="681.14" y="1614.60" width="12.82" height="12.95" fill="#ffeda0"/>
<rect x="692.96" y="1614.60" width="12.82" height="12.95" fill="#feb24c"/>
<rect x="704.79" y="1614.60" width="12.82" height="12.95" fill="#fd8b3c"/>
<rect x="716.61" y="1614.60" width="12.82" height="12.95" fill="#fed976"/>
<rect x="728.43" y="1614.60" width="12.82" height="12.95" fill="#b90026"/>
<rect x="740.26" y="1614.60" width="12.82" height="12.95" fill="#fd8b3c"/>
<rect x="752.08" y="1614.60" width="24.65" height="12.95" fill="#fb4c2a"/>
<rect x="775.73" y="1614.60" width="12.82" height="12.95" fill="#feb24c"/>
<rect x="787.55" y="1614.60" width="24.65" height="12.95" fill="#fb4c2a"/>
<rect x="811.20" y="1614.60" width="12.82" height="12.95" fill="#feb24c"/>
<rect x="823.02" y="1614.60" width="12.82" height="12.95" fill="#b90026"/>
<rect x="834.84" y="1614.60" width="12.82" height="12.95" fill="#feb24c"/>
<rect x="846.67" y="1614.60" width="12.82" height="12.95" fill="#fd8b3c"/>
<rect x="858.49" y="1614.60" width="12.82" height="12.95" fill="#feb24c"/>
<rect x="870.31" y="1614.60" width="24.65" height="12.95" fill="#fed976"/>
<rect x="893.96" y="1614.60" width="12.82" height="12.95" fill="#fd8b3c"/>
<rect x="905.78" y="1614.60" width="12.82" height="12.95" fill="#e1181c"/>
<rect x="917.61" y="1614.60" width="12.82" height="12.95" fill="#feb24c"/>
<rect x="929.43" y="1614.60" width="12.82" height="12.95" fill="#e1181c"/>
<rect x="941.25" y="1614.60" width="12.82" height="12.95" fill="#feb24c"/>
<rect x="953.08" y="1614.60" width="11.82" height="12.95" fill="#ffffcc"/>
<rect x="610.20" y="1626.55" width="12.82" height="12.95" fill="#ffffcc"/>
<rect x="622.02" y="1626.55" width="24.65" height="12.95" fill="#feb24c"/>
<rect x="645.67" y="1626.55" width="12.82" height="12.95" fill="#e1181c"/>
<rect x="657.49" y="1626.55" width="12.82" height="12.95" fill="#feb24c"/>
<rect x="669.32" y="1626.55" width="12.82" height="12.95" fill="#fd8b3c"/>
<rect x="681.14" y="1626.55" width="12.82" height="12.95" fill="#feb24c"/>
<rect x="692.96" y="1626.55" width="12.82" height="12.95" fill="#800026"/>
<rect x="704.79" y="1626.55" width="12.82" height="12.95" fill="#fed976"/>
<rect x="716.61" y="1626.55" width="12.82" height="12.95" fill="#b90026"/>
<rect x="728.43" y="1626.55" width="12.82" height="12.95" fill="#fed976"/>
<rect x="740.26" y="1626.55" width="12.82" height="12.95" fill="#feb24c"/>
<rect x="752.08" y="1626.55" width="12.82" height="12.95" fill="#fb4c2a"/>
<rect x="763.90" y="1626.55" width="12.82" height="12.95" fill="#fed976"/>
<rect x="775.73" y="1626.55" width="12.82" height="12.95" fill="#fb4c2a"/>
<rect x="787.55" y="1626.55" width="12.82" height="12.95" fill="#b90026"/>
<rect x="799.37" y="1626.55" width="12.82" height="12.95" fill="#e1181c"/>
<rect x="811.20" y="1626.55" width="12.82" height="12.95" fill="#feb24c"/>
<rect x="823.02" y="1626.55" width="12.82" height="12.95" fill="#fb4c2a"/>
<rect x="834.84" y="1626.55" width="12.82" height="12.95" fill="#fed976"/>
<rect x="846.67" y="1626.55" width="12.82" height="12.95" fill="#fb4c2a"/>
<rect x="858.49" y="1626.55" width="12.82" height="12.95" fill="#b90026"/>
<rect x="870.31" y="1626.55" width="12.82" height="12.95" fill="#fb4c2a"/>
<rect x="882.14" y="1626.55" width="12.82" height="12.95" fill="#e1181c"/>
<rect x="893.96" y="1626.55" width="24.65" height="12.95" fill="#fd8b3c"/>
<rect x="917.61" y="1626.55" width="12.82" height="12.95" fill="#ffeda0"/>
<rect x="929.43" y="1626.55" width="12.82" height="12.95" fill="#b90026"/>
<rect x="941.25" y="1626.55" width="12.82" height="12.95" fill="#feb24c"/>
<rect x="953.08" y="1626.55" width="11.82" height="12.95" fill="#ffeda0"/>
<rect x="610.20" y="1638.50" width="24.65" height="12.95" fill="#ffeda0"/>
<rect x="633.85" y="1638.50" width="12.82" height="12.95" fill="#fb4c2a"/>
<rect x="645.67" y="1638.50" width="12.82" height="12.95" fill="#fd8b3c"/>
<rect x="657.49" y="1638.50" width="12.82" height="12.95" fill="#fb4c2a"/>
<rect x="669.32" y="1638.50" width="12.82" height="12.95" fill="#feb24c"/>
<rect x="681.14" y="1638.50" width="12.82" height="12.95" fill="#fb4c2a"/>
<rect x="692.96" y="1638.50" width="12.82" height="12.95" fill="#fed976"/>
<rect x="704.79" y="1638.50" width="24.65" height="12.95" fill="#fd8b3c"/>
<rect x="728.43" y="1638.50" width="12.82" height="12.95" fill="#e1181c"/>
<rect x="740.26" y="1638.50" width="12.82" height="12.95" fill="#fb4c2a"/>
<rect x="752.08" y="1638.50" width="12.82" height="12.95" fill="#fd8b3c"/>
<rect x="763.90" y="1638.50" width="36.47" height="12.95" fill="#feb24c"/>
<rect x="799.37" y="1638.50" width="12.82" height="12.95" fill="#e1181c"/>
<rect x="811.20" y="1638.50" width="12.82" height="12.95" fill="#feb24c"/>
<rect x="823.02" y="1638.50" width="24.65" height="12.95" fill="#fb4c2a"/>
<rect x="846.67" y="1638.50" width="24.65" height="12.95" fill="#e1181c"/>
<rect x="870.31" y="1638.50" width="12.82" height="12.95" fill="#fb4c2a"/>
<rect x="882.14" y="1638.50" width="12.82" height="12.95" fill="#fed976"/>
<rect x="893.96" y="1638.50" width="12.82" height="12.95" fill="#e1181c"/>
<rect x="905.78" y="1638.50" width="12.82" height="12.95" fill="#fd8b3c"/>
<rect x="917.61" y="1638.50" width="12.82" height="12.95" fill="#fb4c2a"/>
<rect x="929.43" y="1638.50" width="24.65" height="12.95" fill="#feb24c"/>
<rect x="953.08" y="1638.50" width="11.82" height="12.95" fill="#fd8b3c"/>
<rect x="610.20" y="1650.45" width="12.82" height="12.95" fill="#fed976"/>
<rect x="622.02" y="1650.45" width="60.12" height="12.95" fill="#fb4c2a"/>
<rect x="681.14" y="1650.45" width="12.82" height="12.95" fill="#feb24c"/>
<rect x="692.96" y="1650.45" width="12.82" height="12.95" fill="#b90026"/>
<rect x="704.79" y="1650.45" width="12.82" height="12.95" fill="#fed976"/>
<rect x="716.61" y="1650.45" width="12.82" height="12.95" fill="#b90026"/>
<rect x="728.43" y="1650.45" width="12.82" height="12.95" fill="#feb24c"/>
<rect x="740.26" y="1650.45" width="24.65" height="12.95" fill="#fb4c2a"/>
<rect x="763.90" y="1650.45" width="12.82" height="12.95" fill="#feb24c"/>
<rect x="775.73" y="1650.45" width="12.82" height="12.95" fill="#fd8b3c"/>
<rect x="787.55" y="1650.45" width="12.82" height="12.95" fill="#fed976"/>
<rect x="799.37" y="1650.45" width="12.82" height="12.95" fill="#fb4c2a"/>
<rect x="811.20" y="1650.45" width="12.82" height="12.95" fill="#e1181c"/>
<rect x="823.02" y="1650.45" width="48.29" height="12.95" fill="#fb4c2a"/>
<rect x="870.31" y="1650.45" width="12.82" height="12.95" fill="#e1181c"/>
<rect x="882.14" y="1650.45" width="12.82" height="12.95" fill="#feb24c"/>
<rect x="893.96" y="1650.45" width="12.82" height="12.95" fill="#fb4c2a"/>
<rect x="905.78" y="1650.45" width="12.82" height="12.95" fill="#feb24c"/>
<rect x="917.61" y="1650.45" width="12.82" height="12.95" fill="#b90026"/>
<rect x="929.43" y="1650.45" width="12.82" height="12.95" fill="#e1181c"/>
<rect x="941.25" y="1650.45" width="12.82" height="12.95" fill="#fb4c2a"/>
<rect x="953.08" y="1650.45" width="11.82" height="12.95" fill="#feb24c"/>
<rect x="610.20" y="1662.40" width="12.82" height="12.95" fill="#ffeda0"/>
<rect x="622.02" y="1662.40" width="24.65" height="12.95" fill="#e1181c"/>
<rect x="645.67" y="1662.40" width="12.82" height="12.95" fill="#fed976"/>
<rect x="657.49" y="1662.40" width="12.82" height="12.95" fill="#fb4c2a"/>
<rect x="669.32" y="1662.40" width="24.65" height="12.95" fill="#fd8b3c"/>
<rect x="692.96" y="1662.40" width="12.82" height="12.95" fill="#fb4c2a"/>
<rect x="704.79" y="1662.40" width="12.82" height="12.95" fill="#feb24c"/>
<rect x="716.61" y="1662.40" width="12.82" height="12.95" fill="#fb4c2a"/>
<rect x="728.43" y="1662.40" width="12.82" height="12.95" fill="#fd8b3c"/>
<rect x="740.26" y="1662.40" width="12.82" height="12.95" fill="#e1181c"/>
<rect x="752.08" y="1662.40" width="12.82" height="12.95" fill="#fd8b3c"/>
<rect x="763.90" y="1662.40" width="12.82" height="12.95" fill="#800026"/>
<rect x="775.73" y="1662.40" width="12.82" height="12.95" fill="#fb4c2a"/>
<rect x="787.55" y="1662.40" width="12.82" height="12.95" fill="#fd8b3c"/>
<rect x="799.37" y="1662.40" width="12.82" height="12.95" fill="#fb4c2a"/>
<rect x="811.20" y="1662.40" width="12.82" height="12.95" fill="#fd8b3c"/>
<rect x="823.02" y="1662.40" width="12.82" height="12.95" fill="#fb4c2a"/>
<rect x="834.84" y="1662.40" width="12.82" height="12.95" fill="#fed976"/>
<rect x="846.67" y="1662.40" width="12.82" height="12.95" fill="#feb24c"/>
<rect x="858.49" y="1662.40" width="12.82" height="12.95" fill="#e1181c"/>
<rect x="870.31" y="1662.40" width="12.82" height="12.95" fill="#fed976"/>
<rect x="882.14" y="1662.40" width="12.82" height="12.95" fill="#e1181c"/>
<rect x="893.96" y="1662.40" width="12.82" height="12.95" fill="#fb4c2a"/>
<rect x="905.78" y="1662.40" width="12.82" height="12.95" fill="#fd8b3c"/>
<rect x="917.61" y="1662.40" width="12.82" height="12.95" fill="#fed976"/>
<rect x="929.43" y="1662.40" width="12.82" height="12.95" fill="#feb24c"/>
<rect x="941.25" y="1662.40" width="12.82" height="12.95" fill="#fed976"/>
<rect x="953.08" y="1662.40" width="11.82" height="12.95" fill="#fd8b3c"/>
<rect x="610.20" y="1674.35" width="12.82" height="12.95" fill="#fb4c2a"/>
<rect x="622.02" y="1674.35" width="12.82" height="12.95" fill="#fed976"/>
<rect x="633.85" y="1674.35" width="12.82" height="12.95" fill="#fb4c2a"/>
<rect x="645.67" y="1674.35" width="12.82" height="12.95" fill="#fd8b3c"/>
<rect x="657.49" y="1674.35" width="12.82" height="12.95" fill="#e1181c"/>
<rect x="669.32" y="1674.35" width="12.82" height="12.95" fill="#fd8b3c"/>
<rect x="681.14" y="1674.35" width="12.82" height="12.95" fill="#b90026"/>
<rect x="692.96" y="1674.35" width="24.65" height="12.95" fill="#fb4c2a"/>
<rect x="716.61" y="1674.35" width="12.82" height="12.95" fill="#b90026"/>
<rect x="728.43" y="1674.35" width="12.82" height="12.95" fill="#fed976"/>
<rect x="740.26" y="1674.35" width="12.82" height="12.95" fill="#fb4c2a"/>
<rect x="752.08" y="1674.35" width="12.82" height="12.95" fill="#fed976"/>
<rect x="763.90" y="1674.35" width="24.65" height="12.95" fill="#fd8b3c"/>
<rect x="787.55" y="1674.35" width="12.82" height="12.95" fill="#fb4c2a"/>
<rect x="799.37" y="1674.35" width="12.82" height="12.95" fill="#feb24c"/>
<rect x="811.20" y="1674.35" width="12.82" height="12.95" fill="#fd8b3c"/>
<rect x="823.02" y="1674.35" width="12.82" height="12.95" fill="#fed976"/>
<rect x="834.84" y="1674.35" width="12.82" height="12.95" fill="#fd8b3c"/>
<rect x="846.67" y="1674.35" width="24.65" height="12.95" fill="#fb4c2a"/>
<rect x="870.31" y="1674.35" width="36.47" height="12.95" fill="#fd8b3c"/>
<rect x="905.78" y="1674.35" width="12.82" height="12.95" fill="#fb4c2a"/>
<rect x="917.61" y="1674.35" width="12.82" height="12.95" fill="#e1181c"/>
<rect x="929.43" y="1674.35" width="24.65" height="12.95" fill="#fd8b3c"/>
<rect x="953.08" y="1674.35" width="11.82" height="12.95" fill="#fb4c2a"/>
<rect x="610.20" y="1686.30" width="12.82" height="12.95" fill="#fb4c2a"/>
<rect x="622.02" y="1686.30" width="12.82" height="12.95" fill="#fd8b3c"/>
<rect x="633.85" y="1686.30" width="12.82" height="12.95" fill="#fed976"/>
<rect x="645.67" y="1686.30" width="12.82" height="12.95" fill="#fb4c2a"/>
<rect x="657.49" y="1686.30" width="12.82" height="12.95" fill="#fd8b3c"/>
<rect x="669.32" y="1686.30" width="12.82" height="12.95" fill="#b90026"/>
<rect x="681.14" y="1686.30" width="12.82" height="12.95" fill="#fed976"/>
<rect x="692.96" y="1686.30" width="36.47" height="12.95" fill="#fd8b3c"/>
<rect x="728.43" y="1686.30" width="12.82" height="12.95" fill="#fb4c2a"/>
<rect x="740.26" y="1686.30" width="12.82" height="12.95" fill="#fd8b3c"/>
<rect x="752.08" y="1686.30" width="12.82" height="12.95" fill="#fb4c2a"/>
<rect x="763.90" y="1686.30" width="12.82" height="12.95" fill="#fd8b3c"/>
<rect x="775.73" y="1686.30" width="12.82" height="12.95" fill="#b90026"/>
<rect x="787.55" y="1686.30" width="12.82" height="12.95" fill="#feb24c"/>
<rect x="799.37" y="1686.30" width="24.65" height="12.95" fill="#e1181c"/>
<rect x="823.02" y="1686.30" width="36.47" height="12.95" fill="#fb4c2a"/>
<rect x="858.49" y="1686.30" width="36.47" height="12.95" fill="#fd8b3c"/>
<rect x="893.96" y="1686.30" width="24.65" height="12.95" fill="#fb4c2a"/>
<rect x="917.61" y="1686.30" width="36.47" height="12.95" fill="#fd8b3c"/>
<rect x="953.08" y="1686.30" width="11.82" height="12.95" fill="#e1181c"/>
<rect x="610.20" y="1698.25" width="12.82" height="12.95" fill="#e1181c"/>
<rect x="622.02" y="1698.25" width="12.82" height="12.95" fill="#fd8b3c"/>
<rect x="633.85" y="1698.25" width="12.82" height="12.95" fill="#feb24c"/>
<rect x="645.67" y="1698.25" width="12.82" height="12.95" fill="#e1181c"/>
<rect x="657.49" y="1698.25" width="24.65" height="12.95" fill="#fd8b3c"/>
<rect x="681.14" y="1698.25" width="12.82" height="12.95" fill="#b90026"/>
<rect x="692.96" y="1698.25" width="12.82" height="12.95" fill="#fed976"/>
<rect x="704.79" y="1698.25" width="12.82" height="12.95" fill="#fd8b3c"/>
<rect x="716.61" y="1698.25" width="12.82" height="12.95" fill="#b90026"/>
<rect x="728.43" y="1698.25" width="12.82" height="12.95" fill="#feb24c"/>
<rect x="740.26" y="1698.25" width="36.47" height="12.95" fill="#fd8b3c"/>
<rect x="775.73" y="1698.25" width="12.82" height="12.95" fill="#fb4c2a"/>
<rect x="787.55" y="1698.25" width="12.82" height="12.95" fill="#fed976"/>
<rect x="799.37" y="1698.25" width="12.82" height="12.95" fill="#e1181c"/>
<rect x="811.20" y="1698.25" width="24.65" height="12.95" fill="#feb24c"/>
<rect x="834.84" y="1698.25" width="24.65" height="12.95" fill="#e1181c"/>
<rect x="858.49" y="1698.25" width="24.65" height="12.95" fill="#fd8b3c"/>
<rect x="882.14" y="1698.25" width="12.82" height="12.95" fill="#e1181c"/>
<rect x="893.96" y="1698.25" width="24.65" height="12.95" fill="#fb4c2a"/>
<rect x="917.61" y="1698.25" width="12.82" height="12.95" fill="#fd8b3c"/>
<rect x="929.43" y="1698.25" width="12.82" height="12.95" fill="#b90026"/>
<rect x="941.25" y="1698.25" width="23.65" height="12.95" fill="#fb4c2a"/>
<rect x="610.20" y="1710.20" width="24.65" height="12.95" fill="#feb24c"/>
<rect x="633.85" y="1710.20" width="12.82" height="12.95" fill="#b90026"/>
<rect x="645.67" y="1710.20" width="12.82" height="12.95" fill="#fed976"/>
<rect x="657.49" y="1710.20" width="12.82" height="12.95" fill="#e1181c"/>
<rect x="669.32" y="1710.20" width="12.82" height="12.95" fill="#fed976"/>
<rect x="681.14" y="1710.20" width="12.82" height="12.95" fill="#feb24c"/>
<rect x="692.96" y="1710.20" width="12.82" height="12.95" fill="#fb4c2a"/>
<rect x="704.79" y="1710.20" width="24.65" height="12.95" fill="#fd8b3c"/>
<rect x="728.43" y="1710.20" width="12.82" height="12.95" fill="#feb24c"/>
<rect x="740.26" y="1710.20" width="12.82" height="12.95" fill="#e1181c"/>
<rect x="752.08" y="1710.20" width="12.82" height="12.95" fill="#fd8b3c"/>
<rect x="763.90" y="1710.20" width="12.82" height="12.95" fill="#800026"/>
<rect x="775.73" y="1710.20" width="24.65" height="12.95" fill="#fd8b3c"/>
<rect x="799.37" y="1710.20" width="24.65" height="12.95" fill="#fb4c2a"/>
<rect x="823.02" y="1710.20" width="12.82" height="12.95" fill="#e1181c"/>
<rect x="834.84" y="1710.20" width="24.65" height="12.95" fill="#feb24c"/>
<rect x="858.49" y="1710.20" width="12.82" height="12.95" fill="#fb4c2a"/>
<rect x="870.31" y="1710.20" width="12.82" height="12.95" fill="#ffffcc"/>
<rect x="882.14" y="1710.20" width="12.82" height="12.95" fill="#fd8b3c"/>
<rect x="893.96" y="1710.20" width="12.82" height="12.95" fill="#fb4c2a"/>
<rect x="905.78" y="1710.20" width="12.82" height="12.95" fill="#e1181c"/>
<rect x="917.61" y="1710.20" width="12.82" height="12.95" fill="#fb4c2a"/>
<rect x="929.43" y="1710.20" width="12.82" height="12.95" fill="#feb24c"/>
<rect x="941.25" y="1710.20" width="23.65" height="12.95" fill="#fd8b3c"/>
<rect x="610.20" y="1722.15" width="12.82" height="12.95" fill="#feb24c"/>
<rect x="622.02" y="1722.15" width="12.82" height="12.95" fill="#fb4c2a"/>
<rect x="633.85" y="1722.15" width="12.82" height="12.95" fill="#feb24c"/>
<rect x="645.67" y="1722.15" width="24.65" height="12.95" fill="#fb4c2a"/>
<rect x="669.32" y="1722.15" width="12.82" height="12.95" fill="#feb24c"/>
<rect x="681.14" y="1722.15" width="24.65" height="12.95" fill="#fb4c2a"/>
<rect x="704.79" y="1722.15" width="36.47" height="12.95" fill="#fd8b3c"/>
<rect x="740.26" y="1722.15" width="12.82" height="12.95" fill="#b90026"/>
<rect x="752.08" y="1722.15" width="12.82" height="12.95" fill="#fb4c2a"/>
<rect x="763.90" y="1722.15" width="24.65" height="12.95" fill="#feb24c"/>
<rect x="787.55" y="1722.15" width="12.82" height="12.95" fill="#b90026"/>
<rect x="799.37" y="1722.15" width="12.82" height="12.95" fill="#ffeda0"/>
<rect x="811.20" y="1722.15" width="12.82" height="12.95" fill="#feb24c"/>
<rect x="823.02" y="1722.15" width="12.82" height="12.95" fill="#fd8b3c"/>
<rect x="834.84" y="1722.15" width="24.65" height="12.95" fill="#e1181c"/>
<rect x="858.49" y="1722.15" width="12.82" height="12.95" fill="#fed976"/>
<rect x="870.31" y="1722.15" width="12.82" height="12.95" fill="#fb4c2a"/>
<rect x="882.14" y="1722.15" width="12.82" height="12.95" fill="#fd8b3c"/>
<rect x="893.96" y="1722.15" width="12.82" height="12.95" fill="#e1181c"/>
<rect x="905.78" y="1722.15" width="12.82" height="12.95" fill="#fed976"/>
<rect x="917.61" y="1722.15" width="24.65" height="12.95" fill="#fd8b3c"/>
<rect x="941.25" y="1722.15" width="12.82" height="12.95" fill="#fb4c2a"/>
<rect x="953.08" y="1722.15" width="11.82" height="12.95" fill="#b90026"/>
<rect x="610.20" y="1734.10" width="12.82" height="12.95" fill="#fd8b3c"/>
<rect x="622.02" y="1734.10" width="12.82" height="12.95" fill="#ffeda0"/>
<rect x="633.85" y="1734.10" width="12.82" height="12.95" fill="#fd8b3c"/>
<rect x="645.67" y="1734.10" width="12.82" height="12.95" fill="#b90026"/>
<rect x="657.49" y="1734.10" width="12.82" height="12.95" fill="#e1181c"/>
<rect x="669.32" y="1734.10" width="12.82" height="12.95" fill="#fd8b3c"/>
<rect x="681.14" y="1734.10" width="12.82" height="12.95" fill="#e1181c"/>
<rect x="692.96" y="1734.10" width="12.82" height="12.95" fill="#feb24c"/>
<rect x="704.79" y="1734.10" width="12.82" height="12.95" fill="#fd8b3c"/>
<rect x="716.61" y="1734.10" width="12.82" height="12.95" fill="#800026"/>
<rect x="728.43" y="1734.10" width="12.82" height="12.95" fill="#e1181c"/>
<rect x="740.26" y="1734.10" width="12.82" height="12.95" fill="#ffeda0"/>
<rect x="752.08" y="1734.10" width="24.65" height="12.95" fill="#feb24c"/>
<rect x="775.73" y="1734.10" width="12.82" height="12.95" fill="#fd8b3c"/>
<rect x="787.55" y="1734.10" width="12.82" height="12.95" fill="#feb24c"/>
<rect x="799.37" y="1734.10" width="12.82" height="12.95" fill="#fb4c2a"/>
<rect x="811.20" y="1734.10" width="12.82" height="12.95" fill="#fd8b3c"/>
<rect x="823.02" y="1734.10" width="12.82" height="12.95" fill="#fb4c2a"/>
<rect x="834.84" y="1734.10" width="12.82" height="12.95" fill="#fd8b3c"/>
<rect x="846.67" y="1734.10" width="12.82" height="12.95" fill="#feb24c"/>
<rect x="858.49" y="1734.10" width="12.82" height="12.95" fill="#fb4c2a"/>
<rect x="870.31" y="1734.10" width="12.82" height="12.95" fill="#feb24c"/>
<rect x="882.14" y="1734.10" width="12.82" height="12.95" fill="#e1181c"/>
<rect x="893.96" y="1734.10" width="12.82" height="12.95" fill="#fb4c2a"/>
<rect x="905.78" y="1734.10" width="12.82" height="12.95" fill="#fd8b3c"/>
<rect x="917.61" y="1734.10" width="24.65" height="12.95" fill="#feb24c"/>
<rect x="941.25" y="1734.10" width="12.82" height="12.95" fill="#fb4c2a"/>
<rect x="953.08" y="1734.10" width="11.82" height="12.95" fill="#feb24c"/>
<rect x="610.20" y="1746.05" width="12.82" height="12.95" fill="#ffffcc"/>
<rect x="622.02" y="1746.05" width="12.82" height="12.95" fill="#fd8b3c"/>
<rect x="633.85" y="1746.05" width="12.82" height="12.95" fill="#fb4c2a"/>
<rect x="645.67" y="1746.05" width="12.82" height="12.95" fill="#feb24c"/>
<rect x="657.49" y="1746.05" width="12.82" height="12.95" fill="#fb4c2a"/>
<rect x="669.32" y="1746.05" width="12.82" height="12.95" fill="#fd8b3c"/>
<rect x="681.14" y="1746.05" width="12.82" height="12.95" fill="#fb4c2a"/>
<rect x="692.96" y="1746.05" width="12.82" height="12.95" fill="#fd8b3c"/>
<rect x="704.79" y="1746.05" width="12.82" height="12.95" fill="#fed976"/>
<rect x="716.61" y="1746.05" width="12.82" height="12.95" fill="#fb4c2a"/>
<rect x="728.43" y="1746.05" width="12.82" height="12.95" fill="#feb24c"/>
<rect x="740.26" y="1746.05" width="12.82" height="12.95" fill="#fb4c2a"/>
<rect x="752.08" y="1746.05" width="12.82" height="12.95" fill="#800026"/>
<rect x="763.90" y="1746.05" width="12.82" height="12.95" fill="#fb4c2a"/>
<rect x="775.73" y="1746.05" width="12.82" height="12.95" fill="#800026"/>
<rect x="787.55" y="1746.05" width="12.82" height="12.95" fill="#feb24c"/>
<rect x="799.37" y="1746.05" width="12.82" height="12.95" fill="#fb4c2a"/>
<rect x="811.20" y="1746.05" width="12.82" height="12.95" fill="#fd8b3c"/>
<rect x="823.02" y="1746.05" width="12.82" height="12.95" fill="#b90026"/>
<rect x="834.84" y="1746.05" width="24.65" height="12.95" fill="#fd8b3c"/>
<rect x="858.49" y="1746.05" width="24.65" height="12.95" fill="#fb4c2a"/>
<rect x="882.14" y="1746.05" width="12.82" height="12.95" fill="#feb24c"/>
<rect x="893.96" y="1746.05" width="12.82" height="12.95" fill="#e1181c"/>
<rect x="905.78" y="1746.05" width="12.82" height="12.95" fill="#fb4c2a"/>
<rect x="917.61" y="1746.05" width="12.82" height="12.95" fill="#feb24c"/>
<rect x="929.43" y="1746.05" width="12.82" height="12.95" fill="#800026"/>
<rect x="941.25" y="1746.05" width="12.82" height="12.95" fill="#feb24c"/>
<rect x="953.08" y="1746.05" width="11.82" height="12.95" fill="#fed976"/>
<rect x="610.20" y="1758.00" width="12.82" height="12.95" fill="#ffeda0"/>
<rect x="622.02" y="1758.00" width="12.82" height="12.95" fill="#fd8b3c"/>
<rect x="633.85" y="1758.00" width="12.82" height="12.95" fill="#fb4c2a"/>
<rect x="645.67" y="1758.00" width="24.65" height="12.95" fill="#feb24c"/>
<rect x="669.32" y="1758.00" width="12.82" height="12.95" fill="#fb4c2a"/>
<rect x="681.14" y="1758.00" width="12.82" height="12.95" fill="#feb24c"/>
<rect x="692.96" y="1758.00" width="12.82" height="12.95" fill="#fed976"/>
<rect x="704.79" y="1758.00" width="12.82" height="12.95" fill="#fb4c2a"/>
<rect x="716.61" y="1758.00" width="12.82" height="12.95" fill="#fd8b3c"/>
<rect x="728.43" y="1758.00" width="12.82" height="12.95" fill="#fed976"/>
<rect x="740.26" y="1758.00" width="12.82" height="12.95" fill="#e1181c"/>
<rect x="752.08" y="1758.00" width="12.82" height="12.95" fill="#fd8b3c"/>
<rect x="763.90" y="1758.00" width="12.82" height="12.95" fill="#fb4c2a"/>
<rect x="775.73" y="1758.00" width="24.65" height="12.95" fill="#feb24c"/>
<rect x="799.37" y="1758.00" width="12.82" height="12.95" fill="#e1181c"/>
<rect x="811.20" y="1758.00" width="12.82" height="12.95" fill="#fd8b3c"/>
<rect x="823.02" y="1758.00" width="12.82" height="12.95" fill="#fed976"/>
<rect x="834.84" y="1758.00" width="12.82" height="12.95" fill="#e1181c"/>
<rect x="846.67" y="1758.00" width="12.82" height="12.95" fill="#fd8b3c"/>
<rect x="858.49" y="1758.00" width="12.82" height="12.95" fill="#fb4c2a"/>
<rect x="870.31" y="1758.00" width="12.82" height="12.95" fill="#feb24c"/>
<rect x="882.14" y="1758.00" width="12.82" height="12.95" fill="#fd8b3c"/>
<rect x="893.96" y="1758.00" width="12.82" height="12.95" fill="#fb4c2a"/>
<rect x="905.78" y="1758.00" width="12.82" height="12.95" fill="#fd8b3c"/>
<rect x="917.61" y="1758.00" width="12.82" height="12.95" fill="#feb24c"/>
<rect x="929.43" y="1758.00" width="12.82" height="12.95" fill="#b90026"/>
<rect x="941.25" y="1758.00" width="12.82" height="12.95" fill="#fd8b3c"/>
<rect x="953.08" y="1758.00" width="11.82" height="12.95" fill="#ffffcc"/>
<rect x="610.20" y="1769.95" width="12.82" height="12.95" fill="#ffffcc"/>
<rect x="622.02" y="1769.95" width="12.82" height="12.95" fill="#ffeda0"/>
<rect x="633.85" y="1769.95" width="12.82" height="12.95" fill="#fb4c2a"/>
<rect x="645.67" y="1769.95" width="12.82" height="12.95" fill="#b90026"/>
<rect x="657.49" y="1769.95" width="12.82" height="12.95" fill="#fed976"/>
<rect x="669.32" y="1769.95" width="12.82" height="12.95" fill="#fd8b3c"/>
<rect x="681.14" y="1769.95" width="12.82" height="12.95" fill="#fb4c2a"/>
<rect x="692.96" y="1769.95" width="12.82" height="12.95" fill="#fd8b3c"/>
<rect x="704.79" y="1769.95" width="12.82" height="12.95" fill="#fb4c2a"/>
<rect x="716.61" y="1769.95" width="12.82" height="12.95" fill="#feb24c"/>
<rect x="728.43" y="1769.95" width="12.82" height="12.95" fill="#e1181c"/>
<rect x="740.26" y="1769.95" width="12.82" height="12.95" fill="#feb24c"/>
<rect x="752.08" y="1769.95" width="12.82" height="12.95" fill="#fb4c2a"/>
<rect x="763.90" y="1769.95" width="12.82" height="12.95" fill="#fd8b3c"/>
<rect x="775.73" y="1769.95" width="12.82" height="12.95" fill="#e1181c"/>
<rect x="787.55" y="1769.95" width="12.82" height="12.95" fill="#fd8b3c"/>
<rect x="799.37" y="1769.95" width="12.82" height="12.95" fill="#feb24c"/>
<rect x="811.20" y="1769.95" width="12.82" height="12.95" fill="#fd8b3c"/>
<rect x="823.02" y="1769.95" width="12.82" height="12.95" fill="#e1181c"/>
<rect x="834.84" y="1769.95" width="24.65" height="12.95" fill="#fd8b3c"/>
<rect x="858.49" y="1769.95" width="12.82" height="12.95" fill="#feb24c"/>
<rect x="870.31" y="1769.95" width="12.82" height="12.95" fill="#fed976"/>
<rect x="882.14" y="1769.95" width="24.65" height="12.95" fill="#fb4c2a"/>
<rect x="905.78" y="1769.95" width="24.65" height="12.95" fill="#fd8b3c"/>
<rect x="929.43" y="1769.95" width="12.82" height="12.95" fill="#feb24c"/>
<rect x="941.25" y="1769.95" width="12.82" height="12.95" fill="#ffeda0"/>
<rect x="953.08" y="1769.95" width="11.82" height="12.95" fill="#ffffcc"/>
<rect x="610.20" y="1781.90" width="24.65" height="12.95" fill="#ffffcc"/>
<rect x="633.85" y="1781.90" width="12.82" height="12.95" fill="#feb24c"/>
<rect x="645.67" y="1781.90" width="12.82" height="12.95" fill="#fd8b3c"/>
<rect x="657.49" y="1781.90" width="24.65" height="12.95" fill="#fb4c2a"/>
<rect x="681.14" y="1781.90" width="12.82" height="12.95" fill="#800026"/>
<rect x="692.96" y="1781.90" width="12.82" height="12.95" fill="#feb24c"/>
<rect x="704.79" y="1781.90" width="36.47" height="12.95" fill="#fd8b3c"/>
<rect x="740.26" y="1781.90" width="12.82" height="12.95" fill="#fb4c2a"/>
<rect x="752.08" y="1781.90" width="12.82" height="12.95" fill="#fed976"/>
<rect x="763.90" y="1781.90" width="24.65" height="12.95" fill="#fb4c2a"/>
<rect x="787.55" y="1781.90" width="12.82" height="12.95" fill="#fed976"/>
<rect x="799.37" y="1781.90" width="12.82" height="12.95" fill="#fb4c2a"/>
<rect x="811.20" y="1781.90" width="12.82" height="12.95" fill="#fd8b3c"/>
<rect x="823.02" y="1781.90" width="12.82" height="12.95" fill="#fb4c2a"/>
<rect x="834.84" y="1781.90" width="24.65" height="12.95" fill="#feb24c"/>
<rect x="858.49" y="1781.90" width="12.82" height="12.95" fill="#fd8b3c"/>
<rect x="870.31" y="1781.90" width="12.82" height="12.95" fill="#b90026"/>
<rect x="882.14" y="1781.90" width="36.47" height="12.95" fill="#fb4c2a"/>
<rect x="917.61" y="1781.90" width="12.82" height="12.95" fill="#fd8b3c"/>
<rect x="929.43" y="1781.90" width="24.65" height="12.95" fill="#fed976"/>
<rect x="953.08" y="1781.90" width="11.82" height="12.95" fill="#ffffcc"/>
<rect x="610.20" y="1793.85" width="36.47" height="12.95" fill="#ffffcc"/>
<rect x="645.67" y="1793.85" width="12.82" height="12.95" fill="#fed976"/>
<rect x="657.49" y="1793.85" width="12.82" height="12.95" fill="#800026"/>
<rect x="669.32" y="1793.85" width="12.82" height="12.95" fill="#fb4c2a"/>
<rect x="681.14" y="1793.85" width="24.65" height="12.95" fill="#feb24c"/>
<rect x="704.79" y="1793.85" width="12.82" height="12.95" fill="#800026"/>
<rect x="716.61" y="1793.85" width="12.82" height="12.95" fill="#fd8b3c"/>
<rect x="728.43" y="1793.85" width="24.65" height="12.95" fill="#e1181c"/>
<rect x="752.08" y="1793.85" width="24.65" height="12.95" fill="#fd8b3c"/>
<rect x="775.73" y="1793.85" width="12.82" height="12.95" fill="#b90026"/>
<rect x="787.55" y="1793.85" width="12.82" height="12.95" fill="#fed976"/>
<rect x="799.37" y="1793.85" width="12.82" height="12.95" fill="#e1181c"/>
<rect x="811.20" y="1793.85" width="12.82" height="12.95" fill="#fb4c2a"/>
<rect x="823.02" y="1793.85" width="12.82" height="12.95" fill="#feb24c"/>
<rect x="834.84" y="1793.85" width="12.82" height="12.95" fill="#800026"/>
<rect x="846.67" y="1793.85" width="12.82" height="12.95" fill="#ffeda0"/>
<rect x="858.49" y="1793.85" width="12.82" height="12.95" fill="#fb4c2a"/>
<rect x="870.31" y="1793.85" width="36.47" height="12.95" fill="#feb24c"/>
<rect x="905.78" y="1793.85" width="12.82" height="12.95" fill="#fb4c2a"/>
<rect x="917.61" y="1793.85" width="12.82" height="12.95" fill="#e1181c"/>
<rect x="929.43" y="1793.85" width="12.82" height="12.95" fill="#fd8b3c"/>
<rect x="941.25" y="1793.85" width="23.65" height="12.95" fill="#ffffcc"/>
<rect x="610.20" y="1805.80" width="36.47" height="12.95" fill="#ffffcc"/>
<rect x="645.67" y="1805.80" width="12.82" height="12.95" fill="#fed976"/>
<rect x="657.49" y="1805.80" width="12.82" height="12.95" fill="#ffeda0"/>
<rect x="669.32" y="1805.80" width="24.65" height="12.95" fill="#fb4c2a"/>
<rect x="692.96" y="1805.80" width="12.82" height="12.95" fill="#fd8b3c"/>
<rect x="704.79" y="1805.80" width="12.82" height="12.95" fill="#feb24c"/>
<rect x="716.61" y="1805.80" width="36.47" height="12.95" fill="#fd8b3c"/>
<rect x="752.08" y="1805.80" width="24.65" height="12.95" fill="#fb4c2a"/>
<rect x="775.73" y="1805.80" width="12.82" height="12.95" fill="#fed976"/>
<rect x="787.55" y="1805.80" width="12.82" height="12.95" fill="#e1181c"/>
<rect x="799.37" y="1805.80" width="12.82" height="12.95" fill="#feb24c"/>
<rect x="811.20" y="1805.80" width="12.82" height="12.95" fill="#e1181c"/>
<rect x="823.02" y="1805.80" width="12.82" height="12.95" fill="#feb24c"/>
<rect x="834.84" y="1805.80" width="12.82" height="12.95" fill="#fb4c2a"/>
<rect x="846.67" y="1805.80" width="12.82" height="12.95" fill="#fd8b3c"/>
<rect x="858.49" y="1805.80" width="12.82" height="12.95" fill="#e1181c"/>
<rect x="870.31" y="1805.80" width="12.82" height="12.95" fill="#fb4c2a"/>
<rect x="882.14" y="1805.80" width="12.82" height="12.95" fill="#feb24c"/>
<rect x="893.96" y="1805.80" width="12.82" height="12.95" fill="#fd8b3c"/>
<rect x="905.78" y="1805.80" width="12.82" height="12.95" fill="#fb4c2a"/>
<rect x="917.61" y="1805.80" width="12.82" height="12.95" fill="#feb24c"/>
<rect x="929.43" y="1805.80" width="35.47" height="12.95" fill="#ffffcc"/>
<rect x="610.20" y="1817.75" width="48.29" height="12.95" fill="#ffffcc"/>
<rect x="657.49" y="1817.75" width="12.82" height="12.95" fill="#fd8b3c"/>
<rect x="669.32" y="1817.75" width="12.82" height="12.95" fill="#feb24c"/>
<rect x="681.14" y="1817.75" width="12.82" height="12.95" fill="#ffeda0"/>
<rect x="692.96" y="1817.75" width="48.29" height="12.95" fill="#fb4c2a"/>
<rect x="740.26" y="1817.75" width="12.82" height="12.95" fill="#feb24c"/>
<rect x="752.08" y="1817.75" width="48.29" height="12.95" fill="#fb4c2a"/>
<rect x="799.37" y="1817.75" width="12.82" height="12.95" fill="#fd8b3c"/>
<rect x="811.20" y="1817.75" width="12.82" height="12.95" fill="#fb4c2a"/>
<rect x="823.02" y="1817.75" width="12.82" height="12.95" fill="#feb24c"/>
<rect x="834.84" y="1817.75" width="12.82" height="12.95" fill="#fd8b3c"/>
<rect x="846.67" y="1817.75" width="12.82" height="12.95" fill="#e1181c"/>
<rect x="858.49" y="1817.75" width="12.82" height="12.95" fill="#feb24c"/>
<rect x="870.31" y="1817.75" width="12.82" height="12.95" fill="#800026"/>
<rect x="882.14" y="1817.75" width="12.82" height="12.95" fill="#fd8b3c"/>
<rect x="893.96" y="1817.75" width="12.82" height="12.95" fill="#feb24c"/>
<rect x="905.78" y="1817.75" width="12.82" height="12.95" fill="#fb4c2a"/>
<rect x="917.61" y="1817.75" width="47.29" height="12.95" fill="#ffffcc"/>
<rect x="610.20" y="1829.70" width="48.29" height="12.95" fill="#ffffcc"/>
<rect x="657.49" y="1829.70" width="12.82" height="12.95" fill="#ffeda0"/>
<rect x="669.32" y="1829.70" width="12.82" height="12.95" fill="#fed976"/>
<rect x="681.14" y="1829.70" width="24.65" height="12.95" fill="#fb4c2a"/>
<rect x="704.79" y="1829.70" width="12.82" height="12.95" fill="#feb24c"/>
<rect x="716.61" y="1829.70" width="12.82" height="12.95" fill="#fb4c2a"/>
<rect x="728.43" y="1829.70" width="12.82" height="12.95" fill="#fd8b3c"/>
<rect x="740.26" y="1829.70" width="12.82" height="12.95" fill="#e1181c"/>
<rect x="752.08" y="1829.70" width="12.82" height="12.95" fill="#feb24c"/>
<rect x="763.90" y="1829.70" width="12.82" height="12.95" fill="#fd8b3c"/>
<rect x="775.73" y="1829.70" width="12.82" height="12.95" fill="#feb24c"/>
<rect x="787.55" y="1829.70" width="24.65" height="12.95" fill="#fb4c2a"/>
<rect x="811.20" y="1829.70" width="12.82" height="12.95" fill="#feb24c"/>
<rect x="823.02" y="1829.70" width="12.82" height="12.95" fill="#b90026"/>
<rect x="834.84" y="1829.70" width="12.82" height="12.95" fill="#fed976"/>
<rect x="846.67" y="1829.70" width="12.82" height="12.95" fill="#e1181c"/>
<rect x="858.49" y="1829.70" width="12.82" height="12.95" fill="#feb24c"/>
<rect x="870.31" y="1829.70" width="36.47" height="12.95" fill="#fd8b3c"/>
<rect x="905.78" y="1829.70" width="59.12" height="12.95" fill="#ffffcc"/>
<rect x="610.20" y="1841.65" width="71.94" height="12.95" fill="#ffffcc"/>
<rect x="681.14" y="1841.65" width="24.65" height="12.95" fill="#fed976"/>
<rect x="704.79" y="1841.65" width="12.82" height="12.95" fill="#fb4c2a"/>
<rect x="716.61" y="1841.65" width="12.82" height="12.95" fill="#fed976"/>
<rect x="728.43" y="1841.65" width="12.82" height="12.95" fill="#fb4c2a"/>
<rect x="740.26" y="1841.65" width="12.82" height="12.95" fill="#e1181c"/>
<rect x="752.08" y="1841.65" width="12.82" height="12.95" fill="#fd8b3c"/>
<rect x="763.90" y="1841.65" width="12.82" height="12.95" fill="#feb24c"/>
<rect x="775.73" y="1841.65" width="24.65" height="12.95" fill="#fb4c2a"/>
<rect x="799.37" y="1841.65" width="12.82" height="12.95" fill="#feb24c"/>
<rect x="811.20" y="1841.65" width="24.65" height="12.95" fill="#fd8b3c"/>
<rect x="834.84" y="1841.65" width="12.82" height="12.95" fill="#b90026"/>
<rect x="846.67" y="1841.65" width="12.82" height="12.95" fill="#feb24c"/>
<rect x="858.49" y="1841.65" width="12.82" height="12.95" fill="#e1181c"/>
<rect x="870.31" y="1841.65" width="12.82" height="12.95" fill="#feb24c"/>
<rect x="882.14" y="1841.65" width="12.82" height="12.95" fill="#fed976"/>
<rect x="893.96" y="1841.65" width="70.94" height="12.95" fill="#ffffcc"/>
<rect x="610.20" y="1853.60" width="83.76" height="12.95" fill="#ffffcc"/>
<rect x="692.96" y="1853.60" width="24.65" height="12.95" fill="#ffeda0"/>
<rect x="716.61" y="1853.60" width="12.82" height="12.95" fill="#fb4c2a"/>
<rect x="728.43" y="1853.60" width="24.65" height="12.95" fill="#feb24c"/>
<rect x="752.08" y="1853.60" width="24.65" height="12.95" fill="#fd8b3c"/>
<rect x="775.73" y="1853.60" width="12.82" height="12.95" fill="#fb4c2a"/>
<rect x="787.55" y="1853.60" width="12.82" height="12.95" fill="#e1181c"/>
<rect x="799.37" y="1853.60" width="24.65" height="12.95" fill="#feb24c"/>
<rect x="823.02" y="1853.60" width="12.82" height="12.95" fill="#b90026"/>
<rect x="834.84" y="1853.60" width="24.65" height="12.95" fill="#fed976"/>
<rect x="858.49" y="1853.60" width="12.82" height="12.95" fill="#feb24c"/>
<rect x="870.31" y="1853.60" width="94.59" height="12.95" fill="#ffffcc"/>
<rect x="610.20" y="1865.55" width="119.23" height="11.95" fill="#ffffcc"/>
<rect x="728.43" y="1865.55" width="12.82" height="11.95" fill="#ffeda0"/>
<rect x="740.26" y="1865.55" width="12.82" height="11.95" fill="#feb24c"/>
<rect x="752.08" y="1865.55" width="12.82" height="11.95" fill="#fd8b3c"/>
<rect x="763.90" y="1865.55" width="24.65" height="11.95" fill="#feb24c"/>
<rect x="787.55" y="1865.55" width="12.82" height="11.95" fill="#fed976"/>
<rect x="799.37" y="1865.55" width="12.82" height="11.95" fill="#feb24c"/>
<rect x="811.20" y="1865.55" width="12.82" height="11.95" fill="#fb4c2a"/>
<rect x="823.02" y="1865.55" width="12.82" height="11.95" fill="#fed976"/>
<rect x="834.84" y="1865.55" width="12.82" height="11.95" fill="#ffeda0"/>
<rect x="846.67" y="1865.55" width="118.23" height="11.95" fill="#ffffcc"/>
<rect x="610.20" y="1519.00" width="354.70" height="358.50" fill="none" stroke="#000" stroke-width="5.3"/>
<line x1="621.60" y1="1877.50" x2="621.60" y2="1883.80" stroke="#000" stroke-width="1.6"/>
<text x="621.60" y="1903.20" font-size="18" text-anchor="middle" >−40</text>
<line x1="705.50" y1="1877.50" x2="705.50" y2="1883.80" stroke="#000" stroke-width="1.6"/>
<text x="705.50" y="1903.20" font-size="18" text-anchor="middle" >−20</text>
<line x1="789.40" y1="1877.50" x2="789.40" y2="1883.80" stroke="#000" stroke-width="1.6"/>
<text x="789.40" y="1903.20" font-size="18" text-anchor="middle" >0</text>
<line x1="873.30" y1="1877.50" x2="873.30" y2="1883.80" stroke="#000" stroke-width="1.6"/>
<text x="873.30" y="1903.20" font-size="18" text-anchor="middle" >20</text>
<line x1="957.20" y1="1877.50" x2="957.20" y2="1883.80" stroke="#000" stroke-width="1.6"/>
<text x="957.20" y="1903.20" font-size="18" text-anchor="middle" >40</text>
<line x1="610.20" y1="1530.10" x2="603.90" y2="1530.10" stroke="#000" stroke-width="1.6"/>
<text x="597.60" y="1536.70" font-size="18" text-anchor="end" >40</text>
<line x1="610.20" y1="1572.10" x2="603.90" y2="1572.10" stroke="#000" stroke-width="1.6"/>
<text x="597.60" y="1578.70" font-size="18" text-anchor="end" >30</text>
<line x1="610.20" y1="1614.10" x2="603.90" y2="1614.10" stroke="#000" stroke-width="1.6"/>
<text x="597.60" y="1620.70" font-size="18" text-anchor="end" >20</text>
<line x1="610.20" y1="1656.10" x2="603.90" y2="1656.10" stroke="#000" stroke-width="1.6"/>
<text x="597.60" y="1662.70" font-size="18" text-anchor="end" >10</text>
<line x1="610.20" y1="1698.10" x2="603.90" y2="1698.10" stroke="#000" stroke-width="1.6"/>
<text x="597.60" y="1704.70" font-size="18" text-anchor="end" >0</text>
<line x1="610.20" y1="1740.10" x2="603.90" y2="1740.10" stroke="#000" stroke-width="1.6"/>
<text x="597.60" y="1746.70" font-size="18" text-anchor="end" >−10</text>
<line x1="610.20" y1="1782.10" x2="603.90" y2="1782.10" stroke="#000" stroke-width="1.6"/>
<text x="597.60" y="1788.70" font-size="18" text-anchor="end" >−20</text>
<line x1="610.20" y1="1824.10" x2="603.90" y2="1824.10" stroke="#000" stroke-width="1.6"/>
<text x="597.60" y="1830.70" font-size="18" text-anchor="end" >−30</text>
<line x1="610.20" y1="1866.10" x2="603.90" y2="1866.10" stroke="#000" stroke-width="1.6"/>
<text x="597.60" y="1872.70" font-size="18" text-anchor="end" >−40</text>
<text x="787.55" y="1508.60" font-size="22.7" text-anchor="middle" >b=N, No. of matrices=3</text>
<text x="787.55" y="1931.30" font-size="22.7" text-anchor="middle" >Re z</text>
<rect x="987.40" y="1460.00" width="23.90" height="476.00" fill="url(#g)" stroke="#000" stroke-width="5.3"/>
<line x1="1011.30" y1="1936.00" x2="1017.60" y2="1936.00" stroke="#000" stroke-width="1.6"/>
<text x="1023.90" y="1942.60" font-size="18" >0.0</text>
<line x1="1011.30" y1="1846.75" x2="1017.60" y2="1846.75" stroke="#000" stroke-width="1.6"/>
<text x="1023.90" y="1853.35" font-size="18" >0.5</text>
<line x1="1011.30" y1="1757.50" x2="1017.60" y2="1757.50" stroke="#000" stroke-width="1.6"/>
<text x="1023.90" y="1764.10" font-size="18" >1.0</text>
<line x1="1011.30" y1="1668.25" x2="1017.60" y2="1668.25" stroke="#000" stroke-width="1.6"/>
<text x="1023.90" y="1674.85" font-size="18" >1.5</text>
<line x1="1011.30" y1="1579.00" x2="1017.60" y2="1579.00" stroke="#000" stroke-width="1.6"/>
<text x="1023.90" y="1585.60" font-size="18" >2.0</text>
<line x1="1011.30" y1="1489.76" x2="1017.60" y2="1489.76" stroke="#000" stroke-width="1.6"/>
<text x="1023.90" y="1496.36" font-size="18" >2.5</text>
</g>
</g>
</svg>
</body></html>
